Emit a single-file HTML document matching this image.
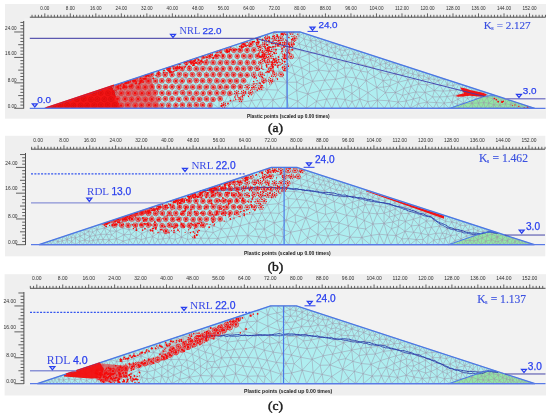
<!DOCTYPE html>
<html><head><meta charset="utf-8"><style>
html,body{margin:0;padding:0;background:#fff;}
svg{display:block;}
</style></head><body>
<svg width="550" height="416" viewBox="0 0 550 416">

<rect width="550" height="416" fill="#ffffff"/>
<rect x="5" y="4" width="541" height="114.7" fill="#efefef"/>
<rect x="24.2" y="18.2" width="521.8" height="92.1" fill="#f2f2f2"/>
<g font-family='"Liberation Sans", "DejaVu Sans", sans-serif' font-size="4.6" fill="#303030"><line x1="29.8" y1="17.2" x2="545.5" y2="17.2" stroke="#505050" stroke-width="1"/><path d="M32.04 17.2v-2.4 M35.23 17.2v-2.4 M38.42 17.2v-2.4 M41.61 17.2v-2.4 M44.8 17.2v-3.8 M47.99 17.2v-2.4 M51.18 17.2v-2.4 M54.37 17.2v-2.4 M57.56 17.2v-2.4 M60.74 17.2v-2.4 M63.93 17.2v-2.4 M67.12 17.2v-2.4 M70.31 17.2v-3.8 M73.5 17.2v-2.4 M76.69 17.2v-2.4 M79.88 17.2v-2.4 M83.07 17.2v-2.4 M86.26 17.2v-2.4 M89.45 17.2v-2.4 M92.63 17.2v-2.4 M95.82 17.2v-3.8 M99.01 17.2v-2.4 M102.2 17.2v-2.4 M105.39 17.2v-2.4 M108.58 17.2v-2.4 M111.77 17.2v-2.4 M114.96 17.2v-2.4 M118.15 17.2v-2.4 M121.34 17.2v-3.8 M124.52 17.2v-2.4 M127.71 17.2v-2.4 M130.9 17.2v-2.4 M134.09 17.2v-2.4 M137.28 17.2v-2.4 M140.47 17.2v-2.4 M143.66 17.2v-2.4 M146.85 17.2v-3.8 M150.04 17.2v-2.4 M153.23 17.2v-2.4 M156.42 17.2v-2.4 M159.6 17.2v-2.4 M162.79 17.2v-2.4 M165.98 17.2v-2.4 M169.17 17.2v-2.4 M172.36 17.2v-3.8 M175.55 17.2v-2.4 M178.74 17.2v-2.4 M181.93 17.2v-2.4 M185.12 17.2v-2.4 M188.31 17.2v-2.4 M191.49 17.2v-2.4 M194.68 17.2v-2.4 M197.87 17.2v-3.8 M201.06 17.2v-2.4 M204.25 17.2v-2.4 M207.44 17.2v-2.4 M210.63 17.2v-2.4 M213.82 17.2v-2.4 M217.01 17.2v-2.4 M220.19 17.2v-2.4 M223.38 17.2v-3.8 M226.57 17.2v-2.4 M229.76 17.2v-2.4 M232.95 17.2v-2.4 M236.14 17.2v-2.4 M239.33 17.2v-2.4 M242.52 17.2v-2.4 M245.71 17.2v-2.4 M248.9 17.2v-3.8 M252.08 17.2v-2.4 M255.27 17.2v-2.4 M258.46 17.2v-2.4 M261.65 17.2v-2.4 M264.84 17.2v-2.4 M268.03 17.2v-2.4 M271.22 17.2v-2.4 M274.41 17.2v-3.8 M277.6 17.2v-2.4 M280.79 17.2v-2.4 M283.98 17.2v-2.4 M287.16 17.2v-2.4 M290.35 17.2v-2.4 M293.54 17.2v-2.4 M296.73 17.2v-2.4 M299.92 17.2v-3.8 M303.11 17.2v-2.4 M306.3 17.2v-2.4 M309.49 17.2v-2.4 M312.68 17.2v-2.4 M315.87 17.2v-2.4 M319.05 17.2v-2.4 M322.24 17.2v-2.4 M325.43 17.2v-3.8 M328.62 17.2v-2.4 M331.81 17.2v-2.4 M335 17.2v-2.4 M338.19 17.2v-2.4 M341.38 17.2v-2.4 M344.57 17.2v-2.4 M347.75 17.2v-2.4 M350.94 17.2v-3.8 M354.13 17.2v-2.4 M357.32 17.2v-2.4 M360.51 17.2v-2.4 M363.7 17.2v-2.4 M366.89 17.2v-2.4 M370.08 17.2v-2.4 M373.27 17.2v-2.4 M376.46 17.2v-3.8 M379.65 17.2v-2.4 M382.83 17.2v-2.4 M386.02 17.2v-2.4 M389.21 17.2v-2.4 M392.4 17.2v-2.4 M395.59 17.2v-2.4 M398.78 17.2v-2.4 M401.97 17.2v-3.8 M405.16 17.2v-2.4 M408.35 17.2v-2.4 M411.54 17.2v-2.4 M414.72 17.2v-2.4 M417.91 17.2v-2.4 M421.1 17.2v-2.4 M424.29 17.2v-2.4 M427.48 17.2v-3.8 M430.67 17.2v-2.4 M433.86 17.2v-2.4 M437.05 17.2v-2.4 M440.24 17.2v-2.4 M443.43 17.2v-2.4 M446.61 17.2v-2.4 M449.8 17.2v-2.4 M452.99 17.2v-3.8 M456.18 17.2v-2.4 M459.37 17.2v-2.4 M462.56 17.2v-2.4 M465.75 17.2v-2.4 M468.94 17.2v-2.4 M472.13 17.2v-2.4 M475.31 17.2v-2.4 M478.5 17.2v-3.8 M481.69 17.2v-2.4 M484.88 17.2v-2.4 M488.07 17.2v-2.4 M491.26 17.2v-2.4 M494.45 17.2v-2.4 M497.64 17.2v-2.4 M500.83 17.2v-2.4 M504.02 17.2v-3.8 M507.21 17.2v-2.4 M510.39 17.2v-2.4 M513.58 17.2v-2.4 M516.77 17.2v-2.4 M519.96 17.2v-2.4 M523.15 17.2v-2.4 M526.34 17.2v-2.4 M529.53 17.2v-3.8 M532.72 17.2v-2.4 M535.91 17.2v-2.4 M539.1 17.2v-2.4 M542.28 17.2v-2.4 M545.47 17.2v-2.4" stroke="#505050" stroke-width="0.9" fill="none"/><text x="44.8" y="10.3" text-anchor="middle">0.00</text><text x="70.31" y="10.3" text-anchor="middle">8.00</text><text x="95.82" y="10.3" text-anchor="middle">16.00</text><text x="121.34" y="10.3" text-anchor="middle">24.00</text><text x="146.85" y="10.3" text-anchor="middle">32.00</text><text x="172.36" y="10.3" text-anchor="middle">40.00</text><text x="197.87" y="10.3" text-anchor="middle">48.00</text><text x="223.38" y="10.3" text-anchor="middle">56.00</text><text x="248.9" y="10.3" text-anchor="middle">64.00</text><text x="274.41" y="10.3" text-anchor="middle">72.00</text><text x="299.92" y="10.3" text-anchor="middle">80.00</text><text x="325.43" y="10.3" text-anchor="middle">88.00</text><text x="350.94" y="10.3" text-anchor="middle">96.00</text><text x="376.46" y="10.3" text-anchor="middle">104.00</text><text x="401.97" y="10.3" text-anchor="middle">112.00</text><text x="427.48" y="10.3" text-anchor="middle">120.00</text><text x="452.99" y="10.3" text-anchor="middle">128.00</text><text x="478.5" y="10.3" text-anchor="middle">136.00</text><text x="504.02" y="10.3" text-anchor="middle">144.00</text><text x="529.53" y="10.3" text-anchor="middle">152.00</text><line x1="23.7" y1="21" x2="23.7" y2="108.6" stroke="#505050" stroke-width="1"/><path d="M23.7 108.3h-9.5 M23.7 105.12h-3.3 M23.7 101.94h-3.3 M23.7 98.76h-3.3 M23.7 95.58h-5.5 M23.7 92.4h-3.3 M23.7 89.22h-3.3 M23.7 86.04h-3.3 M23.7 82.86h-9.5 M23.7 79.68h-3.3 M23.7 76.5h-3.3 M23.7 73.32h-3.3 M23.7 70.14h-5.5 M23.7 66.96h-3.3 M23.7 63.78h-3.3 M23.7 60.6h-3.3 M23.7 57.42h-9.5 M23.7 54.24h-3.3 M23.7 51.06h-3.3 M23.7 47.88h-3.3 M23.7 44.7h-5.5 M23.7 41.52h-3.3 M23.7 38.34h-3.3 M23.7 35.16h-3.3 M23.7 31.98h-9.5 M23.7 28.8h-3.3 M23.7 25.62h-3.3 M23.7 22.44h-3.3" stroke="#505050" stroke-width="0.9" fill="none"/><text x="16.6" y="107.66" text-anchor="end">0.00</text><text x="16.6" y="82.26" text-anchor="end">8.00</text><text x="16.6" y="54.86" text-anchor="end">16.00</text><text x="16.6" y="29.86" text-anchor="end">24.00</text></g>
<text x="288.4" y="117.6" font-family='"Liberation Sans", "DejaVu Sans", sans-serif' font-weight="bold" font-size="4.82" fill="#202020" text-anchor="middle">Plastic points (scaled up 0.00 times)</text>
<text x="275.5" y="132" font-family='"Liberation Serif", "DejaVu Serif", serif' font-size="13.5" fill="#1a1a1a" stroke="#1a1a1a" stroke-width="0.45" text-anchor="middle">(a)</text>
<clipPath id="dama"><polygon points="44.7,108.3 274.38,31.98 299.9,31.98 534.68,108.3"/></clipPath>
<polygon points="44.7,108.3 274.38,31.98 299.9,31.98 534.68,108.3" fill="#aeeef0"/>
<polygon points="449.83,108.3 484.28,96.38 489.7,95.74 495.77,95.83 534.68,108.3" fill="#92e6a6"/>
<path d="M95.1 100.1L98.8 104.5M119.4 101.8L119.7 94.5M68.6 100.4L71.9 99.3M222.2 49.3L229.0 47.1M168.1 108.3L169.9 101.8M198.5 69.3L202.5 62.7M229.0 47.1L236.0 44.7M447.3 84.9L443.1 91.1M372.2 55.5L375.8 56.6M287.3 43.8L292.7 49.4M375.8 56.6L379.4 57.8M491.4 94.2L495.0 95.4M380.2 64.5L380.3 72.2M495.0 95.4L498.7 96.6M241.8 75.7L234.7 79.9M310.7 40.7L316.1 45.4M174.0 108.3L176.6 99.0M186.1 108.3L181.7 103.5M325.2 40.2L320.5 42.4M463.6 108.3L458.9 108.3M236.8 94.1L241.4 102.1M197.2 88.4L193.9 78.9M47.5 107.4L48.7 108.3M273.0 99.9L267.0 89.6M233.5 108.3L226.2 108.3M214.2 76.6L219.1 81.6M282.7 50.0L273.2 48.4M413.3 99.0L406.2 101.0M180.0 108.3L181.7 103.5M332.3 65.2L329.1 71.4M373.1 67.6L367.7 72.2M64.7 108.3L61.3 108.3M299.0 58.1L309.6 63.3M210.3 93.6L210.4 84.1M483.8 102.6L478.6 103.0M402.7 75.0L404.8 70.3M61.3 108.3L58.1 108.3M109.4 86.8L107.4 92.4M215.9 57.2L222.5 60.8M406.2 101.0L398.1 102.0M359.8 99.0L359.2 87.9M337.7 70.6L335.5 79.4M273.0 99.9L277.9 90.1M408.1 72.7L404.8 70.3M106.3 103.4L109.8 98.0M282.7 50.0L287.4 57.6M411.9 68.4L412.9 74.0M303.2 77.2L309.5 71.8M304.1 39.1L306.0 46.1M344.8 50.5L339.8 49.9M375.6 61.4L380.2 64.5M463.6 103.4L463.0 96.4M307.9 94.0L296.6 90.6M274.4 32.0L280.0 40.5M363.0 57.7L358.2 63.4M346.0 61.5L344.1 67.9M131.6 79.4L132.7 84.0M407.9 79.9L403.9 88.4M335.5 47.2L334.8 53.4M515.6 102.1L518.7 103.1M156.8 90.9L158.8 100.1M433.4 108.3L427.9 108.3M192.4 108.3L186.1 108.3M389.3 65.3L385.7 63.4M306.0 46.1L309.0 53.9M186.1 108.3L180.0 108.3M78.7 97.0L78.3 100.8M236.8 94.1L240.1 85.8M210.4 84.1L216.5 89.1M370.5 108.3L367.9 101.6M515.6 102.1L514.1 108.3M151.5 103.4L158.8 100.1M510.8 104.6L505.5 103.8M352.1 101.5L345.1 99.5M209.3 61.9L216.4 64.5M370.4 59.9L373.1 67.6M330.3 58.5L325.4 63.3M246.2 57.7L253.3 53.9M418.5 83.9L411.0 86.5M221.6 71.4L228.6 65.1M458.9 83.7L456.1 89.9M354.0 53.8L348.0 55.0M452.0 102.1L447.1 96.6M312.7 81.3L324.7 80.2M75.3 98.1L78.7 97.0M250.5 39.9L256.2 46.6M243.2 42.4L250.5 39.9M354.0 53.8L352.3 59.9M383.0 59.0L386.6 60.2M439.8 96.9L447.1 96.6M338.2 62.1L344.1 67.9M170.5 80.5L176.2 82.4M334.8 53.4L330.3 58.5M326.7 44.9L320.5 42.4M165.2 87.4L170.5 80.5M298.2 32.0L298.8 36.2M298.8 36.2L299.2 43.9M391.6 69.0L385.6 68.5M325.4 63.3L332.3 65.2M121.0 108.3L119.4 101.8M376.7 87.4L383.5 87.1M236.8 94.1L245.8 93.3M361.3 52.0L358.6 54.6M427.1 102.1L418.3 103.7M136.5 88.2L132.7 84.0M190.2 59.9L189.9 70.5M410.3 108.3L406.2 101.0M461.9 89.6L456.1 89.9M146.1 74.6L146.1 80.9M375.8 56.6L370.4 59.9M100.7 99.2L101.4 94.2M316.6 101.2L326.5 99.1M97.2 90.9L101.2 89.5M380.2 64.5L385.6 68.5M125.5 104.5L125.5 98.0M252.5 75.9L260.9 75.7M325.4 63.3L317.5 59.6M343.3 46.1L339.8 49.9M281.8 32.0L288.1 32.0M342.7 88.7L335.5 79.4M316.1 45.4L311.8 47.7M288.1 32.0L293.5 32.0M117.9 84.0L114.4 90.3M404.7 66.0L408.3 67.2M408.3 67.2L411.9 68.4M170.3 94.2L176.6 99.0M363.0 57.7L358.6 54.6M521.7 104.1L524.6 105.0M169.9 101.8L170.3 94.2M272.0 38.9L264.8 43.9M264.2 108.3L273.0 99.9M524.6 105.0L527.5 106.0M351.7 68.2L345.8 76.8M280.6 108.3L272.3 108.3M318.0 37.9L320.5 42.4M241.8 75.7L240.1 85.8M216.4 64.5L212.4 69.8M416.3 108.3L410.3 108.3M86.6 108.3L82.7 108.3M174.0 108.3L168.1 108.3M184.6 95.5L188.8 87.1M74.7 103.7L69.2 104.3M467.6 92.3L472.7 91.5M266.2 80.4L267.0 89.6M101.2 89.5L107.4 92.4M388.9 100.8L377.5 100.1M318.7 70.0L324.7 80.2M107.4 92.4L101.4 94.2M107.3 108.3L106.3 103.4M299.0 58.1L301.5 67.9M485.2 108.3L483.8 102.6M75.3 108.3L79.2 104.7M461.9 89.6L463.0 96.4M331.1 89.2L324.7 80.2M106.3 103.4L113.1 102.9M132.0 90.8L132.7 84.0M151.5 85.2L156.8 90.9M314.4 36.7L315.7 40.6M173.8 86.9L170.3 94.2M416.3 108.3L418.3 103.7M125.5 98.0L123.8 92.3M107.4 92.4L114.4 90.3M370.4 59.9L375.6 61.4M216.5 89.1L219.0 97.0M385.6 68.5L387.8 74.3M414.1 79.1L411.0 86.5M136.3 77.9L139.9 83.3M216.4 64.5L215.9 57.2M222.2 49.3L215.9 57.2M162.4 108.3L158.8 100.1M192.8 95.8L201.8 98.7M476.6 94.2L472.7 91.5M207.1 75.1L210.4 84.1M232.0 86.8L236.8 94.1M363.2 108.3L359.8 99.0M178.2 77.2L171.6 72.8M201.8 80.9L204.1 89.3M237.5 63.9L238.5 51.6M274.5 81.0L286.5 82.3M130.6 108.3L125.5 104.5M286.5 82.3L296.7 82.2M351.5 84.9L345.8 76.8M263.0 56.4L264.8 43.9M472.1 96.5L472.0 103.2M105.2 88.2L109.4 86.8M293.2 40.6L287.4 37.0M331.3 48.0L335.5 47.2M255.5 91.8L267.0 89.6M355.9 78.0L351.5 84.9M480.6 90.7L484.2 91.9M141.1 99.8L145.8 101.3M415.5 69.6L419.2 70.7M321.8 48.5L323.4 55.5M481.1 108.3L476.9 108.3M530.2 106.9L532.9 107.7M264.2 108.3L256.2 108.3M151.7 79.1L157.7 83.5M515.6 102.1L517.3 108.3M404.1 108.3L397.8 108.3M363.2 108.3L367.9 101.6M201.8 98.7L204.1 89.3M310.7 40.7L311.8 47.7M205.9 68.0L209.3 61.9M79.0 108.3L75.3 108.3M420.0 97.4L413.3 99.0M247.9 67.0L246.2 57.7M518.7 103.1L517.3 108.3M109.8 98.0L111.7 94.5M311.8 47.7L309.0 53.9M398.1 102.0L388.9 100.8M483.8 102.6L487.3 97.1M387.8 74.3L391.1 79.6M198.9 108.3L201.8 98.7M256.2 46.6L264.8 43.9M476.9 108.3L478.6 103.0M367.7 72.2L366.1 80.6M98.8 104.5L92.7 104.4M136.3 77.9L141.2 76.2M258.0 37.4L256.2 46.6M136.4 101.8L137.6 94.3M423.8 76.0L423.0 80.0M509.1 100.0L505.5 103.8M354.1 49.6L354.0 53.8M146.1 80.9L151.7 79.1M491.4 94.2L493.3 98.9M301.5 67.9L309.5 71.8M193.9 78.9L189.9 70.5M337.7 70.6L345.8 76.8M56.1 104.5L54.9 108.3M277.9 90.1L267.0 89.6M173.8 86.9L176.2 82.4M326.7 44.9L327.9 51.4M400.9 69.7L395.7 74.0M280.6 108.3L273.0 99.9M375.8 56.6L375.6 61.4M100.7 99.2L105.2 97.5M418.5 83.9L424.9 92.4M348.0 108.3L345.1 99.5M299.9 32.0L298.8 36.2M212.2 108.3L205.5 108.3M404.7 66.0L400.9 69.7M54.9 108.3L51.7 108.3M210.4 84.1L214.2 76.6M125.7 108.3L121.0 108.3M437.2 76.6L434.1 79.4M210.3 93.6L219.0 97.0M481.2 96.9L476.1 98.9M491.4 94.2L487.3 97.1M89.6 93.4L91.7 96.1M418.5 83.9L423.0 80.0M161.7 69.4L164.1 74.5M496.8 108.3L499.9 105.2M390.2 61.3L389.3 65.3M352.3 59.9L346.0 61.5M363.0 57.7L365.3 65.3M395.4 92.5L385.4 92.7M456.1 89.9L450.0 90.7M255.5 91.8L258.5 83.2M62.2 102.5L65.3 101.4M370.5 108.3L377.5 100.1M82.7 108.3L79.2 104.7M215.5 51.5L222.2 49.3M145.9 108.3L151.5 103.4M368.6 54.3L372.2 55.5M287.3 43.8L282.7 50.0M452.0 102.1L444.2 103.1M398.3 82.2L395.4 92.5M136.4 101.8L141.1 99.8M107.4 92.4L105.2 97.5M178.5 63.9L182.9 71.1M276.5 59.7L283.8 64.6M298.8 36.2L293.2 40.6M280.0 40.5L282.7 50.0M229.7 56.4L237.5 63.9M209.0 53.7L215.9 57.2M395.4 92.5L388.9 100.8M380.3 72.2L383.1 80.7M131.7 97.0L130.9 103.0M228.6 65.1L237.5 63.9M215.5 51.5L215.9 57.2M345.8 76.8L342.7 88.7M268.5 70.4L274.5 81.0M82.2 95.8L85.9 94.6M207.1 75.1L212.4 69.8M481.1 108.3L483.8 102.6M85.9 94.6L89.6 93.4M178.2 77.2L176.2 82.4M258.0 37.4L265.6 34.9M361.3 52.0L363.0 57.7M265.6 34.9L273.4 32.3M286.8 71.2L283.8 64.6M390.2 61.3L393.9 62.5M318.0 37.9L315.7 40.6M393.9 62.5L397.5 63.7M410.3 108.3L418.3 103.7M377.5 100.1L368.0 92.6M101.4 94.2L105.2 97.5M512.4 101.0L515.6 102.1M316.8 51.9L309.0 53.9M101.4 94.2L96.6 95.5M438.8 108.3L433.4 108.3M318.7 70.0L329.1 71.4M484.2 91.9L481.2 96.9M198.9 108.3L192.4 108.3M181.1 84.7L186.3 78.1M389.6 86.0L385.4 92.7M427.1 102.1L420.0 97.4M514.1 108.3L510.8 104.6M165.3 98.5L164.8 103.3M197.2 88.4L201.8 98.7M48.7 108.3L45.7 108.3M330.3 58.5L323.4 55.5M237.5 63.9L247.9 67.0M433.4 108.3L427.1 102.1M214.2 76.6L221.6 71.4M434.1 79.4L428.7 78.7M293.2 40.6L299.2 43.9M216.4 64.5L222.5 60.8M222.2 49.3L222.5 60.8M397.5 63.7L396.8 67.4M303.5 85.3L296.6 90.6M126.4 87.4L132.0 90.8M306.4 108.3L316.6 101.2M287.3 43.8L280.0 40.5M348.0 55.0L346.0 61.5M62.2 102.5L64.7 108.3M472.1 96.5L476.1 98.9M162.4 108.3L156.8 108.3M182.9 71.1L185.4 65.7M438.4 80.7L433.6 83.8M202.6 55.8L209.3 61.9M188.8 87.1L197.2 88.4M463.0 96.4L467.6 98.5M189.9 70.5L198.5 69.3M385.4 92.7L377.5 100.1M247.9 67.0L252.5 75.9M518.7 103.1L520.4 108.3M351.7 68.2L355.9 78.0M241.8 75.7L247.9 67.0M210.3 93.6L211.2 102.4M339.8 49.9L334.8 53.4M198.9 108.3L194.9 102.7M484.2 91.9L487.3 97.1M87.6 105.0L89.4 100.2M156.8 90.9L151.2 96.3M132.0 90.8L131.7 97.0M504.0 108.3L499.9 105.2M400.9 69.7L402.7 75.0M89.6 93.4L93.3 92.1M509.1 100.0L510.8 104.6M304.1 39.1L299.2 43.9M384.5 108.3L377.5 100.1M247.9 67.0L257.8 67.7M257.8 67.7L268.5 70.4M93.3 92.1L97.2 90.9M273.4 32.3L274.4 32.0M505.5 103.8L501.5 100.8M357.7 50.8L354.0 53.8M286.3 97.2L297.7 101.1M274.4 32.0L281.8 32.0M397.5 63.7L401.1 64.9M125.5 98.0L127.7 93.2M401.1 64.9L404.7 66.0M495.0 95.4L493.3 98.9M151.5 103.4L151.2 96.3M366.1 80.6L359.2 87.9M426.9 85.1L434.3 90.5M316.8 51.9L317.5 59.6M518.7 103.1L521.7 104.1M59.1 103.5L58.1 108.3M315.7 40.6L316.1 45.4M71.9 99.3L74.7 103.7M427.9 108.3L422.2 108.3M402.7 75.0L407.9 79.9M408.6 93.6L411.0 86.5M157.4 77.2L164.1 74.5M458.1 99.3L452.0 102.1M95.1 100.1L96.6 95.5M341.8 55.6L338.2 62.1M178.2 77.2L186.3 78.1M408.1 72.7L407.9 79.9M458.9 108.3L457.3 104.2M180.0 108.3L174.0 108.3M468.2 108.3L463.6 103.4M286.5 82.3L286.3 97.2M93.3 92.1L91.7 96.1M247.9 67.0L253.5 60.6M167.2 67.6L164.1 74.5M393.9 62.5L389.3 65.3M260.9 75.7L266.2 80.4M327.9 51.4L330.3 58.5M328.8 41.4L326.7 44.9M117.9 84.0L122.4 82.5M82.7 108.3L83.1 100.8M344.1 67.9L337.7 70.6M303.5 33.2L307.1 34.3M391.1 79.6L383.1 80.7M412.9 74.0L407.9 79.9M303.2 77.2L294.4 74.2M123.8 92.3L127.7 93.2M358.2 63.4L357.1 58.0M422.8 71.9L426.4 73.1M314.4 36.7L310.7 40.7M426.4 73.1L430.0 74.3M439.8 96.9L434.3 90.5M534.7 108.3L532.0 108.3M178.4 91.7L181.1 84.7M165.2 87.4L173.8 86.9M532.0 108.3L529.2 108.3M391.2 108.3L384.5 108.3M334.8 53.4L338.2 62.1M384.5 108.3L377.6 108.3M456.1 89.9L453.7 95.5M145.9 108.3L140.7 108.3M368.0 92.6L359.8 99.0M224.8 101.9L228.2 94.9M231.9 72.5L227.3 79.7M341.8 55.6L346.0 61.5M210.4 84.1L219.1 81.6M256.2 108.3L261.3 99.5M472.0 103.2L467.6 98.5M252.5 75.9L257.8 67.7M338.2 62.1L332.3 65.2M364.9 53.1L363.0 57.7M323.6 108.3L316.6 101.2M472.0 103.2L463.6 103.4M436.4 102.6L439.8 96.9M82.7 108.3L87.6 105.0M281.8 32.0L287.4 37.0M330.3 58.5L338.2 62.1M126.4 87.4L132.7 84.0M391.2 108.3L398.1 102.0M272.0 38.9L273.2 48.4M458.9 83.7L453.2 85.6M168.1 108.3L164.8 103.3M346.0 61.5L351.7 68.2M450.0 90.7L443.1 91.1M190.2 59.9L185.4 65.7M436.4 102.6L427.1 102.1M467.6 92.3L463.0 96.4M510.8 108.3L510.8 104.6M193.9 78.9L198.5 69.3M507.5 108.3L505.5 103.8M228.2 94.9L223.8 88.1M344.8 50.5L341.8 55.6M253.5 60.6L257.8 67.7M422.2 108.3L427.1 102.1M401.1 64.9L396.8 67.4M467.6 92.3L472.1 96.5M301.1 50.4L292.7 49.4M268.5 70.4L276.5 59.7M277.9 90.1L286.5 82.3M412.9 74.0L414.1 79.1M418.7 75.5L423.0 80.0M126.9 81.0L131.6 79.4M488.8 103.1L487.3 97.1M331.1 89.2L326.5 99.1M131.6 79.4L136.3 77.9M310.7 35.5L314.4 36.7M286.8 71.2L294.4 74.2M131.7 97.0L136.4 101.8M314.4 36.7L318.0 37.9M430.0 74.3L433.6 75.4M342.7 88.7L331.1 89.2M158.8 100.1L165.3 98.5M172.8 65.7L176.8 70.3M412.9 74.0L408.1 72.7M433.6 75.4L437.2 76.6M498.7 96.6L501.5 100.8M458.9 108.3L454.1 108.3M188.8 87.1L192.8 95.8M526.4 108.3L523.4 108.3M170.3 94.2L178.4 91.7M169.9 101.8L176.6 99.0M209.0 53.7L209.3 61.9M226.2 108.3L219.1 108.3M243.2 42.4L247.9 48.6M370.5 108.3L363.2 108.3M94.6 108.3L92.7 104.4M380.3 72.2L374.2 76.8M173.8 86.9L181.1 84.7M135.6 108.3L130.6 108.3M487.8 93.1L487.3 97.1M238.5 51.6L247.9 48.6M249.0 84.5L252.5 75.9M402.5 95.4L403.9 88.4M85.9 94.6L91.7 96.1M97.2 90.9L101.4 94.2M156.4 71.2L164.1 74.5M476.6 94.2L472.1 96.5M273.2 48.4L276.5 59.7M263.0 56.4L273.2 48.4M365.3 65.3L360.7 71.1M391.6 69.0L387.8 74.3M95.1 100.1L91.7 96.1M512.4 101.0L510.8 104.6M363.0 57.7L357.1 58.0M377.6 108.3L377.5 100.1M144.7 93.8L145.8 101.3M336.0 43.7L339.7 44.9M157.7 83.5L157.4 77.2M448.1 80.1L447.3 84.9M306.4 108.3L307.9 94.0M413.3 99.0L415.8 91.9M59.1 103.5L61.3 108.3M374.2 76.8L366.1 80.6M151.5 85.2L157.7 83.5M504.0 108.3L500.5 108.3M418.3 103.7L413.3 99.0M50.3 106.5L51.7 108.3M315.0 108.3L306.4 108.3M402.5 95.4L398.1 102.0M209.3 61.9L212.4 69.8M188.8 87.1L193.9 78.9M497.4 101.3L493.3 98.9M103.0 108.3L98.7 108.3M489.2 108.3L488.8 103.1M114.4 90.3L120.7 88.4M463.6 108.3L463.6 103.4M205.5 108.3L201.8 98.7M196.3 57.9L202.5 62.7M241.8 75.7L249.0 84.5M210.3 93.6L216.5 89.1M231.9 72.5L237.5 63.9M325.4 63.3L329.1 71.4M234.7 79.9L240.1 85.8M332.4 42.6L326.7 44.9M335.5 79.4L331.1 89.2M368.6 54.3L370.4 59.9M117.9 84.0L120.7 88.4M266.2 80.4L274.5 81.0M344.8 50.5L348.0 55.0M466.1 86.0L467.6 92.3M287.4 37.0L280.0 40.5M505.5 103.8L499.9 105.2M386.6 60.2L390.2 61.3M109.4 86.8L114.4 90.3M156.8 90.9L157.7 83.5M178.2 77.2L181.1 84.7M157.7 83.5L163.1 81.0M505.7 98.9L509.1 100.0M451.7 81.3L453.2 85.6M433.4 108.3L436.4 102.6M478.6 103.0L472.0 103.2M449.1 108.3L444.0 108.3M165.3 98.5L163.1 94.1M433.6 75.4L434.1 79.4M178.5 63.9L185.4 65.7M444.2 103.1L447.1 96.6M116.3 108.3L119.4 101.8M406.2 101.0L402.5 95.4M232.0 86.8L227.3 79.7M151.7 79.1L157.4 77.2M209.3 61.9L215.9 57.2M158.8 100.1L164.8 103.3M420.0 97.4L415.8 91.9M144.7 93.8L145.7 87.0M345.1 99.5L336.2 98.5M101.2 89.5L105.2 88.2M368.0 92.6L359.2 87.9M393.9 62.5L396.8 67.4M231.9 72.5L241.8 75.7M453.7 95.5L447.1 96.6M493.3 98.9L487.3 97.1M312.7 81.3L309.5 71.8M389.6 86.0L383.5 87.1M273.0 99.9L286.3 97.2M288.1 32.0L287.4 37.0M411.9 68.4L415.5 69.6M258.0 37.4L264.8 43.9M221.6 71.4L212.4 69.8M170.5 80.5L164.1 74.5M527.5 106.0L530.2 106.9M198.5 69.3L201.8 80.9M176.8 70.3L182.9 71.1M236.0 44.7L238.5 51.6M326.7 44.9L331.3 48.0M389.3 65.3L385.6 68.5M453.2 85.6L450.0 90.7M211.2 102.4L219.0 97.0M410.3 108.3L404.1 108.3M165.2 87.4L163.1 94.1M301.5 67.9L294.4 74.2M168.1 108.3L162.4 108.3M507.5 108.3L510.8 104.6M398.3 82.2L391.1 79.6M468.2 108.3L472.0 103.2M297.8 108.3L289.2 108.3M311.8 47.7L316.8 51.9M221.6 71.4L231.9 72.5M185.4 65.7L189.9 70.5M390.2 61.3L385.7 63.4M94.6 108.3L90.5 108.3M454.1 108.3L452.0 102.1M251.5 100.5L241.4 102.1M232.0 101.5L236.8 94.1M198.5 69.3L205.9 68.0M123.8 92.3L120.7 88.4M289.2 108.3L286.3 97.2M184.6 95.5L183.5 89.7M100.7 99.2L106.3 103.4M68.1 108.3L69.2 104.3M279.1 71.4L286.5 82.3M352.3 59.9L358.2 63.4M306.0 46.1L299.2 43.9M352.0 93.4L352.1 101.5M219.1 81.6L227.3 79.7M352.3 59.9L357.1 58.0M453.7 95.5L452.0 102.1M240.9 108.3L241.4 102.1M111.8 108.3L113.1 102.9M329.1 71.4L324.7 80.2M165.2 87.4L163.1 81.0M345.8 76.8L335.5 79.4M301.5 67.9L303.2 77.2M502.2 97.8L501.5 100.8M444.5 79.0L447.3 84.9M391.6 69.0L395.7 74.0M476.6 94.2L476.1 98.9M97.2 90.9L96.6 95.5M418.7 75.5L414.1 79.1M141.2 76.2L139.9 83.3M360.7 71.1L366.1 80.6M90.5 108.3L92.7 104.4M75.3 98.1L78.3 100.8M156.8 108.3L158.8 100.1M74.7 103.7L79.2 104.7M352.0 93.4L359.2 87.9M114.4 90.3L114.7 97.0M95.1 100.1L100.7 99.2M101.2 89.5L101.4 94.2M318.7 70.0L309.5 71.8M89.4 100.2L92.7 104.4M395.4 92.5L389.6 86.0M276.5 59.7L279.1 71.4M109.4 86.8L113.6 85.4M83.1 100.8L89.4 100.2M125.5 98.0L130.9 103.0M287.4 57.6L283.8 64.6M113.6 85.4L117.9 84.0M444.0 108.3L444.2 103.1M298.2 32.0L299.9 32.0M473.4 88.4L472.7 91.5M451.7 81.3L447.3 84.9M299.9 32.0L303.5 33.2M245.8 93.3L251.5 100.5M62.2 102.5L61.3 108.3M419.2 70.7L422.8 71.9M407.9 79.9L398.3 82.2M532.9 107.7L534.7 108.3M355.9 78.0L345.8 76.8M144.7 93.8L150.1 90.4M151.2 72.9L157.4 77.2M397.8 108.3L391.2 108.3M293.5 32.0L298.8 36.2M53.1 105.5L51.7 108.3M229.7 56.4L228.6 65.1M376.7 87.4L366.1 80.6M466.1 86.0L461.9 89.6M395.7 74.0L387.8 74.3M214.2 76.6L212.4 69.8M156.8 108.3L151.3 108.3M318.7 70.0L312.7 81.3M273.4 32.3L272.0 38.9M458.9 108.3L463.6 103.4M440.8 77.8L438.4 80.7M151.3 108.3L145.9 108.3M83.1 100.8L79.2 104.7M181.1 84.7L188.8 87.1M357.7 50.8L358.6 54.6M253.5 60.6L253.3 53.9M238.5 51.6L246.2 57.7M367.9 101.6L359.8 99.0M320.0 90.6L316.6 101.2M291.9 65.1L286.8 71.2M316.8 51.9L323.4 55.5M126.9 81.0L126.4 87.4M336.2 98.5L331.1 89.2M469.8 87.2L467.6 92.3M321.6 39.0L325.2 40.2M107.4 92.4L109.8 98.0M222.2 49.3L229.7 56.4M408.6 93.6L403.9 88.4M396.8 67.4L395.7 74.0M440.8 77.8L444.5 79.0M463.0 96.4L458.1 99.3M157.7 83.5L165.2 87.4M335.5 79.4L324.7 80.2M498.7 96.6L497.4 101.3M113.6 85.4L114.4 90.3M291.9 65.1L283.8 64.6M156.8 108.3L151.5 103.4M520.4 108.3L517.3 108.3M132.0 90.8L137.6 94.3M443.1 91.1L439.8 96.9M455.3 82.5L453.2 85.6M100.7 99.2L96.6 95.5M355.7 108.3L348.0 108.3M150.1 90.4L151.5 85.2M71.9 99.3L69.2 104.3M398.1 102.0L395.4 92.5M186.3 78.1L188.8 87.1M339.8 49.9L335.5 47.2M348.0 108.3L340.1 108.3M530.2 106.9L529.2 108.3M91.7 96.1L96.6 95.5M184.3 61.9L185.4 65.7M447.3 84.9L440.2 85.4M121.0 108.3L116.3 108.3M476.9 108.3L472.0 103.2M119.7 94.5L114.7 97.0M320.5 42.4L321.8 48.5M309.0 53.9L299.0 58.1M478.6 103.0L476.1 98.9M286.5 82.3L286.8 71.2M351.5 84.9L352.0 93.4M489.2 108.3L494.0 104.7M139.9 83.3L145.7 87.0M452.0 102.1L457.3 104.2M303.5 85.3L307.9 94.0M393.9 62.5L391.6 69.0M337.7 70.6L329.1 71.4M310.7 35.5L310.7 40.7M122.4 82.5L126.9 81.0M79.0 108.3L79.2 104.7M109.8 98.0L105.2 97.5M170.5 80.5L173.8 86.9M307.1 34.3L310.7 35.5M265.6 34.9L264.8 43.9M157.4 77.2L163.1 81.0M418.7 75.5L418.5 83.9M422.2 108.3L418.3 103.7M151.7 79.1L151.5 85.2M116.3 108.3L113.1 102.9M178.2 77.2L176.8 70.3M182.9 71.1L186.3 78.1M420.0 97.4L418.3 103.7M443.1 91.1L434.3 90.5M136.4 101.8L130.9 103.0M188.8 102.3L192.8 95.8M493.3 98.9L488.8 103.1M463.6 103.4L467.6 98.5M293.2 40.6L292.7 49.4M201.8 98.7L211.2 102.4M280.6 108.3L286.3 97.2M261.3 99.5L267.0 89.6M274.5 81.0L279.1 71.4M125.5 104.5L130.9 103.0M151.2 72.9L156.4 71.2M325.4 63.3L318.7 70.0M323.4 55.5L317.5 59.6M188.8 102.3L194.9 102.7M216.5 89.1L223.8 88.1M156.4 71.2L161.7 69.4M233.5 108.3L241.4 102.1M427.1 102.1L424.9 92.4M328.8 41.4L332.4 42.6M297.8 108.3L297.7 101.1M253.3 53.9L263.0 56.4M422.8 71.9L418.7 75.5M332.4 42.6L336.0 43.7M448.1 80.1L451.7 81.3M365.3 65.3L358.2 63.4M114.4 90.3L119.7 94.5M111.7 94.5L114.7 97.0M433.6 83.8L426.9 85.1M451.7 81.3L455.3 82.5M514.1 108.3L510.8 108.3M456.1 89.9L458.6 94.2M169.9 101.8L164.8 103.3M510.8 108.3L507.5 108.3M340.1 108.3L331.9 108.3M136.5 88.2L141.0 89.1M78.7 97.0L83.1 100.8M150.1 90.4L145.7 87.0M178.4 91.7L184.6 95.5M358.6 54.6L357.1 58.0M331.9 108.3L323.6 108.3M261.3 99.5L251.5 100.5M280.0 40.5L273.2 48.4M111.8 108.3L107.3 108.3M221.6 71.4L222.5 60.8M427.9 108.3L427.1 102.1M338.2 62.1L337.7 70.6M312.7 81.3L320.0 90.6M277.9 90.1L286.3 97.2M190.2 59.9L198.5 69.3M481.1 108.3L478.6 103.0M145.9 108.3L145.8 101.3M366.1 80.6L368.0 92.6M438.8 108.3L444.2 103.1M261.3 99.5L273.0 99.9M370.4 59.9L365.3 65.3M477.0 89.5L472.7 91.5M252.5 75.9L258.5 83.2M505.7 98.9L505.5 103.8M136.5 88.2L139.9 83.3M287.4 57.6L276.5 59.7M472.0 103.2L476.1 98.9M463.0 96.4L458.6 94.2M489.2 108.3L485.2 108.3M432.6 96.9L427.1 102.1M404.7 66.0L404.8 70.3M53.1 105.5L54.9 108.3M156.4 71.2L157.4 77.2M194.9 102.7L201.8 98.7M348.0 108.3L352.1 101.5M426.9 85.1L424.9 92.4M327.9 51.4L334.8 53.4M186.3 78.1L193.9 78.9M274.4 32.0L272.0 38.9M401.1 64.9L400.9 69.7M82.7 108.3L79.0 108.3M158.8 100.1L163.1 94.1M377.5 100.1L376.7 87.4M119.4 101.8L114.7 97.0M488.8 103.1L494.0 104.7M346.9 47.3L344.8 50.5M258.5 83.2L267.0 89.6M426.9 85.1L423.0 80.0M500.5 108.3L499.9 105.2M161.7 69.4L167.2 67.6M299.0 58.1L291.9 65.1M229.0 47.1L229.7 56.4M167.2 67.6L172.8 65.7M151.3 108.3L151.5 103.4M339.7 44.9L343.3 46.1M307.1 34.3L310.7 40.7M373.1 67.6L374.2 76.8M395.7 74.0L391.1 79.6M530.2 106.9L532.0 108.3M458.9 83.7L462.5 84.8M422.2 108.3L416.3 108.3M75.3 98.1L74.7 103.7M50.3 106.5L48.7 108.3M292.7 49.4L282.7 50.0M472.6 108.3L472.0 103.2M209.3 61.9L202.5 62.7M174.0 108.3L181.7 103.5M282.7 50.0L276.5 59.7M521.7 104.1L523.4 108.3M400.9 69.7L404.8 70.3M388.9 100.8L385.4 92.7M228.2 94.9L232.0 101.5M303.5 85.3L303.2 77.2M188.8 102.3L181.7 103.5M83.1 100.8L87.6 105.0M370.4 59.9L363.0 57.7M207.1 75.1L214.2 76.6M335.5 79.4L329.1 71.4M320.0 90.6L307.9 94.0M56.1 104.5L59.1 103.5M201.8 80.9L210.4 84.1M331.1 89.2L320.0 90.6M281.8 32.0L280.0 40.5M202.6 55.8L209.0 53.7M135.6 108.3L130.9 103.0M383.1 80.7L376.7 87.4M286.5 82.3L296.6 90.6M263.0 56.4L276.5 59.7M136.3 77.9L132.7 84.0M248.5 108.3L241.4 102.1M95.1 100.1L92.7 104.4M119.4 101.8L125.5 104.5M361.3 52.0L364.9 53.1M299.0 58.1L287.4 57.6M176.6 99.0L181.7 103.5M90.5 108.3L87.6 105.0M291.9 65.1L294.4 74.2M306.4 108.3L297.7 101.1M404.1 108.3L398.1 102.0M309.0 53.9L317.5 59.6M443.1 91.1L447.1 96.6M377.6 108.3L370.5 108.3M145.8 101.3L151.2 96.3M274.5 81.0L267.0 89.6M476.9 108.3L472.6 108.3M140.7 108.3L135.6 108.3M440.2 85.4L443.1 91.1M317.5 59.6L318.7 70.0M173.8 86.9L178.4 91.7M310.7 40.7L306.0 46.1M256.2 108.3L248.5 108.3M232.0 86.8L223.8 88.1M480.6 90.7L481.2 96.9M447.3 84.9L450.0 90.7M415.8 91.9L411.0 86.5M137.6 94.3L141.0 89.1M494.0 104.7L499.9 105.2M222.5 60.8L229.7 56.4M75.3 108.3L71.7 108.3M85.9 94.6L89.4 100.2M205.9 68.0L212.4 69.8M274.5 81.0L277.9 90.1M497.4 101.3L494.0 104.7M241.8 75.7L252.5 75.9M297.7 101.1L296.6 90.6M469.8 87.2L472.7 91.5M289.2 108.3L297.7 101.1M438.4 80.7L440.2 85.4M414.1 79.1L407.9 79.9M472.1 96.5L467.6 98.5M368.6 54.3L363.0 57.7M293.5 32.0L298.2 32.0M320.5 42.4L316.1 45.4M380.2 64.5L373.1 67.6M293.5 32.0L293.2 40.6M286.5 82.3L294.4 74.2M439.8 96.9L432.6 96.9M245.8 93.3L241.4 102.1M458.1 99.3L453.7 95.5M163.1 81.0L170.5 80.5M82.2 95.8L83.1 100.8M201.8 98.7L210.3 93.6M408.3 67.2L408.1 72.7M379.4 57.8L380.2 64.5M227.3 79.7L223.8 88.1M395.7 74.0L402.7 75.0M265.6 34.9L272.0 38.9M260.9 75.7L257.8 67.7M231.9 72.5L228.6 65.1M450.0 90.7L447.1 96.6M493.3 98.9L494.0 104.7M463.6 103.4L457.3 104.2M312.7 81.3L303.5 85.3M98.8 104.5L100.7 99.2M256.2 108.3L251.5 100.5M196.3 57.9L198.5 69.3M299.2 43.9L292.7 49.4M330.3 58.5L332.3 65.2M140.7 108.3L145.8 101.3M350.5 48.4L354.0 53.8M219.1 81.6L223.8 88.1M132.0 90.8L127.7 93.2M164.1 74.5L171.6 72.8M260.9 75.7L268.5 70.4M318.0 37.9L321.6 39.0M119.7 94.5L125.5 98.0M131.7 97.0L127.7 93.2M359.8 99.0L352.1 101.5M408.1 72.7L402.7 75.0M437.2 76.6L440.8 77.8M408.3 67.2L404.8 70.3M523.4 108.3L520.4 108.3M321.6 39.0L320.5 42.4M245.8 93.3L240.1 85.8M310.7 40.7L304.1 39.1M363.2 108.3L355.7 108.3M527.5 106.0L529.2 108.3M316.1 45.4L316.8 51.9M468.2 108.3L463.6 108.3M146.1 80.9L151.5 85.2M130.6 108.3L125.7 108.3M240.9 108.3L233.5 108.3M391.2 108.3L388.9 100.8M350.5 48.4L344.8 50.5M221.6 71.4L227.3 79.7M103.0 108.3L106.3 103.4M389.3 65.3L391.6 69.0M325.2 40.2L326.7 44.9M312.7 81.3L303.2 77.2M126.4 87.4L120.7 88.4M380.2 64.5L385.7 63.4M309.6 63.3L318.7 70.0M352.0 93.4L345.1 99.5M383.1 80.7L383.5 87.1M331.9 108.3L326.5 99.1M453.7 95.5L450.0 90.7M532.9 107.7L532.0 108.3M436.4 102.6L432.6 96.9M467.6 92.3L461.9 89.6M184.6 95.5L188.8 102.3M163.1 94.1L170.3 94.2M458.1 99.3L457.3 104.2M299.2 43.9L301.1 50.4M524.6 105.0L523.4 108.3M186.3 78.1L189.9 70.5M434.1 79.4L433.6 83.8M396.8 67.4L391.6 69.0M481.2 96.9L478.6 103.0M485.2 108.3L488.8 103.1M339.8 49.9L341.8 55.6M355.7 108.3L359.8 99.0M232.0 86.8L240.1 85.8M316.6 101.2L307.9 94.0M125.7 108.3L125.5 104.5M264.2 108.3L261.3 99.5M428.7 78.7L426.9 85.1M74.7 103.7L78.3 100.8M411.0 86.5L403.9 88.4M306.0 46.1L311.8 47.7M358.2 63.4L351.7 68.2M192.4 108.3L188.8 102.3M141.2 76.2L146.1 74.6M395.7 74.0L398.3 82.2M130.6 108.3L130.9 103.0M122.4 82.5L120.7 88.4M286.3 97.2L296.6 90.6M146.1 74.6L151.2 72.9M481.2 96.9L476.6 94.2M126.4 87.4L123.8 92.3M325.2 40.2L328.8 41.4M86.6 108.3L87.6 105.0M106.3 103.4L105.2 97.5M132.0 90.8L136.5 88.2M397.8 108.3L398.1 102.0M444.5 79.0L448.1 80.1M418.7 75.5L412.9 74.0M375.6 61.4L373.1 67.6M517.3 108.3L514.1 108.3M440.2 85.4L433.6 83.8M94.6 108.3L98.8 104.5M402.7 75.0L398.3 82.2M336.0 43.7L335.5 47.2M332.4 42.6L331.3 48.0M204.1 89.3L210.4 84.1M146.1 80.9L145.7 87.0M501.5 100.8L499.9 105.2M340.1 108.3L336.2 98.5M348.0 55.0L341.8 55.6M351.5 84.9L359.2 87.9M339.7 44.9L335.5 47.2M116.3 108.3L111.8 108.3M383.0 59.0L385.7 63.4M418.7 75.5L423.8 76.0M228.2 94.9L232.0 86.8M342.7 88.7L345.1 99.5M303.5 85.3L296.7 82.2M44.7 108.3L47.5 107.4M83.1 100.8L78.3 100.8M151.2 72.9L151.7 79.1M320.0 90.6L324.7 80.2M178.5 63.9L184.3 61.9M98.8 104.5L106.3 103.4M184.3 61.9L190.2 59.9M346.9 47.3L350.5 48.4M351.5 84.9L342.7 88.7M350.5 48.4L354.1 49.6M205.5 108.3L211.2 102.4M119.4 101.8L125.5 98.0M293.5 32.0L287.4 37.0M466.1 86.0L469.8 87.2M219.1 108.3L219.0 97.0M327.9 51.4L323.4 55.5M469.8 87.2L473.4 88.4M354.0 53.8L357.1 58.0M415.8 91.9L424.9 92.4M137.6 94.3L144.7 93.8M496.8 108.3L493.0 108.3M355.9 78.0L359.2 87.9M379.4 57.8L375.6 61.4M303.5 33.2L298.8 36.2M119.7 94.5L120.7 88.4M85.9 94.6L83.1 100.8M493.0 108.3L489.2 108.3M385.6 68.5L380.3 72.2M243.2 42.4L238.5 51.6M321.8 48.5L316.1 45.4M411.9 68.4L408.1 72.7M135.6 108.3L136.4 101.8M398.3 82.2L389.6 86.0M365.3 65.3L367.7 72.2M289.2 108.3L280.6 108.3M165.3 98.5L170.3 94.2M170.5 80.5L178.2 77.2M428.7 78.7L423.0 80.0M360.7 71.1L351.7 68.2M176.8 70.3L171.6 72.8M90.5 108.3L86.6 108.3M414.1 79.1L418.5 83.9M197.2 88.4L201.8 80.9M449.1 108.3L452.0 102.1M303.2 77.2L296.7 82.2M402.5 95.4L395.4 92.5M248.5 108.3L251.5 100.5M358.2 63.4L360.7 71.1M233.5 108.3L232.0 101.5M257.8 67.7L263.0 56.4M64.7 108.3L69.2 104.3M317.5 59.6L309.6 63.3M477.0 89.5L476.6 94.2M137.6 94.3L136.5 88.2M178.4 91.7L183.5 89.7M256.2 46.6L247.9 48.6M391.1 79.6L389.6 86.0M287.4 37.0L287.3 43.8M145.8 101.3L151.5 103.4M426.9 85.1L418.5 83.9M398.3 82.2L403.9 88.4M141.1 99.8L144.7 93.8M463.6 103.4L458.1 99.3M505.7 98.9L501.5 100.8M309.6 63.3L309.5 71.8M306.0 46.1L301.1 50.4M444.2 103.1L436.4 102.6M408.6 93.6L406.2 101.0M192.8 95.8L197.2 88.4M163.1 81.0L164.1 74.5M165.2 87.4L170.3 94.2M119.7 94.5L123.8 92.3M193.9 78.9L201.8 80.9M415.8 91.9L408.6 93.6M253.3 53.9L247.9 48.6M156.8 90.9L165.2 87.4M178.2 77.2L182.9 71.1M68.1 108.3L64.7 108.3M140.7 108.3L141.1 99.8M320.5 42.4L315.7 40.6M114.4 90.3L111.7 94.5M458.9 83.7L461.9 89.6M383.1 80.7L389.6 86.0M384.5 108.3L388.9 100.8M255.5 91.8L261.3 99.5M430.0 74.3L428.7 78.7M331.3 48.0L327.9 51.4M483.8 102.6L481.2 96.9M301.5 67.9L291.9 65.1M359.8 99.0L352.0 93.4M50.3 106.5L53.1 105.5M280.0 40.5L272.0 38.9M53.1 105.5L56.1 104.5M190.2 59.9L196.3 57.9M444.5 79.0L440.2 85.4M352.0 93.4L342.7 88.7M434.1 79.4L438.4 80.7M373.1 67.6L380.3 72.2M196.3 57.9L202.6 55.8M354.1 49.6L357.7 50.8M350.5 48.4L348.0 55.0M323.6 108.3L326.5 99.1M151.5 85.2L145.7 87.0M357.7 50.8L361.3 52.0M473.4 88.4L477.0 89.5M355.7 108.3L352.1 101.5M348.0 55.0L352.3 59.9M249.0 84.5L240.1 85.8M477.0 89.5L480.6 90.7M438.8 108.3L436.4 102.6M354.0 53.8L358.6 54.6M219.1 108.3L224.8 101.9M103.0 108.3L98.8 104.5M524.6 105.0L526.4 108.3M485.2 108.3L481.1 108.3M65.3 101.4L69.2 104.3M395.4 92.5L403.9 88.4M407.9 79.9L411.0 86.5M272.3 108.3L264.2 108.3M98.7 108.3L98.8 104.5M184.6 95.5L192.8 95.8M444.5 79.0L438.4 80.7M366.1 80.6L355.9 78.0M332.4 42.6L335.5 47.2M223.8 88.1L219.0 97.0M229.7 56.4L238.5 51.6M496.8 108.3L494.0 104.7M245.8 93.3L255.5 91.8M121.0 108.3L125.5 104.5M321.8 48.5L316.8 51.9M228.2 94.9L236.8 94.1M71.9 99.3L75.3 98.1M342.7 88.7L336.2 98.5M186.1 108.3L188.8 102.3M109.8 98.0L114.7 97.0M255.5 91.8L251.5 100.5M310.7 40.7L315.7 40.6M293.2 40.6L287.3 43.8M334.8 53.4L341.8 55.6M107.4 92.4L111.7 94.5M181.1 84.7L183.5 89.7M236.0 44.7L243.2 42.4M367.7 72.2L374.2 76.8M377.5 100.1L367.9 101.6M268.5 70.4L279.1 71.4M181.1 84.7L176.2 82.4M146.1 74.6L151.7 79.1M379.4 57.8L383.0 59.0M219.1 108.3L211.2 102.4M467.6 92.3L467.6 98.5M498.7 96.6L502.2 97.8M65.3 101.4L64.7 108.3M336.2 98.5L326.5 99.1M131.7 97.0L137.6 94.3M502.2 97.8L505.7 98.9M410.3 108.3L413.3 99.0M229.0 47.1L238.5 51.6M454.1 108.3L449.1 108.3M144.7 93.8L151.2 96.3M139.9 83.3L132.7 84.0M521.7 104.1L520.4 108.3M219.1 108.3L212.2 108.3M331.9 108.3L336.2 98.5M216.4 64.5L221.6 71.4M58.1 108.3L54.9 108.3M192.4 108.3L194.9 102.7M167.2 67.6L171.6 72.8M386.6 60.2L385.7 63.4M481.2 96.9L487.3 97.1M367.7 72.2L360.7 71.1M158.8 100.1L151.2 96.3M360.7 71.1L355.9 78.0M79.2 104.7L78.3 100.8M75.3 108.3L74.7 103.7M488.8 103.1L483.8 102.6M237.5 63.9L246.2 57.7M415.5 69.6L412.9 74.0M71.7 108.3L69.2 104.3M59.1 103.5L62.2 102.5M125.5 98.0L131.7 97.0M224.8 101.9L219.0 97.0M253.5 60.6L263.0 56.4M498.7 96.6L493.3 98.9M415.5 69.6L418.7 75.5M139.9 83.3L146.1 80.9M529.2 108.3L526.4 108.3M150.1 90.4L156.8 90.9M210.3 93.6L204.1 89.3M207.1 75.1L205.9 68.0M231.9 72.5L234.7 79.9M93.3 92.1L96.6 95.5M454.1 108.3L457.3 104.2M222.5 60.8L228.6 65.1M201.8 80.9L207.1 75.1M237.5 63.9L241.8 75.7M205.9 68.0L202.5 62.7M497.4 101.3L501.5 100.8M385.4 92.7L376.7 87.4M263.0 56.4L256.2 46.6M352.3 59.9L351.7 68.2M89.4 100.2L91.7 96.1M226.2 108.3L232.0 101.5M440.2 85.4L434.3 90.5M78.7 97.0L82.2 95.8M480.6 90.7L476.6 94.2M197.2 88.4L204.1 89.3M113.1 102.9L114.7 97.0M250.5 39.9L258.0 37.4M321.8 48.5L327.9 51.4M449.1 108.3L444.2 103.1M422.8 71.9L423.8 76.0M126.4 87.4L127.7 93.2M351.7 68.2L344.1 67.9M374.2 76.8L376.7 87.4M455.3 82.5L458.9 83.7M434.3 90.5L424.9 92.4M298.8 36.2L304.1 39.1M331.3 48.0L334.8 53.4M507.5 108.3L504.0 108.3M423.8 76.0L428.7 78.7M509.1 100.0L512.4 101.0M144.7 93.8L141.0 89.1M323.6 108.3L315.0 108.3M444.0 108.3L438.8 108.3M374.2 76.8L383.1 80.7M107.3 108.3L103.0 108.3M462.5 84.8L461.9 89.6M205.5 108.3L198.9 108.3M224.8 101.9L232.0 101.5M226.2 108.3L224.8 101.9M408.6 93.6L402.5 95.4M192.8 95.8L194.9 102.7M437.2 76.6L438.4 80.7M433.6 75.4L428.7 78.7M51.7 108.3L48.7 108.3M367.9 101.6L368.0 92.6M301.1 50.4L299.0 58.1M404.1 108.3L406.2 101.0M279.1 71.4L286.8 71.2M266.2 80.4L268.5 70.4M184.6 95.5L181.7 103.5M309.0 53.9L309.6 63.3M307.9 94.0L297.7 101.1M122.4 82.5L126.4 87.4M109.8 98.0L113.1 102.9M315.0 108.3L316.6 101.2M458.1 99.3L458.6 94.2M228.2 94.9L219.0 97.0M174.0 108.3L169.9 101.8M137.6 94.3L141.1 99.8M253.3 53.9L256.2 46.6M326.7 44.9L321.8 48.5M432.6 96.9L424.9 92.4M87.6 105.0L92.7 104.4M418.5 83.9L415.8 91.9M162.4 108.3L164.8 103.3M279.1 71.4L283.8 64.6M323.4 55.5L325.4 63.3M165.3 98.5L169.9 101.8M380.3 72.2L387.8 74.3M216.5 89.1L219.1 81.6M527.5 106.0L526.4 108.3M68.6 100.4L69.2 104.3M44.7 108.3L45.7 108.3M472.1 96.5L472.7 91.5M504.0 108.3L505.5 103.8M246.2 57.7L253.5 60.6M47.5 107.4L45.7 108.3M219.1 81.6L221.6 71.4M385.7 63.4L385.6 68.5M309.6 63.3L301.5 67.9M105.2 88.2L107.4 92.4M493.0 108.3L494.0 104.7M260.9 75.7L258.5 83.2M312.7 81.3L307.9 94.0M172.8 65.7L178.5 63.9M346.0 61.5L338.2 62.1M126.9 81.0L132.7 84.0M434.3 90.5L432.6 96.9M343.3 46.1L346.9 47.3M212.2 108.3L211.2 102.4M178.5 63.9L176.8 70.3M453.2 85.6L456.1 89.9M462.5 84.8L466.1 86.0M56.1 104.5L58.1 108.3M500.5 108.3L496.8 108.3M461.9 89.6L458.6 94.2M140.7 108.3L136.4 101.8M250.5 39.9L247.9 48.6M306.4 108.3L297.8 108.3M433.6 83.8L434.3 90.5M141.0 89.1L145.7 87.0M176.6 99.0L184.6 95.5M98.7 108.3L94.6 108.3M444.2 103.1L439.8 96.9M453.2 85.6L447.3 84.9M198.5 69.3L207.1 75.1M172.8 65.7L171.6 72.8M249.0 84.5L255.5 91.8M303.5 33.2L304.1 39.1M296.7 82.2L296.6 90.6M71.7 108.3L74.7 103.7M515.6 102.1L510.8 104.6M376.7 87.4L368.0 92.6M209.0 53.7L215.5 51.5M307.1 34.3L304.1 39.1M385.4 92.7L383.5 87.1M364.9 53.1L368.6 54.3M400.9 69.7L396.8 67.4M484.2 91.9L487.8 93.1M249.0 84.5L258.5 83.2M332.3 65.2L337.7 70.6M419.2 70.7L418.7 75.5M373.1 67.6L365.3 65.3M487.8 93.1L491.4 94.2M176.6 99.0L178.4 91.7M472.6 108.3L468.2 108.3M287.4 57.6L291.9 65.1M301.1 50.4L309.0 53.9M248.5 108.3L240.9 108.3M232.0 86.8L234.7 79.9M188.8 87.1L183.5 89.7M71.7 108.3L68.1 108.3M428.7 78.7L433.6 83.8M202.6 55.8L202.5 62.7M245.8 93.3L249.0 84.5M95.1 100.1L89.4 100.2M426.4 73.1L428.7 78.7M141.2 76.2L146.1 80.9M372.2 55.5L370.4 59.9M320.0 90.6L326.5 99.1M47.5 107.4L50.3 106.5M292.7 49.4L287.4 57.6M296.7 82.2L294.4 74.2M339.7 44.9L339.8 49.9M426.4 73.1L423.8 76.0M458.6 94.2L453.7 95.5M150.1 90.4L151.2 96.3M170.5 80.5L171.6 72.8M292.7 49.4L299.0 58.1M139.9 83.3L141.0 89.1M272.3 108.3L273.0 99.9M340.1 108.3L345.1 99.5M413.3 99.0L408.6 93.6M246.2 57.7L247.9 48.6M227.3 79.7L234.7 79.9M383.0 59.0L380.2 64.5M119.4 101.8L113.1 102.9M387.8 74.3L383.1 80.7M156.8 90.9L163.1 94.1M258.5 83.2L266.2 80.4M182.9 71.1L189.9 70.5M344.1 67.9L345.8 76.8M264.8 43.9L273.2 48.4M232.0 101.5L241.4 102.1M420.0 97.4L424.9 92.4M343.3 46.1L344.8 50.5M497.4 101.3L499.9 105.2M263.0 56.4L268.5 70.4M111.8 108.3L106.3 103.4M65.3 101.4L68.6 100.4" stroke="#9a92a6" stroke-width="0.5" fill="none"/>
<polygon points="44.7,108.3 112,85.94 116,96 121,108.3" fill="#f50a0a" fill-opacity="0.95" clip-path="url(#dama)"/>
<polygon points="112,85.94 150,73.31 160,108.3 121,108.3 116,96" fill="#f50a0a" fill-opacity="0.5" clip-path="url(#dama)"/>
<path clip-path="url(#dama)" d="M51.18 105.46a2.45 2.45 0 1 0 4.9 0a2.45 2.45 0 1 0 -4.9 0M52.73 105.46a0.9 0.9 0 1 0 1.8 0a0.9 0.9 0 1 0 -1.8 0M57.9 105.07a2.45 2.45 0 1 0 4.9 0a2.45 2.45 0 1 0 -4.9 0M59.45 105.07a0.9 0.9 0 1 0 1.8 0a0.9 0.9 0 1 0 -1.8 0M64.62 105.14a2.45 2.45 0 1 0 4.9 0a2.45 2.45 0 1 0 -4.9 0M66.17 105.14a0.9 0.9 0 1 0 1.8 0a0.9 0.9 0 1 0 -1.8 0M70.91 105.47a2.45 2.45 0 1 0 4.9 0a2.45 2.45 0 1 0 -4.9 0M72.46 105.47a0.9 0.9 0 1 0 1.8 0a0.9 0.9 0 1 0 -1.8 0M78.27 105.52a2.45 2.45 0 1 0 4.9 0a2.45 2.45 0 1 0 -4.9 0M79.82 105.52a0.9 0.9 0 1 0 1.8 0a0.9 0.9 0 1 0 -1.8 0M84.62 105.46a2.45 2.45 0 1 0 4.9 0a2.45 2.45 0 1 0 -4.9 0M86.17 105.46a0.9 0.9 0 1 0 1.8 0a0.9 0.9 0 1 0 -1.8 0M91.79 105.21a2.45 2.45 0 1 0 4.9 0a2.45 2.45 0 1 0 -4.9 0M93.34 105.21a0.9 0.9 0 1 0 1.8 0a0.9 0.9 0 1 0 -1.8 0M98.34 104.99a2.45 2.45 0 1 0 4.9 0a2.45 2.45 0 1 0 -4.9 0M99.89 104.99a0.9 0.9 0 1 0 1.8 0a0.9 0.9 0 1 0 -1.8 0M105.2 104.99a2.45 2.45 0 1 0 4.9 0a2.45 2.45 0 1 0 -4.9 0M106.75 104.99a0.9 0.9 0 1 0 1.8 0a0.9 0.9 0 1 0 -1.8 0M112.17 105.06a2.45 2.45 0 1 0 4.9 0a2.45 2.45 0 1 0 -4.9 0M113.72 105.06a0.9 0.9 0 1 0 1.8 0a0.9 0.9 0 1 0 -1.8 0M74.51 99.17a2.45 2.45 0 1 0 4.9 0a2.45 2.45 0 1 0 -4.9 0M76.06 99.17a0.9 0.9 0 1 0 1.8 0a0.9 0.9 0 1 0 -1.8 0M81.32 98.79a2.45 2.45 0 1 0 4.9 0a2.45 2.45 0 1 0 -4.9 0M82.87 98.79a0.9 0.9 0 1 0 1.8 0a0.9 0.9 0 1 0 -1.8 0M88.58 99.43a2.45 2.45 0 1 0 4.9 0a2.45 2.45 0 1 0 -4.9 0M90.13 99.43a0.9 0.9 0 1 0 1.8 0a0.9 0.9 0 1 0 -1.8 0M94.85 99.18a2.45 2.45 0 1 0 4.9 0a2.45 2.45 0 1 0 -4.9 0M96.4 99.18a0.9 0.9 0 1 0 1.8 0a0.9 0.9 0 1 0 -1.8 0M101.88 99.23a2.45 2.45 0 1 0 4.9 0a2.45 2.45 0 1 0 -4.9 0M103.43 99.23a0.9 0.9 0 1 0 1.8 0a0.9 0.9 0 1 0 -1.8 0M108.48 99.13a2.45 2.45 0 1 0 4.9 0a2.45 2.45 0 1 0 -4.9 0M110.03 99.13a0.9 0.9 0 1 0 1.8 0a0.9 0.9 0 1 0 -1.8 0M91.47 93a2.45 2.45 0 1 0 4.9 0a2.45 2.45 0 1 0 -4.9 0M93.02 93a0.9 0.9 0 1 0 1.8 0a0.9 0.9 0 1 0 -1.8 0M98.26 92.94a2.45 2.45 0 1 0 4.9 0a2.45 2.45 0 1 0 -4.9 0M99.81 92.94a0.9 0.9 0 1 0 1.8 0a0.9 0.9 0 1 0 -1.8 0M105.53 93.29a2.45 2.45 0 1 0 4.9 0a2.45 2.45 0 1 0 -4.9 0M107.08 93.29a0.9 0.9 0 1 0 1.8 0a0.9 0.9 0 1 0 -1.8 0M112.15 92.68a2.45 2.45 0 1 0 4.9 0a2.45 2.45 0 1 0 -4.9 0M113.7 92.68a0.9 0.9 0 1 0 1.8 0a0.9 0.9 0 1 0 -1.8 0M108.61 86.86a2.45 2.45 0 1 0 4.9 0a2.45 2.45 0 1 0 -4.9 0M110.16 86.86a0.9 0.9 0 1 0 1.8 0a0.9 0.9 0 1 0 -1.8 0" fill="none" stroke="#c00808" stroke-width="0.8" opacity="0.45"/>
<path clip-path="url(#dama)" d="M61.47 110.95a2.35 2.35 0 1 0 4.7 0a2.35 2.35 0 1 0 -4.7 0M88.3 110.99a2.35 2.35 0 1 0 4.7 0a2.35 2.35 0 1 0 -4.7 0M118.83 105.46a2.35 2.35 0 1 0 4.7 0a2.35 2.35 0 1 0 -4.7 0M125.41 104.99a2.35 2.35 0 1 0 4.7 0a2.35 2.35 0 1 0 -4.7 0M132.89 105.4a2.35 2.35 0 1 0 4.7 0a2.35 2.35 0 1 0 -4.7 0M139.15 105.32a2.35 2.35 0 1 0 4.7 0a2.35 2.35 0 1 0 -4.7 0M146.45 105.09a2.35 2.35 0 1 0 4.7 0a2.35 2.35 0 1 0 -4.7 0M153.08 105.19a2.35 2.35 0 1 0 4.7 0a2.35 2.35 0 1 0 -4.7 0M159.56 105.36a2.35 2.35 0 1 0 4.7 0a2.35 2.35 0 1 0 -4.7 0M166.32 105.49a2.35 2.35 0 1 0 4.7 0a2.35 2.35 0 1 0 -4.7 0M173.53 105.27a2.35 2.35 0 1 0 4.7 0a2.35 2.35 0 1 0 -4.7 0M180.06 105.09a2.35 2.35 0 1 0 4.7 0a2.35 2.35 0 1 0 -4.7 0M187.21 105.27a2.35 2.35 0 1 0 4.7 0a2.35 2.35 0 1 0 -4.7 0M194.02 104.94a2.35 2.35 0 1 0 4.7 0a2.35 2.35 0 1 0 -4.7 0M200.27 104.88a2.35 2.35 0 1 0 4.7 0a2.35 2.35 0 1 0 -4.7 0M207.61 105.4a2.35 2.35 0 1 0 4.7 0a2.35 2.35 0 1 0 -4.7 0M115.37 98.81a2.35 2.35 0 1 0 4.7 0a2.35 2.35 0 1 0 -4.7 0M122.69 99.06a2.35 2.35 0 1 0 4.7 0a2.35 2.35 0 1 0 -4.7 0M129.25 99.41a2.35 2.35 0 1 0 4.7 0a2.35 2.35 0 1 0 -4.7 0M135.81 98.98a2.35 2.35 0 1 0 4.7 0a2.35 2.35 0 1 0 -4.7 0M142.99 99.38a2.35 2.35 0 1 0 4.7 0a2.35 2.35 0 1 0 -4.7 0M149.43 99.13a2.35 2.35 0 1 0 4.7 0a2.35 2.35 0 1 0 -4.7 0M156.42 98.92a2.35 2.35 0 1 0 4.7 0a2.35 2.35 0 1 0 -4.7 0M162.97 98.8a2.35 2.35 0 1 0 4.7 0a2.35 2.35 0 1 0 -4.7 0M169.65 98.8a2.35 2.35 0 1 0 4.7 0a2.35 2.35 0 1 0 -4.7 0M176.6 99.3a2.35 2.35 0 1 0 4.7 0a2.35 2.35 0 1 0 -4.7 0M183.8 98.86a2.35 2.35 0 1 0 4.7 0a2.35 2.35 0 1 0 -4.7 0M190.56 98.8a2.35 2.35 0 1 0 4.7 0a2.35 2.35 0 1 0 -4.7 0M196.92 99.29a2.35 2.35 0 1 0 4.7 0a2.35 2.35 0 1 0 -4.7 0M204.18 98.97a2.35 2.35 0 1 0 4.7 0a2.35 2.35 0 1 0 -4.7 0M210.76 99.39a2.35 2.35 0 1 0 4.7 0a2.35 2.35 0 1 0 -4.7 0M217.83 98.85a2.35 2.35 0 1 0 4.7 0a2.35 2.35 0 1 0 -4.7 0M118.96 93.26a2.35 2.35 0 1 0 4.7 0a2.35 2.35 0 1 0 -4.7 0M125.94 93.27a2.35 2.35 0 1 0 4.7 0a2.35 2.35 0 1 0 -4.7 0M132.68 93.24a2.35 2.35 0 1 0 4.7 0a2.35 2.35 0 1 0 -4.7 0M139.49 93.17a2.35 2.35 0 1 0 4.7 0a2.35 2.35 0 1 0 -4.7 0M146.4 93.28a2.35 2.35 0 1 0 4.7 0a2.35 2.35 0 1 0 -4.7 0M153 92.77a2.35 2.35 0 1 0 4.7 0a2.35 2.35 0 1 0 -4.7 0M159.55 93.05a2.35 2.35 0 1 0 4.7 0a2.35 2.35 0 1 0 -4.7 0M166.24 93.13a2.35 2.35 0 1 0 4.7 0a2.35 2.35 0 1 0 -4.7 0M173.24 93.01a2.35 2.35 0 1 0 4.7 0a2.35 2.35 0 1 0 -4.7 0M180.31 92.68a2.35 2.35 0 1 0 4.7 0a2.35 2.35 0 1 0 -4.7 0M187.17 93.09a2.35 2.35 0 1 0 4.7 0a2.35 2.35 0 1 0 -4.7 0M194.04 93.32a2.35 2.35 0 1 0 4.7 0a2.35 2.35 0 1 0 -4.7 0M200.74 93.24a2.35 2.35 0 1 0 4.7 0a2.35 2.35 0 1 0 -4.7 0M207.49 92.96a2.35 2.35 0 1 0 4.7 0a2.35 2.35 0 1 0 -4.7 0M214.48 92.92a2.35 2.35 0 1 0 4.7 0a2.35 2.35 0 1 0 -4.7 0M220.9 92.77a2.35 2.35 0 1 0 4.7 0a2.35 2.35 0 1 0 -4.7 0M227.49 93.29a2.35 2.35 0 1 0 4.7 0a2.35 2.35 0 1 0 -4.7 0M115.48 87.1a2.35 2.35 0 1 0 4.7 0a2.35 2.35 0 1 0 -4.7 0M122.34 87a2.35 2.35 0 1 0 4.7 0a2.35 2.35 0 1 0 -4.7 0M128.94 86.55a2.35 2.35 0 1 0 4.7 0a2.35 2.35 0 1 0 -4.7 0M136.02 87.17a2.35 2.35 0 1 0 4.7 0a2.35 2.35 0 1 0 -4.7 0M142.76 87.24a2.35 2.35 0 1 0 4.7 0a2.35 2.35 0 1 0 -4.7 0M149.78 86.84a2.35 2.35 0 1 0 4.7 0a2.35 2.35 0 1 0 -4.7 0M156.69 86.76a2.35 2.35 0 1 0 4.7 0a2.35 2.35 0 1 0 -4.7 0M163.23 86.92a2.35 2.35 0 1 0 4.7 0a2.35 2.35 0 1 0 -4.7 0M169.6 86.82a2.35 2.35 0 1 0 4.7 0a2.35 2.35 0 1 0 -4.7 0M176.68 87.15a2.35 2.35 0 1 0 4.7 0a2.35 2.35 0 1 0 -4.7 0M183.71 87.18a2.35 2.35 0 1 0 4.7 0a2.35 2.35 0 1 0 -4.7 0M190.34 87.07a2.35 2.35 0 1 0 4.7 0a2.35 2.35 0 1 0 -4.7 0M197.25 86.99a2.35 2.35 0 1 0 4.7 0a2.35 2.35 0 1 0 -4.7 0M204.04 86.99a2.35 2.35 0 1 0 4.7 0a2.35 2.35 0 1 0 -4.7 0M210.95 87.14a2.35 2.35 0 1 0 4.7 0a2.35 2.35 0 1 0 -4.7 0M217.77 86.97a2.35 2.35 0 1 0 4.7 0a2.35 2.35 0 1 0 -4.7 0M224.19 87.05a2.35 2.35 0 1 0 4.7 0a2.35 2.35 0 1 0 -4.7 0M231.18 86.66a2.35 2.35 0 1 0 4.7 0a2.35 2.35 0 1 0 -4.7 0M237.94 86.88a2.35 2.35 0 1 0 4.7 0a2.35 2.35 0 1 0 -4.7 0M125.71 81.09a2.35 2.35 0 1 0 4.7 0a2.35 2.35 0 1 0 -4.7 0M132.62 80.63a2.35 2.35 0 1 0 4.7 0a2.35 2.35 0 1 0 -4.7 0M139.1 80.55a2.35 2.35 0 1 0 4.7 0a2.35 2.35 0 1 0 -4.7 0M146.05 80.98a2.35 2.35 0 1 0 4.7 0a2.35 2.35 0 1 0 -4.7 0M153.1 80.95a2.35 2.35 0 1 0 4.7 0a2.35 2.35 0 1 0 -4.7 0M159.47 80.73a2.35 2.35 0 1 0 4.7 0a2.35 2.35 0 1 0 -4.7 0M166.27 80.58a2.35 2.35 0 1 0 4.7 0a2.35 2.35 0 1 0 -4.7 0M173.42 81.07a2.35 2.35 0 1 0 4.7 0a2.35 2.35 0 1 0 -4.7 0M179.82 80.94a2.35 2.35 0 1 0 4.7 0a2.35 2.35 0 1 0 -4.7 0M187.27 80.88a2.35 2.35 0 1 0 4.7 0a2.35 2.35 0 1 0 -4.7 0M193.99 80.53a2.35 2.35 0 1 0 4.7 0a2.35 2.35 0 1 0 -4.7 0M200.27 80.73a2.35 2.35 0 1 0 4.7 0a2.35 2.35 0 1 0 -4.7 0M207.26 80.57a2.35 2.35 0 1 0 4.7 0a2.35 2.35 0 1 0 -4.7 0M214.37 80.77a2.35 2.35 0 1 0 4.7 0a2.35 2.35 0 1 0 -4.7 0M220.75 80.95a2.35 2.35 0 1 0 4.7 0a2.35 2.35 0 1 0 -4.7 0M227.82 81.09a2.35 2.35 0 1 0 4.7 0a2.35 2.35 0 1 0 -4.7 0M234.23 81.01a2.35 2.35 0 1 0 4.7 0a2.35 2.35 0 1 0 -4.7 0M241.22 80.72a2.35 2.35 0 1 0 4.7 0a2.35 2.35 0 1 0 -4.7 0M143.04 74.95a2.35 2.35 0 1 0 4.7 0a2.35 2.35 0 1 0 -4.7 0M149.24 74.41a2.35 2.35 0 1 0 4.7 0a2.35 2.35 0 1 0 -4.7 0M156.33 74.61a2.35 2.35 0 1 0 4.7 0a2.35 2.35 0 1 0 -4.7 0M162.83 74.72a2.35 2.35 0 1 0 4.7 0a2.35 2.35 0 1 0 -4.7 0M169.69 74.63a2.35 2.35 0 1 0 4.7 0a2.35 2.35 0 1 0 -4.7 0M177.02 74.37a2.35 2.35 0 1 0 4.7 0a2.35 2.35 0 1 0 -4.7 0M183.26 74.91a2.35 2.35 0 1 0 4.7 0a2.35 2.35 0 1 0 -4.7 0M190.02 74.62a2.35 2.35 0 1 0 4.7 0a2.35 2.35 0 1 0 -4.7 0M197.02 74.44a2.35 2.35 0 1 0 4.7 0a2.35 2.35 0 1 0 -4.7 0M204.16 74.95a2.35 2.35 0 1 0 4.7 0a2.35 2.35 0 1 0 -4.7 0M210.7 74.52a2.35 2.35 0 1 0 4.7 0a2.35 2.35 0 1 0 -4.7 0M217.43 74.59a2.35 2.35 0 1 0 4.7 0a2.35 2.35 0 1 0 -4.7 0M224.67 74.76a2.35 2.35 0 1 0 4.7 0a2.35 2.35 0 1 0 -4.7 0M231.26 74.66a2.35 2.35 0 1 0 4.7 0a2.35 2.35 0 1 0 -4.7 0M238.1 74.93a2.35 2.35 0 1 0 4.7 0a2.35 2.35 0 1 0 -4.7 0M244.77 74.98a2.35 2.35 0 1 0 4.7 0a2.35 2.35 0 1 0 -4.7 0M166.25 68.3a2.35 2.35 0 1 0 4.7 0a2.35 2.35 0 1 0 -4.7 0M173.45 68.37a2.35 2.35 0 1 0 4.7 0a2.35 2.35 0 1 0 -4.7 0M179.82 68.51a2.35 2.35 0 1 0 4.7 0a2.35 2.35 0 1 0 -4.7 0M187.1 68.45a2.35 2.35 0 1 0 4.7 0a2.35 2.35 0 1 0 -4.7 0M193.82 68.86a2.35 2.35 0 1 0 4.7 0a2.35 2.35 0 1 0 -4.7 0M200.5 68.72a2.35 2.35 0 1 0 4.7 0a2.35 2.35 0 1 0 -4.7 0M207.66 68.81a2.35 2.35 0 1 0 4.7 0a2.35 2.35 0 1 0 -4.7 0M214.37 68.95a2.35 2.35 0 1 0 4.7 0a2.35 2.35 0 1 0 -4.7 0M220.74 68.77a2.35 2.35 0 1 0 4.7 0a2.35 2.35 0 1 0 -4.7 0M227.76 68.59a2.35 2.35 0 1 0 4.7 0a2.35 2.35 0 1 0 -4.7 0M234.82 68.81a2.35 2.35 0 1 0 4.7 0a2.35 2.35 0 1 0 -4.7 0M241.03 68.85a2.35 2.35 0 1 0 4.7 0a2.35 2.35 0 1 0 -4.7 0M247.93 68.46a2.35 2.35 0 1 0 4.7 0a2.35 2.35 0 1 0 -4.7 0M183.88 62.31a2.35 2.35 0 1 0 4.7 0a2.35 2.35 0 1 0 -4.7 0M190.18 62.49a2.35 2.35 0 1 0 4.7 0a2.35 2.35 0 1 0 -4.7 0M197.08 62.66a2.35 2.35 0 1 0 4.7 0a2.35 2.35 0 1 0 -4.7 0M203.66 62.58a2.35 2.35 0 1 0 4.7 0a2.35 2.35 0 1 0 -4.7 0M210.78 62.52a2.35 2.35 0 1 0 4.7 0a2.35 2.35 0 1 0 -4.7 0M217.86 62.83a2.35 2.35 0 1 0 4.7 0a2.35 2.35 0 1 0 -4.7 0M224.39 62.44a2.35 2.35 0 1 0 4.7 0a2.35 2.35 0 1 0 -4.7 0M230.88 62.34a2.35 2.35 0 1 0 4.7 0a2.35 2.35 0 1 0 -4.7 0M237.94 62.71a2.35 2.35 0 1 0 4.7 0a2.35 2.35 0 1 0 -4.7 0M244.95 62.62a2.35 2.35 0 1 0 4.7 0a2.35 2.35 0 1 0 -4.7 0M251.47 62.62a2.35 2.35 0 1 0 4.7 0a2.35 2.35 0 1 0 -4.7 0M200.69 56.44a2.35 2.35 0 1 0 4.7 0a2.35 2.35 0 1 0 -4.7 0M207.16 56.19a2.35 2.35 0 1 0 4.7 0a2.35 2.35 0 1 0 -4.7 0M214.42 56.35a2.35 2.35 0 1 0 4.7 0a2.35 2.35 0 1 0 -4.7 0M220.61 56.26a2.35 2.35 0 1 0 4.7 0a2.35 2.35 0 1 0 -4.7 0M227.46 56.21a2.35 2.35 0 1 0 4.7 0a2.35 2.35 0 1 0 -4.7 0M234.89 56.29a2.35 2.35 0 1 0 4.7 0a2.35 2.35 0 1 0 -4.7 0M241.36 56.07a2.35 2.35 0 1 0 4.7 0a2.35 2.35 0 1 0 -4.7 0M247.9 56.23a2.35 2.35 0 1 0 4.7 0a2.35 2.35 0 1 0 -4.7 0M255.08 56.08a2.35 2.35 0 1 0 4.7 0a2.35 2.35 0 1 0 -4.7 0M217.21 50.62a2.35 2.35 0 1 0 4.7 0a2.35 2.35 0 1 0 -4.7 0M224.45 50.22a2.35 2.35 0 1 0 4.7 0a2.35 2.35 0 1 0 -4.7 0M231.42 50.27a2.35 2.35 0 1 0 4.7 0a2.35 2.35 0 1 0 -4.7 0M238.02 50.25a2.35 2.35 0 1 0 4.7 0a2.35 2.35 0 1 0 -4.7 0M244.69 50.37a2.35 2.35 0 1 0 4.7 0a2.35 2.35 0 1 0 -4.7 0M251.53 49.98a2.35 2.35 0 1 0 4.7 0a2.35 2.35 0 1 0 -4.7 0M241.28 44.29a2.35 2.35 0 1 0 4.7 0a2.35 2.35 0 1 0 -4.7 0M248.44 44.23a2.35 2.35 0 1 0 4.7 0a2.35 2.35 0 1 0 -4.7 0" fill="#f03030" fill-opacity="0.33" stroke="none"/>
<path clip-path="url(#dama)" d="M61.47 110.95a2.35 2.35 0 1 0 4.7 0a2.35 2.35 0 1 0 -4.7 0M88.3 110.99a2.35 2.35 0 1 0 4.7 0a2.35 2.35 0 1 0 -4.7 0M118.83 105.46a2.35 2.35 0 1 0 4.7 0a2.35 2.35 0 1 0 -4.7 0M125.41 104.99a2.35 2.35 0 1 0 4.7 0a2.35 2.35 0 1 0 -4.7 0M132.89 105.4a2.35 2.35 0 1 0 4.7 0a2.35 2.35 0 1 0 -4.7 0M139.15 105.32a2.35 2.35 0 1 0 4.7 0a2.35 2.35 0 1 0 -4.7 0M146.45 105.09a2.35 2.35 0 1 0 4.7 0a2.35 2.35 0 1 0 -4.7 0M153.08 105.19a2.35 2.35 0 1 0 4.7 0a2.35 2.35 0 1 0 -4.7 0M159.56 105.36a2.35 2.35 0 1 0 4.7 0a2.35 2.35 0 1 0 -4.7 0M166.32 105.49a2.35 2.35 0 1 0 4.7 0a2.35 2.35 0 1 0 -4.7 0M173.53 105.27a2.35 2.35 0 1 0 4.7 0a2.35 2.35 0 1 0 -4.7 0M180.06 105.09a2.35 2.35 0 1 0 4.7 0a2.35 2.35 0 1 0 -4.7 0M187.21 105.27a2.35 2.35 0 1 0 4.7 0a2.35 2.35 0 1 0 -4.7 0M194.02 104.94a2.35 2.35 0 1 0 4.7 0a2.35 2.35 0 1 0 -4.7 0M200.27 104.88a2.35 2.35 0 1 0 4.7 0a2.35 2.35 0 1 0 -4.7 0M207.61 105.4a2.35 2.35 0 1 0 4.7 0a2.35 2.35 0 1 0 -4.7 0M115.37 98.81a2.35 2.35 0 1 0 4.7 0a2.35 2.35 0 1 0 -4.7 0M122.69 99.06a2.35 2.35 0 1 0 4.7 0a2.35 2.35 0 1 0 -4.7 0M129.25 99.41a2.35 2.35 0 1 0 4.7 0a2.35 2.35 0 1 0 -4.7 0M135.81 98.98a2.35 2.35 0 1 0 4.7 0a2.35 2.35 0 1 0 -4.7 0M142.99 99.38a2.35 2.35 0 1 0 4.7 0a2.35 2.35 0 1 0 -4.7 0M149.43 99.13a2.35 2.35 0 1 0 4.7 0a2.35 2.35 0 1 0 -4.7 0M156.42 98.92a2.35 2.35 0 1 0 4.7 0a2.35 2.35 0 1 0 -4.7 0M162.97 98.8a2.35 2.35 0 1 0 4.7 0a2.35 2.35 0 1 0 -4.7 0M169.65 98.8a2.35 2.35 0 1 0 4.7 0a2.35 2.35 0 1 0 -4.7 0M176.6 99.3a2.35 2.35 0 1 0 4.7 0a2.35 2.35 0 1 0 -4.7 0M183.8 98.86a2.35 2.35 0 1 0 4.7 0a2.35 2.35 0 1 0 -4.7 0M190.56 98.8a2.35 2.35 0 1 0 4.7 0a2.35 2.35 0 1 0 -4.7 0M196.92 99.29a2.35 2.35 0 1 0 4.7 0a2.35 2.35 0 1 0 -4.7 0M204.18 98.97a2.35 2.35 0 1 0 4.7 0a2.35 2.35 0 1 0 -4.7 0M210.76 99.39a2.35 2.35 0 1 0 4.7 0a2.35 2.35 0 1 0 -4.7 0M217.83 98.85a2.35 2.35 0 1 0 4.7 0a2.35 2.35 0 1 0 -4.7 0M118.96 93.26a2.35 2.35 0 1 0 4.7 0a2.35 2.35 0 1 0 -4.7 0M125.94 93.27a2.35 2.35 0 1 0 4.7 0a2.35 2.35 0 1 0 -4.7 0M132.68 93.24a2.35 2.35 0 1 0 4.7 0a2.35 2.35 0 1 0 -4.7 0M139.49 93.17a2.35 2.35 0 1 0 4.7 0a2.35 2.35 0 1 0 -4.7 0M146.4 93.28a2.35 2.35 0 1 0 4.7 0a2.35 2.35 0 1 0 -4.7 0M153 92.77a2.35 2.35 0 1 0 4.7 0a2.35 2.35 0 1 0 -4.7 0M159.55 93.05a2.35 2.35 0 1 0 4.7 0a2.35 2.35 0 1 0 -4.7 0M166.24 93.13a2.35 2.35 0 1 0 4.7 0a2.35 2.35 0 1 0 -4.7 0M173.24 93.01a2.35 2.35 0 1 0 4.7 0a2.35 2.35 0 1 0 -4.7 0M180.31 92.68a2.35 2.35 0 1 0 4.7 0a2.35 2.35 0 1 0 -4.7 0M187.17 93.09a2.35 2.35 0 1 0 4.7 0a2.35 2.35 0 1 0 -4.7 0M194.04 93.32a2.35 2.35 0 1 0 4.7 0a2.35 2.35 0 1 0 -4.7 0M200.74 93.24a2.35 2.35 0 1 0 4.7 0a2.35 2.35 0 1 0 -4.7 0M207.49 92.96a2.35 2.35 0 1 0 4.7 0a2.35 2.35 0 1 0 -4.7 0M214.48 92.92a2.35 2.35 0 1 0 4.7 0a2.35 2.35 0 1 0 -4.7 0M220.9 92.77a2.35 2.35 0 1 0 4.7 0a2.35 2.35 0 1 0 -4.7 0M227.49 93.29a2.35 2.35 0 1 0 4.7 0a2.35 2.35 0 1 0 -4.7 0M115.48 87.1a2.35 2.35 0 1 0 4.7 0a2.35 2.35 0 1 0 -4.7 0M122.34 87a2.35 2.35 0 1 0 4.7 0a2.35 2.35 0 1 0 -4.7 0M128.94 86.55a2.35 2.35 0 1 0 4.7 0a2.35 2.35 0 1 0 -4.7 0M136.02 87.17a2.35 2.35 0 1 0 4.7 0a2.35 2.35 0 1 0 -4.7 0M142.76 87.24a2.35 2.35 0 1 0 4.7 0a2.35 2.35 0 1 0 -4.7 0M149.78 86.84a2.35 2.35 0 1 0 4.7 0a2.35 2.35 0 1 0 -4.7 0M156.69 86.76a2.35 2.35 0 1 0 4.7 0a2.35 2.35 0 1 0 -4.7 0M163.23 86.92a2.35 2.35 0 1 0 4.7 0a2.35 2.35 0 1 0 -4.7 0M169.6 86.82a2.35 2.35 0 1 0 4.7 0a2.35 2.35 0 1 0 -4.7 0M176.68 87.15a2.35 2.35 0 1 0 4.7 0a2.35 2.35 0 1 0 -4.7 0M183.71 87.18a2.35 2.35 0 1 0 4.7 0a2.35 2.35 0 1 0 -4.7 0M190.34 87.07a2.35 2.35 0 1 0 4.7 0a2.35 2.35 0 1 0 -4.7 0M197.25 86.99a2.35 2.35 0 1 0 4.7 0a2.35 2.35 0 1 0 -4.7 0M204.04 86.99a2.35 2.35 0 1 0 4.7 0a2.35 2.35 0 1 0 -4.7 0M210.95 87.14a2.35 2.35 0 1 0 4.7 0a2.35 2.35 0 1 0 -4.7 0M217.77 86.97a2.35 2.35 0 1 0 4.7 0a2.35 2.35 0 1 0 -4.7 0M224.19 87.05a2.35 2.35 0 1 0 4.7 0a2.35 2.35 0 1 0 -4.7 0M231.18 86.66a2.35 2.35 0 1 0 4.7 0a2.35 2.35 0 1 0 -4.7 0M237.94 86.88a2.35 2.35 0 1 0 4.7 0a2.35 2.35 0 1 0 -4.7 0M125.71 81.09a2.35 2.35 0 1 0 4.7 0a2.35 2.35 0 1 0 -4.7 0M132.62 80.63a2.35 2.35 0 1 0 4.7 0a2.35 2.35 0 1 0 -4.7 0M139.1 80.55a2.35 2.35 0 1 0 4.7 0a2.35 2.35 0 1 0 -4.7 0M146.05 80.98a2.35 2.35 0 1 0 4.7 0a2.35 2.35 0 1 0 -4.7 0M153.1 80.95a2.35 2.35 0 1 0 4.7 0a2.35 2.35 0 1 0 -4.7 0M159.47 80.73a2.35 2.35 0 1 0 4.7 0a2.35 2.35 0 1 0 -4.7 0M166.27 80.58a2.35 2.35 0 1 0 4.7 0a2.35 2.35 0 1 0 -4.7 0M173.42 81.07a2.35 2.35 0 1 0 4.7 0a2.35 2.35 0 1 0 -4.7 0M179.82 80.94a2.35 2.35 0 1 0 4.7 0a2.35 2.35 0 1 0 -4.7 0M187.27 80.88a2.35 2.35 0 1 0 4.7 0a2.35 2.35 0 1 0 -4.7 0M193.99 80.53a2.35 2.35 0 1 0 4.7 0a2.35 2.35 0 1 0 -4.7 0M200.27 80.73a2.35 2.35 0 1 0 4.7 0a2.35 2.35 0 1 0 -4.7 0M207.26 80.57a2.35 2.35 0 1 0 4.7 0a2.35 2.35 0 1 0 -4.7 0M214.37 80.77a2.35 2.35 0 1 0 4.7 0a2.35 2.35 0 1 0 -4.7 0M220.75 80.95a2.35 2.35 0 1 0 4.7 0a2.35 2.35 0 1 0 -4.7 0M227.82 81.09a2.35 2.35 0 1 0 4.7 0a2.35 2.35 0 1 0 -4.7 0M234.23 81.01a2.35 2.35 0 1 0 4.7 0a2.35 2.35 0 1 0 -4.7 0M241.22 80.72a2.35 2.35 0 1 0 4.7 0a2.35 2.35 0 1 0 -4.7 0M143.04 74.95a2.35 2.35 0 1 0 4.7 0a2.35 2.35 0 1 0 -4.7 0M149.24 74.41a2.35 2.35 0 1 0 4.7 0a2.35 2.35 0 1 0 -4.7 0M156.33 74.61a2.35 2.35 0 1 0 4.7 0a2.35 2.35 0 1 0 -4.7 0M162.83 74.72a2.35 2.35 0 1 0 4.7 0a2.35 2.35 0 1 0 -4.7 0M169.69 74.63a2.35 2.35 0 1 0 4.7 0a2.35 2.35 0 1 0 -4.7 0M177.02 74.37a2.35 2.35 0 1 0 4.7 0a2.35 2.35 0 1 0 -4.7 0M183.26 74.91a2.35 2.35 0 1 0 4.7 0a2.35 2.35 0 1 0 -4.7 0M190.02 74.62a2.35 2.35 0 1 0 4.7 0a2.35 2.35 0 1 0 -4.7 0M197.02 74.44a2.35 2.35 0 1 0 4.7 0a2.35 2.35 0 1 0 -4.7 0M204.16 74.95a2.35 2.35 0 1 0 4.7 0a2.35 2.35 0 1 0 -4.7 0M210.7 74.52a2.35 2.35 0 1 0 4.7 0a2.35 2.35 0 1 0 -4.7 0M217.43 74.59a2.35 2.35 0 1 0 4.7 0a2.35 2.35 0 1 0 -4.7 0M224.67 74.76a2.35 2.35 0 1 0 4.7 0a2.35 2.35 0 1 0 -4.7 0M231.26 74.66a2.35 2.35 0 1 0 4.7 0a2.35 2.35 0 1 0 -4.7 0M238.1 74.93a2.35 2.35 0 1 0 4.7 0a2.35 2.35 0 1 0 -4.7 0M244.77 74.98a2.35 2.35 0 1 0 4.7 0a2.35 2.35 0 1 0 -4.7 0M166.25 68.3a2.35 2.35 0 1 0 4.7 0a2.35 2.35 0 1 0 -4.7 0M173.45 68.37a2.35 2.35 0 1 0 4.7 0a2.35 2.35 0 1 0 -4.7 0M179.82 68.51a2.35 2.35 0 1 0 4.7 0a2.35 2.35 0 1 0 -4.7 0M187.1 68.45a2.35 2.35 0 1 0 4.7 0a2.35 2.35 0 1 0 -4.7 0M193.82 68.86a2.35 2.35 0 1 0 4.7 0a2.35 2.35 0 1 0 -4.7 0M200.5 68.72a2.35 2.35 0 1 0 4.7 0a2.35 2.35 0 1 0 -4.7 0M207.66 68.81a2.35 2.35 0 1 0 4.7 0a2.35 2.35 0 1 0 -4.7 0M214.37 68.95a2.35 2.35 0 1 0 4.7 0a2.35 2.35 0 1 0 -4.7 0M220.74 68.77a2.35 2.35 0 1 0 4.7 0a2.35 2.35 0 1 0 -4.7 0M227.76 68.59a2.35 2.35 0 1 0 4.7 0a2.35 2.35 0 1 0 -4.7 0M234.82 68.81a2.35 2.35 0 1 0 4.7 0a2.35 2.35 0 1 0 -4.7 0M241.03 68.85a2.35 2.35 0 1 0 4.7 0a2.35 2.35 0 1 0 -4.7 0M247.93 68.46a2.35 2.35 0 1 0 4.7 0a2.35 2.35 0 1 0 -4.7 0M183.88 62.31a2.35 2.35 0 1 0 4.7 0a2.35 2.35 0 1 0 -4.7 0M190.18 62.49a2.35 2.35 0 1 0 4.7 0a2.35 2.35 0 1 0 -4.7 0M197.08 62.66a2.35 2.35 0 1 0 4.7 0a2.35 2.35 0 1 0 -4.7 0M203.66 62.58a2.35 2.35 0 1 0 4.7 0a2.35 2.35 0 1 0 -4.7 0M210.78 62.52a2.35 2.35 0 1 0 4.7 0a2.35 2.35 0 1 0 -4.7 0M217.86 62.83a2.35 2.35 0 1 0 4.7 0a2.35 2.35 0 1 0 -4.7 0M224.39 62.44a2.35 2.35 0 1 0 4.7 0a2.35 2.35 0 1 0 -4.7 0M230.88 62.34a2.35 2.35 0 1 0 4.7 0a2.35 2.35 0 1 0 -4.7 0M237.94 62.71a2.35 2.35 0 1 0 4.7 0a2.35 2.35 0 1 0 -4.7 0M244.95 62.62a2.35 2.35 0 1 0 4.7 0a2.35 2.35 0 1 0 -4.7 0M251.47 62.62a2.35 2.35 0 1 0 4.7 0a2.35 2.35 0 1 0 -4.7 0M200.69 56.44a2.35 2.35 0 1 0 4.7 0a2.35 2.35 0 1 0 -4.7 0M207.16 56.19a2.35 2.35 0 1 0 4.7 0a2.35 2.35 0 1 0 -4.7 0M214.42 56.35a2.35 2.35 0 1 0 4.7 0a2.35 2.35 0 1 0 -4.7 0M220.61 56.26a2.35 2.35 0 1 0 4.7 0a2.35 2.35 0 1 0 -4.7 0M227.46 56.21a2.35 2.35 0 1 0 4.7 0a2.35 2.35 0 1 0 -4.7 0M234.89 56.29a2.35 2.35 0 1 0 4.7 0a2.35 2.35 0 1 0 -4.7 0M241.36 56.07a2.35 2.35 0 1 0 4.7 0a2.35 2.35 0 1 0 -4.7 0M247.9 56.23a2.35 2.35 0 1 0 4.7 0a2.35 2.35 0 1 0 -4.7 0M255.08 56.08a2.35 2.35 0 1 0 4.7 0a2.35 2.35 0 1 0 -4.7 0M217.21 50.62a2.35 2.35 0 1 0 4.7 0a2.35 2.35 0 1 0 -4.7 0M224.45 50.22a2.35 2.35 0 1 0 4.7 0a2.35 2.35 0 1 0 -4.7 0M231.42 50.27a2.35 2.35 0 1 0 4.7 0a2.35 2.35 0 1 0 -4.7 0M238.02 50.25a2.35 2.35 0 1 0 4.7 0a2.35 2.35 0 1 0 -4.7 0M244.69 50.37a2.35 2.35 0 1 0 4.7 0a2.35 2.35 0 1 0 -4.7 0M251.53 49.98a2.35 2.35 0 1 0 4.7 0a2.35 2.35 0 1 0 -4.7 0M241.28 44.29a2.35 2.35 0 1 0 4.7 0a2.35 2.35 0 1 0 -4.7 0M248.44 44.23a2.35 2.35 0 1 0 4.7 0a2.35 2.35 0 1 0 -4.7 0" fill="none" stroke="#f02a2a" stroke-width="1.0" opacity="0.72"/>
<path clip-path="url(#dama)" d="M221.2 105.11a2.3 2.3 0 1 0 4.6 0a2.3 2.3 0 1 0 -4.6 0M238.17 99.23a2.3 2.3 0 1 0 4.6 0a2.3 2.3 0 1 0 -4.6 0M234.33 93.07a2.3 2.3 0 1 0 4.6 0a2.3 2.3 0 1 0 -4.6 0M241.13 92.86a2.3 2.3 0 1 0 4.6 0a2.3 2.3 0 1 0 -4.6 0M248.37 92.65a2.3 2.3 0 1 0 4.6 0a2.3 2.3 0 1 0 -4.6 0M244.81 87.07a2.3 2.3 0 1 0 4.6 0a2.3 2.3 0 1 0 -4.6 0M251.5 87.01a2.3 2.3 0 1 0 4.6 0a2.3 2.3 0 1 0 -4.6 0M258.41 87.21a2.3 2.3 0 1 0 4.6 0a2.3 2.3 0 1 0 -4.6 0M261.46 80.55a2.3 2.3 0 1 0 4.6 0a2.3 2.3 0 1 0 -4.6 0M268.29 80.72a2.3 2.3 0 1 0 4.6 0a2.3 2.3 0 1 0 -4.6 0M251.45 74.46a2.3 2.3 0 1 0 4.6 0a2.3 2.3 0 1 0 -4.6 0M258.41 74.42a2.3 2.3 0 1 0 4.6 0a2.3 2.3 0 1 0 -4.6 0M272.11 74.57a2.3 2.3 0 1 0 4.6 0a2.3 2.3 0 1 0 -4.6 0M278.7 74.58a2.3 2.3 0 1 0 4.6 0a2.3 2.3 0 1 0 -4.6 0M254.65 68.33a2.3 2.3 0 1 0 4.6 0a2.3 2.3 0 1 0 -4.6 0M268.63 68.65a2.3 2.3 0 1 0 4.6 0a2.3 2.3 0 1 0 -4.6 0M282.52 68.54a2.3 2.3 0 1 0 4.6 0a2.3 2.3 0 1 0 -4.6 0M258.41 62.78a2.3 2.3 0 1 0 4.6 0a2.3 2.3 0 1 0 -4.6 0M265.45 62.22a2.3 2.3 0 1 0 4.6 0a2.3 2.3 0 1 0 -4.6 0M272.28 62.29a2.3 2.3 0 1 0 4.6 0a2.3 2.3 0 1 0 -4.6 0M261.96 56.12a2.3 2.3 0 1 0 4.6 0a2.3 2.3 0 1 0 -4.6 0M268.44 56.08a2.3 2.3 0 1 0 4.6 0a2.3 2.3 0 1 0 -4.6 0M282.3 56.22a2.3 2.3 0 1 0 4.6 0a2.3 2.3 0 1 0 -4.6 0M288.84 56.41a2.3 2.3 0 1 0 4.6 0a2.3 2.3 0 1 0 -4.6 0M258.05 49.98a2.3 2.3 0 1 0 4.6 0a2.3 2.3 0 1 0 -4.6 0M264.95 50.31a2.3 2.3 0 1 0 4.6 0a2.3 2.3 0 1 0 -4.6 0M285.42 50.52a2.3 2.3 0 1 0 4.6 0a2.3 2.3 0 1 0 -4.6 0M262.09 44.31a2.3 2.3 0 1 0 4.6 0a2.3 2.3 0 1 0 -4.6 0M275.72 43.97a2.3 2.3 0 1 0 4.6 0a2.3 2.3 0 1 0 -4.6 0M282.21 44.15a2.3 2.3 0 1 0 4.6 0a2.3 2.3 0 1 0 -4.6 0M289.31 44.36a2.3 2.3 0 1 0 4.6 0a2.3 2.3 0 1 0 -4.6 0M265.1 38.34a2.3 2.3 0 1 0 4.6 0a2.3 2.3 0 1 0 -4.6 0M272.15 37.99a2.3 2.3 0 1 0 4.6 0a2.3 2.3 0 1 0 -4.6 0M278.51 38.33a2.3 2.3 0 1 0 4.6 0a2.3 2.3 0 1 0 -4.6 0M292.46 38.18a2.3 2.3 0 1 0 4.6 0a2.3 2.3 0 1 0 -4.6 0M282.13 32.35a2.3 2.3 0 1 0 4.6 0a2.3 2.3 0 1 0 -4.6 0M289.24 32.1a2.3 2.3 0 1 0 4.6 0a2.3 2.3 0 1 0 -4.6 0" fill="#f03030" fill-opacity="0.15" stroke="none"/>
<path clip-path="url(#dama)" d="M221.2 105.11a2.3 2.3 0 1 0 4.6 0a2.3 2.3 0 1 0 -4.6 0M238.17 99.23a2.3 2.3 0 1 0 4.6 0a2.3 2.3 0 1 0 -4.6 0M234.33 93.07a2.3 2.3 0 1 0 4.6 0a2.3 2.3 0 1 0 -4.6 0M241.13 92.86a2.3 2.3 0 1 0 4.6 0a2.3 2.3 0 1 0 -4.6 0M248.37 92.65a2.3 2.3 0 1 0 4.6 0a2.3 2.3 0 1 0 -4.6 0M244.81 87.07a2.3 2.3 0 1 0 4.6 0a2.3 2.3 0 1 0 -4.6 0M251.5 87.01a2.3 2.3 0 1 0 4.6 0a2.3 2.3 0 1 0 -4.6 0M258.41 87.21a2.3 2.3 0 1 0 4.6 0a2.3 2.3 0 1 0 -4.6 0M261.46 80.55a2.3 2.3 0 1 0 4.6 0a2.3 2.3 0 1 0 -4.6 0M268.29 80.72a2.3 2.3 0 1 0 4.6 0a2.3 2.3 0 1 0 -4.6 0M251.45 74.46a2.3 2.3 0 1 0 4.6 0a2.3 2.3 0 1 0 -4.6 0M258.41 74.42a2.3 2.3 0 1 0 4.6 0a2.3 2.3 0 1 0 -4.6 0M272.11 74.57a2.3 2.3 0 1 0 4.6 0a2.3 2.3 0 1 0 -4.6 0M278.7 74.58a2.3 2.3 0 1 0 4.6 0a2.3 2.3 0 1 0 -4.6 0M254.65 68.33a2.3 2.3 0 1 0 4.6 0a2.3 2.3 0 1 0 -4.6 0M268.63 68.65a2.3 2.3 0 1 0 4.6 0a2.3 2.3 0 1 0 -4.6 0M282.52 68.54a2.3 2.3 0 1 0 4.6 0a2.3 2.3 0 1 0 -4.6 0M258.41 62.78a2.3 2.3 0 1 0 4.6 0a2.3 2.3 0 1 0 -4.6 0M265.45 62.22a2.3 2.3 0 1 0 4.6 0a2.3 2.3 0 1 0 -4.6 0M272.28 62.29a2.3 2.3 0 1 0 4.6 0a2.3 2.3 0 1 0 -4.6 0M261.96 56.12a2.3 2.3 0 1 0 4.6 0a2.3 2.3 0 1 0 -4.6 0M268.44 56.08a2.3 2.3 0 1 0 4.6 0a2.3 2.3 0 1 0 -4.6 0M282.3 56.22a2.3 2.3 0 1 0 4.6 0a2.3 2.3 0 1 0 -4.6 0M288.84 56.41a2.3 2.3 0 1 0 4.6 0a2.3 2.3 0 1 0 -4.6 0M258.05 49.98a2.3 2.3 0 1 0 4.6 0a2.3 2.3 0 1 0 -4.6 0M264.95 50.31a2.3 2.3 0 1 0 4.6 0a2.3 2.3 0 1 0 -4.6 0M285.42 50.52a2.3 2.3 0 1 0 4.6 0a2.3 2.3 0 1 0 -4.6 0M262.09 44.31a2.3 2.3 0 1 0 4.6 0a2.3 2.3 0 1 0 -4.6 0M275.72 43.97a2.3 2.3 0 1 0 4.6 0a2.3 2.3 0 1 0 -4.6 0M282.21 44.15a2.3 2.3 0 1 0 4.6 0a2.3 2.3 0 1 0 -4.6 0M289.31 44.36a2.3 2.3 0 1 0 4.6 0a2.3 2.3 0 1 0 -4.6 0M265.1 38.34a2.3 2.3 0 1 0 4.6 0a2.3 2.3 0 1 0 -4.6 0M272.15 37.99a2.3 2.3 0 1 0 4.6 0a2.3 2.3 0 1 0 -4.6 0M278.51 38.33a2.3 2.3 0 1 0 4.6 0a2.3 2.3 0 1 0 -4.6 0M292.46 38.18a2.3 2.3 0 1 0 4.6 0a2.3 2.3 0 1 0 -4.6 0M282.13 32.35a2.3 2.3 0 1 0 4.6 0a2.3 2.3 0 1 0 -4.6 0M289.24 32.1a2.3 2.3 0 1 0 4.6 0a2.3 2.3 0 1 0 -4.6 0" fill="none" stroke="#f50a0a" stroke-width="1.05" stroke-dasharray="1 0.85"/>
<path clip-path="url(#dama)" d="M62.57 110.95a1.25 1.25 0 1 0 2.5 0a1.25 1.25 0 1 0 -2.5 0M89.4 110.99a1.25 1.25 0 1 0 2.5 0a1.25 1.25 0 1 0 -2.5 0M119.93 105.46a1.25 1.25 0 1 0 2.5 0a1.25 1.25 0 1 0 -2.5 0M126.51 104.99a1.25 1.25 0 1 0 2.5 0a1.25 1.25 0 1 0 -2.5 0M133.99 105.4a1.25 1.25 0 1 0 2.5 0a1.25 1.25 0 1 0 -2.5 0M140.25 105.32a1.25 1.25 0 1 0 2.5 0a1.25 1.25 0 1 0 -2.5 0M147.55 105.09a1.25 1.25 0 1 0 2.5 0a1.25 1.25 0 1 0 -2.5 0M154.18 105.19a1.25 1.25 0 1 0 2.5 0a1.25 1.25 0 1 0 -2.5 0M160.66 105.36a1.25 1.25 0 1 0 2.5 0a1.25 1.25 0 1 0 -2.5 0M167.42 105.49a1.25 1.25 0 1 0 2.5 0a1.25 1.25 0 1 0 -2.5 0M174.63 105.27a1.25 1.25 0 1 0 2.5 0a1.25 1.25 0 1 0 -2.5 0M181.16 105.09a1.25 1.25 0 1 0 2.5 0a1.25 1.25 0 1 0 -2.5 0M188.31 105.27a1.25 1.25 0 1 0 2.5 0a1.25 1.25 0 1 0 -2.5 0M195.12 104.94a1.25 1.25 0 1 0 2.5 0a1.25 1.25 0 1 0 -2.5 0M201.37 104.88a1.25 1.25 0 1 0 2.5 0a1.25 1.25 0 1 0 -2.5 0M208.71 105.4a1.25 1.25 0 1 0 2.5 0a1.25 1.25 0 1 0 -2.5 0M222.5 105.11a1 1 0 1 0 2 0a1 1 0 1 0 -2 0M116.47 98.81a1.25 1.25 0 1 0 2.5 0a1.25 1.25 0 1 0 -2.5 0M123.79 99.06a1.25 1.25 0 1 0 2.5 0a1.25 1.25 0 1 0 -2.5 0M130.35 99.41a1.25 1.25 0 1 0 2.5 0a1.25 1.25 0 1 0 -2.5 0M136.91 98.98a1.25 1.25 0 1 0 2.5 0a1.25 1.25 0 1 0 -2.5 0M144.09 99.38a1.25 1.25 0 1 0 2.5 0a1.25 1.25 0 1 0 -2.5 0M150.53 99.13a1.25 1.25 0 1 0 2.5 0a1.25 1.25 0 1 0 -2.5 0M157.52 98.92a1.25 1.25 0 1 0 2.5 0a1.25 1.25 0 1 0 -2.5 0M164.07 98.8a1.25 1.25 0 1 0 2.5 0a1.25 1.25 0 1 0 -2.5 0M170.75 98.8a1.25 1.25 0 1 0 2.5 0a1.25 1.25 0 1 0 -2.5 0M177.7 99.3a1.25 1.25 0 1 0 2.5 0a1.25 1.25 0 1 0 -2.5 0M184.9 98.86a1.25 1.25 0 1 0 2.5 0a1.25 1.25 0 1 0 -2.5 0M191.66 98.8a1.25 1.25 0 1 0 2.5 0a1.25 1.25 0 1 0 -2.5 0M198.02 99.29a1.25 1.25 0 1 0 2.5 0a1.25 1.25 0 1 0 -2.5 0M205.28 98.97a1.25 1.25 0 1 0 2.5 0a1.25 1.25 0 1 0 -2.5 0M211.86 99.39a1.25 1.25 0 1 0 2.5 0a1.25 1.25 0 1 0 -2.5 0M218.93 98.85a1.25 1.25 0 1 0 2.5 0a1.25 1.25 0 1 0 -2.5 0M239.47 99.23a1 1 0 1 0 2 0a1 1 0 1 0 -2 0M120.06 93.26a1.25 1.25 0 1 0 2.5 0a1.25 1.25 0 1 0 -2.5 0M127.04 93.27a1.25 1.25 0 1 0 2.5 0a1.25 1.25 0 1 0 -2.5 0M133.78 93.24a1.25 1.25 0 1 0 2.5 0a1.25 1.25 0 1 0 -2.5 0M140.59 93.17a1.25 1.25 0 1 0 2.5 0a1.25 1.25 0 1 0 -2.5 0M147.5 93.28a1.25 1.25 0 1 0 2.5 0a1.25 1.25 0 1 0 -2.5 0M154.1 92.77a1.25 1.25 0 1 0 2.5 0a1.25 1.25 0 1 0 -2.5 0M160.65 93.05a1.25 1.25 0 1 0 2.5 0a1.25 1.25 0 1 0 -2.5 0M167.34 93.13a1.25 1.25 0 1 0 2.5 0a1.25 1.25 0 1 0 -2.5 0M174.34 93.01a1.25 1.25 0 1 0 2.5 0a1.25 1.25 0 1 0 -2.5 0M181.41 92.68a1.25 1.25 0 1 0 2.5 0a1.25 1.25 0 1 0 -2.5 0M188.27 93.09a1.25 1.25 0 1 0 2.5 0a1.25 1.25 0 1 0 -2.5 0M195.14 93.32a1.25 1.25 0 1 0 2.5 0a1.25 1.25 0 1 0 -2.5 0M201.84 93.24a1.25 1.25 0 1 0 2.5 0a1.25 1.25 0 1 0 -2.5 0M208.59 92.96a1.25 1.25 0 1 0 2.5 0a1.25 1.25 0 1 0 -2.5 0M215.58 92.92a1.25 1.25 0 1 0 2.5 0a1.25 1.25 0 1 0 -2.5 0M222 92.77a1.25 1.25 0 1 0 2.5 0a1.25 1.25 0 1 0 -2.5 0M228.59 93.29a1.25 1.25 0 1 0 2.5 0a1.25 1.25 0 1 0 -2.5 0M235.63 93.07a1 1 0 1 0 2 0a1 1 0 1 0 -2 0M242.43 92.86a1 1 0 1 0 2 0a1 1 0 1 0 -2 0M249.67 92.65a1 1 0 1 0 2 0a1 1 0 1 0 -2 0M116.58 87.1a1.25 1.25 0 1 0 2.5 0a1.25 1.25 0 1 0 -2.5 0M123.44 87a1.25 1.25 0 1 0 2.5 0a1.25 1.25 0 1 0 -2.5 0M130.04 86.55a1.25 1.25 0 1 0 2.5 0a1.25 1.25 0 1 0 -2.5 0M137.12 87.17a1.25 1.25 0 1 0 2.5 0a1.25 1.25 0 1 0 -2.5 0M143.86 87.24a1.25 1.25 0 1 0 2.5 0a1.25 1.25 0 1 0 -2.5 0M150.88 86.84a1.25 1.25 0 1 0 2.5 0a1.25 1.25 0 1 0 -2.5 0M157.79 86.76a1.25 1.25 0 1 0 2.5 0a1.25 1.25 0 1 0 -2.5 0M164.33 86.92a1.25 1.25 0 1 0 2.5 0a1.25 1.25 0 1 0 -2.5 0M170.7 86.82a1.25 1.25 0 1 0 2.5 0a1.25 1.25 0 1 0 -2.5 0M177.78 87.15a1.25 1.25 0 1 0 2.5 0a1.25 1.25 0 1 0 -2.5 0M184.81 87.18a1.25 1.25 0 1 0 2.5 0a1.25 1.25 0 1 0 -2.5 0M191.44 87.07a1.25 1.25 0 1 0 2.5 0a1.25 1.25 0 1 0 -2.5 0M198.35 86.99a1.25 1.25 0 1 0 2.5 0a1.25 1.25 0 1 0 -2.5 0M205.14 86.99a1.25 1.25 0 1 0 2.5 0a1.25 1.25 0 1 0 -2.5 0M212.05 87.14a1.25 1.25 0 1 0 2.5 0a1.25 1.25 0 1 0 -2.5 0M218.87 86.97a1.25 1.25 0 1 0 2.5 0a1.25 1.25 0 1 0 -2.5 0M225.29 87.05a1.25 1.25 0 1 0 2.5 0a1.25 1.25 0 1 0 -2.5 0M232.28 86.66a1.25 1.25 0 1 0 2.5 0a1.25 1.25 0 1 0 -2.5 0M239.04 86.88a1.25 1.25 0 1 0 2.5 0a1.25 1.25 0 1 0 -2.5 0M246.11 87.07a1 1 0 1 0 2 0a1 1 0 1 0 -2 0M252.8 87.01a1 1 0 1 0 2 0a1 1 0 1 0 -2 0M259.71 87.21a1 1 0 1 0 2 0a1 1 0 1 0 -2 0M126.81 81.09a1.25 1.25 0 1 0 2.5 0a1.25 1.25 0 1 0 -2.5 0M133.72 80.63a1.25 1.25 0 1 0 2.5 0a1.25 1.25 0 1 0 -2.5 0M140.2 80.55a1.25 1.25 0 1 0 2.5 0a1.25 1.25 0 1 0 -2.5 0M147.15 80.98a1.25 1.25 0 1 0 2.5 0a1.25 1.25 0 1 0 -2.5 0M154.2 80.95a1.25 1.25 0 1 0 2.5 0a1.25 1.25 0 1 0 -2.5 0M160.57 80.73a1.25 1.25 0 1 0 2.5 0a1.25 1.25 0 1 0 -2.5 0M167.37 80.58a1.25 1.25 0 1 0 2.5 0a1.25 1.25 0 1 0 -2.5 0M174.52 81.07a1.25 1.25 0 1 0 2.5 0a1.25 1.25 0 1 0 -2.5 0M180.92 80.94a1.25 1.25 0 1 0 2.5 0a1.25 1.25 0 1 0 -2.5 0M188.37 80.88a1.25 1.25 0 1 0 2.5 0a1.25 1.25 0 1 0 -2.5 0M195.09 80.53a1.25 1.25 0 1 0 2.5 0a1.25 1.25 0 1 0 -2.5 0M201.37 80.73a1.25 1.25 0 1 0 2.5 0a1.25 1.25 0 1 0 -2.5 0M208.36 80.57a1.25 1.25 0 1 0 2.5 0a1.25 1.25 0 1 0 -2.5 0M215.47 80.77a1.25 1.25 0 1 0 2.5 0a1.25 1.25 0 1 0 -2.5 0M221.85 80.95a1.25 1.25 0 1 0 2.5 0a1.25 1.25 0 1 0 -2.5 0M228.92 81.09a1.25 1.25 0 1 0 2.5 0a1.25 1.25 0 1 0 -2.5 0M235.33 81.01a1.25 1.25 0 1 0 2.5 0a1.25 1.25 0 1 0 -2.5 0M242.32 80.72a1.25 1.25 0 1 0 2.5 0a1.25 1.25 0 1 0 -2.5 0M262.76 80.55a1 1 0 1 0 2 0a1 1 0 1 0 -2 0M269.59 80.72a1 1 0 1 0 2 0a1 1 0 1 0 -2 0M144.14 74.95a1.25 1.25 0 1 0 2.5 0a1.25 1.25 0 1 0 -2.5 0M150.34 74.41a1.25 1.25 0 1 0 2.5 0a1.25 1.25 0 1 0 -2.5 0M157.43 74.61a1.25 1.25 0 1 0 2.5 0a1.25 1.25 0 1 0 -2.5 0M163.93 74.72a1.25 1.25 0 1 0 2.5 0a1.25 1.25 0 1 0 -2.5 0M170.79 74.63a1.25 1.25 0 1 0 2.5 0a1.25 1.25 0 1 0 -2.5 0M178.12 74.37a1.25 1.25 0 1 0 2.5 0a1.25 1.25 0 1 0 -2.5 0M184.36 74.91a1.25 1.25 0 1 0 2.5 0a1.25 1.25 0 1 0 -2.5 0M191.12 74.62a1.25 1.25 0 1 0 2.5 0a1.25 1.25 0 1 0 -2.5 0M198.12 74.44a1.25 1.25 0 1 0 2.5 0a1.25 1.25 0 1 0 -2.5 0M205.26 74.95a1.25 1.25 0 1 0 2.5 0a1.25 1.25 0 1 0 -2.5 0M211.8 74.52a1.25 1.25 0 1 0 2.5 0a1.25 1.25 0 1 0 -2.5 0M218.53 74.59a1.25 1.25 0 1 0 2.5 0a1.25 1.25 0 1 0 -2.5 0M225.77 74.76a1.25 1.25 0 1 0 2.5 0a1.25 1.25 0 1 0 -2.5 0M232.36 74.66a1.25 1.25 0 1 0 2.5 0a1.25 1.25 0 1 0 -2.5 0M239.2 74.93a1.25 1.25 0 1 0 2.5 0a1.25 1.25 0 1 0 -2.5 0M245.87 74.98a1.25 1.25 0 1 0 2.5 0a1.25 1.25 0 1 0 -2.5 0M252.75 74.46a1 1 0 1 0 2 0a1 1 0 1 0 -2 0M259.71 74.42a1 1 0 1 0 2 0a1 1 0 1 0 -2 0M273.41 74.57a1 1 0 1 0 2 0a1 1 0 1 0 -2 0M280 74.58a1 1 0 1 0 2 0a1 1 0 1 0 -2 0M167.35 68.3a1.25 1.25 0 1 0 2.5 0a1.25 1.25 0 1 0 -2.5 0M174.55 68.37a1.25 1.25 0 1 0 2.5 0a1.25 1.25 0 1 0 -2.5 0M180.92 68.51a1.25 1.25 0 1 0 2.5 0a1.25 1.25 0 1 0 -2.5 0M188.2 68.45a1.25 1.25 0 1 0 2.5 0a1.25 1.25 0 1 0 -2.5 0M194.92 68.86a1.25 1.25 0 1 0 2.5 0a1.25 1.25 0 1 0 -2.5 0M201.6 68.72a1.25 1.25 0 1 0 2.5 0a1.25 1.25 0 1 0 -2.5 0M208.76 68.81a1.25 1.25 0 1 0 2.5 0a1.25 1.25 0 1 0 -2.5 0M215.47 68.95a1.25 1.25 0 1 0 2.5 0a1.25 1.25 0 1 0 -2.5 0M221.84 68.77a1.25 1.25 0 1 0 2.5 0a1.25 1.25 0 1 0 -2.5 0M228.86 68.59a1.25 1.25 0 1 0 2.5 0a1.25 1.25 0 1 0 -2.5 0M235.92 68.81a1.25 1.25 0 1 0 2.5 0a1.25 1.25 0 1 0 -2.5 0M242.13 68.85a1.25 1.25 0 1 0 2.5 0a1.25 1.25 0 1 0 -2.5 0M249.03 68.46a1.25 1.25 0 1 0 2.5 0a1.25 1.25 0 1 0 -2.5 0M255.95 68.33a1 1 0 1 0 2 0a1 1 0 1 0 -2 0M269.93 68.65a1 1 0 1 0 2 0a1 1 0 1 0 -2 0M283.82 68.54a1 1 0 1 0 2 0a1 1 0 1 0 -2 0M184.98 62.31a1.25 1.25 0 1 0 2.5 0a1.25 1.25 0 1 0 -2.5 0M191.28 62.49a1.25 1.25 0 1 0 2.5 0a1.25 1.25 0 1 0 -2.5 0M198.18 62.66a1.25 1.25 0 1 0 2.5 0a1.25 1.25 0 1 0 -2.5 0M204.76 62.58a1.25 1.25 0 1 0 2.5 0a1.25 1.25 0 1 0 -2.5 0M211.88 62.52a1.25 1.25 0 1 0 2.5 0a1.25 1.25 0 1 0 -2.5 0M218.96 62.83a1.25 1.25 0 1 0 2.5 0a1.25 1.25 0 1 0 -2.5 0M225.49 62.44a1.25 1.25 0 1 0 2.5 0a1.25 1.25 0 1 0 -2.5 0M231.98 62.34a1.25 1.25 0 1 0 2.5 0a1.25 1.25 0 1 0 -2.5 0M239.04 62.71a1.25 1.25 0 1 0 2.5 0a1.25 1.25 0 1 0 -2.5 0M246.05 62.62a1.25 1.25 0 1 0 2.5 0a1.25 1.25 0 1 0 -2.5 0M252.57 62.62a1.25 1.25 0 1 0 2.5 0a1.25 1.25 0 1 0 -2.5 0M259.71 62.78a1 1 0 1 0 2 0a1 1 0 1 0 -2 0M266.75 62.22a1 1 0 1 0 2 0a1 1 0 1 0 -2 0M273.58 62.29a1 1 0 1 0 2 0a1 1 0 1 0 -2 0M201.79 56.44a1.25 1.25 0 1 0 2.5 0a1.25 1.25 0 1 0 -2.5 0M208.26 56.19a1.25 1.25 0 1 0 2.5 0a1.25 1.25 0 1 0 -2.5 0M215.52 56.35a1.25 1.25 0 1 0 2.5 0a1.25 1.25 0 1 0 -2.5 0M221.71 56.26a1.25 1.25 0 1 0 2.5 0a1.25 1.25 0 1 0 -2.5 0M228.56 56.21a1.25 1.25 0 1 0 2.5 0a1.25 1.25 0 1 0 -2.5 0M235.99 56.29a1.25 1.25 0 1 0 2.5 0a1.25 1.25 0 1 0 -2.5 0M242.46 56.07a1.25 1.25 0 1 0 2.5 0a1.25 1.25 0 1 0 -2.5 0M249 56.23a1.25 1.25 0 1 0 2.5 0a1.25 1.25 0 1 0 -2.5 0M256.18 56.08a1.25 1.25 0 1 0 2.5 0a1.25 1.25 0 1 0 -2.5 0M263.26 56.12a1 1 0 1 0 2 0a1 1 0 1 0 -2 0M269.74 56.08a1 1 0 1 0 2 0a1 1 0 1 0 -2 0M283.6 56.22a1 1 0 1 0 2 0a1 1 0 1 0 -2 0M290.14 56.41a1 1 0 1 0 2 0a1 1 0 1 0 -2 0M218.31 50.62a1.25 1.25 0 1 0 2.5 0a1.25 1.25 0 1 0 -2.5 0M225.55 50.22a1.25 1.25 0 1 0 2.5 0a1.25 1.25 0 1 0 -2.5 0M232.52 50.27a1.25 1.25 0 1 0 2.5 0a1.25 1.25 0 1 0 -2.5 0M239.12 50.25a1.25 1.25 0 1 0 2.5 0a1.25 1.25 0 1 0 -2.5 0M245.79 50.37a1.25 1.25 0 1 0 2.5 0a1.25 1.25 0 1 0 -2.5 0M252.63 49.98a1.25 1.25 0 1 0 2.5 0a1.25 1.25 0 1 0 -2.5 0M259.35 49.98a1 1 0 1 0 2 0a1 1 0 1 0 -2 0M266.25 50.31a1 1 0 1 0 2 0a1 1 0 1 0 -2 0M286.72 50.52a1 1 0 1 0 2 0a1 1 0 1 0 -2 0M242.38 44.29a1.25 1.25 0 1 0 2.5 0a1.25 1.25 0 1 0 -2.5 0M249.54 44.23a1.25 1.25 0 1 0 2.5 0a1.25 1.25 0 1 0 -2.5 0M263.39 44.31a1 1 0 1 0 2 0a1 1 0 1 0 -2 0M277.02 43.97a1 1 0 1 0 2 0a1 1 0 1 0 -2 0M283.51 44.15a1 1 0 1 0 2 0a1 1 0 1 0 -2 0M290.61 44.36a1 1 0 1 0 2 0a1 1 0 1 0 -2 0M266.4 38.34a1 1 0 1 0 2 0a1 1 0 1 0 -2 0M273.45 37.99a1 1 0 1 0 2 0a1 1 0 1 0 -2 0M279.81 38.33a1 1 0 1 0 2 0a1 1 0 1 0 -2 0M293.76 38.18a1 1 0 1 0 2 0a1 1 0 1 0 -2 0M283.43 32.35a1 1 0 1 0 2 0a1 1 0 1 0 -2 0M290.54 32.1a1 1 0 1 0 2 0a1 1 0 1 0 -2 0" fill="#f50a0a"/>
<path d="M155.26 75.44a0.8 0.8 0 1 0 1.6 0a0.8 0.8 0 1 0 -1.6 0M123.53 86.4a0.86 0.86 0 1 0 1.71 0a0.86 0.86 0 1 0 -1.71 0M142.31 82a0.85 0.85 0 1 0 1.7 0a0.85 0.85 0 1 0 -1.7 0M124.92 83.14a0.64 0.64 0 1 0 1.29 0a0.64 0.64 0 1 0 -1.29 0M190.45 62.27a0.84 0.84 0 1 0 1.68 0a0.84 0.84 0 1 0 -1.68 0M175.78 70.34a0.65 0.65 0 1 0 1.29 0a0.65 0.65 0 1 0 -1.29 0M177.21 67.42a0.79 0.79 0 1 0 1.58 0a0.79 0.79 0 1 0 -1.58 0M228.55 50.86a0.78 0.78 0 1 0 1.57 0a0.78 0.78 0 1 0 -1.57 0M123.89 85.94a0.81 0.81 0 1 0 1.63 0a0.81 0.81 0 1 0 -1.63 0M167.03 69.96a0.6 0.6 0 1 0 1.2 0a0.6 0.6 0 1 0 -1.2 0M184.54 66.47a0.75 0.75 0 1 0 1.5 0a0.75 0.75 0 1 0 -1.5 0M109.37 93.4a0.72 0.72 0 1 0 1.44 0a0.72 0.72 0 1 0 -1.44 0M122.87 85.94a0.88 0.88 0 1 0 1.76 0a0.88 0.88 0 1 0 -1.76 0M143.27 78.89a0.91 0.91 0 1 0 1.83 0a0.91 0.91 0 1 0 -1.83 0M167.62 70.74a0.84 0.84 0 1 0 1.67 0a0.84 0.84 0 1 0 -1.67 0M205.46 57.31a1.08 1.08 0 1 0 2.16 0a1.08 1.08 0 1 0 -2.16 0M135.9 81.97a0.61 0.61 0 1 0 1.22 0a0.61 0.61 0 1 0 -1.22 0M201.19 56.24a0.78 0.78 0 1 0 1.55 0a0.78 0.78 0 1 0 -1.55 0M245.81 45.98a0.7 0.7 0 1 0 1.4 0a0.7 0.7 0 1 0 -1.4 0M238.32 49.11a0.79 0.79 0 1 0 1.59 0a0.79 0.79 0 1 0 -1.59 0M120.66 83.4a1.01 1.01 0 1 0 2.02 0a1.01 1.01 0 1 0 -2.02 0M246.2 42.2a0.84 0.84 0 1 0 1.67 0a0.84 0.84 0 1 0 -1.67 0M255.3 42.96a0.72 0.72 0 1 0 1.44 0a0.72 0.72 0 1 0 -1.44 0M113.57 92.01a0.76 0.76 0 1 0 1.52 0a0.76 0.76 0 1 0 -1.52 0M216.14 52.59a0.85 0.85 0 1 0 1.71 0a0.85 0.85 0 1 0 -1.71 0M220.14 52.76a0.85 0.85 0 1 0 1.69 0a0.85 0.85 0 1 0 -1.69 0M211.7 55.35a0.69 0.69 0 1 0 1.38 0a0.69 0.69 0 1 0 -1.38 0M127.62 82.66a0.87 0.87 0 1 0 1.74 0a0.87 0.87 0 1 0 -1.74 0M125.94 87.15a0.79 0.79 0 1 0 1.58 0a0.79 0.79 0 1 0 -1.58 0M183.03 62.39a0.98 0.98 0 1 0 1.95 0a0.98 0.98 0 1 0 -1.95 0M240.9 47.63a0.94 0.94 0 1 0 1.88 0a0.94 0.94 0 1 0 -1.88 0M136.66 77.95a0.71 0.71 0 1 0 1.41 0a0.71 0.71 0 1 0 -1.41 0M249.78 44.25a0.66 0.66 0 1 0 1.32 0a0.66 0.66 0 1 0 -1.32 0M145.22 76.27a0.89 0.89 0 1 0 1.78 0a0.89 0.89 0 1 0 -1.78 0M143.56 78.45a0.7 0.7 0 1 0 1.4 0a0.7 0.7 0 1 0 -1.4 0M256.82 40.38a0.7 0.7 0 1 0 1.39 0a0.7 0.7 0 1 0 -1.39 0M169.65 68.6a0.63 0.63 0 1 0 1.27 0a0.63 0.63 0 1 0 -1.27 0M125.25 81.92a1.06 1.06 0 1 0 2.12 0a1.06 1.06 0 1 0 -2.12 0M200.06 61.31a1.01 1.01 0 1 0 2.03 0a1.01 1.01 0 1 0 -2.03 0M124.8 83.22a1.07 1.07 0 1 0 2.14 0a1.07 1.07 0 1 0 -2.14 0M259.34 37.58a0.7 0.7 0 1 0 1.41 0a0.7 0.7 0 1 0 -1.41 0M124.08 83.23a0.76 0.76 0 1 0 1.52 0a0.76 0.76 0 1 0 -1.52 0M192.04 65.43a0.79 0.79 0 1 0 1.59 0a0.79 0.79 0 1 0 -1.59 0M195.85 58.4a0.88 0.88 0 1 0 1.75 0a0.88 0.88 0 1 0 -1.75 0M185.48 64.52a1.09 1.09 0 1 0 2.18 0a1.09 1.09 0 1 0 -2.18 0M210.08 54.41a0.69 0.69 0 1 0 1.38 0a0.69 0.69 0 1 0 -1.38 0M184.1 67.15a0.79 0.79 0 1 0 1.58 0a0.79 0.79 0 1 0 -1.58 0M168.31 69.5a0.83 0.83 0 1 0 1.66 0a0.83 0.83 0 1 0 -1.66 0M257.4 42.48a1.1 1.1 0 1 0 2.19 0a1.1 1.1 0 1 0 -2.19 0M212.18 57.97a1.05 1.05 0 1 0 2.09 0a1.05 1.05 0 1 0 -2.09 0M134.83 83.48a1.09 1.09 0 1 0 2.19 0a1.09 1.09 0 1 0 -2.19 0M126.42 82.9a0.73 0.73 0 1 0 1.46 0a0.73 0.73 0 1 0 -1.46 0M132.2 80.81a0.98 0.98 0 1 0 1.95 0a0.98 0.98 0 1 0 -1.95 0M192.93 65.17a0.95 0.95 0 1 0 1.9 0a0.95 0.95 0 1 0 -1.9 0M194.97 62.6a1.03 1.03 0 1 0 2.05 0a1.03 1.03 0 1 0 -2.05 0M211.73 53.93a0.72 0.72 0 1 0 1.43 0a0.72 0.72 0 1 0 -1.43 0M176.25 67.78a0.98 0.98 0 1 0 1.96 0a0.98 0.98 0 1 0 -1.96 0M110.74 89.37a0.85 0.85 0 1 0 1.7 0a0.85 0.85 0 1 0 -1.7 0M145.99 74.94a0.97 0.97 0 1 0 1.94 0a0.97 0.97 0 1 0 -1.94 0M189.55 60.57a1.07 1.07 0 1 0 2.15 0a1.07 1.07 0 1 0 -2.15 0M148.08 76.11a0.78 0.78 0 1 0 1.55 0a0.78 0.78 0 1 0 -1.55 0M112.51 91.31a0.92 0.92 0 1 0 1.84 0a0.92 0.92 0 1 0 -1.84 0M206.66 57.51a0.67 0.67 0 1 0 1.35 0a0.67 0.67 0 1 0 -1.35 0M256.14 42.48a1.02 1.02 0 1 0 2.04 0a1.02 1.02 0 1 0 -2.04 0M219.97 50.32a0.68 0.68 0 1 0 1.36 0a0.68 0.68 0 1 0 -1.36 0M178.42 66.8a0.98 0.98 0 1 0 1.97 0a0.98 0.98 0 1 0 -1.97 0M193.55 61.26a0.92 0.92 0 1 0 1.83 0a0.92 0.92 0 1 0 -1.83 0M184.29 61.94a0.83 0.83 0 1 0 1.67 0a0.83 0.83 0 1 0 -1.67 0M238.77 46.47a0.74 0.74 0 1 0 1.48 0a0.74 0.74 0 1 0 -1.48 0M119.85 88.81a0.81 0.81 0 1 0 1.61 0a0.81 0.81 0 1 0 -1.61 0M186.87 61.19a0.87 0.87 0 1 0 1.74 0a0.87 0.87 0 1 0 -1.74 0M243.78 44.35a0.84 0.84 0 1 0 1.68 0a0.84 0.84 0 1 0 -1.68 0M202.02 62.01a0.85 0.85 0 1 0 1.69 0a0.85 0.85 0 1 0 -1.69 0M178.87 68.47a0.66 0.66 0 1 0 1.32 0a0.66 0.66 0 1 0 -1.32 0M248.5 46.16a0.97 0.97 0 1 0 1.95 0a0.97 0.97 0 1 0 -1.95 0M142.67 78.6a0.62 0.62 0 1 0 1.23 0a0.62 0.62 0 1 0 -1.23 0M151.35 72.86a0.9 0.9 0 1 0 1.79 0a0.9 0.9 0 1 0 -1.79 0M180.97 68.07a0.92 0.92 0 1 0 1.85 0a0.92 0.92 0 1 0 -1.85 0M195.95 63.25a0.82 0.82 0 1 0 1.65 0a0.82 0.82 0 1 0 -1.65 0M157.17 73.54a1.02 1.02 0 1 0 2.05 0a1.02 1.02 0 1 0 -2.05 0M168.57 68.1a0.8 0.8 0 1 0 1.61 0a0.8 0.8 0 1 0 -1.61 0M240.24 46.15a1.03 1.03 0 1 0 2.06 0a1.03 1.03 0 1 0 -2.06 0M228.38 51.54a0.86 0.86 0 1 0 1.71 0a0.86 0.86 0 1 0 -1.71 0M177.49 68.93a0.67 0.67 0 1 0 1.35 0a0.67 0.67 0 1 0 -1.35 0M256.37 38.45a1.09 1.09 0 1 0 2.17 0a1.09 1.09 0 1 0 -2.17 0M179.24 64.45a0.78 0.78 0 1 0 1.56 0a0.78 0.78 0 1 0 -1.56 0M226.53 52.29a0.97 0.97 0 1 0 1.94 0a0.97 0.97 0 1 0 -1.94 0M117.92 84.92a0.72 0.72 0 1 0 1.45 0a0.72 0.72 0 1 0 -1.45 0M157.56 70.95a1 1 0 1 0 2.01 0a1 1 0 1 0 -2.01 0M227.09 51.32a0.74 0.74 0 1 0 1.48 0a0.74 0.74 0 1 0 -1.48 0M236.34 49.52a0.63 0.63 0 1 0 1.27 0a0.63 0.63 0 1 0 -1.27 0M139.58 82.14a0.99 0.99 0 1 0 1.99 0a0.99 0.99 0 1 0 -1.99 0M221.95 55.31a1.01 1.01 0 1 0 2.02 0a1.01 1.01 0 1 0 -2.02 0M235.35 49.41a0.81 0.81 0 1 0 1.62 0a0.81 0.81 0 1 0 -1.62 0M146.78 75.33a0.6 0.6 0 1 0 1.2 0a0.6 0.6 0 1 0 -1.2 0M192.29 61.06a0.61 0.61 0 1 0 1.22 0a0.61 0.61 0 1 0 -1.22 0M139.21 81.09a0.69 0.69 0 1 0 1.38 0a0.69 0.69 0 1 0 -1.38 0M162.67 72.42a0.79 0.79 0 1 0 1.58 0a0.79 0.79 0 1 0 -1.58 0M241.7 43.95a0.82 0.82 0 1 0 1.64 0a0.82 0.82 0 1 0 -1.64 0M253.51 41.56a0.82 0.82 0 1 0 1.63 0a0.82 0.82 0 1 0 -1.63 0M152.17 78.34a1 1 0 1 0 2.01 0a1 1 0 1 0 -2.01 0M192.86 63.51a0.96 0.96 0 1 0 1.92 0a0.96 0.96 0 1 0 -1.92 0M242.42 46.91a0.91 0.91 0 1 0 1.83 0a0.91 0.91 0 1 0 -1.83 0M139.52 81.2a1.07 1.07 0 1 0 2.13 0a1.07 1.07 0 1 0 -2.13 0M123.35 86.98a0.92 0.92 0 1 0 1.84 0a0.92 0.92 0 1 0 -1.84 0M246.84 45.37a0.71 0.71 0 1 0 1.42 0a0.71 0.71 0 1 0 -1.42 0M170.45 66.44a0.76 0.76 0 1 0 1.52 0a0.76 0.76 0 1 0 -1.52 0M144.58 78.76a1.07 1.07 0 1 0 2.15 0a1.07 1.07 0 1 0 -2.15 0M187.94 66.49a0.98 0.98 0 1 0 1.96 0a0.98 0.98 0 1 0 -1.96 0M166.28 68.62a0.85 0.85 0 1 0 1.7 0a0.85 0.85 0 1 0 -1.7 0M202.94 56.08a0.62 0.62 0 1 0 1.25 0a0.62 0.62 0 1 0 -1.25 0M163 70.5a1.01 1.01 0 1 0 2.02 0a1.01 1.01 0 1 0 -2.02 0M168.6 70.85a1.05 1.05 0 1 0 2.09 0a1.05 1.05 0 1 0 -2.09 0M169.85 71.87a1.06 1.06 0 1 0 2.12 0a1.06 1.06 0 1 0 -2.12 0M229.15 49.53a0.87 0.87 0 1 0 1.74 0a0.87 0.87 0 1 0 -1.74 0M203.13 57.85a0.74 0.74 0 1 0 1.48 0a0.74 0.74 0 1 0 -1.48 0M117.6 88.45a0.71 0.71 0 1 0 1.42 0a0.71 0.71 0 1 0 -1.42 0M124.72 83.24a0.91 0.91 0 1 0 1.81 0a0.91 0.91 0 1 0 -1.81 0M166.25 72.74a0.79 0.79 0 1 0 1.59 0a0.79 0.79 0 1 0 -1.59 0M116.42 87.5a0.74 0.74 0 1 0 1.48 0a0.74 0.74 0 1 0 -1.48 0M129.53 81.8a0.69 0.69 0 1 0 1.38 0a0.69 0.69 0 1 0 -1.38 0M138.44 83.63a0.97 0.97 0 1 0 1.94 0a0.97 0.97 0 1 0 -1.94 0M190.53 63.46a0.71 0.71 0 1 0 1.41 0a0.71 0.71 0 1 0 -1.41 0M256.63 40.11a0.77 0.77 0 1 0 1.55 0a0.77 0.77 0 1 0 -1.55 0M209.06 56.33a0.95 0.95 0 1 0 1.89 0a0.95 0.95 0 1 0 -1.89 0M206.3 59.76a0.7 0.7 0 1 0 1.39 0a0.7 0.7 0 1 0 -1.39 0M214.43 51.83a0.75 0.75 0 1 0 1.51 0a0.75 0.75 0 1 0 -1.51 0M120.83 83.53a0.88 0.88 0 1 0 1.76 0a0.88 0.88 0 1 0 -1.76 0M214.34 55.83a0.91 0.91 0 1 0 1.81 0a0.91 0.91 0 1 0 -1.81 0M124.33 82.35a0.8 0.8 0 1 0 1.61 0a0.8 0.8 0 1 0 -1.61 0M122.35 87.67a0.85 0.85 0 1 0 1.7 0a0.85 0.85 0 1 0 -1.7 0M218.23 55.45a0.83 0.83 0 1 0 1.66 0a0.83 0.83 0 1 0 -1.66 0M189.05 61.87a1.09 1.09 0 1 0 2.18 0a1.09 1.09 0 1 0 -2.18 0M172.34 71.8a0.71 0.71 0 1 0 1.42 0a0.71 0.71 0 1 0 -1.42 0M194.18 63.62a0.61 0.61 0 1 0 1.22 0a0.61 0.61 0 1 0 -1.22 0M119.69 85a0.69 0.69 0 1 0 1.37 0a0.69 0.69 0 1 0 -1.37 0M139.54 78.07a0.9 0.9 0 1 0 1.81 0a0.9 0.9 0 1 0 -1.81 0M251.84 41.75a0.95 0.95 0 1 0 1.89 0a0.95 0.95 0 1 0 -1.89 0M197.34 59.65a1.08 1.08 0 1 0 2.16 0a1.08 1.08 0 1 0 -2.16 0M179.72 67.46a0.63 0.63 0 1 0 1.26 0a0.63 0.63 0 1 0 -1.26 0M230 47.15a0.79 0.79 0 1 0 1.59 0a0.79 0.79 0 1 0 -1.59 0M146.85 75.2a0.93 0.93 0 1 0 1.86 0a0.93 0.93 0 1 0 -1.86 0M233.77 50.44a0.84 0.84 0 1 0 1.67 0a0.84 0.84 0 1 0 -1.67 0M172.74 68.57a0.86 0.86 0 1 0 1.72 0a0.86 0.86 0 1 0 -1.72 0M120.29 86.07a0.69 0.69 0 1 0 1.38 0a0.69 0.69 0 1 0 -1.38 0M214.97 54.96a0.89 0.89 0 1 0 1.78 0a0.89 0.89 0 1 0 -1.78 0M171.98 66.6a0.95 0.95 0 1 0 1.9 0a0.95 0.95 0 1 0 -1.9 0M178.14 64.21a0.77 0.77 0 1 0 1.54 0a0.77 0.77 0 1 0 -1.54 0M194.06 60.08a1.08 1.08 0 1 0 2.16 0a1.08 1.08 0 1 0 -2.16 0M228.96 49.15a0.99 0.99 0 1 0 1.98 0a0.99 0.99 0 1 0 -1.98 0M230.08 49.63a0.88 0.88 0 1 0 1.76 0a0.88 0.88 0 1 0 -1.76 0M130.05 80.54a0.61 0.61 0 1 0 1.22 0a0.61 0.61 0 1 0 -1.22 0M177.26 68.35a0.78 0.78 0 1 0 1.56 0a0.78 0.78 0 1 0 -1.56 0M173.37 71.17a0.7 0.7 0 1 0 1.4 0a0.7 0.7 0 1 0 -1.4 0M131.1 85.17a0.85 0.85 0 1 0 1.71 0a0.85 0.85 0 1 0 -1.71 0M128.64 86.56a1.06 1.06 0 1 0 2.13 0a1.06 1.06 0 1 0 -2.13 0M192.6 60.93a0.71 0.71 0 1 0 1.42 0a0.71 0.71 0 1 0 -1.42 0M225.49 51.42a0.85 0.85 0 1 0 1.69 0a0.85 0.85 0 1 0 -1.69 0M200.71 60.13a0.9 0.9 0 1 0 1.79 0a0.9 0.9 0 1 0 -1.79 0M251.69 42.87a0.63 0.63 0 1 0 1.26 0a0.63 0.63 0 1 0 -1.26 0M170.05 66.82a0.76 0.76 0 1 0 1.52 0a0.76 0.76 0 1 0 -1.52 0M115.38 90.18a0.61 0.61 0 1 0 1.22 0a0.61 0.61 0 1 0 -1.22 0M226.6 51.42a0.91 0.91 0 1 0 1.83 0a0.91 0.91 0 1 0 -1.83 0M168.64 72.2a1.08 1.08 0 1 0 2.16 0a1.08 1.08 0 1 0 -2.16 0M176.68 66.03a0.62 0.62 0 1 0 1.23 0a0.62 0.62 0 1 0 -1.23 0M241.17 46.45a0.67 0.67 0 1 0 1.35 0a0.67 0.67 0 1 0 -1.35 0M122.75 84.56a0.82 0.82 0 1 0 1.63 0a0.82 0.82 0 1 0 -1.63 0M141.36 80.75a0.69 0.69 0 1 0 1.38 0a0.69 0.69 0 1 0 -1.38 0M244.33 45.69a1 1 0 1 0 2 0a1 1 0 1 0 -2 0M158.33 72.75a0.78 0.78 0 1 0 1.56 0a0.78 0.78 0 1 0 -1.56 0" fill="#f50a0a" clip-path="url(#dama)"/>
<path d="M267.98 50.95a0.89 0.89 0 1 0 1.79 0a0.89 0.89 0 1 0 -1.79 0M227.17 104.09a0.7 0.7 0 1 0 1.41 0a0.7 0.7 0 1 0 -1.41 0M260.8 68.07a0.85 0.85 0 1 0 1.69 0a0.85 0.85 0 1 0 -1.69 0M266.83 59.86a0.7 0.7 0 1 0 1.4 0a0.7 0.7 0 1 0 -1.4 0M280.42 46.92a0.55 0.55 0 1 0 1.09 0a0.55 0.55 0 1 0 -1.09 0M276.58 78.46a0.66 0.66 0 1 0 1.32 0a0.66 0.66 0 1 0 -1.32 0M285.26 64.52a0.59 0.59 0 1 0 1.19 0a0.59 0.59 0 1 0 -1.19 0M234.27 97.17a0.63 0.63 0 1 0 1.25 0a0.63 0.63 0 1 0 -1.25 0M281.71 63.3a0.68 0.68 0 1 0 1.35 0a0.68 0.68 0 1 0 -1.35 0M273.15 72.88a0.55 0.55 0 1 0 1.09 0a0.55 0.55 0 1 0 -1.09 0M268.77 59.9a0.52 0.52 0 1 0 1.03 0a0.52 0.52 0 1 0 -1.03 0M276.81 79.47a0.68 0.68 0 1 0 1.37 0a0.68 0.68 0 1 0 -1.37 0M271.44 81.12a0.78 0.78 0 1 0 1.55 0a0.78 0.78 0 1 0 -1.55 0M261.24 66.32a0.64 0.64 0 1 0 1.28 0a0.64 0.64 0 1 0 -1.28 0M258.75 88.87a0.74 0.74 0 1 0 1.48 0a0.74 0.74 0 1 0 -1.48 0M234.12 96.95a0.82 0.82 0 1 0 1.64 0a0.82 0.82 0 1 0 -1.64 0M264.13 61.82a0.63 0.63 0 1 0 1.25 0a0.63 0.63 0 1 0 -1.25 0M257.75 88.65a0.64 0.64 0 1 0 1.27 0a0.64 0.64 0 1 0 -1.27 0M280.98 48.92a0.54 0.54 0 1 0 1.08 0a0.54 0.54 0 1 0 -1.08 0M281.72 67.3a0.82 0.82 0 1 0 1.63 0a0.82 0.82 0 1 0 -1.63 0M255.51 78.12a0.8 0.8 0 1 0 1.6 0a0.8 0.8 0 1 0 -1.6 0M254.02 76.06a0.55 0.55 0 1 0 1.09 0a0.55 0.55 0 1 0 -1.09 0M271.43 63.48a0.85 0.85 0 1 0 1.69 0a0.85 0.85 0 1 0 -1.69 0M271.95 46.88a0.76 0.76 0 1 0 1.52 0a0.76 0.76 0 1 0 -1.52 0M278.57 43.86a0.67 0.67 0 1 0 1.33 0a0.67 0.67 0 1 0 -1.33 0M257.04 69.97a0.67 0.67 0 1 0 1.34 0a0.67 0.67 0 1 0 -1.34 0M281.16 51.72a0.77 0.77 0 1 0 1.54 0a0.77 0.77 0 1 0 -1.54 0M272.28 67.05a0.82 0.82 0 1 0 1.64 0a0.82 0.82 0 1 0 -1.64 0M269.82 51.51a0.88 0.88 0 1 0 1.76 0a0.88 0.88 0 1 0 -1.76 0M235.19 99.8a0.68 0.68 0 1 0 1.36 0a0.68 0.68 0 1 0 -1.36 0M281.26 48.35a0.85 0.85 0 1 0 1.71 0a0.85 0.85 0 1 0 -1.71 0M264.34 58.71a0.73 0.73 0 1 0 1.46 0a0.73 0.73 0 1 0 -1.46 0M262.24 56.66a0.56 0.56 0 1 0 1.12 0a0.56 0.56 0 1 0 -1.12 0M265.32 72.55a0.75 0.75 0 1 0 1.5 0a0.75 0.75 0 1 0 -1.5 0M241.37 96.14a0.85 0.85 0 1 0 1.7 0a0.85 0.85 0 1 0 -1.7 0M271.24 62.29a0.65 0.65 0 1 0 1.3 0a0.65 0.65 0 1 0 -1.3 0M287.63 66.21a0.77 0.77 0 1 0 1.53 0a0.77 0.77 0 1 0 -1.53 0M265.57 57.78a0.6 0.6 0 1 0 1.19 0a0.6 0.6 0 1 0 -1.19 0M253.96 76.82a0.81 0.81 0 1 0 1.62 0a0.81 0.81 0 1 0 -1.62 0M256.58 80.66a0.63 0.63 0 1 0 1.25 0a0.63 0.63 0 1 0 -1.25 0M284 66.42a0.5 0.5 0 1 0 1.01 0a0.5 0.5 0 1 0 -1.01 0M283.11 70.24a0.55 0.55 0 1 0 1.1 0a0.55 0.55 0 1 0 -1.1 0M273.64 64.89a0.58 0.58 0 1 0 1.16 0a0.58 0.58 0 1 0 -1.16 0M236.97 96.85a0.54 0.54 0 1 0 1.07 0a0.54 0.54 0 1 0 -1.07 0M263.84 75.12a0.66 0.66 0 1 0 1.31 0a0.66 0.66 0 1 0 -1.31 0M261.93 74.34a0.55 0.55 0 1 0 1.1 0a0.55 0.55 0 1 0 -1.1 0M273.02 52.71a0.87 0.87 0 1 0 1.74 0a0.87 0.87 0 1 0 -1.74 0M277.74 59.63a0.86 0.86 0 1 0 1.73 0a0.86 0.86 0 1 0 -1.73 0M221.81 105.24a0.6 0.6 0 1 0 1.2 0a0.6 0.6 0 1 0 -1.2 0M244.86 92.13a0.66 0.66 0 1 0 1.32 0a0.66 0.66 0 1 0 -1.32 0M259.9 83.29a0.65 0.65 0 1 0 1.3 0a0.65 0.65 0 1 0 -1.3 0M255.78 70.03a0.55 0.55 0 1 0 1.11 0a0.55 0.55 0 1 0 -1.11 0M248 88.21a0.55 0.55 0 1 0 1.11 0a0.55 0.55 0 1 0 -1.11 0M260.85 85.68a0.83 0.83 0 1 0 1.67 0a0.83 0.83 0 1 0 -1.67 0M277.51 65.37a0.72 0.72 0 1 0 1.45 0a0.72 0.72 0 1 0 -1.45 0M267.21 71.92a0.9 0.9 0 1 0 1.8 0a0.9 0.9 0 1 0 -1.8 0M262.15 81.34a0.57 0.57 0 1 0 1.13 0a0.57 0.57 0 1 0 -1.13 0M276.49 65.42a0.53 0.53 0 1 0 1.05 0a0.53 0.53 0 1 0 -1.05 0M220.5 105.99a0.89 0.89 0 1 0 1.79 0a0.89 0.89 0 1 0 -1.79 0M250.66 89.11a0.68 0.68 0 1 0 1.37 0a0.68 0.68 0 1 0 -1.37 0M265.83 66.87a0.86 0.86 0 1 0 1.73 0a0.86 0.86 0 1 0 -1.73 0M272.32 41.46a0.7 0.7 0 1 0 1.39 0a0.7 0.7 0 1 0 -1.39 0M238.84 97.94a0.74 0.74 0 1 0 1.49 0a0.74 0.74 0 1 0 -1.49 0M270.35 42.19a0.62 0.62 0 1 0 1.24 0a0.62 0.62 0 1 0 -1.24 0M273.8 60.74a0.5 0.5 0 1 0 1.01 0a0.5 0.5 0 1 0 -1.01 0M262.67 82.79a0.85 0.85 0 1 0 1.7 0a0.85 0.85 0 1 0 -1.7 0M277.1 45.66a0.89 0.89 0 1 0 1.79 0a0.89 0.89 0 1 0 -1.79 0M229.65 100.59a0.79 0.79 0 1 0 1.57 0a0.79 0.79 0 1 0 -1.57 0M277.51 56.52a0.61 0.61 0 1 0 1.22 0a0.61 0.61 0 1 0 -1.22 0M279.49 43.72a0.84 0.84 0 1 0 1.68 0a0.84 0.84 0 1 0 -1.68 0M243 95.37a0.65 0.65 0 1 0 1.3 0a0.65 0.65 0 1 0 -1.3 0M266.25 62.06a0.59 0.59 0 1 0 1.18 0a0.59 0.59 0 1 0 -1.18 0M271.25 65.09a0.87 0.87 0 1 0 1.74 0a0.87 0.87 0 1 0 -1.74 0M252.94 81.5a0.7 0.7 0 1 0 1.39 0a0.7 0.7 0 1 0 -1.39 0M262.46 53.67a0.58 0.58 0 1 0 1.17 0a0.58 0.58 0 1 0 -1.17 0M262.44 69.42a0.58 0.58 0 1 0 1.15 0a0.58 0.58 0 1 0 -1.15 0M279.4 62.54a0.6 0.6 0 1 0 1.19 0a0.6 0.6 0 1 0 -1.19 0M258.96 83.07a0.66 0.66 0 1 0 1.31 0a0.66 0.66 0 1 0 -1.31 0M223.4 104.48a0.54 0.54 0 1 0 1.09 0a0.54 0.54 0 1 0 -1.09 0M271.01 62.01a0.8 0.8 0 1 0 1.6 0a0.8 0.8 0 1 0 -1.6 0M274.67 44.91a0.57 0.57 0 1 0 1.15 0a0.57 0.57 0 1 0 -1.15 0M234.86 98.81a0.51 0.51 0 1 0 1.02 0a0.51 0.51 0 1 0 -1.02 0M268.6 71.87a0.7 0.7 0 1 0 1.39 0a0.7 0.7 0 1 0 -1.39 0M233.36 100.39a0.53 0.53 0 1 0 1.06 0a0.53 0.53 0 1 0 -1.06 0M269.36 84.08a0.53 0.53 0 1 0 1.05 0a0.53 0.53 0 1 0 -1.05 0M260.52 57.64a0.66 0.66 0 1 0 1.32 0a0.66 0.66 0 1 0 -1.32 0M256.43 90.15a0.8 0.8 0 1 0 1.59 0a0.8 0.8 0 1 0 -1.59 0M271.7 67.76a0.85 0.85 0 1 0 1.7 0a0.85 0.85 0 1 0 -1.7 0M264.42 41.07a0.51 0.51 0 1 0 1.01 0a0.51 0.51 0 1 0 -1.01 0M248.7 93.16a0.57 0.57 0 1 0 1.14 0a0.57 0.57 0 1 0 -1.14 0M252.08 87.62a0.51 0.51 0 1 0 1.02 0a0.51 0.51 0 1 0 -1.02 0M273.77 53.44a0.83 0.83 0 1 0 1.66 0a0.83 0.83 0 1 0 -1.66 0M253.28 77.67a0.65 0.65 0 1 0 1.29 0a0.65 0.65 0 1 0 -1.29 0M265.57 80.87a0.57 0.57 0 1 0 1.15 0a0.57 0.57 0 1 0 -1.15 0M270.54 64.76a0.71 0.71 0 1 0 1.42 0a0.71 0.71 0 1 0 -1.42 0M272.02 71.9a0.59 0.59 0 1 0 1.18 0a0.59 0.59 0 1 0 -1.18 0M276.89 67.09a0.81 0.81 0 1 0 1.62 0a0.81 0.81 0 1 0 -1.62 0M272.74 58.5a0.76 0.76 0 1 0 1.52 0a0.76 0.76 0 1 0 -1.52 0M268.45 68.36a0.57 0.57 0 1 0 1.14 0a0.57 0.57 0 1 0 -1.14 0M279.22 64.95a0.8 0.8 0 1 0 1.6 0a0.8 0.8 0 1 0 -1.6 0M272.52 71.07a0.86 0.86 0 1 0 1.72 0a0.86 0.86 0 1 0 -1.72 0M265.61 55.93a0.55 0.55 0 1 0 1.1 0a0.55 0.55 0 1 0 -1.1 0M263.77 46.03a0.62 0.62 0 1 0 1.25 0a0.62 0.62 0 1 0 -1.25 0M254.22 83.22a0.59 0.59 0 1 0 1.19 0a0.59 0.59 0 1 0 -1.19 0M283.45 58.03a0.78 0.78 0 1 0 1.56 0a0.78 0.78 0 1 0 -1.56 0M266.69 71.26a0.61 0.61 0 1 0 1.21 0a0.61 0.61 0 1 0 -1.21 0M261.49 77.43a0.84 0.84 0 1 0 1.68 0a0.84 0.84 0 1 0 -1.68 0M287.1 63.75a0.65 0.65 0 1 0 1.31 0a0.65 0.65 0 1 0 -1.31 0M275.78 40.29a0.63 0.63 0 1 0 1.26 0a0.63 0.63 0 1 0 -1.26 0M252.55 83.83a0.67 0.67 0 1 0 1.34 0a0.67 0.67 0 1 0 -1.34 0M268.75 77.25a0.52 0.52 0 1 0 1.03 0a0.52 0.52 0 1 0 -1.03 0M256.09 83.91a0.68 0.68 0 1 0 1.36 0a0.68 0.68 0 1 0 -1.36 0M283.44 70.21a0.9 0.9 0 1 0 1.8 0a0.9 0.9 0 1 0 -1.8 0M283.7 54.44a0.7 0.7 0 1 0 1.4 0a0.7 0.7 0 1 0 -1.4 0M276.28 62.63a0.89 0.89 0 1 0 1.79 0a0.89 0.89 0 1 0 -1.79 0M227.15 103.42a0.87 0.87 0 1 0 1.74 0a0.87 0.87 0 1 0 -1.74 0M269.73 70.41a0.52 0.52 0 1 0 1.03 0a0.52 0.52 0 1 0 -1.03 0M261.55 59.3a0.87 0.87 0 1 0 1.74 0a0.87 0.87 0 1 0 -1.74 0M283.47 58.5a0.86 0.86 0 1 0 1.71 0a0.86 0.86 0 1 0 -1.71 0M276.72 66.84a0.53 0.53 0 1 0 1.06 0a0.53 0.53 0 1 0 -1.06 0M282.42 75a0.8 0.8 0 1 0 1.6 0a0.8 0.8 0 1 0 -1.6 0M258.56 69.21a0.8 0.8 0 1 0 1.6 0a0.8 0.8 0 1 0 -1.6 0M267.91 46.89a0.76 0.76 0 1 0 1.52 0a0.76 0.76 0 1 0 -1.52 0M263.39 60.39a0.78 0.78 0 1 0 1.56 0a0.78 0.78 0 1 0 -1.56 0M270.73 76.35a0.75 0.75 0 1 0 1.5 0a0.75 0.75 0 1 0 -1.5 0M260.78 87.78a0.58 0.58 0 1 0 1.16 0a0.58 0.58 0 1 0 -1.16 0M258.54 62.29a0.66 0.66 0 1 0 1.33 0a0.66 0.66 0 1 0 -1.33 0M283.07 58.22a0.77 0.77 0 1 0 1.55 0a0.77 0.77 0 1 0 -1.55 0M247.95 96.29a0.59 0.59 0 1 0 1.17 0a0.59 0.59 0 1 0 -1.17 0M266.96 57.82a0.79 0.79 0 1 0 1.58 0a0.79 0.79 0 1 0 -1.58 0" fill="#f50a0a" clip-path="url(#dama)"/>
<path d="M270.84 49.29a0.71 0.71 0 1 0 1.42 0a0.71 0.71 0 1 0 -1.42 0M274.38 46.73a0.83 0.83 0 1 0 1.66 0a0.83 0.83 0 1 0 -1.66 0M266.63 54.85a0.51 0.51 0 1 0 1.01 0a0.51 0.51 0 1 0 -1.01 0M268.42 44.05a0.57 0.57 0 1 0 1.14 0a0.57 0.57 0 1 0 -1.14 0M287.07 43.15a0.89 0.89 0 1 0 1.79 0a0.89 0.89 0 1 0 -1.79 0M283.97 32.97a0.73 0.73 0 1 0 1.46 0a0.73 0.73 0 1 0 -1.46 0M282.34 42.65a0.61 0.61 0 1 0 1.22 0a0.61 0.61 0 1 0 -1.22 0M268.43 41.28a0.89 0.89 0 1 0 1.79 0a0.89 0.89 0 1 0 -1.79 0M270.13 47.22a0.82 0.82 0 1 0 1.64 0a0.82 0.82 0 1 0 -1.64 0M277.93 40.44a0.58 0.58 0 1 0 1.15 0a0.58 0.58 0 1 0 -1.15 0M268.55 48.58a0.53 0.53 0 1 0 1.07 0a0.53 0.53 0 1 0 -1.07 0M285.56 58.2a0.51 0.51 0 1 0 1.01 0a0.51 0.51 0 1 0 -1.01 0M291.27 49.68a0.96 0.96 0 1 0 1.92 0a0.96 0.96 0 1 0 -1.92 0M275.7 60.64a0.73 0.73 0 1 0 1.45 0a0.73 0.73 0 1 0 -1.45 0M281.85 49.96a0.51 0.51 0 1 0 1.02 0a0.51 0.51 0 1 0 -1.02 0M261.49 40.35a0.7 0.7 0 1 0 1.41 0a0.7 0.7 0 1 0 -1.41 0M271.05 51.4a0.83 0.83 0 1 0 1.66 0a0.83 0.83 0 1 0 -1.66 0M272.44 43.48a0.76 0.76 0 1 0 1.51 0a0.76 0.76 0 1 0 -1.51 0M283.57 61.41a0.61 0.61 0 1 0 1.23 0a0.61 0.61 0 1 0 -1.23 0M259.91 56.72a0.97 0.97 0 1 0 1.94 0a0.97 0.97 0 1 0 -1.94 0M288.09 37.5a0.82 0.82 0 1 0 1.64 0a0.82 0.82 0 1 0 -1.64 0M266.48 38.4a0.51 0.51 0 1 0 1.01 0a0.51 0.51 0 1 0 -1.01 0M278.04 65.08a0.55 0.55 0 1 0 1.1 0a0.55 0.55 0 1 0 -1.1 0M261.81 45.97a0.52 0.52 0 1 0 1.04 0a0.52 0.52 0 1 0 -1.04 0M275.24 58.28a0.73 0.73 0 1 0 1.46 0a0.73 0.73 0 1 0 -1.46 0M263.56 56.01a0.96 0.96 0 1 0 1.92 0a0.96 0.96 0 1 0 -1.92 0M277.01 35.7a0.61 0.61 0 1 0 1.22 0a0.61 0.61 0 1 0 -1.22 0M273.33 35.88a0.56 0.56 0 1 0 1.12 0a0.56 0.56 0 1 0 -1.12 0M274.04 62.26a0.62 0.62 0 1 0 1.24 0a0.62 0.62 0 1 0 -1.24 0M274.02 40.08a0.59 0.59 0 1 0 1.18 0a0.59 0.59 0 1 0 -1.18 0M283.77 61.72a0.93 0.93 0 1 0 1.86 0a0.93 0.93 0 1 0 -1.86 0M264.46 47.35a0.51 0.51 0 1 0 1.02 0a0.51 0.51 0 1 0 -1.02 0M268.54 42.6a0.56 0.56 0 1 0 1.12 0a0.56 0.56 0 1 0 -1.12 0M268.35 49.95a0.77 0.77 0 1 0 1.53 0a0.77 0.77 0 1 0 -1.53 0M275.55 53.21a0.75 0.75 0 1 0 1.5 0a0.75 0.75 0 1 0 -1.5 0M276.27 34.84a0.82 0.82 0 1 0 1.63 0a0.82 0.82 0 1 0 -1.63 0M284.1 58.06a0.66 0.66 0 1 0 1.31 0a0.66 0.66 0 1 0 -1.31 0M275.02 61.02a0.86 0.86 0 1 0 1.73 0a0.86 0.86 0 1 0 -1.73 0M257.67 44.04a0.59 0.59 0 1 0 1.17 0a0.59 0.59 0 1 0 -1.17 0M285.88 46.47a0.7 0.7 0 1 0 1.39 0a0.7 0.7 0 1 0 -1.39 0M264.73 48.34a0.86 0.86 0 1 0 1.72 0a0.86 0.86 0 1 0 -1.72 0M282.44 39.96a0.7 0.7 0 1 0 1.4 0a0.7 0.7 0 1 0 -1.4 0M281.84 33.98a0.95 0.95 0 1 0 1.9 0a0.95 0.95 0 1 0 -1.9 0M285 40a0.75 0.75 0 1 0 1.5 0a0.75 0.75 0 1 0 -1.5 0M283.63 54.98a0.87 0.87 0 1 0 1.74 0a0.87 0.87 0 1 0 -1.74 0M281.7 60.73a0.76 0.76 0 1 0 1.51 0a0.76 0.76 0 1 0 -1.51 0M264.73 52.89a0.67 0.67 0 1 0 1.35 0a0.67 0.67 0 1 0 -1.35 0M285.76 58.93a0.95 0.95 0 1 0 1.91 0a0.95 0.95 0 1 0 -1.91 0M263.11 54.06a0.88 0.88 0 1 0 1.76 0a0.88 0.88 0 1 0 -1.76 0M265.17 39.31a0.72 0.72 0 1 0 1.44 0a0.72 0.72 0 1 0 -1.44 0M261.59 56.45a0.89 0.89 0 1 0 1.78 0a0.89 0.89 0 1 0 -1.78 0M288.35 47.02a0.88 0.88 0 1 0 1.75 0a0.88 0.88 0 1 0 -1.75 0M272.94 36.4a0.69 0.69 0 1 0 1.38 0a0.69 0.69 0 1 0 -1.38 0M263.63 58.74a0.69 0.69 0 1 0 1.37 0a0.69 0.69 0 1 0 -1.37 0M256.19 38.92a0.54 0.54 0 1 0 1.08 0a0.54 0.54 0 1 0 -1.08 0M288.98 53.36a0.71 0.71 0 1 0 1.41 0a0.71 0.71 0 1 0 -1.41 0M286.96 51.9a0.52 0.52 0 1 0 1.04 0a0.52 0.52 0 1 0 -1.04 0M283.04 47a0.98 0.98 0 1 0 1.96 0a0.98 0.98 0 1 0 -1.96 0M256.91 46.39a0.92 0.92 0 1 0 1.85 0a0.92 0.92 0 1 0 -1.85 0M274.67 65.53a0.57 0.57 0 1 0 1.14 0a0.57 0.57 0 1 0 -1.14 0M293.23 39a0.79 0.79 0 1 0 1.58 0a0.79 0.79 0 1 0 -1.58 0M273.19 62.32a0.53 0.53 0 1 0 1.05 0a0.53 0.53 0 1 0 -1.05 0M268.7 54.11a0.79 0.79 0 1 0 1.59 0a0.79 0.79 0 1 0 -1.59 0M268.3 37.26a0.71 0.71 0 1 0 1.43 0a0.71 0.71 0 1 0 -1.43 0M267.46 53.95a0.7 0.7 0 1 0 1.41 0a0.7 0.7 0 1 0 -1.41 0M258.58 56.82a0.96 0.96 0 1 0 1.92 0a0.96 0.96 0 1 0 -1.92 0M281.87 42.7a0.65 0.65 0 1 0 1.3 0a0.65 0.65 0 1 0 -1.3 0M286.26 34.67a0.91 0.91 0 1 0 1.81 0a0.91 0.91 0 1 0 -1.81 0M293.77 41.37a0.65 0.65 0 1 0 1.31 0a0.65 0.65 0 1 0 -1.31 0M289.25 32.77a0.56 0.56 0 1 0 1.11 0a0.56 0.56 0 1 0 -1.11 0M290.93 39.84a0.98 0.98 0 1 0 1.96 0a0.98 0.98 0 1 0 -1.96 0M275.8 32.13a0.6 0.6 0 1 0 1.2 0a0.6 0.6 0 1 0 -1.2 0M258.57 47.06a0.98 0.98 0 1 0 1.96 0a0.98 0.98 0 1 0 -1.96 0M272.71 59.69a0.87 0.87 0 1 0 1.74 0a0.87 0.87 0 1 0 -1.74 0M268.94 38.1a0.71 0.71 0 1 0 1.42 0a0.71 0.71 0 1 0 -1.42 0M267.92 59.09a0.58 0.58 0 1 0 1.16 0a0.58 0.58 0 1 0 -1.16 0M264.19 58.31a0.52 0.52 0 1 0 1.04 0a0.52 0.52 0 1 0 -1.04 0M287.26 41.67a0.55 0.55 0 1 0 1.11 0a0.55 0.55 0 1 0 -1.11 0M276.9 44.86a0.5 0.5 0 1 0 1 0a0.5 0.5 0 1 0 -1 0M258.12 41.13a0.71 0.71 0 1 0 1.42 0a0.71 0.71 0 1 0 -1.42 0M260.33 47.09a0.74 0.74 0 1 0 1.48 0a0.74 0.74 0 1 0 -1.48 0M268.51 40a0.59 0.59 0 1 0 1.18 0a0.59 0.59 0 1 0 -1.18 0M271.66 66.35a0.98 0.98 0 1 0 1.97 0a0.98 0.98 0 1 0 -1.97 0M261.49 55.21a0.88 0.88 0 1 0 1.76 0a0.88 0.88 0 1 0 -1.76 0M282.6 35.25a0.63 0.63 0 1 0 1.26 0a0.63 0.63 0 1 0 -1.26 0M293.17 44.11a0.89 0.89 0 1 0 1.78 0a0.89 0.89 0 1 0 -1.78 0M289.22 46.24a0.67 0.67 0 1 0 1.34 0a0.67 0.67 0 1 0 -1.34 0M275.26 51.36a0.51 0.51 0 1 0 1.02 0a0.51 0.51 0 1 0 -1.02 0M272.7 46.75a0.79 0.79 0 1 0 1.59 0a0.79 0.79 0 1 0 -1.59 0M277.97 57.11a0.77 0.77 0 1 0 1.53 0a0.77 0.77 0 1 0 -1.53 0M266.32 44.99a0.99 0.99 0 1 0 1.99 0a0.99 0.99 0 1 0 -1.99 0M276.46 36.69a0.92 0.92 0 1 0 1.84 0a0.92 0.92 0 1 0 -1.84 0M268.72 47.14a0.82 0.82 0 1 0 1.63 0a0.82 0.82 0 1 0 -1.63 0M286.23 40.76a0.71 0.71 0 1 0 1.41 0a0.71 0.71 0 1 0 -1.41 0M264.09 54.57a0.72 0.72 0 1 0 1.43 0a0.72 0.72 0 1 0 -1.43 0M261.58 39.65a0.94 0.94 0 1 0 1.87 0a0.94 0.94 0 1 0 -1.87 0M281.57 53.48a0.57 0.57 0 1 0 1.14 0a0.57 0.57 0 1 0 -1.14 0M280.65 64.17a0.6 0.6 0 1 0 1.2 0a0.6 0.6 0 1 0 -1.2 0M266.81 48.56a0.96 0.96 0 1 0 1.92 0a0.96 0.96 0 1 0 -1.92 0M286.95 43.24a0.67 0.67 0 1 0 1.33 0a0.67 0.67 0 1 0 -1.33 0M277.9 37.26a0.63 0.63 0 1 0 1.26 0a0.63 0.63 0 1 0 -1.26 0M291.06 36.32a0.54 0.54 0 1 0 1.08 0a0.54 0.54 0 1 0 -1.08 0M257.6 54.74a0.62 0.62 0 1 0 1.25 0a0.62 0.62 0 1 0 -1.25 0M266.69 50.74a0.87 0.87 0 1 0 1.73 0a0.87 0.87 0 1 0 -1.73 0M297.04 34.13a0.67 0.67 0 1 0 1.35 0a0.67 0.67 0 1 0 -1.35 0M255.83 44.69a0.83 0.83 0 1 0 1.67 0a0.83 0.83 0 1 0 -1.67 0M269.87 47.43a0.65 0.65 0 1 0 1.31 0a0.65 0.65 0 1 0 -1.31 0M286.77 52.13a0.95 0.95 0 1 0 1.89 0a0.95 0.95 0 1 0 -1.89 0M263.98 37.73a0.61 0.61 0 1 0 1.22 0a0.61 0.61 0 1 0 -1.22 0M286.75 53.49a0.77 0.77 0 1 0 1.53 0a0.77 0.77 0 1 0 -1.53 0M264.13 47.26a0.64 0.64 0 1 0 1.29 0a0.64 0.64 0 1 0 -1.29 0M271.19 62.16a0.91 0.91 0 1 0 1.81 0a0.91 0.91 0 1 0 -1.81 0M290.17 33.99a0.55 0.55 0 1 0 1.1 0a0.55 0.55 0 1 0 -1.1 0M259.15 56.14a0.58 0.58 0 1 0 1.16 0a0.58 0.58 0 1 0 -1.16 0M274.02 43a0.78 0.78 0 1 0 1.56 0a0.78 0.78 0 1 0 -1.56 0M262.91 57.17a0.81 0.81 0 1 0 1.63 0a0.81 0.81 0 1 0 -1.63 0M272.21 66.76a0.8 0.8 0 1 0 1.59 0a0.8 0.8 0 1 0 -1.59 0M278.69 40.53a0.65 0.65 0 1 0 1.3 0a0.65 0.65 0 1 0 -1.3 0M286.27 44.48a0.55 0.55 0 1 0 1.11 0a0.55 0.55 0 1 0 -1.11 0M273.45 49.65a0.57 0.57 0 1 0 1.14 0a0.57 0.57 0 1 0 -1.14 0M265.58 65.32a0.91 0.91 0 1 0 1.81 0a0.91 0.91 0 1 0 -1.81 0M273.97 59.3a0.82 0.82 0 1 0 1.64 0a0.82 0.82 0 1 0 -1.64 0M263.89 51.76a0.53 0.53 0 1 0 1.07 0a0.53 0.53 0 1 0 -1.07 0M281.43 51.3a0.55 0.55 0 1 0 1.1 0a0.55 0.55 0 1 0 -1.1 0M277.37 40.76a0.83 0.83 0 1 0 1.66 0a0.83 0.83 0 1 0 -1.66 0M258.09 53.43a0.78 0.78 0 1 0 1.55 0a0.78 0.78 0 1 0 -1.55 0M259.44 45.29a0.67 0.67 0 1 0 1.34 0a0.67 0.67 0 1 0 -1.34 0M280.99 59.38a0.72 0.72 0 1 0 1.44 0a0.72 0.72 0 1 0 -1.44 0M266.9 47.64a0.84 0.84 0 1 0 1.68 0a0.84 0.84 0 1 0 -1.68 0M269.17 61.82a0.73 0.73 0 1 0 1.46 0a0.73 0.73 0 1 0 -1.46 0M265.49 50.34a0.93 0.93 0 1 0 1.87 0a0.93 0.93 0 1 0 -1.87 0M270.78 43.36a0.76 0.76 0 1 0 1.51 0a0.76 0.76 0 1 0 -1.51 0M286.15 40.98a0.81 0.81 0 1 0 1.61 0a0.81 0.81 0 1 0 -1.61 0M284.2 42.76a0.76 0.76 0 1 0 1.53 0a0.76 0.76 0 1 0 -1.53 0M283.86 55.35a0.91 0.91 0 1 0 1.82 0a0.91 0.91 0 1 0 -1.82 0M287.98 44.35a0.81 0.81 0 1 0 1.61 0a0.81 0.81 0 1 0 -1.61 0M260.72 56.62a0.69 0.69 0 1 0 1.37 0a0.69 0.69 0 1 0 -1.37 0M278.03 61.88a0.65 0.65 0 1 0 1.3 0a0.65 0.65 0 1 0 -1.3 0M263.46 60.76a0.65 0.65 0 1 0 1.29 0a0.65 0.65 0 1 0 -1.29 0M261.85 52.19a0.97 0.97 0 1 0 1.94 0a0.97 0.97 0 1 0 -1.94 0M283.42 55.04a0.57 0.57 0 1 0 1.14 0a0.57 0.57 0 1 0 -1.14 0M274.22 61.07a0.5 0.5 0 1 0 1 0a0.5 0.5 0 1 0 -1 0M285.94 43.09a0.64 0.64 0 1 0 1.28 0a0.64 0.64 0 1 0 -1.28 0M291.12 45.27a0.75 0.75 0 1 0 1.5 0a0.75 0.75 0 1 0 -1.5 0M280.35 33.92a0.99 0.99 0 1 0 1.98 0a0.99 0.99 0 1 0 -1.98 0M275.03 49.83a0.98 0.98 0 1 0 1.96 0a0.98 0.98 0 1 0 -1.96 0M273.29 32.82a0.67 0.67 0 1 0 1.34 0a0.67 0.67 0 1 0 -1.34 0M286.28 55.07a0.69 0.69 0 1 0 1.38 0a0.69 0.69 0 1 0 -1.38 0M279.7 42.8a0.81 0.81 0 1 0 1.63 0a0.81 0.81 0 1 0 -1.63 0M288.92 45.69a0.63 0.63 0 1 0 1.27 0a0.63 0.63 0 1 0 -1.27 0" fill="#f50a0a" clip-path="url(#dama)"/>
<polygon points="455,96 459,94.6 464,93.2 462,90.5 460,87.5 465,88.2 470,90 477,91.5 483,92.8 487,94.4 485,96.4 478,96.6 470,95.8 463,96.6 458,96.8" fill="#f50a0a" fill-opacity="0.95" clip-path="url(#dama)"/>
<path d="M518.22 106.45a0.61 0.61 0 1 0 1.22 0a0.61 0.61 0 1 0 -1.22 0M495.51 99.62a0.76 0.76 0 1 0 1.52 0a0.76 0.76 0 1 0 -1.52 0M502.79 101.29a0.69 0.69 0 1 0 1.38 0a0.69 0.69 0 1 0 -1.38 0M523.4 108.12a0.91 0.91 0 1 0 1.83 0a0.91 0.91 0 1 0 -1.83 0M512.02 105.21a0.58 0.58 0 1 0 1.16 0a0.58 0.58 0 1 0 -1.16 0M493.66 98.49a0.81 0.81 0 1 0 1.63 0a0.81 0.81 0 1 0 -1.63 0M497.3 101.65a0.86 0.86 0 1 0 1.73 0a0.86 0.86 0 1 0 -1.73 0M526.69 106.9a0.98 0.98 0 1 0 1.96 0a0.98 0.98 0 1 0 -1.96 0M514.34 104.89a0.63 0.63 0 1 0 1.25 0a0.63 0.63 0 1 0 -1.25 0M500.99 102.11a1.08 1.08 0 1 0 2.16 0a1.08 1.08 0 1 0 -2.16 0" fill="#f50a0a" clip-path="url(#dama)"/>
<line x1="287.14" y1="31.98" x2="287.14" y2="108.3" stroke="#4a78e6" stroke-width="1.2"/>
<polyline points="449.83,108.3 484.28,96.38 489.7,95.74 495.77,95.83" fill="none" stroke="#4a78e6" stroke-width="1"/>
<polygon points="44.7,108.3 274.38,31.98 299.9,31.98 534.68,108.3" fill="none" stroke="#4a78e6" stroke-width="1.3"/>
<line x1="45.7" y1="108" x2="114" y2="85.27" stroke="#f50a0a" stroke-width="1.4" opacity="0.9"/>
<line x1="29.8" y1="108.3" x2="545.5" y2="108.3" stroke="#5a7ae6" stroke-width="1.3"/>
<line x1="29.8" y1="38.34" x2="255.24" y2="38.34" stroke="#5c58b0" stroke-width="1.1"/>
<polyline points="255.24,38.34 484.28,96.38" fill="none" stroke="#3c3cb0" stroke-width="0.9"/>
<line x1="505.34" y1="98.76" x2="545.5" y2="98.76" stroke="#8484cc" stroke-width="1.3"/>
<path d="M170.5 34.3H175.5L173 37.5Z" fill="none" stroke="#2a40ee" stroke-width="1.25" stroke-linejoin="miter"/>
<text x="179.6" y="34.4" fill="#2a40ee"><tspan font-family='"Liberation Serif", "DejaVu Serif", serif' font-size="10.3" fill="#3a4ae6">NRL </tspan><tspan font-family='"Liberation Sans", "DejaVu Sans", sans-serif' font-size="9.9" stroke="#2a40ee" stroke-width="0.25">22.0</tspan></text>
<path d="M32.3 103.8H37.3L34.8 107Z" fill="none" stroke="#2a40ee" stroke-width="1.25" stroke-linejoin="miter"/>
<text x="37.2" y="102.7" fill="#2a40ee"><tspan font-family='"Liberation Sans", "DejaVu Sans", sans-serif' font-size="9.9" stroke="#2a40ee" stroke-width="0.25">0.0</tspan></text>
<path d="M310 27H315L312.5 30.2Z" fill="none" stroke="#2a40ee" stroke-width="1.25" stroke-linejoin="miter"/><line x1="307.5" y1="31.4" x2="318" y2="31.4" stroke="#2a40ee" stroke-width="1"/>
<text x="318.4" y="27.9" fill="#2a40ee"><tspan font-family='"Liberation Sans", "DejaVu Sans", sans-serif' font-size="9.9" stroke="#2a40ee" stroke-width="0.25">24.0</tspan></text>
<path d="M516.5 94.3H521.5L519 97.5Z" fill="none" stroke="#2a40ee" stroke-width="1.25" stroke-linejoin="miter"/>
<text x="522.8" y="94.1" fill="#2a40ee"><tspan font-family='"Liberation Sans", "DejaVu Sans", sans-serif' font-size="9.9" stroke="#2a40ee" stroke-width="0.25">3.0</tspan></text>
<text x="483.8" y="29" font-family='"Liberation Serif", "DejaVu Serif", serif' font-size="11.1" fill="#3a50e0" stroke="#3a50e0" stroke-width="0.15">K<tspan font-size="6.11" dx="-0.6" dy="1.0">s</tspan><tspan dy="-1.0" dx="0.3"> = 2.127</tspan></text>
<rect x="5" y="135.8" width="540.3" height="120.5" fill="#efefef"/>
<rect x="26" y="150.2" width="519.5" height="96.5" fill="#f2f2f2"/>
<g font-family='"Liberation Sans", "DejaVu Sans", sans-serif' font-size="4.9" fill="#303030"><line x1="31" y1="149.2" x2="545" y2="149.2" stroke="#505050" stroke-width="1"/><path d="M31.64 149.2v-2.4 M34.87 149.2v-2.4 M38.1 149.2v-3.8 M41.33 149.2v-2.4 M44.56 149.2v-2.4 M47.79 149.2v-2.4 M51.02 149.2v-2.4 M54.25 149.2v-2.4 M57.47 149.2v-2.4 M60.7 149.2v-2.4 M63.93 149.2v-3.8 M67.16 149.2v-2.4 M70.39 149.2v-2.4 M73.62 149.2v-2.4 M76.85 149.2v-2.4 M80.08 149.2v-2.4 M83.31 149.2v-2.4 M86.53 149.2v-2.4 M89.76 149.2v-3.8 M92.99 149.2v-2.4 M96.22 149.2v-2.4 M99.45 149.2v-2.4 M102.68 149.2v-2.4 M105.91 149.2v-2.4 M109.14 149.2v-2.4 M112.37 149.2v-2.4 M115.6 149.2v-3.8 M118.83 149.2v-2.4 M122.05 149.2v-2.4 M125.28 149.2v-2.4 M128.51 149.2v-2.4 M131.74 149.2v-2.4 M134.97 149.2v-2.4 M138.2 149.2v-2.4 M141.43 149.2v-3.8 M144.66 149.2v-2.4 M147.89 149.2v-2.4 M151.12 149.2v-2.4 M154.34 149.2v-2.4 M157.57 149.2v-2.4 M160.8 149.2v-2.4 M164.03 149.2v-2.4 M167.26 149.2v-3.8 M170.49 149.2v-2.4 M173.72 149.2v-2.4 M176.95 149.2v-2.4 M180.18 149.2v-2.4 M183.41 149.2v-2.4 M186.63 149.2v-2.4 M189.86 149.2v-2.4 M193.09 149.2v-3.8 M196.32 149.2v-2.4 M199.55 149.2v-2.4 M202.78 149.2v-2.4 M206.01 149.2v-2.4 M209.24 149.2v-2.4 M212.47 149.2v-2.4 M215.69 149.2v-2.4 M218.92 149.2v-3.8 M222.15 149.2v-2.4 M225.38 149.2v-2.4 M228.61 149.2v-2.4 M231.84 149.2v-2.4 M235.07 149.2v-2.4 M238.3 149.2v-2.4 M241.53 149.2v-2.4 M244.76 149.2v-3.8 M247.99 149.2v-2.4 M251.21 149.2v-2.4 M254.44 149.2v-2.4 M257.67 149.2v-2.4 M260.9 149.2v-2.4 M264.13 149.2v-2.4 M267.36 149.2v-2.4 M270.59 149.2v-3.8 M273.82 149.2v-2.4 M277.05 149.2v-2.4 M280.28 149.2v-2.4 M283.5 149.2v-2.4 M286.73 149.2v-2.4 M289.96 149.2v-2.4 M293.19 149.2v-2.4 M296.42 149.2v-3.8 M299.65 149.2v-2.4 M302.88 149.2v-2.4 M306.11 149.2v-2.4 M309.34 149.2v-2.4 M312.57 149.2v-2.4 M315.79 149.2v-2.4 M319.02 149.2v-2.4 M322.25 149.2v-3.8 M325.48 149.2v-2.4 M328.71 149.2v-2.4 M331.94 149.2v-2.4 M335.17 149.2v-2.4 M338.4 149.2v-2.4 M341.63 149.2v-2.4 M344.86 149.2v-2.4 M348.08 149.2v-3.8 M351.31 149.2v-2.4 M354.54 149.2v-2.4 M357.77 149.2v-2.4 M361 149.2v-2.4 M364.23 149.2v-2.4 M367.46 149.2v-2.4 M370.69 149.2v-2.4 M373.92 149.2v-3.8 M377.15 149.2v-2.4 M380.37 149.2v-2.4 M383.6 149.2v-2.4 M386.83 149.2v-2.4 M390.06 149.2v-2.4 M393.29 149.2v-2.4 M396.52 149.2v-2.4 M399.75 149.2v-3.8 M402.98 149.2v-2.4 M406.21 149.2v-2.4 M409.44 149.2v-2.4 M412.66 149.2v-2.4 M415.89 149.2v-2.4 M419.12 149.2v-2.4 M422.35 149.2v-2.4 M425.58 149.2v-3.8 M428.81 149.2v-2.4 M432.04 149.2v-2.4 M435.27 149.2v-2.4 M438.5 149.2v-2.4 M441.73 149.2v-2.4 M444.95 149.2v-2.4 M448.18 149.2v-2.4 M451.41 149.2v-3.8 M454.64 149.2v-2.4 M457.87 149.2v-2.4 M461.1 149.2v-2.4 M464.33 149.2v-2.4 M467.56 149.2v-2.4 M470.79 149.2v-2.4 M474.02 149.2v-2.4 M477.24 149.2v-3.8 M480.47 149.2v-2.4 M483.7 149.2v-2.4 M486.93 149.2v-2.4 M490.16 149.2v-2.4 M493.39 149.2v-2.4 M496.62 149.2v-2.4 M499.85 149.2v-2.4 M503.08 149.2v-3.8 M506.31 149.2v-2.4 M509.53 149.2v-2.4 M512.76 149.2v-2.4 M515.99 149.2v-2.4 M519.22 149.2v-2.4 M522.45 149.2v-2.4 M525.68 149.2v-2.4 M528.91 149.2v-3.8 M532.14 149.2v-2.4 M535.37 149.2v-2.4 M538.6 149.2v-2.4 M541.82 149.2v-2.4 M545.05 149.2v-2.4" stroke="#505050" stroke-width="0.9" fill="none"/><text x="38.1" y="141.5" text-anchor="middle">0.00</text><text x="63.93" y="141.5" text-anchor="middle">8.00</text><text x="89.76" y="141.5" text-anchor="middle">16.00</text><text x="115.6" y="141.5" text-anchor="middle">24.00</text><text x="141.43" y="141.5" text-anchor="middle">32.00</text><text x="167.26" y="141.5" text-anchor="middle">40.00</text><text x="193.09" y="141.5" text-anchor="middle">48.00</text><text x="218.92" y="141.5" text-anchor="middle">56.00</text><text x="244.76" y="141.5" text-anchor="middle">64.00</text><text x="270.59" y="141.5" text-anchor="middle">72.00</text><text x="296.42" y="141.5" text-anchor="middle">80.00</text><text x="322.25" y="141.5" text-anchor="middle">88.00</text><text x="348.08" y="141.5" text-anchor="middle">96.00</text><text x="373.92" y="141.5" text-anchor="middle">104.00</text><text x="399.75" y="141.5" text-anchor="middle">112.00</text><text x="425.58" y="141.5" text-anchor="middle">120.00</text><text x="451.41" y="141.5" text-anchor="middle">128.00</text><text x="477.24" y="141.5" text-anchor="middle">136.00</text><text x="503.08" y="141.5" text-anchor="middle">144.00</text><text x="528.91" y="141.5" text-anchor="middle">152.00</text><line x1="25.5" y1="153" x2="25.5" y2="245" stroke="#505050" stroke-width="1"/><path d="M25.5 244.7h-9.5 M25.5 241.48h-3.3 M25.5 238.26h-3.3 M25.5 235.04h-3.3 M25.5 231.82h-5.5 M25.5 228.6h-3.3 M25.5 225.38h-3.3 M25.5 222.16h-3.3 M25.5 218.94h-9.5 M25.5 215.72h-3.3 M25.5 212.5h-3.3 M25.5 209.28h-3.3 M25.5 206.06h-5.5 M25.5 202.84h-3.3 M25.5 199.62h-3.3 M25.5 196.4h-3.3 M25.5 193.18h-9.5 M25.5 189.96h-3.3 M25.5 186.74h-3.3 M25.5 183.52h-3.3 M25.5 180.3h-5.5 M25.5 177.08h-3.3 M25.5 173.86h-3.3 M25.5 170.64h-3.3 M25.5 167.42h-9.5 M25.5 164.2h-3.3 M25.5 160.98h-3.3 M25.5 157.76h-3.3 M25.5 154.54h-5.5" stroke="#505050" stroke-width="0.9" fill="none"/><text x="17.6" y="243.96" text-anchor="end">0.00</text><text x="17.6" y="217.96" text-anchor="end">8.00</text><text x="17.6" y="190.46" text-anchor="end">16.00</text><text x="17.6" y="164.56" text-anchor="end">24.00</text></g>
<text x="287.3" y="254.5" font-family='"Liberation Sans", "DejaVu Sans", sans-serif' font-weight="bold" font-size="5.06" fill="#202020" text-anchor="middle">Plastic points (scaled up 0.00 times)</text>
<text x="275.5" y="270.5" font-family='"Liberation Serif", "DejaVu Serif", serif' font-size="13.5" fill="#1a1a1a" stroke="#1a1a1a" stroke-width="0.45" text-anchor="middle">(b)</text>
<clipPath id="damb"><polygon points="39,244.7 271.2,167.42 297,167.42 534.36,244.7"/></clipPath>
<polygon points="39,244.7 271.2,167.42 297,167.42 534.36,244.7" fill="#aeeef0"/>
<polygon points="448.57,244.7 483.41,232.62 488.89,231.98 495.02,232.08 534.36,244.7" fill="#92e6a6"/>
<path d="M339.1 222.9L329.7 221.4M62.9 236.8L66.2 235.7M216.5 185.6L223.3 183.4M339.9 185.3L334.1 184.1M223.3 183.4L230.3 181.0M369.3 190.9L372.9 192.1M132.7 224.8L134.8 219.1M136.2 230.0L132.7 224.8M448.8 216.8L445.5 221.3M397.5 244.7L402.0 238.9M314.1 183.0L316.6 189.5M372.9 192.1L376.5 193.3M136.2 230.0L137.9 223.8M488.5 229.8L492.1 230.9M421.0 211.7L415.8 211.9M259.9 171.2L255.9 180.2M492.1 230.9L495.7 232.1M437.9 213.3L439.8 218.3M165.4 227.3L165.2 233.5M467.8 244.7L463.3 244.7M118.2 244.7L116.4 238.7M405.4 202.7L405.2 207.1M239.9 244.7L232.4 244.7M347.7 244.7L350.0 237.1M136.1 237.9L141.8 233.6M110.0 230.9L106.4 234.3M64.6 244.7L61.1 244.7M61.1 244.7L57.7 244.7M75.4 238.1L80.1 236.1M125.8 215.8L123.1 221.7M480.8 244.7L485.9 241.1M390.0 211.2L394.8 215.5M210.8 196.9L219.8 194.3M95.4 235.4L89.9 236.5M399.4 205.8L395.3 209.0M93.2 240.3L98.0 239.7M497.2 237.0L491.4 239.7M249.1 223.4L255.2 229.2M227.7 236.7L236.7 235.9M272.0 191.0L272.8 197.4M413.5 219.2L405.4 221.4M305.8 217.9L318.7 222.3M306.1 174.3L313.0 176.7M189.0 201.5L193.7 206.1M351.2 185.1L354.8 189.7M372.8 197.4L373.0 204.8M286.1 220.2L281.7 229.1M456.7 234.8L450.7 235.6M320.3 184.7L324.5 190.9M513.0 237.7L516.1 238.8M88.5 231.6L89.9 236.5M438.5 244.7L433.1 244.7M413.6 232.3L405.0 231.3M390.9 244.7L396.0 235.5M154.0 227.5L154.7 220.3M197.3 244.7L190.7 244.7M458.6 244.7L461.0 238.9M525.1 241.7L523.1 244.7M62.9 236.8L67.1 239.6M170.4 214.4L166.5 220.5M203.4 213.2L199.8 206.4M190.7 244.7L184.4 244.7M333.1 179.2L334.1 184.1M202.7 222.1L203.4 213.2M309.0 187.4L303.2 192.6M217.3 206.6L219.8 194.3M500.1 244.7L498.3 241.5M254.4 190.5L255.9 180.2M255.2 229.2L258.7 236.8M502.3 239.8L497.2 237.0M264.3 229.0L274.5 234.8M242.9 214.5L249.3 207.5M286.1 220.2L295.6 222.7M427.5 244.7L428.3 235.1M275.3 183.6L267.8 176.3M348.4 225.9L339.1 222.9M466.5 236.0L468.4 230.2M338.7 234.3L332.3 228.8M148.7 222.1L154.7 220.3M69.5 234.5L73.0 233.4M244.7 176.2L245.6 184.8M320.1 196.8L327.2 197.8M249.3 207.5L257.5 205.8M448.8 244.7L455.0 240.5M263.1 196.5L272.0 191.0M68.2 244.7L71.6 241.5M267.8 176.3L265.1 186.5M456.0 219.2L451.7 222.2M237.4 178.7L244.7 176.2M380.1 194.5L383.7 195.7M465.2 225.9L461.8 231.3M323.5 180.6L320.3 184.7M294.1 191.4L288.1 198.4M435.8 233.3L431.4 227.3M159.6 232.2L165.4 227.3M519.2 239.8L520.1 244.7M278.6 167.4L277.3 175.0M415.8 211.9L413.5 219.2M197.3 244.7L193.4 238.5M360.8 193.0L354.1 195.5M219.8 194.3L226.8 202.1M411.4 225.9L405.4 221.4M212.3 225.4L219.5 220.2M316.6 189.5L311.8 194.7M91.5 227.2L95.5 225.9M311.8 194.7L315.0 202.8M473.6 228.7L468.4 230.2M100.8 234.3L106.4 234.3M513.0 237.7L507.5 240.6M203.2 190.0L210.8 196.9M261.6 213.1L257.7 221.4M278.6 167.4L285.0 167.4M252.7 214.2L257.5 205.8M255.9 180.2L265.1 186.5M301.2 185.3L303.2 192.6M390.2 204.9L385.6 207.3M285.0 167.4L290.5 167.4M223.3 183.4L219.8 194.3M401.8 201.5L405.4 202.7M124.0 234.8L116.4 238.7M296.8 199.3L300.3 207.6M405.4 202.7L409.0 203.9M311.8 194.7L306.2 200.4M289.8 177.5L285.4 172.8M519.2 239.8L522.2 240.7M344.0 182.7L344.7 186.8M163.0 238.8L169.4 237.9M522.2 240.7L525.1 241.7M403.8 244.7L402.0 238.9M288.8 244.7L280.2 244.7M390.2 204.9L395.3 209.0M342.8 191.2L347.2 197.0M421.9 244.7L416.0 244.7M87.4 244.7L83.4 244.7M284.0 180.9L282.4 191.2M178.1 244.7L172.0 244.7M219.5 220.2L225.4 213.3M426.4 221.1L418.8 225.2M316.6 189.5L320.1 196.8M405.0 231.3L396.0 235.5M507.5 240.6L502.3 239.8M225.4 213.3L234.4 208.3M84.6 234.2L84.8 239.9M207.5 206.5L217.3 206.6M387.3 235.0L384.0 223.4M97.2 229.7L95.4 235.4M111.6 234.9L106.4 234.3M164.1 215.6L165.3 209.1M398.4 226.5L391.5 228.6M324.5 190.9L332.0 194.1M419.9 207.4L421.0 211.7M267.2 204.7L278.4 203.6M421.0 211.7L425.6 213.6M127.5 225.1L123.1 221.7M396.0 235.5L402.0 238.9M258.7 236.8L266.5 237.9M306.2 200.4L315.0 202.8M325.1 205.3L325.6 214.3M405.4 221.4L398.8 219.9M148.7 222.1L146.7 214.1M495.7 232.1L497.2 237.0M296.8 199.3L288.9 207.9M409.0 203.9L405.2 207.1M169.4 237.9L175.0 232.5M226.5 221.8L225.4 213.3M339.8 244.7L350.0 237.1M277.3 175.0L275.3 183.6M195.8 213.9L203.4 213.2M373.0 224.0L371.2 235.4M333.1 179.2L328.7 181.7M249.1 223.4L252.7 214.2M91.5 227.2L92.7 232.2M116.7 218.9L117.3 224.7M317.8 234.6L307.6 237.6M99.5 224.6L103.7 223.2M354.8 186.2L354.8 189.7M307.3 180.7L301.2 185.3M290.7 232.3L281.7 229.1M458.6 244.7L455.0 240.5M448.8 216.8L451.7 222.2M93.2 240.3L95.4 235.4M122.9 228.2L129.1 229.7M477.7 226.2L481.3 227.4M412.6 205.1L416.2 206.2M484.9 244.7L480.8 244.7M360.8 193.0L364.3 198.2M527.9 242.6L530.7 243.5M160.3 222.3L165.4 227.3M181.4 237.0L188.1 232.9M271.8 244.7L263.5 244.7M344.7 186.8L349.0 190.2M410.0 244.7L403.8 244.7M193.4 238.5L187.5 239.4M507.2 244.7L507.5 240.6M227.7 236.7L231.3 227.9M188.1 232.9L181.7 226.6M41.8 243.8L41.8 244.7M79.4 244.7L75.6 244.7M384.9 201.1L390.2 204.9M263.5 244.7L266.5 237.9M391.5 228.6L387.3 235.0M339.9 185.3L336.4 189.9M298.8 171.9L292.3 172.4M292.3 172.4L294.7 176.8M496.5 244.7L498.3 241.5M373.0 204.8L365.1 204.7M226.5 221.8L231.3 227.9M384.0 223.4L373.0 224.0M274.5 234.8L274.2 222.8M492.1 234.2L491.4 239.7M203.4 213.2L211.5 215.8M290.7 232.3L295.6 222.7M178.6 198.3L181.5 203.8M130.6 214.2L135.5 212.6M234.4 208.3L242.9 214.5M184.4 244.7L187.5 239.4M320.1 196.8L325.1 205.3M254.4 190.5L265.1 186.5M255.2 229.2L264.3 229.0M225.0 244.7L227.7 236.7M146.0 238.2L141.2 239.6M408.4 238.6L405.0 231.3M439.5 226.1L442.3 233.1M318.6 179.2L320.3 184.7M300.2 178.5L292.5 183.1M187.2 218.0L194.3 222.2M522.2 240.7L520.1 244.7M217.8 244.7L210.8 244.7M439.8 218.3L435.2 216.2M104.4 244.7L109.0 240.0M54.4 244.7L51.1 244.7M190.7 244.7L193.4 238.5M170.4 214.4L178.4 217.2M301.2 185.3L294.1 191.4M128.0 244.7L123.1 244.7M228.7 191.2L235.5 197.9M213.2 232.5L212.3 225.4M513.0 237.7L510.5 244.7M497.2 237.0L498.3 241.5M110.0 230.9L111.4 226.3M455.0 228.6L456.5 223.1M389.2 217.1L384.0 223.4M305.8 217.9L295.6 222.7M172.4 224.0L181.7 226.6M56.5 238.9L59.6 237.8M451.7 222.2L456.5 223.1M288.9 207.9L295.1 214.9M286.1 220.2L288.9 207.9M334.2 201.7L327.2 197.8M161.5 203.9L165.3 209.1M330.1 187.7L328.7 181.7M209.8 187.9L216.5 185.6M117.3 224.7L122.9 228.2M372.9 192.1L372.8 197.4M455.0 228.6L456.7 234.8M365.7 189.8L369.3 190.9M347.6 183.9L344.7 186.8M442.3 233.1L439.7 239.0M129.3 220.3L123.1 221.7M533.3 244.4L531.7 244.7M189.4 226.0L187.2 218.0M275.3 183.6L265.1 186.5M394.8 203.0L399.4 205.8M159.6 232.2L165.2 233.5M181.5 203.8L189.0 201.5M109.0 240.0L116.4 238.7M218.5 214.4L225.4 213.3M369.4 213.1L373.0 224.0M455.0 228.6L450.7 235.6M451.7 222.2L445.5 221.3M226.8 202.1L234.4 208.3M76.5 232.2L80.1 231.0M240.2 225.8L249.1 223.4M80.1 231.0L83.8 229.8M318.7 222.3L325.6 214.3M252.2 173.7L259.9 171.2M258.7 236.8L264.3 229.0M423.5 208.6L421.0 211.7M364.3 220.5L357.8 227.9M477.9 230.8L473.6 228.7M259.9 171.2L267.7 168.6M387.3 196.8L390.9 198.0M169.4 237.9L169.4 231.0M97.2 229.7L100.8 234.3M325.3 185.1L330.1 187.7M357.8 227.9L348.4 225.9M477.7 239.8L474.0 240.9M390.9 198.0L394.6 199.2M473.3 235.3L466.5 236.0M195.5 199.9L202.4 198.8M435.8 233.3L439.7 239.0M509.7 236.7L513.0 237.7M249.1 223.4L257.7 221.4M339.9 185.3L342.8 191.2M499.3 233.3L497.2 237.0M478.8 235.2L477.9 230.8M344.0 182.7L339.9 185.3M443.7 244.7L438.5 244.7M152.6 236.6L154.0 227.5M298.8 171.9L294.7 176.8M236.7 235.9L240.2 225.8M290.5 167.4L285.4 172.8M204.0 244.7L197.3 244.7M98.0 239.7L103.0 239.4M142.6 226.4L147.7 230.7M48.0 244.7L44.9 244.7M233.5 218.5L234.4 208.3M188.1 232.9L196.3 230.5M314.6 244.7L307.6 237.6M347.2 197.0L344.3 204.9M44.9 244.7L41.8 244.7M244.5 194.0L251.9 199.6M261.6 213.1L257.5 205.8M317.8 234.6L318.7 222.3M301.2 185.3L292.5 183.1M383.7 195.7L384.9 201.1M485.9 241.1L487.2 235.7M292.3 172.4L289.8 177.5M306.1 174.3L307.3 180.7M373.0 204.8L369.4 213.1M88.5 231.6L92.7 232.2M369.3 190.9L367.8 194.5M75.6 244.7L79.7 241.3M415.8 211.9L420.3 217.0M346.5 215.4L339.1 222.9M452.4 218.0L451.7 222.2M196.9 192.2L202.4 198.8M134.8 219.1L141.3 218.6M138.3 244.7L136.1 237.9M329.7 221.4L325.1 228.8M456.0 219.2L456.5 223.1M425.1 228.2L421.0 233.3M325.9 176.8L323.5 180.6M232.4 244.7L227.7 236.7M118.2 244.7L123.0 241.1M466.5 236.0L461.0 238.9M473.3 235.3L473.6 228.7M166.1 244.7L160.2 244.7M336.4 189.9L339.6 196.6M408.4 238.6L402.0 238.9M330.1 187.7L336.4 189.9M170.3 206.9L175.9 209.0M175.9 209.0L181.5 203.8M301.2 185.3L309.0 187.4M392.9 222.0L391.5 228.6M401.2 213.3L398.8 219.9M196.3 230.5L205.6 231.4M339.6 196.6L344.3 204.9M323.2 244.7L328.0 236.2M354.8 189.7L360.8 193.0M221.4 229.0L226.5 221.8M247.8 235.6L255.2 229.2M257.5 205.8L263.1 196.5M182.3 211.5L188.3 209.1M478.8 235.2L477.7 239.8M376.5 193.3L378.5 199.2M83.8 229.8L87.6 228.5M103.0 239.4L109.0 240.0M492.7 244.7L491.4 239.7M87.6 228.5L91.5 227.2M267.7 168.6L271.2 167.4M519.2 239.8L514.9 241.7M271.2 167.4L278.6 167.4M394.6 199.2L398.2 200.4M116.3 231.3L122.9 228.2M434.3 212.1L435.2 216.2M347.2 197.0L339.6 196.6M384.1 213.2L377.1 213.9M446.5 233.8L450.7 235.6M398.2 200.4L401.8 201.5M196.9 192.2L195.5 199.9M127.5 225.1L132.7 224.8M187.2 218.0L181.7 226.6M516.1 238.8L519.2 239.8M459.6 220.4L460.3 225.2M329.7 221.4L318.7 222.3M146.0 238.2L147.7 230.7M433.1 244.7L427.5 244.7M170.4 214.4L175.9 209.0M199.8 206.4L193.7 206.1M202.7 222.1L205.6 231.4M234.4 208.3L235.5 197.9M344.3 204.9L334.2 201.7M184.4 244.7L178.1 244.7M455.0 228.6L461.8 231.3M443.7 244.7L439.7 239.0M395.3 209.0L394.8 215.5M324.5 190.9L327.2 197.8M482.9 232.1L487.2 235.7M358.4 187.4L360.8 193.0M112.2 220.3L116.7 218.9M203.4 213.2L207.5 206.5M116.3 231.3L117.3 224.7M283.4 236.8L290.7 232.3M334.2 201.7L325.1 205.3M300.6 168.6L304.2 169.8M167.0 202.1L165.3 209.1M419.9 207.4L423.5 208.6M420.3 217.0L418.8 225.2M423.5 208.6L427.1 209.8M307.3 180.7L314.1 183.0M533.3 244.4L534.4 244.7M141.2 239.6L141.8 233.6M129.3 239.5L136.1 237.9M83.4 244.7L84.8 239.9M534.4 244.7L531.7 244.7M397.5 244.7L390.9 244.7M50.4 240.9L48.0 244.7M165.4 227.3L169.4 231.0M394.8 203.0L395.3 209.0M390.9 244.7L384.2 244.7M160.2 244.7L157.9 239.4M500.1 244.7L502.3 239.8M149.0 244.7L143.6 244.7M226.8 202.1L228.7 191.2M439.8 218.3L445.5 221.3M172.7 200.2L175.9 209.0M379.3 234.2L373.0 224.0M175.0 232.5L181.7 226.6M75.4 238.1L79.7 241.3M189.4 226.0L196.3 230.5M164.1 215.6L166.5 220.5M390.2 204.9L390.0 211.2M100.0 244.7L98.0 239.7M251.9 199.6L254.4 190.5M249.3 207.5L251.9 199.6M318.6 179.2L314.1 183.0M263.1 196.5L267.2 204.7M401.2 213.3L405.4 221.4M289.8 177.5L292.5 183.1M435.2 216.2L430.9 215.9M468.4 230.2L461.8 231.3M95.4 235.4L100.8 234.3M124.0 234.8L123.0 241.1M398.2 200.4L399.4 205.8M135.5 212.6L141.3 218.6M83.4 244.7L79.7 241.3M332.3 228.8L325.1 228.8M267.2 204.7L270.7 212.9M431.4 227.3L428.3 235.1M344.3 204.9L346.5 215.4M398.4 226.5L398.8 219.9M420.3 217.0L413.5 219.2M425.6 213.6L420.3 217.0M172.4 224.0L170.4 214.4M148.7 222.1L152.0 215.5M175.0 232.5L181.4 237.0M428.3 235.1L433.8 240.1M166.1 244.7L163.0 238.8M189.0 201.5L195.5 199.9M450.7 235.6L445.2 238.4M385.6 207.3L390.0 211.2M160.2 244.7L163.0 238.8M133.1 244.7L129.3 239.5M339.8 244.7L338.7 234.3M207.5 206.5L202.4 198.8M354.1 195.5L352.7 202.2M116.7 218.9L123.1 221.7M488.8 244.7L485.9 241.1M348.4 225.9L338.7 234.3M274.2 222.8L286.1 220.2M362.9 244.7L361.8 237.5M448.8 244.7L450.7 235.6M121.2 217.3L125.8 215.8M75.6 244.7L75.4 238.1M495.3 241.4L491.4 239.7M372.9 192.1L367.8 194.5M110.0 230.9L116.3 231.3M325.1 228.8L318.7 222.3M310.0 228.1L301.2 230.1M330.1 187.7L332.0 194.1M104.6 228.0L100.8 234.3M415.8 211.9L408.6 213.6M280.2 244.7L283.4 236.8M395.3 209.0L401.2 213.3M307.8 170.9L311.5 172.1M125.8 215.8L130.6 214.2M513.0 237.7L514.9 241.7M203.2 190.0L202.4 198.8M451.7 222.2L455.0 228.6M133.1 244.7L136.1 237.9M311.5 172.1L315.1 173.3M427.1 209.8L430.7 210.9M142.6 226.4L148.7 222.1M459.6 220.4L456.5 223.1M430.7 210.9L434.3 212.1M152.0 215.5L158.1 212.6M124.0 234.8L129.1 229.7M300.6 168.6L298.8 171.9M441.5 214.5L439.8 218.3M463.3 244.7L458.6 244.7M378.5 199.2L373.0 204.8M528.9 244.7L526.0 244.7M232.4 244.7L225.0 244.7M104.6 228.0L110.0 230.9M129.3 220.3L132.7 224.8M377.3 244.7L370.2 244.7M306.2 200.4L296.8 199.3M428.3 235.1L423.1 239.4M221.4 229.0L227.7 236.7M138.3 244.7L133.1 244.7M91.5 244.7L89.2 241.2M300.2 178.5L307.3 180.7M279.2 213.4L278.4 203.6M136.2 230.0L131.1 234.3M491.4 239.7L487.2 235.7M282.4 191.2L272.8 197.4M130.6 214.2L134.8 219.1M134.8 219.1L137.9 223.8M295.6 222.7L301.2 230.1M357.8 227.9L350.0 237.1M285.4 172.8L284.0 180.9M165.4 227.3L166.5 220.5M333.1 179.2L336.7 180.4M373.0 224.0L365.6 229.0M466.5 236.0L461.8 231.3M141.3 218.6L148.7 222.1M75.6 244.7L71.6 241.5M408.6 213.6L405.4 221.4M84.8 239.9L89.9 236.5M507.2 244.7L503.7 244.7M182.3 211.5L181.5 203.8M473.3 235.3L468.4 230.2M323.2 244.7L314.6 244.7M398.4 226.5L405.4 221.4M336.7 180.4L334.1 184.1M91.5 227.2L88.5 231.6M71.4 237.4L75.4 238.1M104.4 244.7L100.0 244.7M492.7 244.7L495.3 241.4M503.7 244.7L502.3 239.8M226.5 221.8L233.5 218.5M392.9 222.0L389.2 217.1M172.7 200.2L181.5 203.8M364.3 198.2L359.2 199.9M430.9 215.9L433.8 220.9M362.0 188.6L360.8 193.0M257.5 205.8L267.2 204.7M79.7 241.3L84.8 239.9M426.4 221.1L431.4 227.3M93.2 240.3L89.2 241.2M234.4 208.3L242.8 203.6M235.5 197.9L236.9 187.9M300.3 207.6L309.1 207.9M365.7 189.8L360.8 193.0M506.3 235.6L507.5 240.6M99.5 224.6L104.6 228.0M383.7 195.7L387.3 196.8M360.8 193.0L359.2 199.9M316.6 189.5L309.0 187.4M50.4 240.9L51.1 244.7M502.9 234.5L506.3 235.6M413.5 219.2L411.4 225.9M295.2 167.4L292.3 172.4M330.1 187.7L324.5 190.9M141.3 218.6L146.7 214.1M170.3 206.9L170.4 214.4M453.8 244.7L448.8 244.7M53.4 239.9L51.1 244.7M416.2 206.2L415.8 211.9M154.5 244.7L157.9 239.4M172.4 224.0L178.4 217.2M311.5 172.1L313.0 176.7M196.3 230.5L202.7 222.1M210.8 196.9L217.3 206.6M76.5 232.2L80.1 236.1M338.7 234.3L328.0 236.2M149.0 244.7L152.6 236.6M217.3 206.6L218.5 214.4M71.4 237.4L71.6 241.5M396.0 235.5L391.5 228.6M117.3 224.7L123.1 221.7M95.5 225.9L99.5 224.6M477.7 239.8L473.3 235.3M242.9 214.5L252.7 214.2M430.9 215.9L425.6 213.6M209.8 187.9L210.8 196.9M230.3 181.0L236.9 187.9M290.7 232.3L301.2 230.1M129.3 239.5L131.1 234.3M140.4 210.9L141.3 218.6M307.8 170.9L306.1 174.3M409.0 203.9L412.6 205.1M318.7 174.5L313.0 176.7M421.0 233.3L418.8 225.2M289.8 177.5L284.0 180.9M111.6 234.9L116.3 231.3M525.1 241.7L527.9 242.6M172.7 200.2L170.3 206.9M57.7 244.7L57.9 241.7M165.2 233.5L163.0 238.8M84.6 234.2L89.9 236.5M416.0 244.7L410.0 244.7M124.0 234.8L129.3 239.5M411.4 225.9L405.0 231.3M152.0 215.5L154.7 220.3M172.0 244.7L166.1 244.7M83.8 229.8L84.6 234.2M418.8 225.2L411.4 225.9M306.0 244.7L297.4 244.7M175.3 239.3L181.4 237.0M384.9 201.1L380.2 206.5M95.7 244.7L91.5 244.7M361.8 237.5L365.6 229.0M331.6 244.7L338.7 234.3M470.4 223.9L465.2 225.9M75.4 238.1L71.6 241.5M195.8 213.9L193.7 206.1M325.9 176.8L328.7 181.7M484.9 244.7L485.9 241.1M482.2 238.0L478.8 235.2M355.4 244.7L361.8 237.5M310.0 228.1L317.8 234.6M305.8 217.9L301.2 230.1M460.3 225.2L465.2 225.9M59.6 237.8L57.9 241.7M306.2 200.4L300.3 207.6M294.7 176.8L289.8 177.5M158.1 212.6L165.3 209.1M172.4 224.0L175.0 232.5M354.1 195.5L347.2 197.0M342.8 191.2L339.6 196.6M463.3 244.7L461.0 238.9M189.4 226.0L194.3 222.2M166.1 244.7L169.4 237.9M481.3 227.4L477.9 230.8M448.8 244.7L445.2 238.4M87.4 244.7L89.2 241.2M282.4 191.2L288.1 198.4M352.7 202.2L352.0 209.3M97.2 229.7L104.6 228.0M447.4 228.6L442.3 233.1M264.3 229.0L266.5 237.9M103.7 223.2L107.9 221.8M392.9 222.0L398.8 219.9M301.2 230.1L307.6 237.6M296.8 199.3L288.1 198.4M107.9 221.8L112.2 220.3M295.2 167.4L297.0 167.4M334.1 184.1L330.1 187.7M233.5 218.5L242.9 214.5M267.2 204.7L272.8 197.4M279.2 213.4L288.9 207.9M237.4 178.7L245.6 184.8M297.0 167.4L300.6 168.6M453.8 244.7L455.0 240.5M71.9 244.7L71.6 241.5M62.2 240.9L57.9 241.7M416.2 206.2L419.9 207.4M267.7 168.6L267.8 176.3M323.5 180.6L328.7 181.7M530.7 243.5L533.3 244.4M384.1 213.2L389.2 217.1M352.0 209.3L346.5 215.4M136.1 237.9L141.2 239.6M403.8 244.7L397.5 244.7M352.7 202.2L344.3 204.9M160.2 244.7L154.5 244.7M503.7 244.7L507.5 240.6M271.2 167.4L277.3 175.0M196.3 230.5L200.9 238.2M205.6 231.4L208.7 238.3M113.5 244.7L109.0 240.0M439.7 239.0L433.8 240.1M154.5 244.7L149.0 244.7M160.3 222.3L164.1 215.6M354.8 189.7L349.0 190.2M195.8 213.9L199.8 206.4M284.0 180.9L275.3 183.6M446.5 233.8L442.3 233.1M398.4 226.5L392.9 222.0M495.3 241.4L498.3 241.5M346.5 215.4L348.4 225.9M300.3 207.6L295.1 214.9M391.5 228.6L384.0 223.4M244.5 194.0L254.4 190.5M242.8 203.6L251.9 199.6M261.6 213.1L267.2 204.7M298.8 171.9L300.2 178.5M317.8 234.6L328.0 236.2M509.7 236.7L507.5 240.6M318.7 174.5L322.3 175.7M351.2 185.1L349.0 190.2M216.5 185.6L214.3 191.5M295.6 222.7L295.1 214.9M288.1 198.4L288.9 207.9M292.3 172.4L285.4 172.8M103.7 223.2L104.6 228.0M437.9 213.3L441.5 214.5M368.6 199.8L365.1 204.7M202.7 222.1L212.3 225.4M523.1 244.7L520.1 244.7M130.6 214.2L129.3 220.3M53.4 239.9L54.4 244.7M362.9 244.7L355.4 244.7M323.2 244.7L317.8 234.6M355.4 244.7L347.7 244.7M315.1 173.3L313.0 176.7M195.8 213.9L202.7 222.1M425.1 228.2L418.8 225.2M307.3 180.7L309.0 187.4M368.6 199.8L373.0 204.8M91.5 244.7L93.2 240.3M123.1 244.7L118.2 244.7M112.2 220.3L111.4 226.3M158.1 212.6L164.1 215.6M80.1 231.0L80.1 236.1M109.0 240.0L106.4 234.3M371.2 235.4L361.8 237.5M472.3 244.7L474.0 240.9M84.6 234.2L80.1 236.1M323.5 180.6L318.6 179.2M470.4 223.9L473.6 228.7M265.4 219.9L264.3 229.0M205.6 231.4L213.2 232.5M221.4 229.0L231.3 227.9M245.6 184.8L254.4 190.5M480.8 244.7L482.2 238.0M178.1 244.7L175.3 239.3M373.0 224.0L364.3 220.5M413.5 219.2L418.8 225.2M202.7 222.1L211.5 215.8M478.8 235.2L473.3 235.3M116.7 218.9L121.2 217.3M288.8 244.7L283.4 236.8M311.5 172.1L306.1 174.3M255.2 229.2L257.7 221.4M438.5 244.7L433.8 240.1M304.2 169.8L307.8 170.9M430.7 210.9L430.9 215.9M54.4 244.7L57.9 241.7M116.3 231.3L116.4 238.7M445.2 238.4L439.7 239.0M480.8 244.7L477.7 239.8M439.5 226.1L435.8 233.3M178.1 244.7L181.4 237.0M344.7 186.8L342.8 191.2M355.4 244.7L350.0 237.1M136.2 230.0L142.6 226.4M336.7 180.4L339.9 185.3M169.4 237.9L175.3 239.3M372.8 197.4L368.6 199.8M194.3 222.2L195.8 213.9M284.0 180.9L277.3 175.0M181.4 237.0L181.7 226.6M247.8 235.6L249.1 223.4M210.8 196.9L214.3 191.5M460.3 225.2L456.5 223.1M334.2 201.7L335.5 212.0M497.2 237.0L492.1 234.2M329.5 178.0L328.7 181.7M369.4 213.1L364.3 220.5M384.9 201.1L378.5 199.2M472.3 244.7L469.9 240.3M254.4 190.5L263.1 196.5M145.5 209.3L150.7 207.5M358.2 207.3L356.1 217.0M421.0 233.3L423.1 239.4M199.8 206.4L202.4 198.8M150.7 207.5L156.0 205.8M325.9 176.8L329.5 178.0M92.7 232.2L97.2 229.7M405.2 207.1L408.6 213.6M329.5 178.0L333.1 179.2M445.1 215.7L448.8 216.8M448.8 216.8L452.4 218.0M517.0 244.7L513.8 244.7M318.7 174.5L318.6 179.2M502.9 234.5L497.2 237.0M513.8 244.7L510.5 244.7M347.7 244.7L339.8 244.7M129.1 229.7L132.7 224.8M165.2 233.5L169.4 237.9M320.3 184.7L314.1 183.0M327.2 197.8L325.1 205.3M189.4 226.0L181.7 226.6M230.3 181.0L228.7 191.2M377.3 244.7L379.3 234.2M408.6 213.6L413.5 219.2M339.8 244.7L331.6 244.7M322.3 175.7L318.6 179.2M159.6 232.2L157.9 239.4M124.0 234.8L131.1 234.3M405.2 207.1L401.2 213.3M510.5 244.7L507.5 240.6M113.5 244.7L108.9 244.7M443.7 244.7L445.2 238.4M335.5 212.0L329.7 221.4M271.8 244.7L266.5 237.9M339.6 196.6L332.0 194.1M226.8 202.1L235.5 197.9M421.0 233.3L413.6 232.3M199.8 206.4L207.5 206.5M286.1 220.2L290.7 232.3M315.0 202.8L309.1 207.9M350.0 237.1L348.4 225.9M338.7 234.3L339.1 222.9M213.2 232.5L221.4 229.0M279.2 213.4L270.7 212.9M292.5 183.1L294.1 191.4M447.4 228.6L450.7 235.6M385.6 207.3L380.2 206.5M305.8 217.9L295.1 214.9M278.4 203.6L288.9 207.9M325.3 185.1L328.7 181.7M271.2 167.4L267.8 176.3M421.9 244.7L423.1 239.4M492.7 244.7L488.8 244.7M412.6 205.1L411.2 208.1M455.0 228.6L447.4 228.6M303.2 192.6L306.2 200.4M178.4 217.2L187.2 218.0M188.3 209.1L195.8 213.9M416.3 239.6L408.4 238.6M148.7 222.1L154.0 227.5M200.9 238.2L208.7 238.3M108.9 244.7L109.0 240.0M83.4 244.7L79.4 244.7M495.3 241.4L497.2 237.0M482.2 238.0L482.9 232.1M278.4 203.6L288.1 198.4M152.6 236.6L157.9 239.4M380.1 194.5L378.5 199.2M264.3 229.0L257.7 221.4M394.8 215.5L389.2 217.1M277.3 175.0L267.8 176.3M156.0 205.8L161.5 203.9M294.1 191.4L296.8 199.3M488.8 244.7L491.4 239.7M107.9 221.8L104.6 228.0M316.8 211.8L309.1 207.9M92.7 232.2L89.9 236.5M184.5 196.3L189.0 201.5M161.5 203.9L167.0 202.1M154.0 227.5L160.3 222.3M336.7 180.4L340.4 181.5M152.6 236.6L147.7 230.7M356.1 217.0L348.4 225.9M456.0 219.2L459.6 220.4M265.4 219.9L270.7 212.9M113.5 244.7L116.4 238.7M274.5 234.8L281.7 229.1M427.5 244.7L421.9 244.7M530.7 243.5L531.7 244.7M300.2 178.5L294.7 176.8M182.3 211.5L187.2 218.0M426.4 221.1L425.1 228.2M80.1 231.0L84.6 234.2M189.0 201.5L188.3 209.1M420.3 217.0L426.4 221.1M303.2 192.6L311.8 194.7M225.4 213.3L226.8 202.1M178.4 217.2L181.7 226.6M349.0 190.2L342.8 191.2M466.8 222.7L465.2 225.9M474.1 225.1L473.6 228.7M517.0 244.7L514.9 241.7M50.4 240.9L53.4 239.9M384.1 213.2L384.0 223.4M172.0 244.7L175.3 239.3M313.0 176.7L314.1 183.0M399.4 205.8L401.2 213.3M506.3 235.6L502.3 239.8M196.9 192.2L203.2 190.0M358.4 187.4L362.0 188.6M160.3 222.3L166.5 220.5M434.3 212.1L430.9 215.9M390.0 211.2L384.1 213.2M122.9 228.2L127.5 225.1M476.6 244.7L477.7 239.8M150.7 207.5L146.7 214.1M384.2 244.7L377.3 244.7M340.4 181.5L339.9 185.3M480.8 244.7L476.6 244.7M66.2 235.7L67.1 239.6M329.7 221.4L325.6 214.3M194.3 222.2L196.3 230.5M394.6 199.2L394.8 203.0M143.6 244.7L138.3 244.7M527.9 242.6L526.0 244.7M263.5 244.7L255.5 244.7M210.8 196.9L202.4 198.8M460.3 225.2L461.8 231.3M488.5 229.8L482.9 232.1M439.5 226.1L431.4 227.3M75.6 244.7L71.9 244.7M411.2 208.1L405.2 207.1M431.4 227.3L425.1 228.2M156.0 205.8L158.1 212.6M356.1 217.0L357.8 227.9M266.5 237.9L274.5 234.8M242.8 203.6L249.3 207.5M467.8 244.7L469.9 240.3M62.2 240.9L67.1 239.6M428.3 235.1L421.0 233.3M64.6 244.7L62.2 240.9M470.4 223.9L468.4 230.2M188.3 209.1L193.7 206.1M339.6 196.6L334.2 201.7M492.1 234.2L487.2 235.7M430.9 215.9L426.4 221.1M245.6 184.8L255.9 180.2M247.8 235.6L258.7 236.8M211.5 215.8L218.5 214.4M147.7 230.7L141.8 233.6M365.7 189.8L367.8 194.5M377.1 213.9L384.0 223.4M290.5 167.4L295.2 167.4M79.4 244.7L79.7 241.3M320.1 196.8L315.0 202.8M259.9 171.2L267.8 176.3M73.0 233.4L71.4 237.4M160.3 222.3L158.1 212.6M322.3 175.7L323.5 180.6M295.2 167.4L298.8 171.9M466.5 236.0L465.6 240.7M193.4 238.5L196.3 230.5M142.6 226.4L141.8 233.6M149.0 244.7L146.0 238.2M373.0 204.8L380.2 206.5M242.9 214.5L242.8 203.6M384.0 223.4L379.3 234.2M349.0 190.2L354.1 195.5M482.9 232.1L477.9 230.8M390.9 198.0L390.2 204.9M219.8 194.3L228.7 191.2M377.3 244.7L371.2 235.4M331.6 244.7L328.0 236.2M211.5 215.8L217.3 206.6M175.0 232.5L169.4 231.0M488.5 229.8L487.2 235.7M411.2 208.1L415.8 211.9M217.3 206.6L226.8 202.1M306.1 174.3L298.8 171.9M278.4 203.6L270.7 212.9M111.6 234.9L109.0 240.0M347.6 183.9L349.0 190.2M197.3 244.7L200.9 238.2M315.1 173.3L318.7 174.5M349.0 190.2L347.2 197.0M516.1 238.8L514.9 241.7M394.8 215.5L398.8 219.9M434.3 212.1L437.9 213.3M297.4 244.7L290.7 232.3M416.2 206.2L411.2 208.1M175.3 239.3L175.0 232.5M190.6 194.2L195.5 199.9M526.0 244.7L523.1 244.7M304.2 169.8L298.8 171.9M59.6 237.8L62.2 240.9M427.1 209.8L425.6 213.6M370.2 244.7L362.9 244.7M433.8 220.9L439.5 226.1M146.0 238.2L152.6 236.6M472.3 244.7L467.8 244.7M73.0 233.4L75.4 238.1M315.0 202.8L316.8 211.8M164.1 215.6L170.4 214.4M133.1 244.7L128.0 244.7M136.1 237.9L131.1 234.3M488.5 229.8L492.1 234.2M247.6 244.7L239.9 244.7M320.1 196.8L311.8 194.7M83.8 229.8L88.5 231.6M418.8 225.2L413.6 232.3M476.6 244.7L474.0 240.9M136.2 230.0L141.8 233.6M103.0 239.4L106.4 234.3M383.7 195.7L378.5 199.2M460.3 225.2L455.0 228.6M135.5 212.6L134.8 219.1M265.1 186.5L272.0 191.0M482.2 238.0L477.7 239.8M359.2 199.9L365.1 204.7M89.2 241.2L89.9 236.5M190.6 194.2L189.0 201.5M367.8 194.5L364.3 198.2M502.9 234.5L502.3 239.8M111.6 234.9L110.0 230.9M129.1 229.7L136.2 230.0M495.7 232.1L492.1 234.2M146.0 238.2L141.8 233.6M274.2 222.8L281.7 229.1M411.4 225.9L413.6 232.3M87.4 244.7L84.8 239.9M47.4 241.9L48.0 244.7M405.0 231.3L398.4 226.5M332.0 194.1L334.2 201.7M152.6 236.6L159.6 232.2M481.3 227.4L482.9 232.1M469.9 240.3L474.0 240.9M364.3 198.2L365.1 204.7M445.5 221.3L447.4 228.6M446.5 233.8L445.2 238.4M217.9 238.4L227.7 236.7M477.7 226.2L473.6 228.7M401.2 213.3L394.8 215.5M188.1 232.9L187.5 239.4M513.8 244.7L514.9 241.7M332.3 228.8L329.7 221.4M240.2 225.8L242.9 214.5M359.2 199.9L354.1 195.5M344.3 204.9L335.5 212.0M280.2 244.7L274.5 234.8M116.4 238.7L123.0 241.1M247.6 244.7L247.8 235.6M135.5 212.6L140.4 210.9M358.4 187.4L354.8 189.7M387.3 235.0L379.3 234.2M205.6 231.4L212.3 225.4M140.4 210.9L145.5 209.3M473.3 235.3L477.9 230.8M322.3 175.7L325.9 176.8M154.0 227.5L159.6 232.2M175.9 209.0L178.4 217.2M441.5 214.5L445.1 215.7M205.6 231.4L200.9 238.2M520.1 244.7L517.0 244.7M210.8 244.7L208.7 238.3M95.7 244.7L93.2 240.3M527.9 242.6L528.9 244.7M384.2 244.7L379.3 234.2M398.2 200.4L394.8 203.0M160.3 222.3L154.7 220.3M69.5 234.5L71.4 237.4M398.4 226.5L396.0 235.5M188.1 232.9L193.4 238.5M219.5 220.2L218.5 214.4M369.4 213.1L377.1 213.9M292.5 183.1L284.0 180.9M405.0 231.3L405.4 221.4M214.3 191.5L219.8 194.3M428.3 235.1L425.1 228.2M161.5 203.9L158.1 212.6M118.2 244.7L113.5 244.7M207.5 206.5L210.8 196.9M485.9 241.1L491.4 239.7M61.1 244.7L62.2 240.9M210.8 244.7L217.9 238.4M39.0 244.7L41.8 243.8M67.1 239.6L71.6 241.5M211.5 215.8L219.5 220.2M172.7 200.2L178.6 198.3M370.2 244.7L361.8 237.5M367.8 194.5L372.8 197.4M235.5 197.9L244.5 194.0M132.7 224.8L137.9 223.8M178.6 198.3L184.5 196.3M237.4 178.7L236.9 187.9M344.0 182.7L347.6 183.9M53.4 239.9L57.9 241.7M347.6 183.9L351.2 185.1M306.1 174.3L300.2 178.5M465.2 225.9L468.4 230.2M463.2 221.5L466.8 222.7M104.6 228.0L106.4 234.3M160.3 222.3L159.6 232.2M204.0 244.7L200.9 238.2M283.4 236.8L281.7 229.1M466.8 222.7L470.4 223.9M500.1 244.7L496.5 244.7M409.0 203.9L411.2 208.1M297.4 244.7L301.2 230.1M456.7 234.8L455.0 240.5M297.0 167.4L298.8 171.9M496.5 244.7L492.7 244.7M377.1 213.9L373.0 224.0M362.8 212.2L358.2 207.3M175.9 209.0L182.3 211.5M143.6 244.7L146.0 238.2M158.1 212.6L154.7 220.3M297.4 244.7L288.8 244.7M467.8 244.7L465.6 240.7M91.5 244.7L87.4 244.7M439.8 218.3L433.8 220.9M211.5 215.8L212.3 225.4M410.0 244.7L416.3 239.6M370.2 244.7L371.2 235.4M193.4 238.5L200.9 238.2M282.4 191.2L275.3 183.6M217.3 206.6L225.4 213.3M425.6 213.6L426.4 221.1M371.2 235.4L365.6 229.0M242.8 203.6L244.5 194.0M482.9 232.1L478.8 235.2M469.9 240.3L466.5 236.0M286.1 220.2L295.1 214.9M384.2 244.7L387.3 235.0M433.8 220.9L431.4 227.3M92.7 232.2L95.4 235.4M181.4 237.0L187.5 239.4M228.7 191.2L236.9 187.9M376.5 193.3L372.8 197.4M410.0 244.7L408.4 238.6M263.1 196.5L272.8 197.4M288.8 244.7L290.7 232.3M104.4 244.7L103.0 239.4M62.9 236.8L62.2 240.9M430.7 210.9L425.6 213.6M325.3 185.1L324.5 190.9M275.3 183.6L272.0 191.0M456.7 234.8L461.8 231.3M76.5 232.2L75.4 238.1M68.2 244.7L64.6 244.7M278.6 167.4L285.4 172.8M347.2 197.0L352.7 202.2M100.0 244.7L103.0 239.4M181.5 203.8L188.3 209.1M492.1 230.9L492.1 234.2M87.6 228.5L88.5 231.6M367.8 194.5L368.6 199.8M496.5 244.7L495.3 241.4M111.6 234.9L116.4 238.7M344.7 186.8L339.9 185.3M112.2 220.3L117.3 224.7M44.6 242.8L47.4 241.9M394.8 203.0L390.2 204.9M79.7 241.3L80.1 236.1M251.9 199.6L257.5 205.8M263.1 196.5L265.1 186.5M335.5 212.0L346.5 215.4M84.8 239.9L89.2 241.2M47.4 241.9L50.4 240.9M184.5 196.3L190.6 194.2M305.8 217.9L309.1 207.9M442.3 233.1L445.2 238.4M332.0 194.1L327.2 197.8M190.6 194.2L196.9 192.2M351.2 185.1L354.8 186.2M433.8 220.9L426.4 221.1M99.5 224.6L97.2 229.7M354.8 186.2L358.4 187.4M470.4 223.9L474.1 225.1M390.0 211.2L389.2 217.1M474.1 225.1L477.7 226.2M244.7 176.2L255.9 180.2M263.5 244.7L258.7 236.8M128.0 244.7L123.0 241.1M290.5 167.4L292.3 172.4M138.3 244.7L141.2 239.6M488.8 244.7L484.9 244.7M261.6 213.1L270.7 212.9M390.9 198.0L394.8 203.0M421.0 233.3L416.3 239.6M525.1 241.7L526.0 244.7M303.2 192.6L296.8 199.3M280.2 244.7L271.8 244.7M39.0 244.7L41.8 244.7M236.9 187.9L244.5 194.0M484.9 228.6L482.9 232.1M365.1 204.7L362.8 212.2M306.0 244.7L307.6 237.6M249.3 207.5L252.7 214.2M212.3 225.4L221.4 229.0M300.2 178.5L301.2 185.3M150.7 207.5L158.1 212.6M510.5 244.7L514.9 241.7M364.3 220.5L365.6 229.0M154.5 244.7L152.6 236.6M387.3 196.8L384.9 201.1M278.4 203.6L272.8 197.4M271.8 244.7L274.5 234.8M170.3 206.9L165.3 209.1M225.0 244.7L217.9 238.4M66.2 235.7L69.5 234.5M252.7 214.2L261.6 213.1M239.9 244.7L247.8 235.6M361.8 237.5L357.8 227.9M230.3 181.0L237.4 178.7M124.0 234.8L122.9 228.2M190.7 244.7L187.5 239.4M316.8 211.8L318.7 222.3M473.3 235.3L474.0 240.9M334.1 184.1L328.7 181.7M376.5 193.3L380.1 194.5M310.0 228.1L307.6 237.6M304.2 169.8L306.1 174.3M495.7 232.1L499.3 233.3M499.3 233.3L502.9 234.5M147.7 230.7L154.0 227.5M325.3 185.1L320.3 184.7M146.7 214.1L152.0 215.5M189.4 226.0L188.1 232.9M167.0 202.1L170.3 206.9M61.1 244.7L57.9 241.7M204.0 244.7L208.7 238.3M530.7 243.5L528.9 244.7M44.6 242.8L44.9 244.7M365.1 204.7L369.4 213.1M408.6 213.6L401.2 213.3M458.6 244.7L453.8 244.7M314.6 244.7L317.8 234.6M150.7 207.5L152.0 215.5M225.0 244.7L217.8 244.7M463.2 221.5L465.2 225.9M122.9 228.2L123.1 221.7M405.0 231.3L402.0 238.9M57.7 244.7L54.4 244.7M239.9 244.7L236.7 235.9M447.4 228.6L439.5 226.1M394.8 215.5L392.9 222.0M165.4 227.3L172.4 224.0M421.9 244.7L416.3 239.6M274.2 222.8L279.2 213.4M170.4 214.4L165.3 209.1M236.9 187.9L245.6 184.8M316.8 211.8L305.8 217.9M336.4 189.9L332.0 194.1M378.5 199.2L380.2 206.5M303.2 192.6L294.1 191.4M53.4 239.9L56.5 238.9M362.8 212.2L356.1 217.0M392.9 222.0L384.0 223.4M98.0 239.7L95.4 235.4M142.6 226.4L141.3 218.6M129.1 229.7L127.5 225.1M437.9 213.3L435.2 216.2M56.5 238.9L57.9 241.7M323.5 180.6L325.3 185.1M473.3 235.3L469.9 240.3M145.5 209.3L146.7 214.1M433.1 244.7L433.8 240.1M316.8 211.8L325.6 214.3M531.7 244.7L528.9 244.7M463.2 221.5L460.3 225.2M178.4 217.2L182.3 211.5M423.5 208.6L425.6 213.6M469.9 240.3L465.6 240.7M463.3 244.7L465.6 240.7M320.3 184.7L316.6 189.5M172.0 244.7L169.4 237.9M477.7 226.2L477.9 230.8M219.5 220.2L226.5 221.8M438.5 244.7L439.7 239.0M344.3 204.9L352.0 209.3M244.5 194.0L245.6 184.8M435.8 233.3L433.8 240.1M317.8 234.6L325.1 228.8M84.6 234.2L88.5 231.6M380.2 206.5L377.1 213.9M362.8 212.2L364.3 220.5M339.1 222.9L332.3 228.8M265.4 219.9L257.7 221.4M435.2 216.2L433.8 220.9M274.5 234.8L283.4 236.8M172.4 224.0L169.4 231.0M73.0 233.4L76.5 232.2M231.3 227.9L240.2 225.8M244.7 176.2L252.2 173.7M403.8 244.7L408.4 238.6M335.5 212.0L325.6 214.3M91.5 227.2L97.2 229.7M356.1 217.0L346.5 215.4M452.4 218.0L456.0 219.2M510.5 244.7L507.2 244.7M506.3 235.6L509.7 236.7M331.6 244.7L323.2 244.7M285.0 167.4L285.4 172.8M448.8 244.7L443.7 244.7M187.2 218.0L188.3 209.1M334.1 184.1L336.4 189.9M359.2 199.9L358.2 207.3M108.9 244.7L104.4 244.7M421.0 211.7L420.3 217.0M210.8 244.7L204.0 244.7M364.3 198.2L368.6 199.8M95.7 244.7L98.0 239.7M221.4 229.0L219.5 220.2M51.1 244.7L48.0 244.7M68.2 244.7L67.1 239.6M235.5 197.9L242.8 203.6M300.3 207.6L288.9 207.9M309.0 187.4L311.8 194.7M255.5 244.7L247.8 235.6M380.2 206.5L384.1 213.2M64.6 244.7L67.1 239.6M461.0 238.9L456.7 234.8M401.8 201.5L399.4 205.8M265.4 219.9L274.2 222.8M209.8 187.9L214.3 191.5M129.1 229.7L131.1 234.3M116.3 231.3L124.0 234.8M439.8 218.3L439.5 226.1M445.1 215.7L445.5 221.3M136.2 230.0L136.1 237.9M413.6 232.3L408.4 238.6M252.2 173.7L255.9 180.2M314.1 183.0L309.0 187.4M255.5 244.7L258.7 236.8M123.1 244.7L123.0 241.1M125.8 215.8L129.3 220.3M104.6 228.0L111.4 226.3M451.7 222.2L447.4 228.6M401.8 201.5L405.2 207.1M211.5 215.8L207.5 206.5M159.6 232.2L163.0 238.8M354.8 189.7L354.1 195.5M41.8 243.8L44.9 244.7M297.4 244.7L307.6 237.6M117.3 224.7L111.4 226.3M107.9 221.8L111.4 226.3M128.0 244.7L129.3 239.5M187.2 218.0L195.8 213.9M71.4 237.4L67.1 239.6M292.5 183.1L282.4 191.2M385.6 207.3L384.1 213.2M80.1 236.1L84.8 239.9M358.2 207.3L352.0 209.3M121.2 217.3L123.1 221.7M242.9 214.5L249.1 223.4M390.9 198.0L384.9 201.1M208.7 238.3L217.9 238.4M217.8 244.7L217.9 238.4M313.0 176.7L318.6 179.2M379.3 234.2L371.2 235.4M350.0 237.1L338.7 234.3M294.7 176.8L292.5 183.1M100.8 234.3L103.0 239.4M325.1 228.8L328.0 236.2M251.9 199.6L263.1 196.5M310.0 228.1L318.7 222.3M167.0 202.1L172.7 200.2M324.5 190.9L320.1 196.8M450.7 235.6L455.0 240.5M465.6 240.7L461.0 238.9M442.3 233.1L435.8 233.3M340.4 181.5L344.0 182.7M123.0 241.1L129.3 239.5M252.7 214.2L257.7 221.4M361.8 237.5L350.0 237.1M157.9 239.4L163.0 238.8M459.6 220.4L463.2 221.5M445.1 215.7L439.8 218.3M399.4 205.8L405.2 207.1M445.5 221.3L439.5 226.1M503.7 244.7L500.1 244.7M47.4 241.9L44.9 244.7M140.4 210.9L146.7 214.1M397.5 244.7L396.0 235.5M184.4 244.7L181.4 237.0M332.3 228.8L328.0 236.2M359.2 199.9L352.7 202.2M335.5 212.0L339.1 222.9M314.6 244.7L306.0 244.7M129.3 220.3L134.8 219.1M522.2 240.7L523.1 244.7M172.4 224.0L166.5 220.5M208.7 238.3L213.2 232.5M100.0 244.7L95.7 244.7M232.4 244.7L236.7 235.9M416.0 244.7L416.3 239.6M365.1 204.7L358.2 207.3M195.5 199.9L193.7 206.1M482.2 238.0L487.2 235.7M213.2 232.5L217.9 238.4M310.0 228.1L305.8 217.9M279.2 213.4L286.1 220.2M335.5 212.0L325.1 205.3M267.8 176.3L255.9 180.2M365.6 229.0L357.8 227.9M364.3 220.5L356.1 217.0M305.8 217.9L300.3 207.6M203.2 190.0L209.8 187.9M502.3 239.8L498.3 241.5M264.3 229.0L274.2 222.8M362.0 188.6L365.7 189.8M274.2 222.8L270.7 212.9M481.3 227.4L484.9 228.6M427.5 244.7L433.8 240.1M93.2 240.3L89.9 236.5M484.9 228.6L488.5 229.8M395.3 209.0L390.0 211.2M342.8 191.2L336.4 189.9M98.0 239.7L100.8 234.3M476.6 244.7L472.3 244.7M148.7 222.1L147.7 230.7M306.2 200.4L309.1 207.9M461.0 238.9L455.0 240.5M69.5 234.5L67.1 239.6M255.5 244.7L247.6 244.7M223.3 183.4L228.7 191.2M435.8 233.3L428.3 235.1M369.4 213.1L362.8 212.2M71.9 244.7L68.2 244.7M372.8 197.4L378.5 199.2M282.4 191.2L272.0 191.0M519.2 239.8L517.0 244.7M367.8 194.5L360.8 193.0M325.1 205.3L316.8 211.8M384.9 201.1L385.6 207.3M225.4 213.3L233.5 218.5M485.9 241.1L482.2 238.0M416.3 239.6L423.1 239.4M236.7 235.9L247.8 235.6M352.0 209.3L356.1 217.0M142.6 226.4L137.9 223.8M231.3 227.9L236.7 235.9M184.5 196.3L181.5 203.8M233.5 218.5L240.2 225.8M240.2 225.8L247.8 235.6M41.8 243.8L44.6 242.8M129.3 220.3L127.5 225.1M411.2 208.1L408.6 213.6M447.4 228.6L446.5 233.8M95.5 225.9L97.2 229.7M294.1 191.4L282.4 191.2M216.5 185.6L219.8 194.3M285.4 172.8L277.3 175.0M373.0 204.8L377.1 213.9M427.5 244.7L423.1 239.4M165.2 233.5L169.4 231.0M352.7 202.2L358.2 207.3M419.9 207.4L415.8 211.9M143.6 244.7L141.2 239.6M194.3 222.2L202.7 222.1M416.3 239.6L413.6 232.3M461.0 238.9L461.8 231.3M231.3 227.9L233.5 218.5M195.5 199.9L199.8 206.4M116.3 231.3L111.4 226.3M217.9 238.4L221.4 229.0M313.0 176.7L307.3 180.7M324.5 190.9L316.6 189.5M325.1 205.3L315.0 202.8M141.3 218.6L137.9 223.8M282.4 191.2L278.4 203.6M396.0 235.5L387.3 235.0M390.9 244.7L387.3 235.0M261.6 213.1L265.4 219.9M59.6 237.8L62.9 236.8" stroke="#9a92a6" stroke-width="0.5" fill="none"/>
<polyline points="200.3,190.71 201.86,190.5 203.43,190.52 204.99,190.79 206.55,190.72 208.12,190.39 209.68,190.19 211.24,190.48 212.81,190.61 214.37,190.3 215.93,189.62 217.49,189.63 219.06,189.26 220.62,188.96 222.18,188.61 223.75,188.88 225.31,189.06 226.87,188.9 228.44,188.75 230,189.03 231.5,188.9 233,188.79 234.5,188.34 236,187.98 237.5,188.13 239,187.87 240.5,187.96 242,188 243.5,188.04 245,188.29 246.5,188.19 248,187.63 249.5,187.89 251,187.33 252.5,187.66 254,187.42 255.5,187.39 257,187.26 258.5,187.07 260,187.51 261.5,187.16 263,187.08 264.5,187.17 266,187.76 267.5,187.56 269,187.33 270.5,187.66 272,187.4 273.5,187.94 275,187.94 276.5,187.87 278,187.88 279.5,187.33 281,187.19 282.5,187.54 284,187.2 285.53,187.28 287.06,188.09 288.59,188.02 290.12,188.39 291.65,188.55 293.18,188.89 294.71,188.73 296.24,188.52 297.76,188.83 299.29,189.48 300.82,189.58 302.35,189.96 303.88,190.29 305.41,190.56 306.94,190.56 308.47,190.79 310,191.04 311.54,191.24 313.08,191.29 314.62,191.37 316.15,191.25 317.69,191.35 319.23,192 320.77,192.19 322.31,192.29 323.85,192.65 325.38,192.38 326.92,192.35 328.46,192.55 330,192.61 331.54,192.88 333.08,192.96 334.62,193.31 336.15,193.72 337.69,194.37 339.23,194.28 340.77,194.83 342.31,195.27 343.85,195.05 345.38,195.09 346.92,195.66 348.46,196.05 350,196.55 351.54,197.11 353.08,197.63 354.62,197.81 356.15,197.65 357.69,197.6 359.23,197.64 360.77,197.66 362.31,198.26 363.85,198.16 365.38,198.74 366.92,199.32 368.46,199.43 370,199.57 371.54,199.92 373.08,200.42 374.62,200.98 376.15,201.14 377.69,201.78 379.23,202.33 380.77,202.59 382.31,202.64 383.85,202.67 385.38,203.1 386.92,203.63 388.46,203.59 390,203.92 391.54,204.76 393.08,205.25 394.62,205.82 396.15,206.41 397.69,206.7 399.23,206.82 400.77,207.02 402.31,207.46 403.85,207.86 405.38,208.6 406.92,208.87 408.46,209.1 410,209.58 411.54,210.34 413.08,210.54 414.62,211.15 416.15,211.83 417.69,212.56 419.23,213.16 420.77,213.63 422.31,213.63 423.85,213.95 425.38,215.07 426.92,215.73 428.46,216.1 430,216.44 431.43,217.17 432.86,217.99 434.29,219.01 435.71,220.28 437.14,221.38 438.57,222.03 440,222.94 441.43,223.19 442.86,223.89 444.29,224.38 445.71,225.03 447.14,226.02 448.57,227 450,227.58 451.5,227.87 453,228.36 454.5,229.28 456,229.36 457.5,229.39 459,229.76 460.5,230.28 462,230.71 463.5,231.04 465,231.74 466.67,232.21 468.33,232.45 470,232.78 471.67,233.14 473.33,232.94 475,233.11 476.75,233.19 478.5,233.46 480.25,233.67 482,233.59 483.75,232.91 485.5,232.69 487.25,232.31 489,232.09 490.67,232.2 492.33,232.22 494,232.79 496,232.67 498,232.89" fill="none" stroke="#2a3aa8" stroke-width="0.9" stroke-linejoin="round"/>
<polyline points="200.3,190.93 201.86,190.56 203.43,190.93 204.99,191.01 206.55,190.67 208.12,190.31 209.68,190.66 211.24,190.75 212.81,190.33 214.37,190.36 215.93,190.63 217.49,190.66 219.06,190.6 220.62,190.86 222.18,190.6 223.75,190.41 225.31,190.18 226.87,190.07 228.44,189.83 230,189.54 231.5,189.98 233,190.12 234.5,190.14 236,190.28 237.5,189.98 239,189.76 240.5,189.73 242,188.89 243.5,188.89 245,188.49 246.5,188.18 248,188.58 249.5,188.95 251,188.69 252.5,188.83 254,189 255.5,188.97 257,188.42 258.5,188.02 260,187.72 261.5,187.43 263,187.79 264.5,187.67 266,187.63 267.5,187.36 269,187.29 270.5,187.24 272,187.47 273.5,187.36 275,187.77 276.5,188.18 278,187.89 279.5,188.11 281,188.57 282.5,188.56 284,188.38 285.53,188.37 287.06,188.12 288.59,188.62 290.12,189.04 291.65,189.29 293.18,189.42 294.71,189.36 296.24,189.91 297.76,189.7 299.29,189.54 300.82,189.44 302.35,189.87 303.88,189.74 305.41,190.36 306.94,190.12 308.47,190.09 310,190.53 311.54,190.74 313.08,190.93 314.62,191.44 316.15,191.91 317.69,192.25 319.23,192.6 320.77,192.81 322.31,193.1 323.85,193.43 325.38,193.91 326.92,194.2 328.46,194.63 330,194.5 331.54,194.65 333.08,195.26 334.62,195.59 336.15,195.73 337.69,195.64 339.23,196.04 340.77,195.97 342.31,196.3 343.85,196.65 345.38,196.53 346.92,196.62 348.46,196.57 350,196.49 351.54,196.59 353.08,196.59 354.62,196.8 356.15,197.53 357.69,198.26 359.23,198.62 360.77,198.86 362.31,198.98 363.85,199.81 365.38,200.18 366.92,200.48 368.46,200.85 370,200.93 371.54,201.61 373.08,201.56 374.62,201.69 376.15,202.12 377.69,202.24 379.23,202 380.77,202.57 382.31,202.65 383.85,203.18 385.38,203.35 386.92,203.88 388.46,204.05 390,204.25 391.54,204.83 393.08,205.31 394.62,205.76 396.15,206 397.69,206.59 399.23,207.1 400.77,207.97 402.31,208.52 403.85,209.24 405.38,209.59 406.92,210.19 408.46,210.96 410,211.38 411.54,211.71 413.08,212.06 414.62,212.8 416.15,213.01 417.69,213.74 419.23,214.07 420.77,214.46 422.31,214.84 423.85,215.77 425.38,215.95 426.92,216.49 428.46,216.71 430,216.74 431.43,217.54 432.86,218.88 434.29,219.97 435.71,220.88 437.14,221.95 438.57,223.07 440,223.98 441.43,224.97 442.86,225.29 444.29,226.34 445.71,226.91 447.14,227.88 448.57,228.14 450,228.94 451.5,229.45 453,229.77 454.5,229.68 456,230.51 457.5,231.21 459,231.22 460.5,231.4 462,232.17 463.5,232.81 465,232.98 466.67,233 468.33,233.56 470,233.85 471.67,234.38 473.33,234.4 475,234.44 476.75,234.38 478.5,234.18 480.25,233.82 482,233.66 483.75,232.89 485.5,232.75 487.25,231.92 489,231.74 490.67,231.62 492.33,232.36 494,232.94 496,233.25 498,233.26" fill="none" stroke="#2a3aa8" stroke-width="0.8" stroke-linejoin="round"/>
<path clip-path="url(#damb)" d="M163.54 231.28a2.35 2.35 0 1 0 4.7 0a2.35 2.35 0 1 0 -4.7 0M112.12 225.12a2.35 2.35 0 1 0 4.7 0a2.35 2.35 0 1 0 -4.7 0M119.31 225.14a2.35 2.35 0 1 0 4.7 0a2.35 2.35 0 1 0 -4.7 0M125.78 225.41a2.35 2.35 0 1 0 4.7 0a2.35 2.35 0 1 0 -4.7 0M132.97 225.23a2.35 2.35 0 1 0 4.7 0a2.35 2.35 0 1 0 -4.7 0M139.39 225.06a2.35 2.35 0 1 0 4.7 0a2.35 2.35 0 1 0 -4.7 0M146 225.09a2.35 2.35 0 1 0 4.7 0a2.35 2.35 0 1 0 -4.7 0M152.81 225.12a2.35 2.35 0 1 0 4.7 0a2.35 2.35 0 1 0 -4.7 0M159.86 225.74a2.35 2.35 0 1 0 4.7 0a2.35 2.35 0 1 0 -4.7 0M167 225.21a2.35 2.35 0 1 0 4.7 0a2.35 2.35 0 1 0 -4.7 0M173.28 225.46a2.35 2.35 0 1 0 4.7 0a2.35 2.35 0 1 0 -4.7 0M180.46 225.55a2.35 2.35 0 1 0 4.7 0a2.35 2.35 0 1 0 -4.7 0M187 225.42a2.35 2.35 0 1 0 4.7 0a2.35 2.35 0 1 0 -4.7 0M193.52 225.34a2.35 2.35 0 1 0 4.7 0a2.35 2.35 0 1 0 -4.7 0M200.81 225.22a2.35 2.35 0 1 0 4.7 0a2.35 2.35 0 1 0 -4.7 0M115.64 219.1a2.35 2.35 0 1 0 4.7 0a2.35 2.35 0 1 0 -4.7 0M122.15 219.15a2.35 2.35 0 1 0 4.7 0a2.35 2.35 0 1 0 -4.7 0M129.55 219a2.35 2.35 0 1 0 4.7 0a2.35 2.35 0 1 0 -4.7 0M135.83 219.35a2.35 2.35 0 1 0 4.7 0a2.35 2.35 0 1 0 -4.7 0M142.82 219.48a2.35 2.35 0 1 0 4.7 0a2.35 2.35 0 1 0 -4.7 0M149.39 219.04a2.35 2.35 0 1 0 4.7 0a2.35 2.35 0 1 0 -4.7 0M156.7 219.4a2.35 2.35 0 1 0 4.7 0a2.35 2.35 0 1 0 -4.7 0M163.38 218.97a2.35 2.35 0 1 0 4.7 0a2.35 2.35 0 1 0 -4.7 0M170.24 219.46a2.35 2.35 0 1 0 4.7 0a2.35 2.35 0 1 0 -4.7 0M176.75 219.27a2.35 2.35 0 1 0 4.7 0a2.35 2.35 0 1 0 -4.7 0M183.49 219.32a2.35 2.35 0 1 0 4.7 0a2.35 2.35 0 1 0 -4.7 0M190.77 219.51a2.35 2.35 0 1 0 4.7 0a2.35 2.35 0 1 0 -4.7 0M197.49 219.16a2.35 2.35 0 1 0 4.7 0a2.35 2.35 0 1 0 -4.7 0M204.04 219.13a2.35 2.35 0 1 0 4.7 0a2.35 2.35 0 1 0 -4.7 0M210.98 219.59a2.35 2.35 0 1 0 4.7 0a2.35 2.35 0 1 0 -4.7 0M217.87 219.02a2.35 2.35 0 1 0 4.7 0a2.35 2.35 0 1 0 -4.7 0M132.58 213.35a2.35 2.35 0 1 0 4.7 0a2.35 2.35 0 1 0 -4.7 0M139.59 213.18a2.35 2.35 0 1 0 4.7 0a2.35 2.35 0 1 0 -4.7 0M146.13 213.37a2.35 2.35 0 1 0 4.7 0a2.35 2.35 0 1 0 -4.7 0M153.23 213.45a2.35 2.35 0 1 0 4.7 0a2.35 2.35 0 1 0 -4.7 0M159.93 213.13a2.35 2.35 0 1 0 4.7 0a2.35 2.35 0 1 0 -4.7 0M166.98 213.29a2.35 2.35 0 1 0 4.7 0a2.35 2.35 0 1 0 -4.7 0M173.43 213.35a2.35 2.35 0 1 0 4.7 0a2.35 2.35 0 1 0 -4.7 0M180.36 213.42a2.35 2.35 0 1 0 4.7 0a2.35 2.35 0 1 0 -4.7 0M187.36 213.36a2.35 2.35 0 1 0 4.7 0a2.35 2.35 0 1 0 -4.7 0M194.13 213.47a2.35 2.35 0 1 0 4.7 0a2.35 2.35 0 1 0 -4.7 0M200.87 213.39a2.35 2.35 0 1 0 4.7 0a2.35 2.35 0 1 0 -4.7 0M207.62 213.26a2.35 2.35 0 1 0 4.7 0a2.35 2.35 0 1 0 -4.7 0M214.46 212.95a2.35 2.35 0 1 0 4.7 0a2.35 2.35 0 1 0 -4.7 0M221 213.03a2.35 2.35 0 1 0 4.7 0a2.35 2.35 0 1 0 -4.7 0M227.83 212.99a2.35 2.35 0 1 0 4.7 0a2.35 2.35 0 1 0 -4.7 0M234.35 212.85a2.35 2.35 0 1 0 4.7 0a2.35 2.35 0 1 0 -4.7 0M149.35 207.33a2.35 2.35 0 1 0 4.7 0a2.35 2.35 0 1 0 -4.7 0M156.55 207.31a2.35 2.35 0 1 0 4.7 0a2.35 2.35 0 1 0 -4.7 0M163.18 207.34a2.35 2.35 0 1 0 4.7 0a2.35 2.35 0 1 0 -4.7 0M170.14 207.02a2.35 2.35 0 1 0 4.7 0a2.35 2.35 0 1 0 -4.7 0M177.1 207.31a2.35 2.35 0 1 0 4.7 0a2.35 2.35 0 1 0 -4.7 0M183.52 206.91a2.35 2.35 0 1 0 4.7 0a2.35 2.35 0 1 0 -4.7 0M190.26 206.94a2.35 2.35 0 1 0 4.7 0a2.35 2.35 0 1 0 -4.7 0M196.98 207.32a2.35 2.35 0 1 0 4.7 0a2.35 2.35 0 1 0 -4.7 0M203.96 206.97a2.35 2.35 0 1 0 4.7 0a2.35 2.35 0 1 0 -4.7 0M210.82 206.87a2.35 2.35 0 1 0 4.7 0a2.35 2.35 0 1 0 -4.7 0M217.5 207.38a2.35 2.35 0 1 0 4.7 0a2.35 2.35 0 1 0 -4.7 0M224.41 207.2a2.35 2.35 0 1 0 4.7 0a2.35 2.35 0 1 0 -4.7 0M231.13 206.82a2.35 2.35 0 1 0 4.7 0a2.35 2.35 0 1 0 -4.7 0M237.83 207.22a2.35 2.35 0 1 0 4.7 0a2.35 2.35 0 1 0 -4.7 0M173.75 200.72a2.35 2.35 0 1 0 4.7 0a2.35 2.35 0 1 0 -4.7 0M180.04 200.83a2.35 2.35 0 1 0 4.7 0a2.35 2.35 0 1 0 -4.7 0M186.88 200.89a2.35 2.35 0 1 0 4.7 0a2.35 2.35 0 1 0 -4.7 0M193.67 201.08a2.35 2.35 0 1 0 4.7 0a2.35 2.35 0 1 0 -4.7 0M200.56 201.19a2.35 2.35 0 1 0 4.7 0a2.35 2.35 0 1 0 -4.7 0M207.2 201.25a2.35 2.35 0 1 0 4.7 0a2.35 2.35 0 1 0 -4.7 0M214.45 200.74a2.35 2.35 0 1 0 4.7 0a2.35 2.35 0 1 0 -4.7 0M221.29 200.89a2.35 2.35 0 1 0 4.7 0a2.35 2.35 0 1 0 -4.7 0M227.93 200.93a2.35 2.35 0 1 0 4.7 0a2.35 2.35 0 1 0 -4.7 0M234.57 200.98a2.35 2.35 0 1 0 4.7 0a2.35 2.35 0 1 0 -4.7 0M241.32 201.24a2.35 2.35 0 1 0 4.7 0a2.35 2.35 0 1 0 -4.7 0M190.37 194.99a2.35 2.35 0 1 0 4.7 0a2.35 2.35 0 1 0 -4.7 0M197.53 195.05a2.35 2.35 0 1 0 4.7 0a2.35 2.35 0 1 0 -4.7 0M204.34 194.66a2.35 2.35 0 1 0 4.7 0a2.35 2.35 0 1 0 -4.7 0M211.07 194.99a2.35 2.35 0 1 0 4.7 0a2.35 2.35 0 1 0 -4.7 0M217.56 194.76a2.35 2.35 0 1 0 4.7 0a2.35 2.35 0 1 0 -4.7 0M224.4 194.83a2.35 2.35 0 1 0 4.7 0a2.35 2.35 0 1 0 -4.7 0M231.47 194.94a2.35 2.35 0 1 0 4.7 0a2.35 2.35 0 1 0 -4.7 0M237.9 195.09a2.35 2.35 0 1 0 4.7 0a2.35 2.35 0 1 0 -4.7 0M207.28 188.58a2.35 2.35 0 1 0 4.7 0a2.35 2.35 0 1 0 -4.7 0M214.03 188.78a2.35 2.35 0 1 0 4.7 0a2.35 2.35 0 1 0 -4.7 0M220.92 188.57a2.35 2.35 0 1 0 4.7 0a2.35 2.35 0 1 0 -4.7 0M228.1 188.61a2.35 2.35 0 1 0 4.7 0a2.35 2.35 0 1 0 -4.7 0M234.76 189.07a2.35 2.35 0 1 0 4.7 0a2.35 2.35 0 1 0 -4.7 0M224.51 182.84a2.35 2.35 0 1 0 4.7 0a2.35 2.35 0 1 0 -4.7 0M231.05 182.37a2.35 2.35 0 1 0 4.7 0a2.35 2.35 0 1 0 -4.7 0" fill="#f03030" fill-opacity="0.33" stroke="none"/>
<path clip-path="url(#damb)" d="M163.54 231.28a2.35 2.35 0 1 0 4.7 0a2.35 2.35 0 1 0 -4.7 0M112.12 225.12a2.35 2.35 0 1 0 4.7 0a2.35 2.35 0 1 0 -4.7 0M119.31 225.14a2.35 2.35 0 1 0 4.7 0a2.35 2.35 0 1 0 -4.7 0M125.78 225.41a2.35 2.35 0 1 0 4.7 0a2.35 2.35 0 1 0 -4.7 0M132.97 225.23a2.35 2.35 0 1 0 4.7 0a2.35 2.35 0 1 0 -4.7 0M139.39 225.06a2.35 2.35 0 1 0 4.7 0a2.35 2.35 0 1 0 -4.7 0M146 225.09a2.35 2.35 0 1 0 4.7 0a2.35 2.35 0 1 0 -4.7 0M152.81 225.12a2.35 2.35 0 1 0 4.7 0a2.35 2.35 0 1 0 -4.7 0M159.86 225.74a2.35 2.35 0 1 0 4.7 0a2.35 2.35 0 1 0 -4.7 0M167 225.21a2.35 2.35 0 1 0 4.7 0a2.35 2.35 0 1 0 -4.7 0M173.28 225.46a2.35 2.35 0 1 0 4.7 0a2.35 2.35 0 1 0 -4.7 0M180.46 225.55a2.35 2.35 0 1 0 4.7 0a2.35 2.35 0 1 0 -4.7 0M187 225.42a2.35 2.35 0 1 0 4.7 0a2.35 2.35 0 1 0 -4.7 0M193.52 225.34a2.35 2.35 0 1 0 4.7 0a2.35 2.35 0 1 0 -4.7 0M200.81 225.22a2.35 2.35 0 1 0 4.7 0a2.35 2.35 0 1 0 -4.7 0M115.64 219.1a2.35 2.35 0 1 0 4.7 0a2.35 2.35 0 1 0 -4.7 0M122.15 219.15a2.35 2.35 0 1 0 4.7 0a2.35 2.35 0 1 0 -4.7 0M129.55 219a2.35 2.35 0 1 0 4.7 0a2.35 2.35 0 1 0 -4.7 0M135.83 219.35a2.35 2.35 0 1 0 4.7 0a2.35 2.35 0 1 0 -4.7 0M142.82 219.48a2.35 2.35 0 1 0 4.7 0a2.35 2.35 0 1 0 -4.7 0M149.39 219.04a2.35 2.35 0 1 0 4.7 0a2.35 2.35 0 1 0 -4.7 0M156.7 219.4a2.35 2.35 0 1 0 4.7 0a2.35 2.35 0 1 0 -4.7 0M163.38 218.97a2.35 2.35 0 1 0 4.7 0a2.35 2.35 0 1 0 -4.7 0M170.24 219.46a2.35 2.35 0 1 0 4.7 0a2.35 2.35 0 1 0 -4.7 0M176.75 219.27a2.35 2.35 0 1 0 4.7 0a2.35 2.35 0 1 0 -4.7 0M183.49 219.32a2.35 2.35 0 1 0 4.7 0a2.35 2.35 0 1 0 -4.7 0M190.77 219.51a2.35 2.35 0 1 0 4.7 0a2.35 2.35 0 1 0 -4.7 0M197.49 219.16a2.35 2.35 0 1 0 4.7 0a2.35 2.35 0 1 0 -4.7 0M204.04 219.13a2.35 2.35 0 1 0 4.7 0a2.35 2.35 0 1 0 -4.7 0M210.98 219.59a2.35 2.35 0 1 0 4.7 0a2.35 2.35 0 1 0 -4.7 0M217.87 219.02a2.35 2.35 0 1 0 4.7 0a2.35 2.35 0 1 0 -4.7 0M132.58 213.35a2.35 2.35 0 1 0 4.7 0a2.35 2.35 0 1 0 -4.7 0M139.59 213.18a2.35 2.35 0 1 0 4.7 0a2.35 2.35 0 1 0 -4.7 0M146.13 213.37a2.35 2.35 0 1 0 4.7 0a2.35 2.35 0 1 0 -4.7 0M153.23 213.45a2.35 2.35 0 1 0 4.7 0a2.35 2.35 0 1 0 -4.7 0M159.93 213.13a2.35 2.35 0 1 0 4.7 0a2.35 2.35 0 1 0 -4.7 0M166.98 213.29a2.35 2.35 0 1 0 4.7 0a2.35 2.35 0 1 0 -4.7 0M173.43 213.35a2.35 2.35 0 1 0 4.7 0a2.35 2.35 0 1 0 -4.7 0M180.36 213.42a2.35 2.35 0 1 0 4.7 0a2.35 2.35 0 1 0 -4.7 0M187.36 213.36a2.35 2.35 0 1 0 4.7 0a2.35 2.35 0 1 0 -4.7 0M194.13 213.47a2.35 2.35 0 1 0 4.7 0a2.35 2.35 0 1 0 -4.7 0M200.87 213.39a2.35 2.35 0 1 0 4.7 0a2.35 2.35 0 1 0 -4.7 0M207.62 213.26a2.35 2.35 0 1 0 4.7 0a2.35 2.35 0 1 0 -4.7 0M214.46 212.95a2.35 2.35 0 1 0 4.7 0a2.35 2.35 0 1 0 -4.7 0M221 213.03a2.35 2.35 0 1 0 4.7 0a2.35 2.35 0 1 0 -4.7 0M227.83 212.99a2.35 2.35 0 1 0 4.7 0a2.35 2.35 0 1 0 -4.7 0M234.35 212.85a2.35 2.35 0 1 0 4.7 0a2.35 2.35 0 1 0 -4.7 0M149.35 207.33a2.35 2.35 0 1 0 4.7 0a2.35 2.35 0 1 0 -4.7 0M156.55 207.31a2.35 2.35 0 1 0 4.7 0a2.35 2.35 0 1 0 -4.7 0M163.18 207.34a2.35 2.35 0 1 0 4.7 0a2.35 2.35 0 1 0 -4.7 0M170.14 207.02a2.35 2.35 0 1 0 4.7 0a2.35 2.35 0 1 0 -4.7 0M177.1 207.31a2.35 2.35 0 1 0 4.7 0a2.35 2.35 0 1 0 -4.7 0M183.52 206.91a2.35 2.35 0 1 0 4.7 0a2.35 2.35 0 1 0 -4.7 0M190.26 206.94a2.35 2.35 0 1 0 4.7 0a2.35 2.35 0 1 0 -4.7 0M196.98 207.32a2.35 2.35 0 1 0 4.7 0a2.35 2.35 0 1 0 -4.7 0M203.96 206.97a2.35 2.35 0 1 0 4.7 0a2.35 2.35 0 1 0 -4.7 0M210.82 206.87a2.35 2.35 0 1 0 4.7 0a2.35 2.35 0 1 0 -4.7 0M217.5 207.38a2.35 2.35 0 1 0 4.7 0a2.35 2.35 0 1 0 -4.7 0M224.41 207.2a2.35 2.35 0 1 0 4.7 0a2.35 2.35 0 1 0 -4.7 0M231.13 206.82a2.35 2.35 0 1 0 4.7 0a2.35 2.35 0 1 0 -4.7 0M237.83 207.22a2.35 2.35 0 1 0 4.7 0a2.35 2.35 0 1 0 -4.7 0M173.75 200.72a2.35 2.35 0 1 0 4.7 0a2.35 2.35 0 1 0 -4.7 0M180.04 200.83a2.35 2.35 0 1 0 4.7 0a2.35 2.35 0 1 0 -4.7 0M186.88 200.89a2.35 2.35 0 1 0 4.7 0a2.35 2.35 0 1 0 -4.7 0M193.67 201.08a2.35 2.35 0 1 0 4.7 0a2.35 2.35 0 1 0 -4.7 0M200.56 201.19a2.35 2.35 0 1 0 4.7 0a2.35 2.35 0 1 0 -4.7 0M207.2 201.25a2.35 2.35 0 1 0 4.7 0a2.35 2.35 0 1 0 -4.7 0M214.45 200.74a2.35 2.35 0 1 0 4.7 0a2.35 2.35 0 1 0 -4.7 0M221.29 200.89a2.35 2.35 0 1 0 4.7 0a2.35 2.35 0 1 0 -4.7 0M227.93 200.93a2.35 2.35 0 1 0 4.7 0a2.35 2.35 0 1 0 -4.7 0M234.57 200.98a2.35 2.35 0 1 0 4.7 0a2.35 2.35 0 1 0 -4.7 0M241.32 201.24a2.35 2.35 0 1 0 4.7 0a2.35 2.35 0 1 0 -4.7 0M190.37 194.99a2.35 2.35 0 1 0 4.7 0a2.35 2.35 0 1 0 -4.7 0M197.53 195.05a2.35 2.35 0 1 0 4.7 0a2.35 2.35 0 1 0 -4.7 0M204.34 194.66a2.35 2.35 0 1 0 4.7 0a2.35 2.35 0 1 0 -4.7 0M211.07 194.99a2.35 2.35 0 1 0 4.7 0a2.35 2.35 0 1 0 -4.7 0M217.56 194.76a2.35 2.35 0 1 0 4.7 0a2.35 2.35 0 1 0 -4.7 0M224.4 194.83a2.35 2.35 0 1 0 4.7 0a2.35 2.35 0 1 0 -4.7 0M231.47 194.94a2.35 2.35 0 1 0 4.7 0a2.35 2.35 0 1 0 -4.7 0M237.9 195.09a2.35 2.35 0 1 0 4.7 0a2.35 2.35 0 1 0 -4.7 0M207.28 188.58a2.35 2.35 0 1 0 4.7 0a2.35 2.35 0 1 0 -4.7 0M214.03 188.78a2.35 2.35 0 1 0 4.7 0a2.35 2.35 0 1 0 -4.7 0M220.92 188.57a2.35 2.35 0 1 0 4.7 0a2.35 2.35 0 1 0 -4.7 0M228.1 188.61a2.35 2.35 0 1 0 4.7 0a2.35 2.35 0 1 0 -4.7 0M234.76 189.07a2.35 2.35 0 1 0 4.7 0a2.35 2.35 0 1 0 -4.7 0M224.51 182.84a2.35 2.35 0 1 0 4.7 0a2.35 2.35 0 1 0 -4.7 0M231.05 182.37a2.35 2.35 0 1 0 4.7 0a2.35 2.35 0 1 0 -4.7 0" fill="none" stroke="#f02a2a" stroke-width="1.0" opacity="0.72"/>
<path clip-path="url(#damb)" d="M244.8 207.31a2.3 2.3 0 1 0 4.6 0a2.3 2.3 0 1 0 -4.6 0M251.92 207.19a2.3 2.3 0 1 0 4.6 0a2.3 2.3 0 1 0 -4.6 0M258.73 206.99a2.3 2.3 0 1 0 4.6 0a2.3 2.3 0 1 0 -4.6 0M255.44 201.24a2.3 2.3 0 1 0 4.6 0a2.3 2.3 0 1 0 -4.6 0M261.84 201.02a2.3 2.3 0 1 0 4.6 0a2.3 2.3 0 1 0 -4.6 0M244.71 195.04a2.3 2.3 0 1 0 4.6 0a2.3 2.3 0 1 0 -4.6 0M251.81 194.57a2.3 2.3 0 1 0 4.6 0a2.3 2.3 0 1 0 -4.6 0M258.29 194.69a2.3 2.3 0 1 0 4.6 0a2.3 2.3 0 1 0 -4.6 0M265.4 194.99a2.3 2.3 0 1 0 4.6 0a2.3 2.3 0 1 0 -4.6 0M272.24 194.88a2.3 2.3 0 1 0 4.6 0a2.3 2.3 0 1 0 -4.6 0M241.37 188.6a2.3 2.3 0 1 0 4.6 0a2.3 2.3 0 1 0 -4.6 0M248.16 188.46a2.3 2.3 0 1 0 4.6 0a2.3 2.3 0 1 0 -4.6 0M254.89 188.67a2.3 2.3 0 1 0 4.6 0a2.3 2.3 0 1 0 -4.6 0M261.73 188.96a2.3 2.3 0 1 0 4.6 0a2.3 2.3 0 1 0 -4.6 0M268.66 188.74a2.3 2.3 0 1 0 4.6 0a2.3 2.3 0 1 0 -4.6 0M275.16 188.86a2.3 2.3 0 1 0 4.6 0a2.3 2.3 0 1 0 -4.6 0M282.06 188.87a2.3 2.3 0 1 0 4.6 0a2.3 2.3 0 1 0 -4.6 0M237.84 182.45a2.3 2.3 0 1 0 4.6 0a2.3 2.3 0 1 0 -4.6 0M244.93 182.78a2.3 2.3 0 1 0 4.6 0a2.3 2.3 0 1 0 -4.6 0M252.01 182.42a2.3 2.3 0 1 0 4.6 0a2.3 2.3 0 1 0 -4.6 0M258.21 182.82a2.3 2.3 0 1 0 4.6 0a2.3 2.3 0 1 0 -4.6 0M265.05 182.57a2.3 2.3 0 1 0 4.6 0a2.3 2.3 0 1 0 -4.6 0M272.08 183.01a2.3 2.3 0 1 0 4.6 0a2.3 2.3 0 1 0 -4.6 0M278.79 183a2.3 2.3 0 1 0 4.6 0a2.3 2.3 0 1 0 -4.6 0M285.42 182.9a2.3 2.3 0 1 0 4.6 0a2.3 2.3 0 1 0 -4.6 0M241.45 176.57a2.3 2.3 0 1 0 4.6 0a2.3 2.3 0 1 0 -4.6 0M248.63 176.65a2.3 2.3 0 1 0 4.6 0a2.3 2.3 0 1 0 -4.6 0M262.11 176.7a2.3 2.3 0 1 0 4.6 0a2.3 2.3 0 1 0 -4.6 0M268.77 176.34a2.3 2.3 0 1 0 4.6 0a2.3 2.3 0 1 0 -4.6 0M282.4 176.65a2.3 2.3 0 1 0 4.6 0a2.3 2.3 0 1 0 -4.6 0M289.06 176.58a2.3 2.3 0 1 0 4.6 0a2.3 2.3 0 1 0 -4.6 0M295.74 176.4a2.3 2.3 0 1 0 4.6 0a2.3 2.3 0 1 0 -4.6 0M258.43 170.6a2.3 2.3 0 1 0 4.6 0a2.3 2.3 0 1 0 -4.6 0M265.58 170.62a2.3 2.3 0 1 0 4.6 0a2.3 2.3 0 1 0 -4.6 0M272.03 170.18a2.3 2.3 0 1 0 4.6 0a2.3 2.3 0 1 0 -4.6 0M278.63 170.81a2.3 2.3 0 1 0 4.6 0a2.3 2.3 0 1 0 -4.6 0M285.77 170.66a2.3 2.3 0 1 0 4.6 0a2.3 2.3 0 1 0 -4.6 0M292.73 170.38a2.3 2.3 0 1 0 4.6 0a2.3 2.3 0 1 0 -4.6 0M299.37 170.43a2.3 2.3 0 1 0 4.6 0a2.3 2.3 0 1 0 -4.6 0" fill="#f03030" fill-opacity="0.15" stroke="none"/>
<path clip-path="url(#damb)" d="M244.8 207.31a2.3 2.3 0 1 0 4.6 0a2.3 2.3 0 1 0 -4.6 0M251.92 207.19a2.3 2.3 0 1 0 4.6 0a2.3 2.3 0 1 0 -4.6 0M258.73 206.99a2.3 2.3 0 1 0 4.6 0a2.3 2.3 0 1 0 -4.6 0M255.44 201.24a2.3 2.3 0 1 0 4.6 0a2.3 2.3 0 1 0 -4.6 0M261.84 201.02a2.3 2.3 0 1 0 4.6 0a2.3 2.3 0 1 0 -4.6 0M244.71 195.04a2.3 2.3 0 1 0 4.6 0a2.3 2.3 0 1 0 -4.6 0M251.81 194.57a2.3 2.3 0 1 0 4.6 0a2.3 2.3 0 1 0 -4.6 0M258.29 194.69a2.3 2.3 0 1 0 4.6 0a2.3 2.3 0 1 0 -4.6 0M265.4 194.99a2.3 2.3 0 1 0 4.6 0a2.3 2.3 0 1 0 -4.6 0M272.24 194.88a2.3 2.3 0 1 0 4.6 0a2.3 2.3 0 1 0 -4.6 0M241.37 188.6a2.3 2.3 0 1 0 4.6 0a2.3 2.3 0 1 0 -4.6 0M248.16 188.46a2.3 2.3 0 1 0 4.6 0a2.3 2.3 0 1 0 -4.6 0M254.89 188.67a2.3 2.3 0 1 0 4.6 0a2.3 2.3 0 1 0 -4.6 0M261.73 188.96a2.3 2.3 0 1 0 4.6 0a2.3 2.3 0 1 0 -4.6 0M268.66 188.74a2.3 2.3 0 1 0 4.6 0a2.3 2.3 0 1 0 -4.6 0M275.16 188.86a2.3 2.3 0 1 0 4.6 0a2.3 2.3 0 1 0 -4.6 0M282.06 188.87a2.3 2.3 0 1 0 4.6 0a2.3 2.3 0 1 0 -4.6 0M237.84 182.45a2.3 2.3 0 1 0 4.6 0a2.3 2.3 0 1 0 -4.6 0M244.93 182.78a2.3 2.3 0 1 0 4.6 0a2.3 2.3 0 1 0 -4.6 0M252.01 182.42a2.3 2.3 0 1 0 4.6 0a2.3 2.3 0 1 0 -4.6 0M258.21 182.82a2.3 2.3 0 1 0 4.6 0a2.3 2.3 0 1 0 -4.6 0M265.05 182.57a2.3 2.3 0 1 0 4.6 0a2.3 2.3 0 1 0 -4.6 0M272.08 183.01a2.3 2.3 0 1 0 4.6 0a2.3 2.3 0 1 0 -4.6 0M278.79 183a2.3 2.3 0 1 0 4.6 0a2.3 2.3 0 1 0 -4.6 0M285.42 182.9a2.3 2.3 0 1 0 4.6 0a2.3 2.3 0 1 0 -4.6 0M241.45 176.57a2.3 2.3 0 1 0 4.6 0a2.3 2.3 0 1 0 -4.6 0M248.63 176.65a2.3 2.3 0 1 0 4.6 0a2.3 2.3 0 1 0 -4.6 0M262.11 176.7a2.3 2.3 0 1 0 4.6 0a2.3 2.3 0 1 0 -4.6 0M268.77 176.34a2.3 2.3 0 1 0 4.6 0a2.3 2.3 0 1 0 -4.6 0M282.4 176.65a2.3 2.3 0 1 0 4.6 0a2.3 2.3 0 1 0 -4.6 0M289.06 176.58a2.3 2.3 0 1 0 4.6 0a2.3 2.3 0 1 0 -4.6 0M295.74 176.4a2.3 2.3 0 1 0 4.6 0a2.3 2.3 0 1 0 -4.6 0M258.43 170.6a2.3 2.3 0 1 0 4.6 0a2.3 2.3 0 1 0 -4.6 0M265.58 170.62a2.3 2.3 0 1 0 4.6 0a2.3 2.3 0 1 0 -4.6 0M272.03 170.18a2.3 2.3 0 1 0 4.6 0a2.3 2.3 0 1 0 -4.6 0M278.63 170.81a2.3 2.3 0 1 0 4.6 0a2.3 2.3 0 1 0 -4.6 0M285.77 170.66a2.3 2.3 0 1 0 4.6 0a2.3 2.3 0 1 0 -4.6 0M292.73 170.38a2.3 2.3 0 1 0 4.6 0a2.3 2.3 0 1 0 -4.6 0M299.37 170.43a2.3 2.3 0 1 0 4.6 0a2.3 2.3 0 1 0 -4.6 0" fill="none" stroke="#f50a0a" stroke-width="1.05" stroke-dasharray="1 0.85"/>
<path clip-path="url(#damb)" d="M164.64 231.28a1.25 1.25 0 1 0 2.5 0a1.25 1.25 0 1 0 -2.5 0M113.22 225.12a1.25 1.25 0 1 0 2.5 0a1.25 1.25 0 1 0 -2.5 0M120.41 225.14a1.25 1.25 0 1 0 2.5 0a1.25 1.25 0 1 0 -2.5 0M126.88 225.41a1.25 1.25 0 1 0 2.5 0a1.25 1.25 0 1 0 -2.5 0M134.07 225.23a1.25 1.25 0 1 0 2.5 0a1.25 1.25 0 1 0 -2.5 0M140.49 225.06a1.25 1.25 0 1 0 2.5 0a1.25 1.25 0 1 0 -2.5 0M147.1 225.09a1.25 1.25 0 1 0 2.5 0a1.25 1.25 0 1 0 -2.5 0M153.91 225.12a1.25 1.25 0 1 0 2.5 0a1.25 1.25 0 1 0 -2.5 0M160.96 225.74a1.25 1.25 0 1 0 2.5 0a1.25 1.25 0 1 0 -2.5 0M168.1 225.21a1.25 1.25 0 1 0 2.5 0a1.25 1.25 0 1 0 -2.5 0M174.38 225.46a1.25 1.25 0 1 0 2.5 0a1.25 1.25 0 1 0 -2.5 0M181.56 225.55a1.25 1.25 0 1 0 2.5 0a1.25 1.25 0 1 0 -2.5 0M188.1 225.42a1.25 1.25 0 1 0 2.5 0a1.25 1.25 0 1 0 -2.5 0M194.62 225.34a1.25 1.25 0 1 0 2.5 0a1.25 1.25 0 1 0 -2.5 0M201.91 225.22a1.25 1.25 0 1 0 2.5 0a1.25 1.25 0 1 0 -2.5 0M116.74 219.1a1.25 1.25 0 1 0 2.5 0a1.25 1.25 0 1 0 -2.5 0M123.25 219.15a1.25 1.25 0 1 0 2.5 0a1.25 1.25 0 1 0 -2.5 0M130.65 219a1.25 1.25 0 1 0 2.5 0a1.25 1.25 0 1 0 -2.5 0M136.93 219.35a1.25 1.25 0 1 0 2.5 0a1.25 1.25 0 1 0 -2.5 0M143.92 219.48a1.25 1.25 0 1 0 2.5 0a1.25 1.25 0 1 0 -2.5 0M150.49 219.04a1.25 1.25 0 1 0 2.5 0a1.25 1.25 0 1 0 -2.5 0M157.8 219.4a1.25 1.25 0 1 0 2.5 0a1.25 1.25 0 1 0 -2.5 0M164.48 218.97a1.25 1.25 0 1 0 2.5 0a1.25 1.25 0 1 0 -2.5 0M171.34 219.46a1.25 1.25 0 1 0 2.5 0a1.25 1.25 0 1 0 -2.5 0M177.85 219.27a1.25 1.25 0 1 0 2.5 0a1.25 1.25 0 1 0 -2.5 0M184.59 219.32a1.25 1.25 0 1 0 2.5 0a1.25 1.25 0 1 0 -2.5 0M191.87 219.51a1.25 1.25 0 1 0 2.5 0a1.25 1.25 0 1 0 -2.5 0M198.59 219.16a1.25 1.25 0 1 0 2.5 0a1.25 1.25 0 1 0 -2.5 0M205.14 219.13a1.25 1.25 0 1 0 2.5 0a1.25 1.25 0 1 0 -2.5 0M212.08 219.59a1.25 1.25 0 1 0 2.5 0a1.25 1.25 0 1 0 -2.5 0M218.97 219.02a1.25 1.25 0 1 0 2.5 0a1.25 1.25 0 1 0 -2.5 0M133.68 213.35a1.25 1.25 0 1 0 2.5 0a1.25 1.25 0 1 0 -2.5 0M140.69 213.18a1.25 1.25 0 1 0 2.5 0a1.25 1.25 0 1 0 -2.5 0M147.23 213.37a1.25 1.25 0 1 0 2.5 0a1.25 1.25 0 1 0 -2.5 0M154.33 213.45a1.25 1.25 0 1 0 2.5 0a1.25 1.25 0 1 0 -2.5 0M161.03 213.13a1.25 1.25 0 1 0 2.5 0a1.25 1.25 0 1 0 -2.5 0M168.08 213.29a1.25 1.25 0 1 0 2.5 0a1.25 1.25 0 1 0 -2.5 0M174.53 213.35a1.25 1.25 0 1 0 2.5 0a1.25 1.25 0 1 0 -2.5 0M181.46 213.42a1.25 1.25 0 1 0 2.5 0a1.25 1.25 0 1 0 -2.5 0M188.46 213.36a1.25 1.25 0 1 0 2.5 0a1.25 1.25 0 1 0 -2.5 0M195.23 213.47a1.25 1.25 0 1 0 2.5 0a1.25 1.25 0 1 0 -2.5 0M201.97 213.39a1.25 1.25 0 1 0 2.5 0a1.25 1.25 0 1 0 -2.5 0M208.72 213.26a1.25 1.25 0 1 0 2.5 0a1.25 1.25 0 1 0 -2.5 0M215.56 212.95a1.25 1.25 0 1 0 2.5 0a1.25 1.25 0 1 0 -2.5 0M222.1 213.03a1.25 1.25 0 1 0 2.5 0a1.25 1.25 0 1 0 -2.5 0M228.93 212.99a1.25 1.25 0 1 0 2.5 0a1.25 1.25 0 1 0 -2.5 0M235.45 212.85a1.25 1.25 0 1 0 2.5 0a1.25 1.25 0 1 0 -2.5 0M150.45 207.33a1.25 1.25 0 1 0 2.5 0a1.25 1.25 0 1 0 -2.5 0M157.65 207.31a1.25 1.25 0 1 0 2.5 0a1.25 1.25 0 1 0 -2.5 0M164.28 207.34a1.25 1.25 0 1 0 2.5 0a1.25 1.25 0 1 0 -2.5 0M171.24 207.02a1.25 1.25 0 1 0 2.5 0a1.25 1.25 0 1 0 -2.5 0M178.2 207.31a1.25 1.25 0 1 0 2.5 0a1.25 1.25 0 1 0 -2.5 0M184.62 206.91a1.25 1.25 0 1 0 2.5 0a1.25 1.25 0 1 0 -2.5 0M191.36 206.94a1.25 1.25 0 1 0 2.5 0a1.25 1.25 0 1 0 -2.5 0M198.08 207.32a1.25 1.25 0 1 0 2.5 0a1.25 1.25 0 1 0 -2.5 0M205.06 206.97a1.25 1.25 0 1 0 2.5 0a1.25 1.25 0 1 0 -2.5 0M211.92 206.87a1.25 1.25 0 1 0 2.5 0a1.25 1.25 0 1 0 -2.5 0M218.6 207.38a1.25 1.25 0 1 0 2.5 0a1.25 1.25 0 1 0 -2.5 0M225.51 207.2a1.25 1.25 0 1 0 2.5 0a1.25 1.25 0 1 0 -2.5 0M232.23 206.82a1.25 1.25 0 1 0 2.5 0a1.25 1.25 0 1 0 -2.5 0M238.93 207.22a1.25 1.25 0 1 0 2.5 0a1.25 1.25 0 1 0 -2.5 0M246.1 207.31a1 1 0 1 0 2 0a1 1 0 1 0 -2 0M253.22 207.19a1 1 0 1 0 2 0a1 1 0 1 0 -2 0M260.03 206.99a1 1 0 1 0 2 0a1 1 0 1 0 -2 0M174.85 200.72a1.25 1.25 0 1 0 2.5 0a1.25 1.25 0 1 0 -2.5 0M181.14 200.83a1.25 1.25 0 1 0 2.5 0a1.25 1.25 0 1 0 -2.5 0M187.98 200.89a1.25 1.25 0 1 0 2.5 0a1.25 1.25 0 1 0 -2.5 0M194.77 201.08a1.25 1.25 0 1 0 2.5 0a1.25 1.25 0 1 0 -2.5 0M201.66 201.19a1.25 1.25 0 1 0 2.5 0a1.25 1.25 0 1 0 -2.5 0M208.3 201.25a1.25 1.25 0 1 0 2.5 0a1.25 1.25 0 1 0 -2.5 0M215.55 200.74a1.25 1.25 0 1 0 2.5 0a1.25 1.25 0 1 0 -2.5 0M222.39 200.89a1.25 1.25 0 1 0 2.5 0a1.25 1.25 0 1 0 -2.5 0M229.03 200.93a1.25 1.25 0 1 0 2.5 0a1.25 1.25 0 1 0 -2.5 0M235.67 200.98a1.25 1.25 0 1 0 2.5 0a1.25 1.25 0 1 0 -2.5 0M242.42 201.24a1.25 1.25 0 1 0 2.5 0a1.25 1.25 0 1 0 -2.5 0M256.74 201.24a1 1 0 1 0 2 0a1 1 0 1 0 -2 0M263.14 201.02a1 1 0 1 0 2 0a1 1 0 1 0 -2 0M191.47 194.99a1.25 1.25 0 1 0 2.5 0a1.25 1.25 0 1 0 -2.5 0M198.63 195.05a1.25 1.25 0 1 0 2.5 0a1.25 1.25 0 1 0 -2.5 0M205.44 194.66a1.25 1.25 0 1 0 2.5 0a1.25 1.25 0 1 0 -2.5 0M212.17 194.99a1.25 1.25 0 1 0 2.5 0a1.25 1.25 0 1 0 -2.5 0M218.66 194.76a1.25 1.25 0 1 0 2.5 0a1.25 1.25 0 1 0 -2.5 0M225.5 194.83a1.25 1.25 0 1 0 2.5 0a1.25 1.25 0 1 0 -2.5 0M232.57 194.94a1.25 1.25 0 1 0 2.5 0a1.25 1.25 0 1 0 -2.5 0M239 195.09a1.25 1.25 0 1 0 2.5 0a1.25 1.25 0 1 0 -2.5 0M246.01 195.04a1 1 0 1 0 2 0a1 1 0 1 0 -2 0M253.11 194.57a1 1 0 1 0 2 0a1 1 0 1 0 -2 0M259.59 194.69a1 1 0 1 0 2 0a1 1 0 1 0 -2 0M266.7 194.99a1 1 0 1 0 2 0a1 1 0 1 0 -2 0M273.54 194.88a1 1 0 1 0 2 0a1 1 0 1 0 -2 0M208.38 188.58a1.25 1.25 0 1 0 2.5 0a1.25 1.25 0 1 0 -2.5 0M215.13 188.78a1.25 1.25 0 1 0 2.5 0a1.25 1.25 0 1 0 -2.5 0M222.02 188.57a1.25 1.25 0 1 0 2.5 0a1.25 1.25 0 1 0 -2.5 0M229.2 188.61a1.25 1.25 0 1 0 2.5 0a1.25 1.25 0 1 0 -2.5 0M235.86 189.07a1.25 1.25 0 1 0 2.5 0a1.25 1.25 0 1 0 -2.5 0M242.67 188.6a1 1 0 1 0 2 0a1 1 0 1 0 -2 0M249.46 188.46a1 1 0 1 0 2 0a1 1 0 1 0 -2 0M256.19 188.67a1 1 0 1 0 2 0a1 1 0 1 0 -2 0M263.03 188.96a1 1 0 1 0 2 0a1 1 0 1 0 -2 0M269.96 188.74a1 1 0 1 0 2 0a1 1 0 1 0 -2 0M276.46 188.86a1 1 0 1 0 2 0a1 1 0 1 0 -2 0M283.36 188.87a1 1 0 1 0 2 0a1 1 0 1 0 -2 0M225.61 182.84a1.25 1.25 0 1 0 2.5 0a1.25 1.25 0 1 0 -2.5 0M232.15 182.37a1.25 1.25 0 1 0 2.5 0a1.25 1.25 0 1 0 -2.5 0M239.14 182.45a1 1 0 1 0 2 0a1 1 0 1 0 -2 0M246.23 182.78a1 1 0 1 0 2 0a1 1 0 1 0 -2 0M253.31 182.42a1 1 0 1 0 2 0a1 1 0 1 0 -2 0M259.51 182.82a1 1 0 1 0 2 0a1 1 0 1 0 -2 0M266.35 182.57a1 1 0 1 0 2 0a1 1 0 1 0 -2 0M273.38 183.01a1 1 0 1 0 2 0a1 1 0 1 0 -2 0M280.09 183a1 1 0 1 0 2 0a1 1 0 1 0 -2 0M286.72 182.9a1 1 0 1 0 2 0a1 1 0 1 0 -2 0M242.75 176.57a1 1 0 1 0 2 0a1 1 0 1 0 -2 0M249.93 176.65a1 1 0 1 0 2 0a1 1 0 1 0 -2 0M263.41 176.7a1 1 0 1 0 2 0a1 1 0 1 0 -2 0M270.07 176.34a1 1 0 1 0 2 0a1 1 0 1 0 -2 0M283.7 176.65a1 1 0 1 0 2 0a1 1 0 1 0 -2 0M290.36 176.58a1 1 0 1 0 2 0a1 1 0 1 0 -2 0M297.04 176.4a1 1 0 1 0 2 0a1 1 0 1 0 -2 0M259.73 170.6a1 1 0 1 0 2 0a1 1 0 1 0 -2 0M266.88 170.62a1 1 0 1 0 2 0a1 1 0 1 0 -2 0M273.33 170.18a1 1 0 1 0 2 0a1 1 0 1 0 -2 0M279.93 170.81a1 1 0 1 0 2 0a1 1 0 1 0 -2 0M287.07 170.66a1 1 0 1 0 2 0a1 1 0 1 0 -2 0M294.03 170.38a1 1 0 1 0 2 0a1 1 0 1 0 -2 0M300.67 170.43a1 1 0 1 0 2 0a1 1 0 1 0 -2 0" fill="#f50a0a"/>
<path d="M155.11 227.62a0.92 0.92 0 1 0 1.84 0a0.92 0.92 0 1 0 -1.84 0M131.43 224.7a0.82 0.82 0 1 0 1.64 0a0.82 0.82 0 1 0 -1.64 0M162.35 209.68a0.56 0.56 0 1 0 1.12 0a0.56 0.56 0 1 0 -1.12 0M200.5 222.6a0.76 0.76 0 1 0 1.51 0a0.76 0.76 0 1 0 -1.51 0M216.08 211.61a0.91 0.91 0 1 0 1.82 0a0.91 0.91 0 1 0 -1.82 0M125.51 221.8a0.61 0.61 0 1 0 1.22 0a0.61 0.61 0 1 0 -1.22 0M162.22 208.14a0.72 0.72 0 1 0 1.44 0a0.72 0.72 0 1 0 -1.44 0M172.4 205.24a0.74 0.74 0 1 0 1.48 0a0.74 0.74 0 1 0 -1.48 0M108.77 221.76a0.64 0.64 0 1 0 1.28 0a0.64 0.64 0 1 0 -1.28 0M219.18 211.82a0.73 0.73 0 1 0 1.46 0a0.73 0.73 0 1 0 -1.46 0M190.7 197.05a0.53 0.53 0 1 0 1.06 0a0.53 0.53 0 1 0 -1.06 0M200.06 225.25a0.88 0.88 0 1 0 1.76 0a0.88 0.88 0 1 0 -1.76 0M239.2 198.3a0.58 0.58 0 1 0 1.17 0a0.58 0.58 0 1 0 -1.17 0M183.66 211.28a0.77 0.77 0 1 0 1.54 0a0.77 0.77 0 1 0 -1.54 0M172.38 202.73a0.84 0.84 0 1 0 1.68 0a0.84 0.84 0 1 0 -1.68 0M210.42 200.6a0.9 0.9 0 1 0 1.81 0a0.9 0.9 0 1 0 -1.81 0M203.59 208.49a0.81 0.81 0 1 0 1.61 0a0.81 0.81 0 1 0 -1.61 0M209.44 192.2a0.56 0.56 0 1 0 1.11 0a0.56 0.56 0 1 0 -1.11 0M218.95 209.81a0.52 0.52 0 1 0 1.03 0a0.52 0.52 0 1 0 -1.03 0M226.36 192.84a0.97 0.97 0 1 0 1.94 0a0.97 0.97 0 1 0 -1.94 0M159.84 229.72a0.85 0.85 0 1 0 1.7 0a0.85 0.85 0 1 0 -1.7 0M187.07 215.32a0.61 0.61 0 1 0 1.22 0a0.61 0.61 0 1 0 -1.22 0M180.63 224.14a0.95 0.95 0 1 0 1.89 0a0.95 0.95 0 1 0 -1.89 0M233.62 195.78a0.58 0.58 0 1 0 1.17 0a0.58 0.58 0 1 0 -1.17 0M216.77 192.48a0.86 0.86 0 1 0 1.72 0a0.86 0.86 0 1 0 -1.72 0M201.14 193.99a0.73 0.73 0 1 0 1.46 0a0.73 0.73 0 1 0 -1.46 0M142.61 221.23a0.64 0.64 0 1 0 1.28 0a0.64 0.64 0 1 0 -1.28 0M140.34 223.94a0.64 0.64 0 1 0 1.28 0a0.64 0.64 0 1 0 -1.28 0M164.24 205.83a0.5 0.5 0 1 0 1 0a0.5 0.5 0 1 0 -1 0M141.88 217.9a0.99 0.99 0 1 0 1.98 0a0.99 0.99 0 1 0 -1.98 0M228.36 214.02a0.85 0.85 0 1 0 1.71 0a0.85 0.85 0 1 0 -1.71 0M230.8 195.11a0.95 0.95 0 1 0 1.9 0a0.95 0.95 0 1 0 -1.9 0M106.7 223.59a0.99 0.99 0 1 0 1.98 0a0.99 0.99 0 1 0 -1.98 0M115.68 224.36a0.91 0.91 0 1 0 1.82 0a0.91 0.91 0 1 0 -1.82 0M211.34 218.21a0.53 0.53 0 1 0 1.06 0a0.53 0.53 0 1 0 -1.06 0M158 211.54a0.63 0.63 0 1 0 1.27 0a0.63 0.63 0 1 0 -1.27 0M233.82 214.31a0.69 0.69 0 1 0 1.39 0a0.69 0.69 0 1 0 -1.39 0M236.89 207.11a0.77 0.77 0 1 0 1.54 0a0.77 0.77 0 1 0 -1.54 0M189.95 227.56a0.61 0.61 0 1 0 1.22 0a0.61 0.61 0 1 0 -1.22 0M126.94 220.24a0.57 0.57 0 1 0 1.13 0a0.57 0.57 0 1 0 -1.13 0M162.88 231.12a0.53 0.53 0 1 0 1.07 0a0.53 0.53 0 1 0 -1.07 0M227.6 203a0.57 0.57 0 1 0 1.14 0a0.57 0.57 0 1 0 -1.14 0M135.19 226.67a0.59 0.59 0 1 0 1.18 0a0.59 0.59 0 1 0 -1.18 0M171.19 215.6a0.87 0.87 0 1 0 1.74 0a0.87 0.87 0 1 0 -1.74 0M237.34 196.75a0.74 0.74 0 1 0 1.48 0a0.74 0.74 0 1 0 -1.48 0M138.56 220.55a0.57 0.57 0 1 0 1.15 0a0.57 0.57 0 1 0 -1.15 0M152.8 228.41a0.63 0.63 0 1 0 1.26 0a0.63 0.63 0 1 0 -1.26 0M227.74 204.62a0.62 0.62 0 1 0 1.25 0a0.62 0.62 0 1 0 -1.25 0M230.09 201.02a0.53 0.53 0 1 0 1.07 0a0.53 0.53 0 1 0 -1.07 0M171.22 209.93a0.55 0.55 0 1 0 1.09 0a0.55 0.55 0 1 0 -1.09 0M193.67 211.76a0.97 0.97 0 1 0 1.93 0a0.97 0.97 0 1 0 -1.93 0M177.11 204.25a0.72 0.72 0 1 0 1.43 0a0.72 0.72 0 1 0 -1.43 0M224.92 192.5a0.69 0.69 0 1 0 1.38 0a0.69 0.69 0 1 0 -1.38 0M162.12 229.92a0.68 0.68 0 1 0 1.37 0a0.68 0.68 0 1 0 -1.37 0M210.71 203.56a1 1 0 1 0 1.99 0a1 1 0 1 0 -1.99 0M229.86 201.82a0.64 0.64 0 1 0 1.28 0a0.64 0.64 0 1 0 -1.28 0M227.06 201.12a0.94 0.94 0 1 0 1.88 0a0.94 0.94 0 1 0 -1.88 0M114.61 224.47a0.96 0.96 0 1 0 1.91 0a0.96 0.96 0 1 0 -1.91 0M222.53 206.81a0.89 0.89 0 1 0 1.77 0a0.89 0.89 0 1 0 -1.77 0M230.77 193a0.85 0.85 0 1 0 1.7 0a0.85 0.85 0 1 0 -1.7 0M167.11 207.62a0.86 0.86 0 1 0 1.73 0a0.86 0.86 0 1 0 -1.73 0M151.69 230.83a0.9 0.9 0 1 0 1.81 0a0.9 0.9 0 1 0 -1.81 0M189.52 228.3a0.61 0.61 0 1 0 1.23 0a0.61 0.61 0 1 0 -1.23 0M213.14 216.42a0.7 0.7 0 1 0 1.4 0a0.7 0.7 0 1 0 -1.4 0M151.81 210.36a0.99 0.99 0 1 0 1.98 0a0.99 0.99 0 1 0 -1.98 0M200.32 212.56a0.84 0.84 0 1 0 1.69 0a0.84 0.84 0 1 0 -1.69 0M223.11 209.71a0.86 0.86 0 1 0 1.71 0a0.86 0.86 0 1 0 -1.71 0M105.5 224.37a0.98 0.98 0 1 0 1.96 0a0.98 0.98 0 1 0 -1.96 0M184.35 208.86a0.97 0.97 0 1 0 1.93 0a0.97 0.97 0 1 0 -1.93 0M182.77 225.8a0.77 0.77 0 1 0 1.55 0a0.77 0.77 0 1 0 -1.55 0M183.24 227.1a0.96 0.96 0 1 0 1.92 0a0.96 0.96 0 1 0 -1.92 0M187.25 207.23a0.78 0.78 0 1 0 1.55 0a0.78 0.78 0 1 0 -1.55 0M132.67 228.44a0.7 0.7 0 1 0 1.41 0a0.7 0.7 0 1 0 -1.41 0M227.88 203.46a1 1 0 1 0 2 0a1 1 0 1 0 -2 0M186.89 196.63a0.71 0.71 0 1 0 1.42 0a0.71 0.71 0 1 0 -1.42 0M150.3 222.94a0.52 0.52 0 1 0 1.05 0a0.52 0.52 0 1 0 -1.05 0M190.07 209.8a0.94 0.94 0 1 0 1.88 0a0.94 0.94 0 1 0 -1.88 0M243.12 210.74a0.92 0.92 0 1 0 1.83 0a0.92 0.92 0 1 0 -1.83 0M210.49 203.48a0.68 0.68 0 1 0 1.35 0a0.68 0.68 0 1 0 -1.35 0M173.01 228.26a0.74 0.74 0 1 0 1.48 0a0.74 0.74 0 1 0 -1.48 0M222.06 197.91a0.83 0.83 0 1 0 1.65 0a0.83 0.83 0 1 0 -1.65 0M213.73 188.19a0.96 0.96 0 1 0 1.91 0a0.96 0.96 0 1 0 -1.91 0M241.76 190.89a0.71 0.71 0 1 0 1.43 0a0.71 0.71 0 1 0 -1.43 0M237.43 189.54a0.83 0.83 0 1 0 1.66 0a0.83 0.83 0 1 0 -1.66 0M220.88 213.86a0.82 0.82 0 1 0 1.63 0a0.82 0.82 0 1 0 -1.63 0M172.19 226.7a0.51 0.51 0 1 0 1.02 0a0.51 0.51 0 1 0 -1.02 0M193.99 228.28a0.62 0.62 0 1 0 1.25 0a0.62 0.62 0 1 0 -1.25 0M225.24 211.32a0.57 0.57 0 1 0 1.15 0a0.57 0.57 0 1 0 -1.15 0M203.95 200.12a0.53 0.53 0 1 0 1.06 0a0.53 0.53 0 1 0 -1.06 0M146.47 223.75a0.98 0.98 0 1 0 1.95 0a0.98 0.98 0 1 0 -1.95 0M156.71 219.83a0.97 0.97 0 1 0 1.93 0a0.97 0.97 0 1 0 -1.93 0M175.45 217.21a0.57 0.57 0 1 0 1.15 0a0.57 0.57 0 1 0 -1.15 0M182.42 211.4a0.89 0.89 0 1 0 1.77 0a0.89 0.89 0 1 0 -1.77 0M184.47 198.4a0.72 0.72 0 1 0 1.45 0a0.72 0.72 0 1 0 -1.45 0M179.23 207.25a0.78 0.78 0 1 0 1.55 0a0.78 0.78 0 1 0 -1.55 0M171.18 226.63a0.83 0.83 0 1 0 1.66 0a0.83 0.83 0 1 0 -1.66 0M153.94 222.28a0.52 0.52 0 1 0 1.03 0a0.52 0.52 0 1 0 -1.03 0M112.95 223.08a0.68 0.68 0 1 0 1.37 0a0.68 0.68 0 1 0 -1.37 0M230.07 181.6a0.76 0.76 0 1 0 1.52 0a0.76 0.76 0 1 0 -1.52 0M236.14 195.04a0.65 0.65 0 1 0 1.3 0a0.65 0.65 0 1 0 -1.3 0M220.79 208.78a0.84 0.84 0 1 0 1.69 0a0.84 0.84 0 1 0 -1.69 0M160.75 229.42a0.66 0.66 0 1 0 1.32 0a0.66 0.66 0 1 0 -1.32 0M144.76 211.19a0.54 0.54 0 1 0 1.07 0a0.54 0.54 0 1 0 -1.07 0M210.43 191.24a0.89 0.89 0 1 0 1.79 0a0.89 0.89 0 1 0 -1.79 0M215.14 215.05a0.7 0.7 0 1 0 1.41 0a0.7 0.7 0 1 0 -1.41 0M180.45 201.01a0.88 0.88 0 1 0 1.77 0a0.88 0.88 0 1 0 -1.77 0M227.49 182.05a0.75 0.75 0 1 0 1.51 0a0.75 0.75 0 1 0 -1.51 0M161.72 214.21a0.64 0.64 0 1 0 1.29 0a0.64 0.64 0 1 0 -1.29 0M228.13 217.07a0.5 0.5 0 1 0 1.01 0a0.5 0.5 0 1 0 -1.01 0M179.14 218.31a0.64 0.64 0 1 0 1.28 0a0.64 0.64 0 1 0 -1.28 0M144.25 223.94a0.89 0.89 0 1 0 1.77 0a0.89 0.89 0 1 0 -1.77 0M171.8 218.64a0.95 0.95 0 1 0 1.9 0a0.95 0.95 0 1 0 -1.9 0M237.81 182.47a0.99 0.99 0 1 0 1.98 0a0.99 0.99 0 1 0 -1.98 0M149.58 230.45a0.99 0.99 0 1 0 1.97 0a0.99 0.99 0 1 0 -1.97 0M215.82 214.55a0.68 0.68 0 1 0 1.36 0a0.68 0.68 0 1 0 -1.36 0M159.12 206.39a0.67 0.67 0 1 0 1.34 0a0.67 0.67 0 1 0 -1.34 0M176.13 199.9a0.57 0.57 0 1 0 1.13 0a0.57 0.57 0 1 0 -1.13 0M235.42 193.56a0.69 0.69 0 1 0 1.38 0a0.69 0.69 0 1 0 -1.38 0M154.74 228.75a0.99 0.99 0 1 0 1.99 0a0.99 0.99 0 1 0 -1.99 0M177.04 229.05a0.62 0.62 0 1 0 1.25 0a0.62 0.62 0 1 0 -1.25 0M211.64 214.48a0.77 0.77 0 1 0 1.54 0a0.77 0.77 0 1 0 -1.54 0M237.76 192.88a0.98 0.98 0 1 0 1.96 0a0.98 0.98 0 1 0 -1.96 0M143.63 223.66a0.85 0.85 0 1 0 1.69 0a0.85 0.85 0 1 0 -1.69 0M183.52 201.92a0.58 0.58 0 1 0 1.16 0a0.58 0.58 0 1 0 -1.16 0M150.61 224.97a0.77 0.77 0 1 0 1.54 0a0.77 0.77 0 1 0 -1.54 0M176.12 225.41a0.95 0.95 0 1 0 1.89 0a0.95 0.95 0 1 0 -1.89 0M228.51 186.51a0.76 0.76 0 1 0 1.51 0a0.76 0.76 0 1 0 -1.51 0M172.77 201.34a0.93 0.93 0 1 0 1.87 0a0.93 0.93 0 1 0 -1.87 0M238.6 185.24a0.9 0.9 0 1 0 1.8 0a0.9 0.9 0 1 0 -1.8 0M189.96 216.02a0.57 0.57 0 1 0 1.14 0a0.57 0.57 0 1 0 -1.14 0M139.53 224.93a0.72 0.72 0 1 0 1.45 0a0.72 0.72 0 1 0 -1.45 0M124.86 217.33a0.7 0.7 0 1 0 1.41 0a0.7 0.7 0 1 0 -1.41 0M233.74 187.01a0.85 0.85 0 1 0 1.7 0a0.85 0.85 0 1 0 -1.7 0M200.23 197.84a0.92 0.92 0 1 0 1.84 0a0.92 0.92 0 1 0 -1.84 0M221.52 188.11a0.86 0.86 0 1 0 1.72 0a0.86 0.86 0 1 0 -1.72 0M147.2 211.24a0.93 0.93 0 1 0 1.87 0a0.93 0.93 0 1 0 -1.87 0M224.74 215.39a0.69 0.69 0 1 0 1.38 0a0.69 0.69 0 1 0 -1.38 0M228.23 193.04a0.92 0.92 0 1 0 1.85 0a0.92 0.92 0 1 0 -1.85 0M122.79 224.4a0.67 0.67 0 1 0 1.35 0a0.67 0.67 0 1 0 -1.35 0M241.25 200.35a0.99 0.99 0 1 0 1.98 0a0.99 0.99 0 1 0 -1.98 0M200.14 213.14a0.78 0.78 0 1 0 1.57 0a0.78 0.78 0 1 0 -1.57 0M209.03 197.28a0.65 0.65 0 1 0 1.31 0a0.65 0.65 0 1 0 -1.31 0M237.17 191.71a0.75 0.75 0 1 0 1.51 0a0.75 0.75 0 1 0 -1.51 0M167.61 223.35a0.6 0.6 0 1 0 1.19 0a0.6 0.6 0 1 0 -1.19 0M210.65 218.15a0.66 0.66 0 1 0 1.32 0a0.66 0.66 0 1 0 -1.32 0M197.05 203.95a0.69 0.69 0 1 0 1.37 0a0.69 0.69 0 1 0 -1.37 0M209.37 210.59a0.56 0.56 0 1 0 1.12 0a0.56 0.56 0 1 0 -1.12 0M153.42 213.04a0.64 0.64 0 1 0 1.29 0a0.64 0.64 0 1 0 -1.29 0M219.81 203.21a0.56 0.56 0 1 0 1.12 0a0.56 0.56 0 1 0 -1.12 0M225.38 213.08a0.81 0.81 0 1 0 1.62 0a0.81 0.81 0 1 0 -1.62 0M222.7 206.94a0.71 0.71 0 1 0 1.41 0a0.71 0.71 0 1 0 -1.41 0M180.19 214.08a1 1 0 1 0 2 0a1 1 0 1 0 -2 0M213.66 190.11a0.55 0.55 0 1 0 1.11 0a0.55 0.55 0 1 0 -1.11 0M178.87 205.86a0.79 0.79 0 1 0 1.58 0a0.79 0.79 0 1 0 -1.58 0M209.64 224.29a0.55 0.55 0 1 0 1.1 0a0.55 0.55 0 1 0 -1.1 0M205.25 197.21a0.98 0.98 0 1 0 1.96 0a0.98 0.98 0 1 0 -1.96 0M180.39 222.84a0.65 0.65 0 1 0 1.3 0a0.65 0.65 0 1 0 -1.3 0M224.02 183.99a0.88 0.88 0 1 0 1.76 0a0.88 0.88 0 1 0 -1.76 0M225.17 182.62a0.77 0.77 0 1 0 1.54 0a0.77 0.77 0 1 0 -1.54 0M223.57 184.6a0.9 0.9 0 1 0 1.79 0a0.9 0.9 0 1 0 -1.79 0M153.94 221.94a0.96 0.96 0 1 0 1.92 0a0.96 0.96 0 1 0 -1.92 0M142.92 220.48a0.83 0.83 0 1 0 1.65 0a0.83 0.83 0 1 0 -1.65 0M155.69 208.84a0.74 0.74 0 1 0 1.49 0a0.74 0.74 0 1 0 -1.49 0M185.11 221.05a0.61 0.61 0 1 0 1.22 0a0.61 0.61 0 1 0 -1.22 0M218.89 186.17a0.93 0.93 0 1 0 1.86 0a0.93 0.93 0 1 0 -1.86 0M218.83 199.71a0.76 0.76 0 1 0 1.53 0a0.76 0.76 0 1 0 -1.53 0M169.38 205.23a0.71 0.71 0 1 0 1.43 0a0.71 0.71 0 1 0 -1.43 0M235.67 199.47a0.84 0.84 0 1 0 1.67 0a0.84 0.84 0 1 0 -1.67 0M211.01 188.28a0.8 0.8 0 1 0 1.6 0a0.8 0.8 0 1 0 -1.6 0M190.3 223.44a0.86 0.86 0 1 0 1.72 0a0.86 0.86 0 1 0 -1.72 0M135.11 217.81a0.61 0.61 0 1 0 1.21 0a0.61 0.61 0 1 0 -1.21 0M215.44 204.57a0.62 0.62 0 1 0 1.24 0a0.62 0.62 0 1 0 -1.24 0M230.64 190.47a0.64 0.64 0 1 0 1.29 0a0.64 0.64 0 1 0 -1.29 0M240.28 198.34a0.56 0.56 0 1 0 1.13 0a0.56 0.56 0 1 0 -1.13 0M213.12 215.04a0.81 0.81 0 1 0 1.63 0a0.81 0.81 0 1 0 -1.63 0M196.41 215.12a0.58 0.58 0 1 0 1.15 0a0.58 0.58 0 1 0 -1.15 0M168.02 204.03a0.7 0.7 0 1 0 1.41 0a0.7 0.7 0 1 0 -1.41 0M211.36 195.62a0.81 0.81 0 1 0 1.62 0a0.81 0.81 0 1 0 -1.62 0M176.42 219.63a0.92 0.92 0 1 0 1.85 0a0.92 0.92 0 1 0 -1.85 0M241.94 198.22a0.91 0.91 0 1 0 1.81 0a0.91 0.91 0 1 0 -1.81 0M156.68 205.97a0.84 0.84 0 1 0 1.68 0a0.84 0.84 0 1 0 -1.68 0M184.34 210.66a0.97 0.97 0 1 0 1.95 0a0.97 0.97 0 1 0 -1.95 0M203.03 191.6a0.89 0.89 0 1 0 1.78 0a0.89 0.89 0 1 0 -1.78 0M112.58 220.06a0.86 0.86 0 1 0 1.73 0a0.86 0.86 0 1 0 -1.73 0M162.31 218.51a0.6 0.6 0 1 0 1.21 0a0.6 0.6 0 1 0 -1.21 0M210.79 196.23a0.94 0.94 0 1 0 1.88 0a0.94 0.94 0 1 0 -1.88 0M149.86 220.1a0.52 0.52 0 1 0 1.04 0a0.52 0.52 0 1 0 -1.04 0M173.88 227.28a0.9 0.9 0 1 0 1.8 0a0.9 0.9 0 1 0 -1.8 0M219.11 201.05a0.95 0.95 0 1 0 1.91 0a0.95 0.95 0 1 0 -1.91 0M214.9 193.49a0.97 0.97 0 1 0 1.94 0a0.97 0.97 0 1 0 -1.94 0M180.31 203.39a0.67 0.67 0 1 0 1.35 0a0.67 0.67 0 1 0 -1.35 0M229.65 181.06a0.88 0.88 0 1 0 1.75 0a0.88 0.88 0 1 0 -1.75 0M173.88 208.56a0.56 0.56 0 1 0 1.11 0a0.56 0.56 0 1 0 -1.11 0M208.48 201.49a0.6 0.6 0 1 0 1.21 0a0.6 0.6 0 1 0 -1.21 0M166.36 215.86a0.82 0.82 0 1 0 1.64 0a0.82 0.82 0 1 0 -1.64 0M194.58 224.83a0.68 0.68 0 1 0 1.36 0a0.68 0.68 0 1 0 -1.36 0M147.19 218.39a0.58 0.58 0 1 0 1.17 0a0.58 0.58 0 1 0 -1.17 0M145.39 219.67a0.89 0.89 0 1 0 1.78 0a0.89 0.89 0 1 0 -1.78 0M198.02 223.39a0.98 0.98 0 1 0 1.96 0a0.98 0.98 0 1 0 -1.96 0M224.73 199.83a1 1 0 1 0 2 0a1 1 0 1 0 -2 0" fill="#f50a0a" clip-path="url(#damb)"/>
<polygon points="101,224.07 150,207.76 150,212.76 103,225.4" fill="#f50a0a" fill-opacity="0.6" clip-path="url(#damb)"/>
<path d="M188.35 197.61a0.87 0.87 0 1 0 1.73 0a0.87 0.87 0 1 0 -1.73 0M198.78 191.64a0.64 0.64 0 1 0 1.29 0a0.64 0.64 0 1 0 -1.29 0M188.08 198.9a0.92 0.92 0 1 0 1.84 0a0.92 0.92 0 1 0 -1.84 0M245.47 177.53a0.81 0.81 0 1 0 1.62 0a0.81 0.81 0 1 0 -1.62 0M224.39 188.03a1.08 1.08 0 1 0 2.15 0a1.08 1.08 0 1 0 -2.15 0M183.74 200.17a0.82 0.82 0 1 0 1.65 0a0.82 0.82 0 1 0 -1.65 0M121.44 221.83a0.7 0.7 0 1 0 1.4 0a0.7 0.7 0 1 0 -1.4 0M220.49 189.52a0.78 0.78 0 1 0 1.56 0a0.78 0.78 0 1 0 -1.56 0M122.2 220.19a0.65 0.65 0 1 0 1.29 0a0.65 0.65 0 1 0 -1.29 0M201.6 190.47a0.64 0.64 0 1 0 1.28 0a0.64 0.64 0 1 0 -1.28 0M236.25 184.44a0.61 0.61 0 1 0 1.22 0a0.61 0.61 0 1 0 -1.22 0M114.08 221.26a0.7 0.7 0 1 0 1.41 0a0.7 0.7 0 1 0 -1.41 0M153.95 210.03a0.97 0.97 0 1 0 1.94 0a0.97 0.97 0 1 0 -1.94 0M188.09 197.1a0.72 0.72 0 1 0 1.45 0a0.72 0.72 0 1 0 -1.45 0M147.15 211.09a0.82 0.82 0 1 0 1.65 0a0.82 0.82 0 1 0 -1.65 0M125.91 219.33a0.89 0.89 0 1 0 1.78 0a0.89 0.89 0 1 0 -1.78 0M192.93 197.82a0.9 0.9 0 1 0 1.81 0a0.9 0.9 0 1 0 -1.81 0M244.46 180.52a1.01 1.01 0 1 0 2.03 0a1.01 1.01 0 1 0 -2.03 0M129.45 214.6a0.97 0.97 0 1 0 1.93 0a0.97 0.97 0 1 0 -1.93 0M148.69 211.08a0.91 0.91 0 1 0 1.81 0a0.91 0.91 0 1 0 -1.81 0M224.01 185.83a1 1 0 1 0 2 0a1 1 0 1 0 -2 0M236.51 181.44a0.85 0.85 0 1 0 1.71 0a0.85 0.85 0 1 0 -1.71 0M238.08 182.33a0.75 0.75 0 1 0 1.5 0a0.75 0.75 0 1 0 -1.5 0M178.87 203.01a1.08 1.08 0 1 0 2.15 0a1.08 1.08 0 1 0 -2.15 0M189.65 196.44a0.77 0.77 0 1 0 1.54 0a0.77 0.77 0 1 0 -1.54 0M199.94 192.64a0.89 0.89 0 1 0 1.77 0a0.89 0.89 0 1 0 -1.77 0M220.29 188.45a0.86 0.86 0 1 0 1.72 0a0.86 0.86 0 1 0 -1.72 0M228.98 184.3a1.02 1.02 0 1 0 2.03 0a1.02 1.02 0 1 0 -2.03 0M173.98 202.22a1.01 1.01 0 1 0 2.01 0a1.01 1.01 0 1 0 -2.01 0M217.41 186.71a0.72 0.72 0 1 0 1.44 0a0.72 0.72 0 1 0 -1.44 0M220.25 184.08a0.96 0.96 0 1 0 1.93 0a0.96 0.96 0 1 0 -1.93 0M128.09 218.33a0.98 0.98 0 1 0 1.96 0a0.98 0.98 0 1 0 -1.96 0M201.36 192.47a1.04 1.04 0 1 0 2.07 0a1.04 1.04 0 1 0 -2.07 0M147.82 212.2a0.72 0.72 0 1 0 1.45 0a0.72 0.72 0 1 0 -1.45 0M240.58 182.67a0.75 0.75 0 1 0 1.51 0a0.75 0.75 0 1 0 -1.51 0M164.52 205.7a0.85 0.85 0 1 0 1.7 0a0.85 0.85 0 1 0 -1.7 0M191.8 196.43a0.99 0.99 0 1 0 1.98 0a0.99 0.99 0 1 0 -1.98 0M188.67 196.74a1.09 1.09 0 1 0 2.19 0a1.09 1.09 0 1 0 -2.19 0M211.75 187.26a0.74 0.74 0 1 0 1.48 0a0.74 0.74 0 1 0 -1.48 0M199.21 194.19a1.08 1.08 0 1 0 2.17 0a1.08 1.08 0 1 0 -2.17 0M139.78 211.6a0.93 0.93 0 1 0 1.86 0a0.93 0.93 0 1 0 -1.86 0M177.07 203.14a0.82 0.82 0 1 0 1.65 0a0.82 0.82 0 1 0 -1.65 0M194.07 194.4a1.09 1.09 0 1 0 2.17 0a1.09 1.09 0 1 0 -2.17 0M129.24 217.65a0.8 0.8 0 1 0 1.59 0a0.8 0.8 0 1 0 -1.59 0M180.1 199.56a0.69 0.69 0 1 0 1.38 0a0.69 0.69 0 1 0 -1.38 0M229.15 181.88a0.81 0.81 0 1 0 1.61 0a0.81 0.81 0 1 0 -1.61 0M134.94 216.11a0.62 0.62 0 1 0 1.24 0a0.62 0.62 0 1 0 -1.24 0M155.25 208.66a0.84 0.84 0 1 0 1.67 0a0.84 0.84 0 1 0 -1.67 0M187.13 195.21a1.03 1.03 0 1 0 2.05 0a1.03 1.03 0 1 0 -2.05 0M181 200.85a0.9 0.9 0 1 0 1.8 0a0.9 0.9 0 1 0 -1.8 0M194.84 196.11a0.97 0.97 0 1 0 1.93 0a0.97 0.97 0 1 0 -1.93 0M212.55 191.92a0.77 0.77 0 1 0 1.53 0a0.77 0.77 0 1 0 -1.53 0M176.79 203.92a0.7 0.7 0 1 0 1.39 0a0.7 0.7 0 1 0 -1.39 0M150.57 210.46a0.72 0.72 0 1 0 1.44 0a0.72 0.72 0 1 0 -1.44 0M136.16 213.3a0.86 0.86 0 1 0 1.73 0a0.86 0.86 0 1 0 -1.73 0M110.98 220.68a0.66 0.66 0 1 0 1.33 0a0.66 0.66 0 1 0 -1.33 0M105.11 226.36a0.61 0.61 0 1 0 1.22 0a0.61 0.61 0 1 0 -1.22 0M126.25 216.78a0.89 0.89 0 1 0 1.77 0a0.89 0.89 0 1 0 -1.77 0M177.32 201.42a0.84 0.84 0 1 0 1.67 0a0.84 0.84 0 1 0 -1.67 0M103.86 225.03a0.88 0.88 0 1 0 1.77 0a0.88 0.88 0 1 0 -1.77 0M122.18 219.55a0.91 0.91 0 1 0 1.82 0a0.91 0.91 0 1 0 -1.82 0M108.98 225.33a0.61 0.61 0 1 0 1.21 0a0.61 0.61 0 1 0 -1.21 0M169.21 204.33a0.95 0.95 0 1 0 1.9 0a0.95 0.95 0 1 0 -1.9 0M193.46 193.73a1.07 1.07 0 1 0 2.13 0a1.07 1.07 0 1 0 -2.13 0M236.15 181.34a0.7 0.7 0 1 0 1.4 0a0.7 0.7 0 1 0 -1.4 0M149.8 212.62a0.81 0.81 0 1 0 1.61 0a0.81 0.81 0 1 0 -1.61 0M173.04 202.3a0.79 0.79 0 1 0 1.58 0a0.79 0.79 0 1 0 -1.58 0M206.66 192.96a0.95 0.95 0 1 0 1.89 0a0.95 0.95 0 1 0 -1.89 0M239.56 181.48a0.81 0.81 0 1 0 1.62 0a0.81 0.81 0 1 0 -1.62 0M178.53 200.18a0.83 0.83 0 1 0 1.65 0a0.83 0.83 0 1 0 -1.65 0M177.23 198.69a0.92 0.92 0 1 0 1.84 0a0.92 0.92 0 1 0 -1.84 0M125.27 218.89a0.61 0.61 0 1 0 1.21 0a0.61 0.61 0 1 0 -1.21 0M175.4 199.09a0.69 0.69 0 1 0 1.38 0a0.69 0.69 0 1 0 -1.38 0M176.86 200.62a0.61 0.61 0 1 0 1.22 0a0.61 0.61 0 1 0 -1.22 0M141.55 210.52a0.86 0.86 0 1 0 1.73 0a0.86 0.86 0 1 0 -1.73 0M227.85 185.58a0.84 0.84 0 1 0 1.67 0a0.84 0.84 0 1 0 -1.67 0M225.1 187.68a0.75 0.75 0 1 0 1.5 0a0.75 0.75 0 1 0 -1.5 0M158.09 208.11a0.62 0.62 0 1 0 1.23 0a0.62 0.62 0 1 0 -1.23 0M128 218.64a0.69 0.69 0 1 0 1.38 0a0.69 0.69 0 1 0 -1.38 0M196.63 197.12a1.03 1.03 0 1 0 2.06 0a1.03 1.03 0 1 0 -2.06 0M208.74 189.37a1.01 1.01 0 1 0 2.01 0a1.01 1.01 0 1 0 -2.01 0M118.57 222.36a1.01 1.01 0 1 0 2.01 0a1.01 1.01 0 1 0 -2.01 0M187.6 196.81a0.9 0.9 0 1 0 1.79 0a0.9 0.9 0 1 0 -1.79 0M105.78 222.71a0.95 0.95 0 1 0 1.89 0a0.95 0.95 0 1 0 -1.89 0M152.51 210.19a1.03 1.03 0 1 0 2.07 0a1.03 1.03 0 1 0 -2.07 0M135.04 213.09a0.71 0.71 0 1 0 1.42 0a0.71 0.71 0 1 0 -1.42 0M214.21 188.65a1.03 1.03 0 1 0 2.07 0a1.03 1.03 0 1 0 -2.07 0M124.2 219.68a1.05 1.05 0 1 0 2.1 0a1.05 1.05 0 1 0 -2.1 0M150.02 208.24a1.08 1.08 0 1 0 2.16 0a1.08 1.08 0 1 0 -2.16 0M190.47 198.05a0.86 0.86 0 1 0 1.72 0a0.86 0.86 0 1 0 -1.72 0M195.4 196.44a0.85 0.85 0 1 0 1.7 0a0.85 0.85 0 1 0 -1.7 0M224.62 183.72a0.71 0.71 0 1 0 1.42 0a0.71 0.71 0 1 0 -1.42 0M149.14 212.36a0.8 0.8 0 1 0 1.61 0a0.8 0.8 0 1 0 -1.61 0M116.95 222.23a1.05 1.05 0 1 0 2.11 0a1.05 1.05 0 1 0 -2.11 0M141.26 213.04a0.77 0.77 0 1 0 1.53 0a0.77 0.77 0 1 0 -1.53 0M210.56 193a0.83 0.83 0 1 0 1.66 0a0.83 0.83 0 1 0 -1.66 0M197.4 196.75a1.04 1.04 0 1 0 2.08 0a1.04 1.04 0 1 0 -2.08 0M114.34 221.51a1 1 0 1 0 2 0a1 1 0 1 0 -2 0M154.47 209.89a0.65 0.65 0 1 0 1.29 0a0.65 0.65 0 1 0 -1.29 0M243.6 180.99a0.61 0.61 0 1 0 1.23 0a0.61 0.61 0 1 0 -1.23 0M128.3 216.22a0.81 0.81 0 1 0 1.62 0a0.81 0.81 0 1 0 -1.62 0M180.49 200.99a0.97 0.97 0 1 0 1.95 0a0.97 0.97 0 1 0 -1.95 0M228.9 184.58a1.03 1.03 0 1 0 2.07 0a1.03 1.03 0 1 0 -2.07 0M209.74 189.21a0.96 0.96 0 1 0 1.92 0a0.96 0.96 0 1 0 -1.92 0M244.92 177.34a0.84 0.84 0 1 0 1.68 0a0.84 0.84 0 1 0 -1.68 0M247.26 178.02a0.63 0.63 0 1 0 1.26 0a0.63 0.63 0 1 0 -1.26 0M185.66 200.06a1.09 1.09 0 1 0 2.18 0a1.09 1.09 0 1 0 -2.18 0M173.67 201.76a0.99 0.99 0 1 0 1.99 0a0.99 0.99 0 1 0 -1.99 0M105.49 226.45a0.8 0.8 0 1 0 1.61 0a0.8 0.8 0 1 0 -1.61 0M211.65 188.74a0.71 0.71 0 1 0 1.41 0a0.71 0.71 0 1 0 -1.41 0M246.61 179.18a1.03 1.03 0 1 0 2.07 0a1.03 1.03 0 1 0 -2.07 0M166.07 205.35a0.9 0.9 0 1 0 1.81 0a0.9 0.9 0 1 0 -1.81 0M119.14 221.86a0.7 0.7 0 1 0 1.4 0a0.7 0.7 0 1 0 -1.4 0M194.7 197.3a0.79 0.79 0 1 0 1.58 0a0.79 0.79 0 1 0 -1.58 0M220.9 188.25a0.97 0.97 0 1 0 1.93 0a0.97 0.97 0 1 0 -1.93 0M169.82 205.32a0.68 0.68 0 1 0 1.35 0a0.68 0.68 0 1 0 -1.35 0M212.37 191.74a1.07 1.07 0 1 0 2.14 0a1.07 1.07 0 1 0 -2.14 0M183.41 201.69a0.78 0.78 0 1 0 1.56 0a0.78 0.78 0 1 0 -1.56 0M234.04 181.97a0.65 0.65 0 1 0 1.31 0a0.65 0.65 0 1 0 -1.31 0M211.74 190.79a0.68 0.68 0 1 0 1.37 0a0.68 0.68 0 1 0 -1.37 0M131.07 215.09a0.82 0.82 0 1 0 1.64 0a0.82 0.82 0 1 0 -1.64 0M228.86 182.02a1.04 1.04 0 1 0 2.07 0a1.04 1.04 0 1 0 -2.07 0M124 219.53a0.73 0.73 0 1 0 1.47 0a0.73 0.73 0 1 0 -1.47 0M156.71 210a0.92 0.92 0 1 0 1.84 0a0.92 0.92 0 1 0 -1.84 0M234.04 185.14a0.78 0.78 0 1 0 1.56 0a0.78 0.78 0 1 0 -1.56 0M204.6 191.88a0.67 0.67 0 1 0 1.34 0a0.67 0.67 0 1 0 -1.34 0M245.08 179.15a1.09 1.09 0 1 0 2.17 0a1.09 1.09 0 1 0 -2.17 0M129.92 215.37a0.7 0.7 0 1 0 1.41 0a0.7 0.7 0 1 0 -1.41 0M161.85 206.9a0.65 0.65 0 1 0 1.3 0a0.65 0.65 0 1 0 -1.3 0M246.07 177.1a0.92 0.92 0 1 0 1.84 0a0.92 0.92 0 1 0 -1.84 0M212.42 192.09a0.64 0.64 0 1 0 1.27 0a0.64 0.64 0 1 0 -1.27 0M210.55 189.1a0.94 0.94 0 1 0 1.88 0a0.94 0.94 0 1 0 -1.88 0M144.76 211.84a0.88 0.88 0 1 0 1.75 0a0.88 0.88 0 1 0 -1.75 0M186.67 195.95a0.6 0.6 0 1 0 1.2 0a0.6 0.6 0 1 0 -1.2 0M161.77 204.81a0.82 0.82 0 1 0 1.64 0a0.82 0.82 0 1 0 -1.64 0M190.62 194.76a0.7 0.7 0 1 0 1.4 0a0.7 0.7 0 1 0 -1.4 0M212.36 188.67a0.96 0.96 0 1 0 1.93 0a0.96 0.96 0 1 0 -1.93 0M207.51 192.38a0.62 0.62 0 1 0 1.24 0a0.62 0.62 0 1 0 -1.24 0M153.16 209.07a0.87 0.87 0 1 0 1.73 0a0.87 0.87 0 1 0 -1.73 0M108.7 222.15a0.76 0.76 0 1 0 1.52 0a0.76 0.76 0 1 0 -1.52 0M199.33 192.39a0.72 0.72 0 1 0 1.45 0a0.72 0.72 0 1 0 -1.45 0M104.39 223.32a1.05 1.05 0 1 0 2.1 0a1.05 1.05 0 1 0 -2.1 0M213.45 187.52a0.66 0.66 0 1 0 1.32 0a0.66 0.66 0 1 0 -1.32 0M169.66 201a1.07 1.07 0 1 0 2.15 0a1.07 1.07 0 1 0 -2.15 0M218.77 184.69a1.04 1.04 0 1 0 2.08 0a1.04 1.04 0 1 0 -2.08 0M111.28 225.07a1.03 1.03 0 1 0 2.07 0a1.03 1.03 0 1 0 -2.07 0M107.81 221.86a0.93 0.93 0 1 0 1.86 0a0.93 0.93 0 1 0 -1.86 0M193.7 197.35a0.66 0.66 0 1 0 1.32 0a0.66 0.66 0 1 0 -1.32 0M219.79 188.02a0.74 0.74 0 1 0 1.49 0a0.74 0.74 0 1 0 -1.49 0M156.77 208.82a0.82 0.82 0 1 0 1.65 0a0.82 0.82 0 1 0 -1.65 0M128.74 219.69a0.66 0.66 0 1 0 1.31 0a0.66 0.66 0 1 0 -1.31 0M149.04 208.1a0.75 0.75 0 1 0 1.5 0a0.75 0.75 0 1 0 -1.5 0M244.33 178.22a1.05 1.05 0 1 0 2.1 0a1.05 1.05 0 1 0 -2.1 0M211.6 192.37a1 1 0 1 0 1.99 0a1 1 0 1 0 -1.99 0M181.33 199.22a1.02 1.02 0 1 0 2.04 0a1.02 1.02 0 1 0 -2.04 0M159.51 207.16a1.09 1.09 0 1 0 2.19 0a1.09 1.09 0 1 0 -2.19 0M104.35 224.77a0.63 0.63 0 1 0 1.26 0a0.63 0.63 0 1 0 -1.26 0M201.91 195.86a0.78 0.78 0 1 0 1.57 0a0.78 0.78 0 1 0 -1.57 0M238.4 182.55a0.86 0.86 0 1 0 1.72 0a0.86 0.86 0 1 0 -1.72 0M117.11 222.8a0.73 0.73 0 1 0 1.46 0a0.73 0.73 0 1 0 -1.46 0" fill="#f50a0a" clip-path="url(#damb)"/>
<path d="M248.13 195.41a0.75 0.75 0 1 0 1.51 0a0.75 0.75 0 1 0 -1.51 0M268.8 176.19a0.82 0.82 0 1 0 1.63 0a0.82 0.82 0 1 0 -1.63 0M270.83 177a0.5 0.5 0 1 0 1 0a0.5 0.5 0 1 0 -1 0M261.96 191.17a0.53 0.53 0 1 0 1.06 0a0.53 0.53 0 1 0 -1.06 0M289.79 176.84a0.59 0.59 0 1 0 1.19 0a0.59 0.59 0 1 0 -1.19 0M278.02 168.8a0.63 0.63 0 1 0 1.26 0a0.63 0.63 0 1 0 -1.26 0M269.96 172.12a0.88 0.88 0 1 0 1.76 0a0.88 0.88 0 1 0 -1.76 0M261.49 173.7a0.83 0.83 0 1 0 1.65 0a0.83 0.83 0 1 0 -1.65 0M267.27 189.82a0.64 0.64 0 1 0 1.27 0a0.64 0.64 0 1 0 -1.27 0M269.48 175a0.51 0.51 0 1 0 1.03 0a0.51 0.51 0 1 0 -1.03 0M294.34 176.95a0.81 0.81 0 1 0 1.62 0a0.81 0.81 0 1 0 -1.62 0M250.91 206.73a0.86 0.86 0 1 0 1.72 0a0.86 0.86 0 1 0 -1.72 0M245.25 186.75a0.83 0.83 0 1 0 1.66 0a0.83 0.83 0 1 0 -1.66 0M250.42 204.88a0.86 0.86 0 1 0 1.71 0a0.86 0.86 0 1 0 -1.71 0M264.35 182.24a0.68 0.68 0 1 0 1.36 0a0.68 0.68 0 1 0 -1.36 0M269.64 189.76a0.8 0.8 0 1 0 1.6 0a0.8 0.8 0 1 0 -1.6 0M251.93 192.13a0.72 0.72 0 1 0 1.45 0a0.72 0.72 0 1 0 -1.45 0M278.53 174.75a0.57 0.57 0 1 0 1.14 0a0.57 0.57 0 1 0 -1.14 0M260.25 191.66a0.62 0.62 0 1 0 1.25 0a0.62 0.62 0 1 0 -1.25 0M261.97 195.15a0.77 0.77 0 1 0 1.54 0a0.77 0.77 0 1 0 -1.54 0M261.94 177.45a0.85 0.85 0 1 0 1.7 0a0.85 0.85 0 1 0 -1.7 0M240.83 177.89a0.62 0.62 0 1 0 1.23 0a0.62 0.62 0 1 0 -1.23 0M265.16 174.34a0.53 0.53 0 1 0 1.06 0a0.53 0.53 0 1 0 -1.06 0M259.42 203.91a0.89 0.89 0 1 0 1.79 0a0.89 0.89 0 1 0 -1.79 0M286.63 186.86a0.6 0.6 0 1 0 1.2 0a0.6 0.6 0 1 0 -1.2 0M285.5 168.57a0.58 0.58 0 1 0 1.17 0a0.58 0.58 0 1 0 -1.17 0M265.28 191a0.84 0.84 0 1 0 1.68 0a0.84 0.84 0 1 0 -1.68 0M257.72 189.1a0.61 0.61 0 1 0 1.22 0a0.61 0.61 0 1 0 -1.22 0M287.93 167.84a0.77 0.77 0 1 0 1.55 0a0.77 0.77 0 1 0 -1.55 0M300.22 168.37a0.74 0.74 0 1 0 1.47 0a0.74 0.74 0 1 0 -1.47 0M275.9 177.86a0.66 0.66 0 1 0 1.32 0a0.66 0.66 0 1 0 -1.32 0M266.65 173.13a0.85 0.85 0 1 0 1.69 0a0.85 0.85 0 1 0 -1.69 0M280.54 172.55a0.72 0.72 0 1 0 1.43 0a0.72 0.72 0 1 0 -1.43 0M258.81 187.46a0.59 0.59 0 1 0 1.18 0a0.59 0.59 0 1 0 -1.18 0M248.31 174.88a0.65 0.65 0 1 0 1.3 0a0.65 0.65 0 1 0 -1.3 0M284.34 189.74a0.52 0.52 0 1 0 1.04 0a0.52 0.52 0 1 0 -1.04 0M248.97 196.29a0.6 0.6 0 1 0 1.2 0a0.6 0.6 0 1 0 -1.2 0M283.47 180.15a0.52 0.52 0 1 0 1.03 0a0.52 0.52 0 1 0 -1.03 0M262.81 179.98a0.86 0.86 0 1 0 1.72 0a0.86 0.86 0 1 0 -1.72 0M256.75 187.84a0.72 0.72 0 1 0 1.44 0a0.72 0.72 0 1 0 -1.44 0M299.84 171.42a0.74 0.74 0 1 0 1.48 0a0.74 0.74 0 1 0 -1.48 0M270.66 197.23a0.89 0.89 0 1 0 1.77 0a0.89 0.89 0 1 0 -1.77 0M257.76 195.8a0.71 0.71 0 1 0 1.42 0a0.71 0.71 0 1 0 -1.42 0M274.18 170.01a0.83 0.83 0 1 0 1.65 0a0.83 0.83 0 1 0 -1.65 0M287.41 185.6a0.75 0.75 0 1 0 1.5 0a0.75 0.75 0 1 0 -1.5 0M266.56 188.42a0.66 0.66 0 1 0 1.31 0a0.66 0.66 0 1 0 -1.31 0M263.98 176.57a0.52 0.52 0 1 0 1.04 0a0.52 0.52 0 1 0 -1.04 0M265.86 177.45a0.78 0.78 0 1 0 1.56 0a0.78 0.78 0 1 0 -1.56 0M267.44 177.01a0.65 0.65 0 1 0 1.31 0a0.65 0.65 0 1 0 -1.31 0M269.24 193.06a0.89 0.89 0 1 0 1.77 0a0.89 0.89 0 1 0 -1.77 0M242.94 186.89a0.7 0.7 0 1 0 1.39 0a0.7 0.7 0 1 0 -1.39 0M282.21 177.37a0.87 0.87 0 1 0 1.73 0a0.87 0.87 0 1 0 -1.73 0M262.64 192.36a0.83 0.83 0 1 0 1.66 0a0.83 0.83 0 1 0 -1.66 0M258.02 183.3a0.56 0.56 0 1 0 1.12 0a0.56 0.56 0 1 0 -1.12 0M273.89 170.65a0.62 0.62 0 1 0 1.24 0a0.62 0.62 0 1 0 -1.24 0M267.63 171.81a0.88 0.88 0 1 0 1.76 0a0.88 0.88 0 1 0 -1.76 0M283.83 175.77a0.63 0.63 0 1 0 1.27 0a0.63 0.63 0 1 0 -1.27 0M254.59 206.02a0.63 0.63 0 1 0 1.26 0a0.63 0.63 0 1 0 -1.26 0M254.22 201.73a0.56 0.56 0 1 0 1.12 0a0.56 0.56 0 1 0 -1.12 0M282.22 175.53a0.74 0.74 0 1 0 1.48 0a0.74 0.74 0 1 0 -1.48 0M255.43 182.8a0.88 0.88 0 1 0 1.75 0a0.88 0.88 0 1 0 -1.75 0M268.07 185.15a0.75 0.75 0 1 0 1.49 0a0.75 0.75 0 1 0 -1.49 0M255.87 174.49a0.65 0.65 0 1 0 1.31 0a0.65 0.65 0 1 0 -1.31 0M255.09 175.07a0.88 0.88 0 1 0 1.77 0a0.88 0.88 0 1 0 -1.77 0M283.72 177.17a0.5 0.5 0 1 0 1.01 0a0.5 0.5 0 1 0 -1.01 0M273.31 171.26a0.62 0.62 0 1 0 1.25 0a0.62 0.62 0 1 0 -1.25 0M261.61 172.9a0.82 0.82 0 1 0 1.63 0a0.82 0.82 0 1 0 -1.63 0M264.01 189.82a0.59 0.59 0 1 0 1.18 0a0.59 0.59 0 1 0 -1.18 0M278.12 186.54a0.82 0.82 0 1 0 1.64 0a0.82 0.82 0 1 0 -1.64 0M259.67 178.37a0.64 0.64 0 1 0 1.28 0a0.64 0.64 0 1 0 -1.28 0M256.81 192.87a0.86 0.86 0 1 0 1.71 0a0.86 0.86 0 1 0 -1.71 0M271.2 194.93a0.58 0.58 0 1 0 1.15 0a0.58 0.58 0 1 0 -1.15 0M264.16 195.46a0.79 0.79 0 1 0 1.58 0a0.79 0.79 0 1 0 -1.58 0M271.79 170.6a0.83 0.83 0 1 0 1.66 0a0.83 0.83 0 1 0 -1.66 0M260.5 189.03a0.75 0.75 0 1 0 1.5 0a0.75 0.75 0 1 0 -1.5 0M248.79 196.22a0.7 0.7 0 1 0 1.4 0a0.7 0.7 0 1 0 -1.4 0M247.87 201.95a0.82 0.82 0 1 0 1.65 0a0.82 0.82 0 1 0 -1.65 0M251.48 198.98a0.86 0.86 0 1 0 1.72 0a0.86 0.86 0 1 0 -1.72 0M289.75 167.88a0.64 0.64 0 1 0 1.28 0a0.64 0.64 0 1 0 -1.28 0M277.69 192.06a0.8 0.8 0 1 0 1.6 0a0.8 0.8 0 1 0 -1.6 0M279.82 173.97a0.87 0.87 0 1 0 1.74 0a0.87 0.87 0 1 0 -1.74 0M261.25 170.78a0.66 0.66 0 1 0 1.32 0a0.66 0.66 0 1 0 -1.32 0M248.94 189.33a0.83 0.83 0 1 0 1.65 0a0.83 0.83 0 1 0 -1.65 0M261.4 172.74a0.51 0.51 0 1 0 1.02 0a0.51 0.51 0 1 0 -1.02 0M265.4 190.97a0.51 0.51 0 1 0 1.02 0a0.51 0.51 0 1 0 -1.02 0M281.38 175.98a0.54 0.54 0 1 0 1.09 0a0.54 0.54 0 1 0 -1.09 0M245.44 177.16a0.67 0.67 0 1 0 1.34 0a0.67 0.67 0 1 0 -1.34 0M254.04 184.87a0.65 0.65 0 1 0 1.3 0a0.65 0.65 0 1 0 -1.3 0M269.6 178.19a0.72 0.72 0 1 0 1.43 0a0.72 0.72 0 1 0 -1.43 0M267.45 168.86a0.83 0.83 0 1 0 1.66 0a0.83 0.83 0 1 0 -1.66 0M281.12 191.02a0.73 0.73 0 1 0 1.46 0a0.73 0.73 0 1 0 -1.46 0M252.17 197.21a0.82 0.82 0 1 0 1.65 0a0.82 0.82 0 1 0 -1.65 0M269.22 169.65a0.65 0.65 0 1 0 1.3 0a0.65 0.65 0 1 0 -1.3 0M267.71 183.22a0.75 0.75 0 1 0 1.5 0a0.75 0.75 0 1 0 -1.5 0M261.93 177.58a0.81 0.81 0 1 0 1.63 0a0.81 0.81 0 1 0 -1.63 0M250.26 201.82a0.86 0.86 0 1 0 1.71 0a0.86 0.86 0 1 0 -1.71 0M242.34 179.92a0.75 0.75 0 1 0 1.51 0a0.75 0.75 0 1 0 -1.51 0M247.04 201.15a0.61 0.61 0 1 0 1.21 0a0.61 0.61 0 1 0 -1.21 0M282.45 179.42a0.59 0.59 0 1 0 1.17 0a0.59 0.59 0 1 0 -1.17 0M250.87 187.61a0.79 0.79 0 1 0 1.57 0a0.79 0.79 0 1 0 -1.57 0M251.74 195.27a0.63 0.63 0 1 0 1.27 0a0.63 0.63 0 1 0 -1.27 0M280.27 182.36a0.58 0.58 0 1 0 1.15 0a0.58 0.58 0 1 0 -1.15 0M283.41 184.21a0.55 0.55 0 1 0 1.1 0a0.55 0.55 0 1 0 -1.1 0M276.55 185.43a0.7 0.7 0 1 0 1.4 0a0.7 0.7 0 1 0 -1.4 0M279.34 193.22a0.65 0.65 0 1 0 1.29 0a0.65 0.65 0 1 0 -1.29 0M260.11 198.06a0.75 0.75 0 1 0 1.51 0a0.75 0.75 0 1 0 -1.51 0M267.57 188.27a0.59 0.59 0 1 0 1.18 0a0.59 0.59 0 1 0 -1.18 0M289.34 168.23a0.76 0.76 0 1 0 1.51 0a0.76 0.76 0 1 0 -1.51 0M267.29 176.4a0.73 0.73 0 1 0 1.47 0a0.73 0.73 0 1 0 -1.47 0M275.78 170.94a0.7 0.7 0 1 0 1.39 0a0.7 0.7 0 1 0 -1.39 0M248.26 199.85a0.63 0.63 0 1 0 1.26 0a0.63 0.63 0 1 0 -1.26 0M259.15 176.16a0.52 0.52 0 1 0 1.04 0a0.52 0.52 0 1 0 -1.04 0M272.61 172.11a0.66 0.66 0 1 0 1.32 0a0.66 0.66 0 1 0 -1.32 0M287.44 175.66a0.78 0.78 0 1 0 1.56 0a0.78 0.78 0 1 0 -1.56 0M272.96 170.87a0.6 0.6 0 1 0 1.19 0a0.6 0.6 0 1 0 -1.19 0M276.98 171.33a0.58 0.58 0 1 0 1.16 0a0.58 0.58 0 1 0 -1.16 0M271.84 194.35a0.5 0.5 0 1 0 1.01 0a0.5 0.5 0 1 0 -1.01 0M257.11 180.33a0.87 0.87 0 1 0 1.73 0a0.87 0.87 0 1 0 -1.73 0M261.08 199.27a0.51 0.51 0 1 0 1.03 0a0.51 0.51 0 1 0 -1.03 0M249.49 205.01a0.53 0.53 0 1 0 1.06 0a0.53 0.53 0 1 0 -1.06 0" fill="#f50a0a" clip-path="url(#damb)"/>
<path d="M153.34 232.96a0.58 0.58 0 1 0 1.16 0a0.58 0.58 0 1 0 -1.16 0M229.49 219.03a0.85 0.85 0 1 0 1.69 0a0.85 0.85 0 1 0 -1.69 0M196.92 231.95a0.8 0.8 0 1 0 1.59 0a0.8 0.8 0 1 0 -1.59 0M254.04 210.13a0.8 0.8 0 1 0 1.61 0a0.8 0.8 0 1 0 -1.61 0M239.84 211.94a0.63 0.63 0 1 0 1.26 0a0.63 0.63 0 1 0 -1.26 0M177.21 230.34a0.87 0.87 0 1 0 1.74 0a0.87 0.87 0 1 0 -1.74 0M170.89 230.37a0.53 0.53 0 1 0 1.06 0a0.53 0.53 0 1 0 -1.06 0M164.03 226.57a0.87 0.87 0 1 0 1.74 0a0.87 0.87 0 1 0 -1.74 0M191.93 224.76a0.89 0.89 0 1 0 1.78 0a0.89 0.89 0 1 0 -1.78 0M213.7 224.22a0.66 0.66 0 1 0 1.31 0a0.66 0.66 0 1 0 -1.31 0M233.43 218.09a0.69 0.69 0 1 0 1.38 0a0.69 0.69 0 1 0 -1.38 0M238.37 214.26a0.57 0.57 0 1 0 1.15 0a0.57 0.57 0 1 0 -1.15 0M243.87 214.22a0.65 0.65 0 1 0 1.3 0a0.65 0.65 0 1 0 -1.3 0M173.21 230.68a0.82 0.82 0 1 0 1.64 0a0.82 0.82 0 1 0 -1.64 0M228.8 215.96a0.79 0.79 0 1 0 1.58 0a0.79 0.79 0 1 0 -1.58 0M198.79 230.48a0.59 0.59 0 1 0 1.17 0a0.59 0.59 0 1 0 -1.17 0M135.85 228.61a0.52 0.52 0 1 0 1.04 0a0.52 0.52 0 1 0 -1.04 0M194.43 225.6a0.6 0.6 0 1 0 1.2 0a0.6 0.6 0 1 0 -1.2 0M238.51 216.53a0.58 0.58 0 1 0 1.15 0a0.58 0.58 0 1 0 -1.15 0M243.3 213.8a0.75 0.75 0 1 0 1.5 0a0.75 0.75 0 1 0 -1.5 0M157.31 232.52a0.73 0.73 0 1 0 1.45 0a0.73 0.73 0 1 0 -1.45 0M151.93 228.43a0.79 0.79 0 1 0 1.59 0a0.79 0.79 0 1 0 -1.59 0M212 222.22a0.87 0.87 0 1 0 1.75 0a0.87 0.87 0 1 0 -1.75 0M243.41 215.55a0.81 0.81 0 1 0 1.63 0a0.81 0.81 0 1 0 -1.63 0M144.08 228.71a0.85 0.85 0 1 0 1.71 0a0.85 0.85 0 1 0 -1.71 0M196.92 223.27a0.78 0.78 0 1 0 1.57 0a0.78 0.78 0 1 0 -1.57 0M188.14 229.74a0.57 0.57 0 1 0 1.13 0a0.57 0.57 0 1 0 -1.13 0M240.2 211.56a0.74 0.74 0 1 0 1.49 0a0.74 0.74 0 1 0 -1.49 0M246.1 209.9a0.69 0.69 0 1 0 1.39 0a0.69 0.69 0 1 0 -1.39 0M192.93 231.99a0.69 0.69 0 1 0 1.39 0a0.69 0.69 0 1 0 -1.39 0M239.74 216.75a0.54 0.54 0 1 0 1.08 0a0.54 0.54 0 1 0 -1.08 0M208.28 227.16a0.88 0.88 0 1 0 1.77 0a0.88 0.88 0 1 0 -1.77 0M184.54 232.35a0.6 0.6 0 1 0 1.2 0a0.6 0.6 0 1 0 -1.2 0M199.79 227.12a0.5 0.5 0 1 0 1 0a0.5 0.5 0 1 0 -1 0M198.53 223.44a0.79 0.79 0 1 0 1.59 0a0.79 0.79 0 1 0 -1.59 0M195.23 226.68a0.74 0.74 0 1 0 1.48 0a0.74 0.74 0 1 0 -1.48 0M223.63 221.04a0.61 0.61 0 1 0 1.22 0a0.61 0.61 0 1 0 -1.22 0M249.04 212.66a0.71 0.71 0 1 0 1.43 0a0.71 0.71 0 1 0 -1.43 0M197.73 230.03a0.61 0.61 0 1 0 1.23 0a0.61 0.61 0 1 0 -1.23 0M168.13 232.71a0.83 0.83 0 1 0 1.66 0a0.83 0.83 0 1 0 -1.66 0M151.6 230.16a0.73 0.73 0 1 0 1.46 0a0.73 0.73 0 1 0 -1.46 0M213.35 225.76a0.64 0.64 0 1 0 1.28 0a0.64 0.64 0 1 0 -1.28 0M173.17 232.45a0.77 0.77 0 1 0 1.54 0a0.77 0.77 0 1 0 -1.54 0M135.54 230.17a0.89 0.89 0 1 0 1.78 0a0.89 0.89 0 1 0 -1.78 0M178.95 231.68a0.55 0.55 0 1 0 1.1 0a0.55 0.55 0 1 0 -1.1 0M189.72 232.82a0.75 0.75 0 1 0 1.51 0a0.75 0.75 0 1 0 -1.51 0M206.19 224.11a0.77 0.77 0 1 0 1.54 0a0.77 0.77 0 1 0 -1.54 0M141.88 230.06a0.81 0.81 0 1 0 1.61 0a0.81 0.81 0 1 0 -1.61 0M246.41 213.77a0.59 0.59 0 1 0 1.18 0a0.59 0.59 0 1 0 -1.18 0M192.51 231.97a0.77 0.77 0 1 0 1.54 0a0.77 0.77 0 1 0 -1.54 0" fill="#f50a0a" clip-path="url(#damb)"/>
<path d="M197.15 231.98a0.51 0.51 0 1 0 1.03 0a0.51 0.51 0 1 0 -1.03 0M192.13 237.23a0.64 0.64 0 1 0 1.28 0a0.64 0.64 0 1 0 -1.28 0M193.9 237.52a0.91 0.91 0 1 0 1.82 0a0.91 0.91 0 1 0 -1.82 0M194.1 233.17a0.61 0.61 0 1 0 1.23 0a0.61 0.61 0 1 0 -1.23 0M195.74 235.08a1.06 1.06 0 1 0 2.13 0a1.06 1.06 0 1 0 -2.13 0M193.66 235.89a0.87 0.87 0 1 0 1.73 0a0.87 0.87 0 1 0 -1.73 0" fill="#f50a0a" clip-path="url(#damb)"/>
<polygon points="366,190.39 444,215.78 444,218.68 366,191.19" fill="#f50a0a" fill-opacity="0.95" clip-path="url(#damb)"/>
<line x1="284.1" y1="167.42" x2="284.1" y2="244.7" stroke="#4a78e6" stroke-width="1.2"/>
<polyline points="448.57,244.7 483.41,232.62 488.89,231.98 495.02,232.08" fill="none" stroke="#4a78e6" stroke-width="1"/>
<polygon points="39,244.7 271.2,167.42 297,167.42 534.36,244.7" fill="none" stroke="#4a78e6" stroke-width="1.3"/>
<line x1="31" y1="244.7" x2="545" y2="244.7" stroke="#5a7ae6" stroke-width="1.3"/>
<line x1="31" y1="173.86" x2="245" y2="173.86" stroke="#3355ee" stroke-width="1.3" stroke-dasharray="2 1.36"/>
<line x1="31" y1="202.84" x2="164.78" y2="202.84" stroke="#8a92d6" stroke-width="1.3"/>
<line x1="504.69" y1="235.04" x2="545" y2="235.04" stroke="#4646a8" stroke-width="1.0"/>
<path d="M182.5 168.3H187.5L185 171.5Z" fill="none" stroke="#2a40ee" stroke-width="1.25" stroke-linejoin="miter"/>
<text x="191.4" y="169" fill="#2a40ee"><tspan font-family='"Liberation Serif", "DejaVu Serif", serif' font-size="11" fill="#3a4ae6">NRL </tspan><tspan font-family='"Liberation Sans", "DejaVu Sans", sans-serif' font-size="10.2" stroke="#2a40ee" stroke-width="0.25">22.0</tspan></text>
<path d="M86.8 198.2H91.8L89.3 201.4Z" fill="none" stroke="#2a40ee" stroke-width="1.25" stroke-linejoin="miter"/>
<text x="87.1" y="194.6" fill="#2a40ee"><tspan font-family='"Liberation Serif", "DejaVu Serif", serif' font-size="11" fill="#3a4ae6">RDL </tspan><tspan font-family='"Liberation Sans", "DejaVu Sans", sans-serif' font-size="10.2" stroke="#2a40ee" stroke-width="0.25">13.0</tspan></text>
<path d="M306.5 162.8H311.5L309 166Z" fill="none" stroke="#2a40ee" stroke-width="1.25" stroke-linejoin="miter"/><line x1="303.6" y1="167.3" x2="314.5" y2="167.3" stroke="#2a40ee" stroke-width="1"/>
<text x="315" y="163.1" fill="#2a40ee"><tspan font-family='"Liberation Sans", "DejaVu Sans", sans-serif' font-size="10.1" stroke="#2a40ee" stroke-width="0.25">24.0</tspan></text>
<path d="M519.2 230H524.2L521.7 233.2Z" fill="none" stroke="#2a40ee" stroke-width="1.25" stroke-linejoin="miter"/>
<text x="526" y="230.4" fill="#2a40ee"><tspan font-family='"Liberation Sans", "DejaVu Sans", sans-serif' font-size="10.1" stroke="#2a40ee" stroke-width="0.25">3.0</tspan></text>
<text x="479" y="162.3" font-family='"Liberation Serif", "DejaVu Serif", serif' font-size="11.6" fill="#3a50e0" stroke="#3a50e0" stroke-width="0.15">K<tspan font-size="6.38" dx="-0.6" dy="1.0">s</tspan><tspan dy="-1.0" dx="0.3"> = 1.462</tspan></text>
<rect x="4.6" y="274.2" width="541.4" height="121.3" fill="#efefef"/>
<rect x="24.4" y="289.3" width="521.6" height="96.4" fill="#f2f2f2"/>
<g font-family='"Liberation Sans", "DejaVu Sans", sans-serif' font-size="5.0" fill="#303030"><line x1="30" y1="288.3" x2="545.5" y2="288.3" stroke="#505050" stroke-width="1"/><path d="M30.31 288.3v-2.4 M33.56 288.3v-2.4 M36.8 288.3v-3.8 M40.04 288.3v-2.4 M43.29 288.3v-2.4 M46.53 288.3v-2.4 M49.77 288.3v-2.4 M53.02 288.3v-2.4 M56.26 288.3v-2.4 M59.5 288.3v-2.4 M62.74 288.3v-3.8 M65.99 288.3v-2.4 M69.23 288.3v-2.4 M72.47 288.3v-2.4 M75.72 288.3v-2.4 M78.96 288.3v-2.4 M82.2 288.3v-2.4 M85.44 288.3v-2.4 M88.69 288.3v-3.8 M91.93 288.3v-2.4 M95.17 288.3v-2.4 M98.42 288.3v-2.4 M101.66 288.3v-2.4 M104.9 288.3v-2.4 M108.15 288.3v-2.4 M111.39 288.3v-2.4 M114.63 288.3v-3.8 M117.88 288.3v-2.4 M121.12 288.3v-2.4 M124.36 288.3v-2.4 M127.6 288.3v-2.4 M130.85 288.3v-2.4 M134.09 288.3v-2.4 M137.33 288.3v-2.4 M140.58 288.3v-3.8 M143.82 288.3v-2.4 M147.06 288.3v-2.4 M150.31 288.3v-2.4 M153.55 288.3v-2.4 M156.79 288.3v-2.4 M160.03 288.3v-2.4 M163.28 288.3v-2.4 M166.52 288.3v-3.8 M169.76 288.3v-2.4 M173.01 288.3v-2.4 M176.25 288.3v-2.4 M179.49 288.3v-2.4 M182.74 288.3v-2.4 M185.98 288.3v-2.4 M189.22 288.3v-2.4 M192.46 288.3v-3.8 M195.71 288.3v-2.4 M198.95 288.3v-2.4 M202.19 288.3v-2.4 M205.44 288.3v-2.4 M208.68 288.3v-2.4 M211.92 288.3v-2.4 M215.16 288.3v-2.4 M218.41 288.3v-3.8 M221.65 288.3v-2.4 M224.89 288.3v-2.4 M228.14 288.3v-2.4 M231.38 288.3v-2.4 M234.62 288.3v-2.4 M237.87 288.3v-2.4 M241.11 288.3v-2.4 M244.35 288.3v-3.8 M247.59 288.3v-2.4 M250.84 288.3v-2.4 M254.08 288.3v-2.4 M257.32 288.3v-2.4 M260.57 288.3v-2.4 M263.81 288.3v-2.4 M267.05 288.3v-2.4 M270.3 288.3v-3.8 M273.54 288.3v-2.4 M276.78 288.3v-2.4 M280.02 288.3v-2.4 M283.27 288.3v-2.4 M286.51 288.3v-2.4 M289.75 288.3v-2.4 M293 288.3v-2.4 M296.24 288.3v-3.8 M299.48 288.3v-2.4 M302.73 288.3v-2.4 M305.97 288.3v-2.4 M309.21 288.3v-2.4 M312.45 288.3v-2.4 M315.7 288.3v-2.4 M318.94 288.3v-2.4 M322.18 288.3v-3.8 M325.43 288.3v-2.4 M328.67 288.3v-2.4 M331.91 288.3v-2.4 M335.16 288.3v-2.4 M338.4 288.3v-2.4 M341.64 288.3v-2.4 M344.88 288.3v-2.4 M348.13 288.3v-3.8 M351.37 288.3v-2.4 M354.61 288.3v-2.4 M357.86 288.3v-2.4 M361.1 288.3v-2.4 M364.34 288.3v-2.4 M367.59 288.3v-2.4 M370.83 288.3v-2.4 M374.07 288.3v-3.8 M377.31 288.3v-2.4 M380.56 288.3v-2.4 M383.8 288.3v-2.4 M387.04 288.3v-2.4 M390.29 288.3v-2.4 M393.53 288.3v-2.4 M396.77 288.3v-2.4 M400.02 288.3v-3.8 M403.26 288.3v-2.4 M406.5 288.3v-2.4 M409.75 288.3v-2.4 M412.99 288.3v-2.4 M416.23 288.3v-2.4 M419.47 288.3v-2.4 M422.72 288.3v-2.4 M425.96 288.3v-3.8 M429.2 288.3v-2.4 M432.45 288.3v-2.4 M435.69 288.3v-2.4 M438.93 288.3v-2.4 M442.18 288.3v-2.4 M445.42 288.3v-2.4 M448.66 288.3v-2.4 M451.9 288.3v-3.8 M455.15 288.3v-2.4 M458.39 288.3v-2.4 M461.63 288.3v-2.4 M464.88 288.3v-2.4 M468.12 288.3v-2.4 M471.36 288.3v-2.4 M474.61 288.3v-2.4 M477.85 288.3v-3.8 M481.09 288.3v-2.4 M484.33 288.3v-2.4 M487.58 288.3v-2.4 M490.82 288.3v-2.4 M494.06 288.3v-2.4 M497.31 288.3v-2.4 M500.55 288.3v-2.4 M503.79 288.3v-3.8 M507.03 288.3v-2.4 M510.28 288.3v-2.4 M513.52 288.3v-2.4 M516.76 288.3v-2.4 M520.01 288.3v-2.4 M523.25 288.3v-2.4 M526.49 288.3v-2.4 M529.74 288.3v-3.8 M532.98 288.3v-2.4 M536.22 288.3v-2.4 M539.46 288.3v-2.4 M542.71 288.3v-2.4" stroke="#505050" stroke-width="0.9" fill="none"/><text x="36.8" y="280.2" text-anchor="middle">0.00</text><text x="62.74" y="280.2" text-anchor="middle">8.00</text><text x="88.69" y="280.2" text-anchor="middle">16.00</text><text x="114.63" y="280.2" text-anchor="middle">24.00</text><text x="140.58" y="280.2" text-anchor="middle">32.00</text><text x="166.52" y="280.2" text-anchor="middle">40.00</text><text x="192.46" y="280.2" text-anchor="middle">48.00</text><text x="218.41" y="280.2" text-anchor="middle">56.00</text><text x="244.35" y="280.2" text-anchor="middle">64.00</text><text x="270.3" y="280.2" text-anchor="middle">72.00</text><text x="296.24" y="280.2" text-anchor="middle">80.00</text><text x="322.18" y="280.2" text-anchor="middle">88.00</text><text x="348.13" y="280.2" text-anchor="middle">96.00</text><text x="374.07" y="280.2" text-anchor="middle">104.00</text><text x="400.02" y="280.2" text-anchor="middle">112.00</text><text x="425.96" y="280.2" text-anchor="middle">120.00</text><text x="451.9" y="280.2" text-anchor="middle">128.00</text><text x="477.85" y="280.2" text-anchor="middle">136.00</text><text x="503.79" y="280.2" text-anchor="middle">144.00</text><text x="529.74" y="280.2" text-anchor="middle">152.00</text><line x1="23.9" y1="292" x2="23.9" y2="384" stroke="#505050" stroke-width="1"/><path d="M23.9 383.7h-9.5 M23.9 380.46h-3.3 M23.9 377.22h-3.3 M23.9 373.98h-3.3 M23.9 370.74h-5.5 M23.9 367.5h-3.3 M23.9 364.26h-3.3 M23.9 361.02h-3.3 M23.9 357.78h-9.5 M23.9 354.54h-3.3 M23.9 351.3h-3.3 M23.9 348.06h-3.3 M23.9 344.82h-5.5 M23.9 341.58h-3.3 M23.9 338.34h-3.3 M23.9 335.1h-3.3 M23.9 331.86h-9.5 M23.9 328.62h-3.3 M23.9 325.38h-3.3 M23.9 322.14h-3.3 M23.9 318.9h-5.5 M23.9 315.66h-3.3 M23.9 312.42h-3.3 M23.9 309.18h-3.3 M23.9 305.94h-9.5 M23.9 302.7h-3.3 M23.9 299.46h-3.3 M23.9 296.22h-3.3 M23.9 292.98h-5.5" stroke="#505050" stroke-width="0.9" fill="none"/><text x="16" y="382.8" text-anchor="end">0.00</text><text x="16" y="357.4" text-anchor="end">8.00</text><text x="16" y="329.4" text-anchor="end">16.00</text><text x="16" y="303.4" text-anchor="end">24.00</text></g>
<text x="288.2" y="392.7" font-family='"Liberation Sans", "DejaVu Sans", sans-serif' font-weight="bold" font-size="5.15" fill="#202020" text-anchor="middle">Plastic points (scaled up 0.00 times)</text>
<text x="275.5" y="410.2" font-family='"Liberation Serif", "DejaVu Serif", serif' font-size="13.5" fill="#1a1a1a" stroke="#1a1a1a" stroke-width="0.45" text-anchor="middle">(c)</text>
<clipPath id="damc"><polygon points="37.3,383.7 270.58,305.94 296.5,305.94 534.96,383.7"/></clipPath>
<polygon points="37.3,383.7 270.58,305.94 296.5,305.94 534.96,383.7" fill="#aeeef0"/>
<polygon points="448.78,383.7 483.77,371.55 489.28,370.9 495.44,371 534.96,383.7" fill="#92e6a6"/>
<path d="M312.1 359.4L313.1 372.6M61.2 375.7L64.5 374.6M60.4 383.7L63.6 380.0M214.7 324.6L221.6 322.3M221.7 357.9L227.7 366.1M302.3 370.2L291.6 373.0M318.0 324.9L310.4 326.6M213.2 354.4L219.7 348.2M409.7 353.1L406.2 358.8M372.9 340.8L364.9 341.2M297.4 316.2L295.1 321.7M221.6 322.3L228.5 320.0M369.5 335.1L372.9 340.8M368.8 329.5L372.4 330.7M171.9 383.7L168.2 377.7M454.4 383.7L451.4 378.0M381.3 375.8L372.1 376.1M167.7 364.7L164.2 359.9M372.4 330.7L376.0 331.9M425.5 360.3L431.4 364.8M488.0 368.4L491.6 369.6M505.9 374.2L502.8 377.7M133.8 358.5L141.0 356.0M287.2 336.4L278.9 342.4M188.1 368.1L186.7 360.1M491.6 369.6L495.2 370.7M464.5 365.8L457.0 367.6M125.7 369.2L127.9 360.7M468.4 383.7L463.9 383.7M141.0 356.0L148.6 358.8M298.0 383.7L291.6 373.0M418.2 355.6L412.3 360.3M360.9 348.4L366.6 354.4M240.2 383.7L232.7 383.7M284.4 305.9L284.0 311.5M389.2 376.4L386.5 367.4M160.8 353.9L163.9 347.8M192.4 354.3L199.7 357.6M176.8 345.0L183.6 342.4M63.9 383.7L60.4 383.7M497.1 383.7L494.2 378.8M279.9 330.4L278.9 342.4M430.2 349.5L425.9 352.9M85.7 374.1L92.0 378.3M60.4 383.7L56.9 383.7M189.6 377.2L179.7 379.2M283.2 317.0L286.4 322.7M336.2 318.9L339.5 323.9M248.3 357.5L257.8 358.2M320.1 365.3L322.1 374.4M483.2 379.9L488.6 380.1M336.0 346.7L332.7 354.1M399.7 368.8L407.0 365.8M414.9 348.7L409.8 347.0M210.4 344.9L219.7 348.2M126.6 377.5L132.0 379.5M409.7 353.1L402.4 354.1M335.1 332.6L327.5 334.3M512.5 376.4L515.7 377.4M419.1 363.2L425.4 367.2M235.6 373.8L235.2 364.2M291.2 328.9L287.2 336.4M444.6 378.8L442.7 371.9M431.2 371.4L425.6 373.0M439.1 383.7L433.7 383.7M296.5 336.6L287.2 336.4M302.1 312.3L297.4 316.2M394.2 343.7L398.0 349.1M468.4 383.7L471.9 377.1M197.4 383.7L190.8 383.7M524.8 380.4L523.7 383.7M61.2 375.7L63.6 380.0M37.3 383.7L38.0 383.7M170.1 346.6L176.8 345.0M190.8 383.7L184.4 383.7M509.3 375.3L509.9 379.8M211.9 367.3L218.7 367.6M40.9 383.7L38.0 383.7M398.1 383.7L397.5 377.4M386.5 367.4L380.6 360.6M300.8 357.3L312.1 359.4M307.4 314.8L308.2 320.8M264.3 350.2L273.1 352.1M372.1 376.1L363.2 373.7M202.9 337.9L209.9 335.0M282.3 353.5L278.9 342.4M469.9 362.5L469.8 366.8M455.4 361.3L450.1 364.0M456.3 379.8L460.6 378.8M345.7 358.6L338.5 360.0M276.3 362.4L282.3 353.5M263.0 341.8L270.0 344.1M67.8 373.5L71.3 372.4M352.9 361.4L342.7 369.2M444.3 383.7L444.6 378.8M235.7 317.6L243.0 315.1M132.7 365.9L138.8 370.2M227.7 366.1L235.2 364.2M291.4 355.0L285.8 363.5M379.6 333.0L383.2 334.2M489.3 374.2L488.6 380.1M270.6 305.9L267.7 315.0M414.0 377.0L411.6 370.9M518.8 378.4L520.7 383.7M161.9 366.9L164.2 359.9M218.2 339.5L217.5 330.4M388.0 345.1L383.8 351.3M236.6 323.9L226.6 327.6M190.8 346.3L196.7 341.4M372.1 376.1L371.0 364.4M243.4 348.7L246.9 340.3M451.4 378.0L447.4 373.8M371.0 364.4L363.2 373.7M147.2 372.0L153.6 378.1M98.1 369.5L104.2 371.0M295.1 321.7L291.2 328.9M131.8 373.0L132.0 379.5M71.2 383.7L68.9 378.7M89.8 366.2L93.8 364.9M277.2 320.8L267.9 326.2M291.4 355.0L300.8 357.3M358.0 331.0L359.3 336.3M300.8 357.3L294.1 363.7M278.0 305.9L284.4 305.9M197.4 383.7L200.7 375.5M243.9 331.5L256.6 333.8M374.9 335.2L372.9 340.8M295.9 310.7L290.0 309.6M388.9 358.0L380.6 360.6M284.4 305.9L289.9 305.9M108.9 366.5L113.5 369.6M401.3 340.1L404.9 341.3M394.0 337.7L394.2 343.7M133.7 351.6L141.0 356.0M143.9 364.4L138.1 363.1M170.1 346.6L163.9 347.8M404.9 341.3L408.5 342.5M518.8 378.4L521.9 379.4M446.3 358.7L450.1 364.0M95.9 374.8L97.5 379.3M278.0 305.9L276.9 312.9M521.9 379.4L524.8 380.4M240.2 383.7L235.6 373.8M350.8 341.0L356.8 341.9M289.4 383.7L280.8 383.7M156.1 361.1L161.9 366.9M422.5 383.7L416.6 383.7M175.0 352.6L171.3 359.5M86.8 383.7L82.7 383.7M495.2 370.7L498.1 375.2M178.1 383.7L171.9 383.7M200.6 366.4L207.4 361.4M106.2 360.7L108.9 366.5M315.2 383.7L313.1 372.6M422.9 347.2L425.9 352.9M444.6 378.8L447.4 373.8M219.7 348.2L227.5 342.2M357.9 326.0L358.0 331.0M504.3 383.7L502.8 377.7M340.4 383.7L342.7 369.2M113.1 383.7L114.2 378.5M257.8 358.2L264.3 350.2M399.7 368.8L400.6 361.0M511.1 383.7L509.9 379.8M382.9 344.3L388.0 345.1M256.6 333.8L267.9 326.2M442.8 364.6L446.9 369.0M104.2 371.0L103.0 365.6M409.8 347.0L409.7 353.1M418.2 355.6L419.1 363.2M178.9 359.3L171.3 359.5M202.8 345.3L202.9 337.9M289.4 383.7L291.6 373.0M370.8 347.4L375.3 354.1M388.9 358.0L394.1 363.4M418.7 370.7L411.6 370.9M379.5 339.1L372.9 340.8M227.5 342.2L237.8 340.7M237.8 340.7L243.4 348.7M320.1 365.3L312.1 359.4M483.9 371.6L477.9 372.1M310.4 326.6L314.4 332.2M339.9 320.1L339.5 323.9M361.5 363.5L354.4 371.4M312.1 359.4L323.1 355.8M97.8 363.5L101.9 362.2M252.5 367.1L257.8 375.9M341.7 352.1L345.7 358.6M283.2 317.0L276.9 312.9M360.9 348.4L351.7 350.1M196.7 341.4L189.8 338.4M234.3 349.4L226.9 350.7M477.1 364.8L480.8 366.0M412.1 343.6L415.7 344.8M148.6 358.8L156.1 361.1M289.9 305.9L290.0 309.6M287.2 336.4L288.9 345.0M485.5 383.7L481.4 383.7M258.1 310.1L267.7 315.0M527.6 381.3L530.4 382.2M125.7 369.2L132.7 365.9M167.8 353.4L175.0 352.6M213.2 354.4L210.4 344.9M272.3 383.7L264.0 383.7M341.3 335.2L334.8 339.4M295.1 321.7L301.4 326.7M410.6 383.7L404.4 383.7M454.4 383.7L456.3 379.8M234.3 349.4L239.2 357.4M40.1 382.8L40.9 383.7M78.8 383.7L74.9 383.7M78.4 370.0L79.8 373.1M68.9 378.7L72.4 375.3M251.1 327.1L256.6 333.8M391.5 383.7L397.5 377.4M207.4 361.4L214.7 361.7M97.8 363.5L98.1 369.5M366.6 354.4L361.5 363.5M252.5 367.1L257.8 358.2M473.5 363.7L469.8 366.8M213.2 354.4L221.7 357.9M444.6 354.2L440.2 357.6M74.8 371.2L76.6 375.7M128.9 353.2L133.7 351.6M390.4 340.6L388.0 345.1M296.5 336.6L297.8 347.1M351.8 329.1L354.0 335.6M437.1 376.6L431.2 371.4M161.7 375.7L153.6 378.1M307.3 309.5L307.4 314.8M455.5 357.8L455.4 361.3M138.8 370.2L138.1 363.1M521.9 379.4L520.7 383.7M218.1 383.7L211.0 383.7M148.6 358.8L153.6 352.4M174.4 366.7L181.0 372.0M339.5 323.9L336.0 327.8M272.3 383.7L265.3 376.4M100.5 375.1L104.2 371.0M432.7 357.7L425.5 360.3M53.6 383.7L50.3 383.7M183.6 342.4L189.8 338.4M393.4 370.5L397.5 377.4M127.7 383.7L122.7 383.7M488.0 368.4L483.9 371.6M79.8 373.1L80.8 378.7M391.5 350.5L383.8 351.3M390.4 340.6L394.2 343.7M154.3 344.7L153.6 352.4M436.8 362.7L431.4 364.8M270.4 370.7L280.8 374.2M300.8 357.3L297.8 347.1M433.7 383.7L429.9 377.8M264.3 350.2L270.0 344.1M261.6 368.1L270.4 370.7M54.8 377.9L57.9 376.8M400.0 343.4L394.2 343.7M282.3 353.5L288.9 345.0M328.0 319.8L322.8 319.7M254.3 347.0L264.3 350.2M263.0 341.8L269.5 336.2M72.4 375.3L76.6 375.7M208.0 326.8L214.7 324.6M325.7 325.9L327.5 334.3M397.7 338.9L394.2 343.7M138.7 349.9L141.0 356.0M314.4 332.2L319.5 338.2M277.2 320.8L279.9 330.4M365.1 328.3L368.8 329.5M132.7 365.9L133.8 358.5M425.9 352.9L425.5 360.3M320.9 330.9L319.5 338.2M286.4 322.7L279.9 330.4M232.7 383.7L235.6 373.8M297.4 316.2L302.1 318.9M533.1 383.1L532.3 383.7M385.7 339.4L379.5 339.1M147.3 352.5L153.6 352.4M498.8 371.9L498.1 375.2M218.2 339.5L219.7 348.2M361.5 327.1L358.0 331.0M158.6 348.4L163.9 347.8M102.4 379.5L100.5 375.1M330.0 365.0L332.7 354.1M214.7 361.7L221.7 357.9M74.8 371.2L78.4 370.0M307.4 314.8L313.1 315.8M211.9 367.3L206.5 369.5M78.4 370.0L82.1 368.8M291.6 373.0L285.8 363.5M250.5 312.6L258.1 310.1M358.0 331.0L351.8 329.1M138.0 383.7L136.3 376.5M258.1 310.1L266.0 307.5M386.8 335.4L390.4 336.6M477.9 372.1L471.9 377.1M350.8 341.0L343.6 342.8M280.8 374.2L291.6 373.0M457.0 367.6L451.5 371.1M377.9 383.7L381.3 375.8M390.4 336.6L394.0 337.7M109.9 373.5L104.2 371.0M118.4 368.3L125.7 369.2M330.0 365.0L323.1 355.8M147.2 372.0L147.0 378.8M143.9 364.4L147.2 372.0M509.3 375.3L512.5 376.4M186.7 360.1L194.1 362.7M419.3 346.0L420.1 350.2M327.5 334.3L327.1 345.0M444.3 383.7L439.1 383.7M339.5 323.9L332.7 323.3M127.7 383.7L132.0 379.5M504.3 383.7L499.5 380.5M204.1 383.7L197.4 383.7M47.1 383.7L44.0 383.7M372.9 340.8L370.8 347.4M399.7 368.8L397.5 377.4M267.0 360.3L264.3 350.2M44.0 383.7L40.9 383.7M59.1 379.7L63.6 380.0M489.3 374.2L483.9 371.6M331.2 328.8L335.1 332.6M485.2 376.5L481.5 375.9M278.9 342.4L288.9 345.0M311.2 340.0L307.1 348.6M273.1 352.1L282.3 353.5M437.4 351.9L440.2 357.6M232.5 333.3L243.9 331.5M330.0 365.0L320.1 365.3M90.9 383.7L86.6 380.4M502.8 377.7L498.1 375.2M512.7 380.2L509.9 379.8M195.1 331.1L189.8 338.4M442.8 364.6L442.7 371.9M141.8 377.3L147.2 372.0M200.7 375.5L206.5 369.5M422.5 383.7L422.2 378.4M155.0 369.9L161.7 375.7M214.7 324.6L217.5 330.4M280.8 374.2L285.8 363.5M404.9 341.3L404.6 347.2M165.9 383.7L160.1 383.7M183.7 351.4L183.6 342.4M335.1 332.6L334.8 339.4M425.9 352.9L432.7 357.7M336.2 318.9L332.7 323.3M128.9 353.2L127.9 360.7M425.5 360.3L419.1 363.2M345.7 331.0L341.3 335.2M311.0 310.7L313.1 315.8M211.0 383.7L211.8 376.0M480.8 366.0L483.9 371.6M230.8 357.5L227.7 366.1M477.1 364.8L477.9 372.1M294.1 363.7L291.6 373.0M82.7 383.7L86.6 380.4M410.6 383.7L414.0 377.0M228.5 320.0L226.6 327.6M178.1 383.7L179.7 379.2M247.5 376.3L252.5 367.1M171.9 383.7L173.7 375.0M257.8 358.2L261.6 368.1M82.1 368.8L85.9 367.5M462.7 360.1L459.7 362.8M108.1 379.7L104.9 375.7M115.0 357.8L116.7 361.6M85.9 367.5L89.8 366.2M266.0 307.5L270.6 305.9M402.4 354.1L406.2 358.8M325.4 315.4L328.0 319.8M270.6 305.9L278.0 305.9M394.0 337.7L397.7 338.9M218.7 367.6L227.7 366.1M397.7 338.9L401.3 340.1M127.9 360.7L133.8 358.5M158.6 348.4L160.8 353.9M515.7 377.4L518.8 378.4M311.0 310.7L307.4 314.8M459.1 359.0L455.4 361.3M494.2 378.8L488.6 380.1M113.5 369.6L115.4 373.5M398.0 349.1L395.9 355.8M431.9 352.7L425.9 352.9M433.7 383.7L428.1 383.7M227.5 342.2L234.3 349.4M404.6 347.2L398.0 349.1M184.4 383.7L178.1 383.7M431.2 371.4L425.4 367.2M365.9 347.7L366.6 354.4M224.2 334.7L232.5 333.3M288.9 345.0L297.8 347.1M428.1 383.7L429.9 377.8M110.5 359.3L115.0 357.8M376.0 331.9L374.9 335.2M328.0 319.8L325.7 325.9M294.1 363.7L285.8 363.5M300.1 307.1L303.7 308.3M418.2 355.6L425.5 360.3M127.9 360.7L132.7 365.9M483.2 379.9L477.8 379.4M419.3 346.0L422.9 347.2M422.9 347.2L426.6 348.4M533.1 383.1L535.0 383.7M400.0 343.4L398.0 349.1M318.0 324.9L320.9 330.9M535.0 383.7L532.3 383.7M411.6 370.9L413.7 366.0M398.1 383.7L391.5 383.7M354.0 335.6L356.8 341.9M48.7 379.9L47.1 383.7M108.9 366.5L103.0 365.6M437.1 376.6L429.9 377.8M173.7 375.0L168.2 377.7M391.5 383.7L384.8 383.7M290.5 316.0L295.1 321.7M277.2 320.8L267.7 315.0M436.8 362.7L437.0 368.7M138.8 370.2L147.2 372.0M250.5 312.6L257.0 321.1M148.8 383.7L143.3 383.7M174.4 366.7L171.3 359.5M394.1 363.4L386.5 367.4M291.2 328.9L279.9 330.4M425.6 373.0L418.7 370.7M307.1 348.6L300.8 357.3M318.0 318.1L313.7 321.2M336.0 327.8L331.2 328.8M243.0 366.2L247.5 376.3M291.4 355.0L288.9 345.0M308.2 320.8L301.4 326.7M190.8 346.3L198.1 349.4M412.3 360.3L413.7 366.0M401.3 340.1L400.0 343.4M455.4 361.3L457.0 367.6M143.9 364.4L150.0 365.4M356.0 383.7L354.4 371.4M160.1 383.7L161.7 375.7M167.8 370.9L174.4 366.7M456.4 374.7L451.4 378.0M422.9 347.2L420.1 350.2M462.0 372.9L457.0 367.6M153.6 352.4L160.8 353.9M339.5 323.9L340.8 329.5M276.9 312.9L277.2 320.8M150.0 365.4L156.1 361.1M375.3 354.1L371.0 364.4M200.6 366.4L194.9 370.3M413.7 366.0L407.0 365.8M399.7 368.8L394.1 363.4M218.2 339.5L224.2 334.7M199.7 357.6L198.1 349.4M246.9 340.3L256.6 333.8M93.8 364.9L98.1 369.5M481.5 375.9L483.2 379.9M375.3 354.1L380.6 360.6M302.1 318.9L301.4 326.7M322.1 374.4L313.1 372.6M182.8 335.2L183.6 342.4M295.1 321.7L286.4 322.7M232.5 333.3L226.6 327.6M119.5 356.3L124.1 354.8M74.9 383.7L74.8 380.0M300.1 307.1L295.9 310.7M200.6 366.4L194.1 362.7M267.0 360.3L276.3 362.4M86.8 383.7L86.6 380.4M124.1 354.8L128.9 353.2M307.3 309.5L311.0 310.7M236.6 323.9L247.1 321.9M494.2 378.8L498.1 375.2M456.4 374.7L451.5 371.1M272.3 383.7L280.8 374.2M311.0 310.7L314.6 311.8M426.6 348.4L430.2 349.5M325.7 325.9L318.0 324.9M150.0 365.4L148.6 358.8M109.9 373.5L114.2 378.5M416.6 383.7L422.2 378.4M430.2 349.5L433.8 350.7M131.8 373.0L138.8 370.2M221.6 322.3L217.5 330.4M230.8 357.5L235.2 364.2M375.3 354.1L366.6 354.4M463.9 383.7L459.2 383.7M167.8 353.4L163.9 347.8M408.5 342.5L404.6 347.2M178.9 359.3L181.7 365.3M529.5 383.7L526.6 383.7M451.8 356.6L455.4 361.3M425.4 367.2L418.7 370.7M232.7 383.7L225.3 383.7M200.7 375.5L194.9 370.3M377.9 383.7L370.8 383.7M450.1 364.0L442.8 364.6M197.4 383.7L189.6 377.2M414.9 348.7L409.7 353.1M314.6 311.8L313.1 315.8M138.0 383.7L132.8 383.7M351.7 350.1L359.1 355.6M214.7 361.7L218.7 367.6M382.9 344.3L383.8 351.3M204.1 383.7L211.8 376.0M484.4 367.2L483.9 371.6M341.7 352.1L332.7 354.1M446.9 369.0L447.4 373.8M378.1 368.6L371.0 364.4M483.9 371.6L481.5 375.9M149.0 346.5L153.6 352.4M171.9 383.7L179.7 379.2M128.9 353.2L133.8 358.5M437.4 351.9L431.9 352.7M481.4 383.7L483.2 379.9M351.7 350.1L345.7 358.6M332.6 317.7L336.2 318.9M329.0 316.5L328.0 319.8M99.5 383.7L97.5 379.3M283.2 317.0L277.2 320.8M286.4 322.7L291.2 328.9M202.8 345.3L205.3 352.2M54.8 377.9L56.9 383.7M437.0 368.7L431.4 364.8M507.8 383.7L504.3 383.7M155.0 369.9L161.9 366.9M459.2 383.7L460.6 378.8M74.8 371.2L79.8 373.1M141.0 356.0L147.3 352.5M323.8 383.7L315.2 383.7M507.8 383.7L506.6 379.1M332.7 323.3L325.7 325.9M40.1 382.8L38.0 383.7M257.8 375.9L265.3 376.4M89.8 366.2L91.6 370.9M68.9 378.7L74.8 380.0M348.3 383.7L348.4 378.0M103.9 383.7L99.5 383.7M361.5 363.5L363.2 373.7M181.0 372.0L189.6 377.2M515.7 377.4L517.6 383.7M425.5 360.3L425.4 367.2M211.8 376.0L224.2 376.3M504.3 383.7L506.6 379.1M267.7 315.0L257.0 321.1M273.1 352.1L270.0 344.1M302.3 370.2L300.8 357.3M459.7 362.8L464.5 365.8M79.8 373.1L76.6 375.7M234.3 349.4L243.4 348.7M320.1 365.3L313.1 372.6M279.9 330.4L287.2 336.4M350.7 323.6L345.8 325.9M361.5 363.5L352.9 361.4M509.3 375.3L506.6 379.1M383.2 334.2L386.8 335.4M459.7 362.8L455.4 361.3M316.7 347.6L312.1 359.4M48.7 379.9L50.3 383.7M141.0 356.0L138.1 363.1M502.4 373.1L505.9 374.2M406.2 375.3L407.0 365.8M410.6 383.7L406.2 375.3M306.2 333.6L296.5 336.6M454.4 383.7L449.4 383.7M51.7 378.9L50.3 383.7M301.4 326.7L296.5 336.6M258.1 310.1L257.0 321.1M171.0 339.1L176.8 345.0M327.1 345.0L316.7 347.6M155.0 369.9L153.6 378.1M409.7 353.1L412.3 360.3M442.7 371.9L437.0 368.7M136.3 376.5L132.0 379.5M227.5 342.2L232.5 333.3M196.7 341.4L202.8 345.3M363.7 332.6L364.9 341.2M404.6 347.2L409.7 353.1M209.9 335.0L218.2 339.5M93.8 364.9L97.8 363.5M391.5 383.7L389.2 376.4M307.4 314.8L302.1 318.9M374.9 335.2L369.5 335.1M239.2 357.4L243.4 348.7M382.9 344.3L377.7 346.3M113.9 365.2L116.7 361.6M404.9 341.3L400.0 343.4M102.4 379.5L97.5 379.3M408.5 342.5L412.1 343.6M78.8 383.7L74.8 380.0M120.2 376.4L115.4 373.5M465.8 378.1L462.0 372.9M462.0 372.9L467.8 371.9M502.4 373.1L502.8 377.7M524.8 380.4L527.6 381.3M493.3 383.7L488.6 380.1M207.4 361.4L205.3 352.2M416.6 383.7L410.6 383.7M159.8 342.9L163.9 347.8M419.1 363.2L418.7 370.7M489.5 383.7L488.6 380.1M171.9 383.7L165.9 383.7M306.6 383.7L298.0 383.7M301.4 326.7L306.2 333.6M132.7 365.9L138.1 363.1M465.8 378.1L467.8 371.9M95.1 383.7L90.9 383.7M239.2 357.4L243.0 366.2M207.4 361.4L213.2 354.4M218.1 383.7L211.8 376.0M450.1 364.0L446.9 369.0M356.8 341.9L351.7 350.1M432.7 357.7L431.4 364.8M345.7 358.6L342.7 369.2M366.6 354.4L371.0 364.4M254.3 347.0L256.6 333.8M393.4 370.5L389.2 376.4M377.9 383.7L372.1 376.1M263.0 341.8L264.3 350.2M416.6 383.7L414.0 377.0M314.4 332.2L306.2 333.6M307.1 348.6L312.1 359.4M71.2 383.7L74.8 380.0M201.5 329.0L209.9 335.0M456.3 379.8L456.4 374.7M464.5 365.8L462.0 372.9M444.6 354.2L446.3 358.7M385.7 339.4L390.4 340.6M354.4 371.4L342.7 369.2M97.8 363.5L103.0 365.6M354.0 335.6L350.8 341.0M364.9 341.2L356.8 341.9M485.5 383.7L483.2 379.9M290.0 309.6L284.0 311.5M437.1 376.6L437.0 368.7M243.0 315.1L247.1 321.9M360.9 348.4L359.1 355.6M119.5 356.3L122.1 361.9M138.8 370.2L143.9 364.4M190.8 346.3L192.4 354.3M477.9 372.1L473.0 369.6M190.8 383.7L189.6 377.2M363.5 383.7L372.1 376.1M211.9 367.3L211.8 376.0M178.9 359.3L186.7 360.1M358.0 331.0L363.7 332.6M391.5 350.5L395.9 355.8M380.6 360.6L378.1 368.6M404.4 383.7L397.5 377.4M256.6 333.8L263.0 341.8M379.5 339.1L377.7 346.3M243.9 331.5L246.9 340.3M261.6 368.1L257.8 375.9M101.9 362.2L106.2 360.7M108.9 366.5L104.2 371.0M363.5 383.7L363.2 373.7M106.2 360.7L110.5 359.3M294.6 305.9L296.5 305.9M302.1 312.3L295.9 310.7M343.5 321.3L345.8 325.9M120.2 376.4L126.6 377.5M296.5 305.9L300.1 307.1M318.2 313.0L318.0 318.1M256.6 333.8L269.5 336.2M415.7 344.8L419.3 346.0M340.4 383.7L331.8 376.5M164.2 359.9L167.8 353.4M440.2 357.6L432.7 357.7M530.4 382.2L533.1 383.1M114.2 378.5L120.2 376.4M495.2 370.7L493.6 373.8M399.7 368.8L393.4 370.5M404.4 383.7L398.1 383.7M334.8 339.4L327.1 345.0M469.8 366.8L467.8 371.9M160.1 383.7L154.4 383.7M93.8 364.9L91.6 370.9M340.4 383.7L348.4 378.0M183.6 342.4L190.8 346.3M154.4 383.7L148.8 383.7M221.7 357.9L219.7 348.2M230.8 357.5L234.3 349.4M72.4 375.3L74.8 380.0M371.0 364.4L361.5 363.5M80.8 378.7L76.6 375.7M473.0 369.6L469.8 366.8M323.8 383.7L331.8 376.5M318.2 313.0L321.8 314.2M200.7 375.5L211.8 376.0M318.0 318.1L313.1 315.8M338.5 360.0L330.0 365.0M485.2 376.5L483.2 379.9M204.1 383.7L200.7 375.5M109.9 373.5L108.9 366.5M437.4 351.9L441.0 353.1M131.8 373.0L132.7 365.9M284.0 311.5L283.2 317.0M342.7 369.2L331.8 376.5M523.7 383.7L520.7 383.7M247.5 376.3L257.8 375.9M148.8 383.7L153.6 378.1M404.4 383.7L406.2 375.3M51.7 378.9L53.6 383.7M363.5 383.7L356.0 383.7M92.0 378.3L97.5 379.3M270.6 305.9L276.9 312.9M141.8 377.3L147.0 378.8M95.1 383.7L92.0 378.3M356.0 383.7L348.3 383.7M189.6 377.2L188.1 368.1M213.2 354.4L214.7 361.7M176.8 337.2L176.8 345.0M418.7 370.7L414.0 377.0M400.6 361.0L407.0 365.8M122.7 383.7L117.8 383.7M439.1 383.7L437.1 376.6M468.4 383.7L465.8 378.1M414.9 348.7L420.1 350.2M489.3 374.2L493.6 373.8M384.8 383.7L389.2 376.4M117.8 383.7L114.2 378.5M113.9 365.2L113.5 369.6M221.7 357.9L230.8 357.5M302.3 370.2L312.1 359.4M176.8 337.2L183.6 342.4M257.0 321.1L267.9 326.2M116.7 361.6L118.4 368.3M126.6 377.5L125.7 369.2M320.1 365.3L323.1 355.8M115.0 357.8L119.5 356.3M386.5 367.4L378.1 368.6M469.8 366.8L464.5 365.8M345.7 331.0L347.9 335.6M148.6 358.8L147.3 352.5M192.4 354.3L194.1 362.7M303.7 308.3L307.3 309.5M370.8 347.4L365.9 347.7M462.0 372.9L460.6 378.8M374.9 335.2L379.5 339.1M506.6 379.1L509.9 379.8M291.2 328.9L296.5 336.6M369.5 335.1L363.7 332.6M419.3 346.0L414.9 348.7M165.3 341.0L163.9 347.8M306.2 333.6L311.2 340.0M336.0 327.8L335.1 332.6M167.7 364.7L167.8 370.9M485.5 383.7L488.6 380.1M176.8 345.0L183.7 351.4M174.4 366.7L181.7 365.3M202.9 337.9L210.4 344.9M138.0 383.7L132.0 379.5M207.4 361.4L211.9 367.3M502.4 373.1L498.1 375.2M465.8 378.1L460.6 378.8M341.3 335.2L343.6 342.8M473.5 363.7L473.0 369.6M370.8 383.7L372.1 376.1M79.8 373.1L85.7 374.1M196.7 341.4L198.1 349.4M237.8 340.7L243.9 331.5M314.4 332.2L311.2 340.0M225.3 383.7L224.2 376.3M143.8 348.2L149.0 346.5M239.2 357.4L248.3 357.5M100.5 375.1L97.5 379.3M149.0 346.5L154.3 344.7M325.4 315.4L329.0 316.5M235.6 373.8L247.5 376.3M302.3 370.2L294.1 363.7M448.2 355.4L446.3 358.7M329.0 316.5L332.6 317.7M343.6 342.8L341.7 352.1M200.6 366.4L206.5 369.5M444.6 354.2L448.2 355.4M101.9 362.2L103.0 365.6M431.2 371.4L429.9 377.8M182.8 335.2L189.8 338.4M448.2 355.4L451.8 356.6M250.5 312.6L247.1 321.9M517.6 383.7L514.4 383.7M124.1 354.8L122.1 361.9M400.0 343.4L404.6 347.2M514.4 383.7L511.1 383.7M348.3 383.7L340.4 383.7M170.1 346.6L175.0 352.6M411.6 370.9L406.2 375.3M325.7 325.9L320.9 330.9M340.4 383.7L332.2 383.7M488.0 368.4L489.3 374.2M425.6 373.0L422.2 378.4M114.2 378.5L115.4 373.5M406.2 358.8L407.0 365.8M82.1 368.8L85.7 374.1M173.7 375.0L181.0 372.0M113.1 383.7L108.4 383.7M356.0 383.7L348.4 378.0M264.0 383.7L257.8 375.9M386.8 335.4L385.7 339.4M340.8 329.5L341.3 335.2M103.9 383.7L102.4 379.5M56.9 383.7L59.1 379.7M331.2 328.8L327.5 334.3M318.0 324.9L313.7 321.2M74.8 380.0L80.8 378.7M393.4 370.5L386.5 367.4M356.0 383.7L363.2 373.7M441.0 353.1L440.2 357.6M307.1 348.6L297.8 347.1M280.8 383.7L280.8 374.2M347.1 322.4L345.8 325.9M291.4 355.0L294.1 363.7M103.9 383.7L108.1 379.7M477.9 372.1L477.8 379.4M332.2 383.7L331.8 376.5M295.9 310.7L297.4 316.2M485.2 376.5L488.6 380.1M198.1 349.4L205.3 352.2M325.4 315.4L322.8 319.7M118.4 368.3L122.1 361.9M306.6 383.7L302.3 370.2M493.3 383.7L489.5 383.7M459.7 362.8L457.0 367.6M502.8 377.7L499.5 380.5M173.7 375.0L167.8 370.9M358.0 331.0L354.0 335.6M57.9 376.8L59.1 379.7M175.0 352.6L183.7 351.4M82.7 383.7L78.8 383.7M243.4 348.7L248.3 357.5M221.7 357.9L226.9 350.7M364.9 341.2L370.8 347.4M368.8 329.5L363.7 332.6M211.9 367.3L214.7 361.7M267.0 360.3L270.4 370.7M352.9 361.4L359.1 355.6M95.9 374.8L98.1 369.5M161.9 366.9L167.8 370.9M218.2 339.5L227.5 342.2M398.0 349.1L391.5 350.5M181.0 372.0L179.7 379.2M256.6 333.8L257.0 321.1M224.2 334.7L226.6 327.6M261.6 368.1L267.0 360.3M189.6 377.2L194.9 370.3M154.3 344.7L159.8 342.9M449.4 383.7L451.4 378.0M159.8 342.9L165.3 341.0M340.8 329.5L336.0 327.8M319.5 338.2L316.7 347.6M307.4 314.8L302.1 312.3M336.2 318.9L339.9 320.1M450.1 364.0L451.5 371.1M153.6 352.4L158.6 348.4M54.8 377.9L53.6 383.7M455.5 357.8L459.1 359.0M175.0 352.6L178.9 359.3M150.0 365.4L155.0 369.9M428.1 383.7L422.5 383.7M90.9 383.7L92.0 378.3M530.4 382.2L532.3 383.7M143.8 348.2L147.3 352.5M183.7 351.4L186.7 360.1M200.6 366.4L200.7 375.5M444.6 378.8L437.1 376.6M178.9 359.3L183.7 351.4M429.9 377.8L422.2 378.4M493.3 383.7L494.2 378.8M463.9 383.7L465.8 378.1M414.9 348.7L418.2 355.6M246.9 340.3L254.3 347.0M91.6 370.9L95.9 374.8M267.9 326.2L269.5 336.2M48.7 379.9L51.7 378.9M372.9 340.8L377.7 346.3M161.7 375.7L168.2 377.7M505.9 374.2L506.6 379.1M195.1 331.1L201.5 329.0M379.6 333.0L374.9 335.2M248.0 383.7L247.5 376.3M322.8 319.7L318.0 324.9M357.9 326.0L361.5 327.1M350.7 323.6L351.8 329.1M232.7 383.7L224.2 376.3M273.1 352.1L278.9 342.4M319.5 338.2L327.1 345.0M385.7 339.4L382.9 344.3M227.5 342.2L226.9 350.7M116.7 361.6L122.1 361.9M126.6 377.5L131.8 373.0M384.8 383.7L377.9 383.7M108.1 379.7L114.2 378.5M472.9 383.7L477.8 379.4M80.8 378.7L86.6 380.4M481.4 383.7L477.2 383.7M64.5 374.6L63.6 380.0M512.5 376.4L509.9 379.8M143.3 383.7L138.0 383.7M354.0 335.6L359.3 336.3M527.6 381.3L526.6 383.7M264.0 383.7L255.9 383.7M132.8 383.7L132.0 379.5M406.2 358.8L400.6 361.0M74.9 383.7L71.2 383.7M318.0 324.9L314.4 332.2M477.1 364.8L473.0 369.6M234.3 349.4L237.8 340.7M148.8 383.7L147.0 378.8M345.8 325.9L351.8 329.1M209.9 335.0L217.5 330.4M80.8 378.7L85.7 374.1M236.6 323.9L243.9 331.5M167.7 364.7L171.3 359.5M357.9 326.0L351.8 329.1M218.1 383.7L224.2 376.3M60.4 383.7L59.1 379.7M252.5 367.1L261.6 368.1M451.5 371.1L447.4 373.8M439.1 383.7L444.6 378.8M294.6 305.9L295.9 310.7M289.9 305.9L294.6 305.9M451.8 356.6L446.3 358.7M173.7 375.0L179.7 379.2M106.2 360.7L103.0 365.6M345.8 325.9L340.8 329.5M122.7 383.7L120.2 376.4M188.9 333.2L189.8 338.4M125.7 369.2L131.8 373.0M422.2 378.4L418.7 370.7M276.9 312.9L267.7 315.0M428.1 383.7L422.2 378.4M85.7 374.1L86.6 380.4M208.0 326.8L217.5 330.4M276.3 362.4L285.8 363.5M377.7 346.3L375.3 354.1M491.6 369.6L489.3 374.2M85.9 367.5L85.7 374.1M255.9 383.7L257.8 375.9M390.4 336.6L385.7 339.4M124.1 354.8L127.9 360.7M156.1 361.1L164.2 359.9M261.6 368.1L265.3 376.4M361.5 327.1L363.7 332.6M167.8 353.4L171.3 359.5M422.2 378.4L414.0 377.0M91.6 370.9L98.1 369.5M110.5 359.3L113.9 365.2M388.0 345.1L391.5 350.5M67.5 383.7L68.9 378.7M247.1 321.9L257.0 321.1M364.9 341.2L360.9 348.4M221.6 322.3L226.6 327.6M184.4 383.7L179.7 379.2M243.0 366.2L248.3 357.5M154.3 344.7L158.6 348.4M291.4 355.0L297.8 347.1M210.4 344.9L218.2 339.5M395.9 355.8L394.1 363.4M459.1 359.0L459.7 362.8M430.2 349.5L431.9 352.7M136.3 376.5L138.8 370.2M239.2 357.4L235.2 364.2M314.6 311.8L318.2 313.0M412.3 360.3L407.0 365.8M316.7 347.6L307.1 348.6M141.0 356.0L143.9 364.4M481.5 375.9L477.8 379.4M433.8 350.7L437.4 351.9M298.0 383.7L302.3 370.2M127.7 383.7L126.6 377.5M92.0 378.3L86.6 380.4M383.8 351.3L380.6 360.6M526.6 383.7L523.7 383.7M494.2 378.8L499.5 380.5M370.8 347.4L377.7 346.3M270.4 370.7L265.3 376.4M370.8 383.7L363.5 383.7M456.3 379.8L451.4 378.0M61.2 375.7L59.1 379.7M406.2 375.3L399.7 368.8M472.9 383.7L468.4 383.7M136.3 376.5L141.8 377.3M167.8 353.4L170.1 346.6M313.1 315.8L313.7 321.2M132.8 383.7L127.7 383.7M110.5 359.3L108.9 366.5M306.6 383.7L313.1 372.6M248.0 383.7L240.2 383.7M290.5 316.0L284.0 311.5M365.9 347.7L360.9 348.4M147.0 378.8L153.6 378.1M210.4 344.9L209.9 335.0M272.3 383.7L270.4 370.7M456.4 374.7L460.6 378.8M301.4 326.7L291.2 328.9M432.7 357.7L436.8 362.7M420.1 350.2L418.2 355.6M350.8 341.0L351.7 350.1M133.7 351.6L133.8 358.5M295.9 310.7L290.5 316.0M372.4 330.7L374.9 335.2M498.1 375.2L499.5 380.5M507.8 383.7L509.9 379.8M331.8 376.5L322.1 374.4M160.8 353.9L164.2 359.9M147.2 372.0L155.0 369.9M143.9 364.4L148.6 358.8M481.4 383.7L477.8 379.4M45.7 380.9L47.1 383.7M149.0 346.5L147.3 352.5M199.7 357.6L207.4 361.4M320.9 330.9L314.4 332.2M311.2 340.0L303.5 340.9M313.1 315.8L308.2 320.8M100.5 375.1L98.1 369.5M91.6 370.9L92.0 378.3M156.1 361.1L160.8 353.9M270.0 344.1L269.5 336.2M336.0 346.7L327.1 345.0M343.5 321.3L339.5 323.9M267.0 360.3L273.1 352.1M412.1 343.6L409.8 347.0M418.7 370.7L413.7 366.0M494.2 378.8L493.6 373.8M348.4 378.0L342.7 369.2M133.7 351.6L138.7 349.9M451.4 378.0L444.6 378.8M356.8 341.9L360.9 348.4M384.8 383.7L381.3 375.8M240.2 383.7L247.5 376.3M394.0 337.7L390.4 340.6M138.7 349.9L143.8 348.2M354.3 324.8L351.8 329.1M108.9 366.5L113.9 365.2M118.4 368.3L120.2 376.4M104.9 375.7L104.2 371.0M397.7 338.9L400.0 343.4M330.0 365.0L322.1 374.4M343.6 342.8L351.7 350.1M368.8 329.5L369.5 335.1M332.7 354.1L323.1 355.8M321.8 314.2L325.4 315.4M195.1 331.1L196.7 341.4M429.9 377.8L425.6 373.0M369.5 335.1L364.9 341.2M294.6 305.9L290.0 309.6M441.0 353.1L444.6 354.2M471.9 377.1L465.8 378.1M64.5 374.6L68.9 378.7M520.7 383.7L517.6 383.7M323.8 383.7L322.1 374.4M527.6 381.3L529.5 383.7M402.4 354.1L395.9 355.8M175.0 352.6L176.8 345.0M67.8 373.5L68.9 378.7M42.9 381.8L40.9 383.7M186.7 360.1L192.4 354.3M442.7 371.9L447.4 373.8M315.2 383.7L322.1 374.4M301.4 326.7L310.4 326.6M202.8 345.3L210.4 344.9M181.0 372.0L188.1 368.1M143.3 383.7L147.0 378.8M117.8 383.7L113.1 383.7M412.3 360.3L406.2 358.8M485.2 376.5L483.9 371.6M363.2 373.7L354.4 371.4M37.3 383.7L40.1 382.8M327.1 345.0L332.7 354.1M388.9 358.0L386.5 367.4M232.5 333.3L237.8 340.7M342.7 369.2L338.5 360.0M517.6 383.7L512.7 380.2M302.1 318.9L295.1 321.7M171.0 339.1L176.8 337.2M237.8 340.7L246.9 340.3M289.4 383.7L280.8 374.2M296.5 305.9L295.9 310.7M176.8 337.2L182.8 335.2M290.5 316.0L286.4 322.7M343.5 321.3L347.1 322.4M339.5 323.9L345.8 325.9M269.5 336.2L278.9 342.4M450.1 364.0L457.0 367.6M394.2 343.7L391.5 350.5M347.1 322.4L350.7 323.6M462.7 360.1L466.3 361.3M155.0 369.9L156.1 361.1M327.1 345.0L323.1 355.8M466.3 361.3L469.9 362.5M500.7 383.7L497.1 383.7M131.8 373.0L136.3 376.5M290.5 316.0L283.2 317.0M497.1 383.7L493.3 383.7M167.7 364.7L174.4 366.7M264.0 383.7L265.3 376.4M298.0 383.7L289.4 383.7M211.8 376.0L218.7 367.6M397.5 377.4L389.2 376.4M90.9 383.7L86.8 383.7M181.7 365.3L188.1 368.1M196.7 341.4L202.9 337.9M183.7 351.4L190.8 346.3M248.3 357.5L252.5 367.1M327.5 334.3L319.5 338.2M389.2 376.4L381.3 375.8M251.1 327.1L257.0 321.1M322.8 319.7L325.7 325.9M159.8 342.9L158.6 348.4M433.8 350.7L431.9 352.7M207.4 361.4L206.5 369.5M469.9 362.5L464.5 365.8M208.0 326.8L209.9 335.0M74.8 380.0L76.6 375.7M143.8 348.2L141.0 356.0M302.3 370.2L313.1 372.6M213.2 354.4L205.3 352.2M347.9 335.6L343.6 342.8M345.8 325.9L345.7 331.0M122.7 383.7L126.6 377.5M395.9 355.8L400.6 361.0M442.8 364.6L436.8 362.7M171.0 339.1L170.1 346.6M464.5 365.8L467.8 371.9M71.3 372.4L72.4 375.3M451.5 371.1L446.9 369.0M463.9 383.7L460.6 378.8M316.7 347.6L323.1 355.8M67.5 383.7L63.9 383.7M385.7 339.4L388.0 345.1M184.4 383.7L189.6 377.2M386.5 367.4L381.3 375.8M327.5 334.3L334.8 339.4M296.5 336.6L303.5 340.9M340.8 329.5L335.1 332.6M85.9 367.5L91.6 370.9M224.2 334.7L227.5 342.2M85.7 374.1L91.6 370.9M297.4 316.2L290.5 316.0M394.1 363.4L400.6 361.0M235.6 373.8L243.0 366.2M42.9 381.8L45.7 380.9M343.6 342.8L336.0 346.7M391.5 350.5L388.9 358.0M45.7 380.9L48.7 379.9M182.8 335.2L188.9 333.2M243.0 366.2L235.2 364.2M512.5 376.4L512.7 380.2M255.9 383.7L247.5 376.3M296.5 336.6L288.9 345.0M210.4 344.9L205.3 352.2M471.9 377.1L467.8 371.9M188.9 333.2L195.1 331.1M409.7 353.1L418.2 355.6M350.7 323.6L354.3 324.8M354.3 324.8L357.9 326.0M347.9 335.6L350.8 341.0M469.9 362.5L473.5 363.7M102.4 379.5L104.9 375.7M321.8 314.2L318.0 318.1M122.1 361.9L127.9 360.7M515.7 377.4L512.7 380.2M419.1 363.2L412.3 360.3M284.4 305.9L290.0 309.6M118.4 368.3L115.4 373.5M473.5 363.7L477.1 364.8M173.7 375.0L174.4 366.7M161.7 375.7L161.9 366.9M160.1 383.7L153.6 378.1M167.8 370.9L168.2 377.7M477.2 383.7L477.8 379.4M138.0 383.7L141.8 377.3M138.8 370.2L141.8 377.3M489.5 383.7L485.5 383.7M500.7 383.7L499.5 380.5M199.7 357.6L205.3 352.2M219.7 348.2L226.9 350.7M174.4 366.7L178.9 359.3M459.2 383.7L456.3 379.8M524.8 380.4L526.6 383.7M280.8 383.7L272.3 383.7M243.0 315.1L236.6 323.9M247.1 321.9L251.1 327.1M364.9 341.2L365.9 347.7M494.2 378.8L489.3 374.2M331.8 376.5L330.0 365.0M64.5 374.6L67.8 373.5M228.5 320.0L235.7 317.6M354.4 371.4L348.4 378.0M318.0 318.1L318.0 324.9M363.7 332.6L359.3 336.3M376.0 331.9L379.6 333.0M377.7 346.3L383.8 351.3M372.4 330.7L369.5 335.1M270.0 344.1L278.9 342.4M120.2 376.4L125.7 369.2M303.5 340.9L297.8 347.1M471.9 377.1L473.0 369.6M398.0 349.1L402.4 354.1M495.2 370.7L498.8 371.9M156.1 361.1L153.6 352.4M498.8 371.9L502.4 373.1M328.0 319.8L332.7 323.3M530.4 382.2L529.5 383.7M109.9 373.5L113.5 369.6M42.9 381.8L44.0 383.7M160.8 353.9L167.8 353.4M230.8 357.5L226.9 350.7M459.2 383.7L454.4 383.7M200.6 366.4L199.7 357.6M412.1 343.6L414.9 348.7M446.3 358.7L440.2 357.6M161.9 366.9L167.7 364.7M225.3 383.7L218.1 383.7M56.9 383.7L53.6 383.7M433.7 383.7L437.1 376.6M473.0 369.6L467.8 371.9M480.8 366.0L477.9 372.1M230.8 357.5L239.2 357.4M354.4 371.4L352.9 361.4M254.3 347.0L257.8 358.2M381.3 375.8L378.1 368.6M514.4 383.7L512.7 380.2M290.0 309.6L290.5 316.0M332.7 323.3L331.2 328.8M119.5 356.3L116.7 361.6M308.2 320.8L313.7 321.2M383.8 351.3L375.3 354.1M361.5 363.5L359.1 355.6M462.7 360.1L464.5 365.8M51.7 378.9L54.8 377.9M338.5 360.0L332.7 354.1M431.9 352.7L432.7 357.7M243.9 331.5L251.1 327.1M150.0 365.4L147.2 372.0M354.0 335.6L347.9 335.6M440.2 357.6L442.8 364.6M342.7 369.2L330.0 365.0M319.5 338.2L311.2 340.0M343.6 342.8L334.8 339.4M181.0 372.0L181.7 365.3M532.3 383.7L529.5 383.7M310.4 326.6L306.2 333.6M133.8 358.5L138.1 363.1M379.6 333.0L379.5 339.1M351.7 350.1L341.7 352.1M165.3 341.0L170.1 346.6M67.8 373.5L72.4 375.3M195.1 331.1L202.9 337.9M307.3 309.5L302.1 312.3M359.3 336.3L364.9 341.2M224.2 376.3L235.6 373.8M188.1 368.1L194.9 370.3M273.1 352.1L276.3 362.4M189.6 377.2L200.7 375.5M71.3 372.4L74.8 371.2M318.0 318.1L322.8 319.7M332.7 323.3L336.0 327.8M442.7 371.9L446.9 369.0M95.9 374.8L100.5 375.1M243.0 315.1L250.5 312.6M340.8 329.5L345.7 331.0M257.8 358.2L267.0 360.3M279.9 330.4L267.9 326.2M113.1 383.7L108.1 379.7M451.8 356.6L455.5 357.8M437.0 368.7L431.2 371.4M188.1 368.1L194.1 362.7M511.1 383.7L507.8 383.7M74.8 371.2L72.4 375.3M366.6 354.4L359.1 355.6M505.9 374.2L509.3 375.3M341.7 352.1L338.5 360.0M332.2 383.7L323.8 383.7M425.9 352.9L420.1 350.2M491.6 369.6L493.6 373.8M449.4 383.7L444.3 383.7M302.1 312.3L302.1 318.9M351.8 329.1L347.9 335.6M202.8 345.3L198.1 349.4M108.4 383.7L103.9 383.7M211.0 383.7L204.1 383.7M228.5 320.0L236.6 323.9M50.3 383.7L47.1 383.7M351.7 350.1L352.9 361.4M218.7 367.6L221.7 357.9M99.5 383.7L102.4 379.5M67.5 383.7L63.6 380.0M109.9 373.5L115.4 373.5M194.9 370.3L194.1 362.7M408.5 342.5L409.8 347.0M248.3 357.5L254.3 347.0M161.7 375.7L167.8 370.9M108.1 379.7L109.9 373.5M235.7 317.6L236.6 323.9M192.4 354.3L198.1 349.4M404.6 347.2L402.4 354.1M63.9 383.7L63.6 380.0M390.4 336.6L390.4 340.6M125.7 369.2L122.1 361.9M224.2 376.3L227.7 366.1M267.7 315.0L267.9 326.2M82.7 383.7L80.8 378.7M113.9 365.2L118.4 368.3M431.2 371.4L431.4 364.8M308.2 320.8L302.1 318.9M78.8 383.7L80.8 378.7M394.2 343.7L388.0 345.1M98.1 369.5L103.0 365.6M462.0 372.9L456.4 374.7M154.4 383.7L153.6 378.1M279.9 330.4L269.5 336.2M190.8 346.3L189.8 338.4M497.1 383.7L499.5 380.5M332.6 317.7L332.7 323.3M409.8 347.0L404.6 347.2M442.7 371.9L437.1 376.6M425.6 373.0L425.4 367.2M414.0 377.0L406.2 375.3M278.0 305.9L284.0 311.5M217.5 330.4L224.2 334.7M395.9 355.8L388.9 358.0M68.9 378.7L63.6 380.0M426.6 348.4L425.9 352.9M506.6 379.1L502.8 377.7M211.8 376.0L206.5 369.5M282.3 353.5L291.4 355.0M406.2 375.3L397.5 377.4M276.3 362.4L280.8 374.2M254.3 347.0L263.0 341.8M165.9 383.7L168.2 377.7M284.0 311.5L276.9 312.9M110.5 359.3L116.7 361.6M352.9 361.4L345.7 358.6M165.3 341.0L171.0 339.1M113.5 369.6L118.4 368.3M243.0 366.2L252.5 367.1M341.3 335.2L335.1 332.6M339.9 320.1L343.5 321.3M100.5 375.1L104.9 375.7M451.5 371.1L451.4 378.0M402.4 354.1L400.6 361.0M282.3 353.5L285.8 363.5M459.1 359.0L462.7 360.1M440.2 357.6L436.8 362.7M504.3 383.7L500.7 383.7M45.7 380.9L44.0 383.7M351.8 329.1L345.7 331.0M472.9 383.7L471.9 377.1M415.7 344.8L414.9 348.7M315.2 383.7L306.6 383.7M521.9 379.4L523.7 383.7M451.8 356.6L450.1 364.0M318.2 313.0L313.1 315.8M99.5 383.7L95.1 383.7M347.9 335.6L341.3 335.2M393.4 370.5L394.1 363.4M235.6 373.8L227.7 366.1M300.1 307.1L302.1 312.3M92.0 378.3L95.9 374.8M511.1 383.7L512.7 380.2M446.3 358.7L442.8 364.6M199.7 357.6L194.1 362.7M471.9 377.1L477.8 379.4M270.4 370.7L276.3 362.4M359.3 336.3L356.8 341.9M201.5 329.0L208.0 326.8M303.7 308.3L302.1 312.3M493.6 373.8L498.1 375.2M243.9 331.5L247.1 321.9M466.3 361.3L464.5 365.8M457.0 367.6L456.4 374.7M332.6 317.7L328.0 319.8M361.5 327.1L365.1 328.3M102.4 379.5L108.1 379.7M95.1 383.7L97.5 379.3M449.4 383.7L444.6 378.8M480.8 366.0L484.4 367.2M484.4 367.2L488.0 368.4M308.2 320.8L310.4 326.6M477.2 383.7L472.9 383.7M266.0 307.5L267.7 315.0M383.2 334.2L379.5 339.1M325.7 325.9L331.2 328.8M370.8 347.4L366.6 354.4M437.4 351.9L432.7 357.7M255.9 383.7L248.0 383.7M71.2 383.7L67.5 383.7M383.8 351.3L388.9 358.0M82.1 368.8L79.8 373.1M518.8 378.4L517.6 383.7M201.5 329.0L202.9 337.9M489.3 374.2L485.2 376.5M286.4 322.7L277.2 320.8M383.2 334.2L385.7 339.4M477.9 372.1L481.5 375.9M442.8 364.6L437.0 368.7M109.9 373.5L104.9 375.7M164.2 359.9L171.3 359.5M232.5 333.3L236.6 323.9M243.4 348.7L254.3 347.0M336.0 346.7L341.7 352.1M40.1 382.8L42.9 381.8M303.5 340.9L307.1 348.6M419.1 363.2L413.7 366.0M217.5 330.4L226.6 327.6M380.6 360.6L371.0 364.4M108.4 383.7L108.1 379.7M117.8 383.7L120.2 376.4M165.9 383.7L161.7 375.7M321.8 314.2L322.8 319.7M411.6 370.9L407.0 365.8M334.8 339.4L336.0 346.7M143.3 383.7L141.8 377.3M425.9 352.9L418.2 355.6M306.2 333.6L303.5 340.9M311.2 340.0L316.7 347.6M54.8 377.9L59.1 379.7M313.7 321.2L310.4 326.6M431.4 364.8L425.4 367.2M181.7 365.3L186.7 360.1M218.7 367.6L224.2 376.3M379.5 339.1L382.9 344.3M183.7 351.4L192.4 354.3M378.1 368.6L372.1 376.1M365.1 328.3L363.7 332.6M320.9 330.9L327.5 334.3M57.9 376.8L61.2 375.7" stroke="#9a92a6" stroke-width="0.5" fill="none"/>
<polyline points="203,336.6 204.75,336.41 206.5,336.2 208.25,335.66 210,335.62 211.54,335.43 213.08,335.3 214.62,334.97 216.15,335.29 217.69,335.36 219.23,335.04 220.77,335.55 222.31,335.39 223.85,335.39 225.38,334.98 226.92,334.76 228.46,334.78 230,335.24 231.54,335.07 233.08,335.15 234.62,334.77 236.15,334.71 237.69,334.59 239.23,334.5 240.77,335.23 242.31,335.59 243.85,335.64 245.38,335.27 246.92,335.55 248.46,335.85 250,335.45 251.54,335.42 253.08,335.24 254.62,335.16 256.15,334.93 257.69,334.89 259.23,334.65 260.77,334.65 262.31,334.86 263.85,334.74 265.38,334.95 266.92,334.97 268.46,335.14 270,334.87 271.54,334.61 273.08,334.6 274.62,334.19 276.15,334.16 277.69,333.77 279.23,333.56 280.77,333.93 282.31,334.4 283.85,334.36 285.38,334.11 286.92,333.91 288.46,333.76 290,334.08 291.54,333.87 293.08,334.01 294.62,334.12 296.15,334.43 297.69,334.5 299.23,334.55 300.77,334.79 302.31,334.62 303.85,334.8 305.38,334.48 306.92,334.97 308.46,335.39 310,335.65 311.54,335.83 313.08,336.04 314.62,336.22 316.15,336.05 317.69,335.87 319.23,336.66 320.77,337.01 322.31,337.32 323.85,337.6 325.38,337.21 326.92,337.48 328.46,337.83 330,337.83 331.54,337.62 333.08,338.45 334.62,338.4 336.15,339.02 337.69,339.15 339.23,339.16 340.77,339.05 342.31,338.7 343.85,338.8 345.38,338.83 346.92,339.12 348.46,339.1 350,339.35 351.54,340.07 353.08,340.2 354.62,340.42 356.15,340.79 357.69,341.37 359.23,341.55 360.77,341.96 362.31,341.73 363.85,341.63 365.38,342.22 366.92,342.33 368.46,342.39 370,342.59 371.54,343.31 373.08,343.89 374.62,344.22 376.15,344.68 377.69,345.08 379.23,344.99 380.77,345.03 382.31,345.47 383.85,345.71 385.38,345.85 386.92,346.64 388.46,347.36 390,348 391.54,348.17 393.08,348.63 394.62,348.88 396.15,349.3 397.69,349.9 399.23,350.11 400.77,350.86 402.31,350.42 403.85,350.63 405.38,351.12 406.92,351.52 408.46,352.07 410,352.35 411.54,352.67 413.08,353.39 414.62,354.06 416.15,354.34 417.69,354.72 419.23,354.89 420.77,355.66 422.31,356.62 423.85,357.24 425.38,357.83 426.92,358.57 428.46,359.09 430,359.45 431.43,359.99 432.86,360.21 434.29,360.44 435.71,361.17 437.14,362.17 438.57,362.75 440,363.24 441.43,364.16 442.86,364.59 444.29,365.06 445.71,366.03 447.14,366.45 448.57,367.24 450,368.18 451.5,368.33 453,369.1 454.5,369.8 456,370.28 457.5,369.94 459,370.06 460.5,370.07 462,370.4 463.5,370.77 465,370.9 466.5,371.15 468,371.57 469.5,371.55 471,371.4 472.5,371.64 474,371.73 475.5,371.75 477,372.1 478.5,372.11 480,372.14 481.6,372.02 483.2,371.63 484.8,371.39 486.4,371.02 488,370.76 489.67,370.99 491.33,371.25 493,370.97 494.67,371.57 496.33,371.73 498,372.08" fill="none" stroke="#2a3aa8" stroke-width="0.9" stroke-linejoin="round"/>
<polyline points="203,337.39 204.75,337.41 206.5,336.8 208.25,336.98 210,336.31 211.54,336.15 213.08,335.95 214.62,336.02 216.15,335.78 217.69,335.9 219.23,336.36 220.77,336.38 222.31,335.84 223.85,335.54 225.38,336.22 226.92,336.6 228.46,336.13 230,335.95 231.54,336.25 233.08,336.26 234.62,336.14 236.15,336.31 237.69,336.24 239.23,336.03 240.77,335.43 242.31,335.35 243.85,335.05 245.38,335 246.92,335.51 248.46,335.39 250,335.47 251.54,335.71 253.08,335.48 254.62,335.82 256.15,335.67 257.69,335.3 259.23,335.45 260.77,335.6 262.31,335.62 263.85,335.44 265.38,335.03 266.92,335.37 268.46,335.07 270,335.1 271.54,335.34 273.08,335.3 274.62,335.7 276.15,335.84 277.69,335.64 279.23,335.8 280.77,335.68 282.31,335.6 283.85,335.2 285.38,335.03 286.92,334.79 288.46,335.23 290,335.21 291.54,335.16 293.08,335.2 294.62,334.92 296.15,334.99 297.69,335.2 299.23,335.29 300.77,335.54 302.31,335.92 303.85,335.92 305.38,335.93 306.92,335.74 308.46,335.81 310,335.68 311.54,336.03 313.08,336.08 314.62,336.38 316.15,336.54 317.69,337.17 319.23,337.02 320.77,337.2 322.31,337 323.85,337.26 325.38,337.78 326.92,337.93 328.46,338.03 330,338.47 331.54,338.9 333.08,339.1 334.62,339.26 336.15,339.15 337.69,339.12 339.23,339.36 340.77,339.26 342.31,339.72 343.85,340.04 345.38,340.6 346.92,340.44 348.46,340.85 350,341.19 351.54,341.68 353.08,342.06 354.62,341.82 356.15,342.08 357.69,342.62 359.23,342.6 360.77,342.42 362.31,342.82 363.85,343.27 365.38,343.44 366.92,343.52 368.46,344.2 370,344.69 371.54,344.95 373.08,344.81 374.62,345.32 376.15,345.28 377.69,345.29 379.23,345.68 380.77,346.29 382.31,346.9 383.85,347.35 385.38,347.77 386.92,347.87 388.46,348.14 390,348.54 391.54,348.94 393.08,349.09 394.62,349.46 396.15,349.7 397.69,350.14 399.23,350.38 400.77,350.98 402.31,351.79 403.85,352.23 405.38,352.66 406.92,352.96 408.46,353.45 410,353.78 411.54,353.71 413.08,354.27 414.62,354.53 416.15,355.17 417.69,355.58 419.23,356.2 420.77,356.39 422.31,356.92 423.85,356.9 425.38,357.79 426.92,358.31 428.46,358.48 430,359.3 431.43,360.29 432.86,360.74 434.29,361.71 435.71,362.08 437.14,362.72 438.57,363.27 440,363.74 441.43,364.01 442.86,364.93 444.29,365.97 445.71,366.47 447.14,367.33 448.57,367.91 450,368.7 451.5,368.67 453,368.86 454.5,369.51 456,369.8 457.5,370.06 459,370.74 460.5,371.5 462,371.88 463.5,372.65 465,372.94 466.5,372.88 468,373.27 469.5,373.44 471,373.58 472.5,373.21 474,373.47 475.5,373.74 477,373.84 478.5,373.88 480,373.63 481.6,373.63 483.2,373.32 484.8,372.45 486.4,371.73 488,371.31 489.67,371.76 491.33,371.6 493,372.11 494.67,372.26 496.33,372.36 498,372.45" fill="none" stroke="#2a3aa8" stroke-width="0.8" stroke-linejoin="round"/>
<polygon points="64,374.8 100,362.8 104,369 101,378 90,378.5 64,376.5" fill="#f50a0a" fill-opacity="0.95" clip-path="url(#damc)"/>
<polygon points="96,369 131,363 157,356 170,340.97 200,330.97 225,323.13 238,318.3 238,320.8 225,334 200,345 160,361.5 131,371 110,377 96,382" fill="#f50a0a" fill-opacity="0.14" clip-path="url(#damc)"/>
<path clip-path="url(#damc)" d="M97.3 374a2.7 2.7 0 1 0 5.4 0a2.7 2.7 0 1 0 -5.4 0M103.74 372.55a2.7 2.7 0 1 0 5.4 0a2.7 2.7 0 1 0 -5.4 0M110.18 371.09a2.7 2.7 0 1 0 5.4 0a2.7 2.7 0 1 0 -5.4 0M116.61 369.64a2.7 2.7 0 1 0 5.4 0a2.7 2.7 0 1 0 -5.4 0M123.05 368.19a2.7 2.7 0 1 0 5.4 0a2.7 2.7 0 1 0 -5.4 0M129.48 366.68a2.7 2.7 0 1 0 5.4 0a2.7 2.7 0 1 0 -5.4 0M135.85 364.97a2.7 2.7 0 1 0 5.4 0a2.7 2.7 0 1 0 -5.4 0M142.22 363.25a2.7 2.7 0 1 0 5.4 0a2.7 2.7 0 1 0 -5.4 0M148.6 361.54a2.7 2.7 0 1 0 5.4 0a2.7 2.7 0 1 0 -5.4 0M154.94 359.74a2.7 2.7 0 1 0 5.4 0a2.7 2.7 0 1 0 -5.4 0M161.04 357.22a2.7 2.7 0 1 0 5.4 0a2.7 2.7 0 1 0 -5.4 0M167.14 354.7a2.7 2.7 0 1 0 5.4 0a2.7 2.7 0 1 0 -5.4 0M169.94 349.1a2.4 2.4 0 1 0 4.8 0a2.4 2.4 0 1 0 -4.8 0M173.24 352.18a2.7 2.7 0 1 0 5.4 0a2.7 2.7 0 1 0 -5.4 0M176.04 346.58a2.4 2.4 0 1 0 4.8 0a2.4 2.4 0 1 0 -4.8 0M179.31 349.59a2.7 2.7 0 1 0 5.4 0a2.7 2.7 0 1 0 -5.4 0M182.11 343.99a2.4 2.4 0 1 0 4.8 0a2.4 2.4 0 1 0 -4.8 0M185.33 346.89a2.7 2.7 0 1 0 5.4 0a2.7 2.7 0 1 0 -5.4 0M188.13 341.29a2.4 2.4 0 1 0 4.8 0a2.4 2.4 0 1 0 -4.8 0M191.35 344.18a2.7 2.7 0 1 0 5.4 0a2.7 2.7 0 1 0 -5.4 0M194.15 338.58a2.4 2.4 0 1 0 4.8 0a2.4 2.4 0 1 0 -4.8 0M197.37 341.47a2.7 2.7 0 1 0 5.4 0a2.7 2.7 0 1 0 -5.4 0M200.17 335.87a2.4 2.4 0 1 0 4.8 0a2.4 2.4 0 1 0 -4.8 0M203.33 338.64a2.7 2.7 0 1 0 5.4 0a2.7 2.7 0 1 0 -5.4 0M206.13 333.04a2.4 2.4 0 1 0 4.8 0a2.4 2.4 0 1 0 -4.8 0M209.29 335.8a2.7 2.7 0 1 0 5.4 0a2.7 2.7 0 1 0 -5.4 0M212.09 330.2a2.4 2.4 0 1 0 4.8 0a2.4 2.4 0 1 0 -4.8 0M215.25 332.97a2.7 2.7 0 1 0 5.4 0a2.7 2.7 0 1 0 -5.4 0M218.05 327.37a2.4 2.4 0 1 0 4.8 0a2.4 2.4 0 1 0 -4.8 0M221.23 330.16a2.7 2.7 0 1 0 5.4 0a2.7 2.7 0 1 0 -5.4 0M224.03 324.56a2.4 2.4 0 1 0 4.8 0a2.4 2.4 0 1 0 -4.8 0M227.2 327.36a2.7 2.7 0 1 0 5.4 0a2.7 2.7 0 1 0 -5.4 0M230 321.76a2.4 2.4 0 1 0 4.8 0a2.4 2.4 0 1 0 -4.8 0M233.18 324.56a2.7 2.7 0 1 0 5.4 0a2.7 2.7 0 1 0 -5.4 0M235.98 318.96a2.4 2.4 0 1 0 4.8 0a2.4 2.4 0 1 0 -4.8 0" fill="#f03030" fill-opacity="0.3" stroke="#f02a2a" stroke-width="1.0" stroke-opacity="0.8"/>
<path clip-path="url(#damc)" d="M98.8 374a1.2 1.2 0 1 0 2.4 0a1.2 1.2 0 1 0 -2.4 0M105.24 372.55a1.2 1.2 0 1 0 2.4 0a1.2 1.2 0 1 0 -2.4 0M111.68 371.09a1.2 1.2 0 1 0 2.4 0a1.2 1.2 0 1 0 -2.4 0M118.11 369.64a1.2 1.2 0 1 0 2.4 0a1.2 1.2 0 1 0 -2.4 0M124.55 368.19a1.2 1.2 0 1 0 2.4 0a1.2 1.2 0 1 0 -2.4 0M130.98 366.68a1.2 1.2 0 1 0 2.4 0a1.2 1.2 0 1 0 -2.4 0M137.35 364.97a1.2 1.2 0 1 0 2.4 0a1.2 1.2 0 1 0 -2.4 0M143.72 363.25a1.2 1.2 0 1 0 2.4 0a1.2 1.2 0 1 0 -2.4 0M150.1 361.54a1.2 1.2 0 1 0 2.4 0a1.2 1.2 0 1 0 -2.4 0M156.44 359.74a1.2 1.2 0 1 0 2.4 0a1.2 1.2 0 1 0 -2.4 0M162.54 357.22a1.2 1.2 0 1 0 2.4 0a1.2 1.2 0 1 0 -2.4 0M168.64 354.7a1.2 1.2 0 1 0 2.4 0a1.2 1.2 0 1 0 -2.4 0M171.24 349.1a1.1 1.1 0 1 0 2.2 0a1.1 1.1 0 1 0 -2.2 0M174.74 352.18a1.2 1.2 0 1 0 2.4 0a1.2 1.2 0 1 0 -2.4 0M177.34 346.58a1.1 1.1 0 1 0 2.2 0a1.1 1.1 0 1 0 -2.2 0M180.81 349.59a1.2 1.2 0 1 0 2.4 0a1.2 1.2 0 1 0 -2.4 0M183.41 343.99a1.1 1.1 0 1 0 2.2 0a1.1 1.1 0 1 0 -2.2 0M186.83 346.89a1.2 1.2 0 1 0 2.4 0a1.2 1.2 0 1 0 -2.4 0M189.43 341.29a1.1 1.1 0 1 0 2.2 0a1.1 1.1 0 1 0 -2.2 0M192.85 344.18a1.2 1.2 0 1 0 2.4 0a1.2 1.2 0 1 0 -2.4 0M195.45 338.58a1.1 1.1 0 1 0 2.2 0a1.1 1.1 0 1 0 -2.2 0M198.87 341.47a1.2 1.2 0 1 0 2.4 0a1.2 1.2 0 1 0 -2.4 0M201.47 335.87a1.1 1.1 0 1 0 2.2 0a1.1 1.1 0 1 0 -2.2 0M204.83 338.64a1.2 1.2 0 1 0 2.4 0a1.2 1.2 0 1 0 -2.4 0M207.43 333.04a1.1 1.1 0 1 0 2.2 0a1.1 1.1 0 1 0 -2.2 0M210.79 335.8a1.2 1.2 0 1 0 2.4 0a1.2 1.2 0 1 0 -2.4 0M213.39 330.2a1.1 1.1 0 1 0 2.2 0a1.1 1.1 0 1 0 -2.2 0M216.75 332.97a1.2 1.2 0 1 0 2.4 0a1.2 1.2 0 1 0 -2.4 0M219.35 327.37a1.1 1.1 0 1 0 2.2 0a1.1 1.1 0 1 0 -2.2 0M222.73 330.16a1.2 1.2 0 1 0 2.4 0a1.2 1.2 0 1 0 -2.4 0M225.33 324.56a1.1 1.1 0 1 0 2.2 0a1.1 1.1 0 1 0 -2.2 0M228.7 327.36a1.2 1.2 0 1 0 2.4 0a1.2 1.2 0 1 0 -2.4 0M231.3 321.76a1.1 1.1 0 1 0 2.2 0a1.1 1.1 0 1 0 -2.2 0M234.68 324.56a1.2 1.2 0 1 0 2.4 0a1.2 1.2 0 1 0 -2.4 0M237.28 318.96a1.1 1.1 0 1 0 2.2 0a1.1 1.1 0 1 0 -2.2 0" fill="#f50a0a"/>
<path d="M170.19 355.61a0.92 0.92 0 1 0 1.84 0a0.92 0.92 0 1 0 -1.84 0M130.49 370.23a0.79 0.79 0 1 0 1.58 0a0.79 0.79 0 1 0 -1.58 0M205.34 340.08a0.93 0.93 0 1 0 1.87 0a0.93 0.93 0 1 0 -1.87 0M169.88 344.19a0.61 0.61 0 1 0 1.23 0a0.61 0.61 0 1 0 -1.23 0M161.11 356.13a0.9 0.9 0 1 0 1.79 0a0.9 0.9 0 1 0 -1.79 0M132.92 366.19a0.85 0.85 0 1 0 1.7 0a0.85 0.85 0 1 0 -1.7 0M172.43 347.71a0.7 0.7 0 1 0 1.41 0a0.7 0.7 0 1 0 -1.41 0M128.66 364.26a0.82 0.82 0 1 0 1.63 0a0.82 0.82 0 1 0 -1.63 0M190.43 336.18a0.94 0.94 0 1 0 1.88 0a0.94 0.94 0 1 0 -1.88 0M170.72 351.45a0.98 0.98 0 1 0 1.97 0a0.98 0.98 0 1 0 -1.97 0M205.88 337.25a0.94 0.94 0 1 0 1.88 0a0.94 0.94 0 1 0 -1.88 0M109.32 373.39a0.8 0.8 0 1 0 1.6 0a0.8 0.8 0 1 0 -1.6 0M157.15 357.09a0.58 0.58 0 1 0 1.17 0a0.58 0.58 0 1 0 -1.17 0M99.38 378.47a0.62 0.62 0 1 0 1.23 0a0.62 0.62 0 1 0 -1.23 0M119.02 373.11a0.79 0.79 0 1 0 1.58 0a0.79 0.79 0 1 0 -1.58 0M132.84 363.73a0.95 0.95 0 1 0 1.9 0a0.95 0.95 0 1 0 -1.9 0M103.17 375.4a0.62 0.62 0 1 0 1.23 0a0.62 0.62 0 1 0 -1.23 0M196.18 335.66a0.67 0.67 0 1 0 1.34 0a0.67 0.67 0 1 0 -1.34 0M217 327.28a0.63 0.63 0 1 0 1.25 0a0.63 0.63 0 1 0 -1.25 0M199.25 335.88a0.92 0.92 0 1 0 1.85 0a0.92 0.92 0 1 0 -1.85 0M183.39 351.23a0.8 0.8 0 1 0 1.59 0a0.8 0.8 0 1 0 -1.59 0M141.02 362.8a0.97 0.97 0 1 0 1.94 0a0.97 0.97 0 1 0 -1.94 0M164.19 349.51a0.51 0.51 0 1 0 1.01 0a0.51 0.51 0 1 0 -1.01 0M178.19 340.86a0.7 0.7 0 1 0 1.39 0a0.7 0.7 0 1 0 -1.39 0M107.61 367.82a0.9 0.9 0 1 0 1.8 0a0.9 0.9 0 1 0 -1.8 0M98.11 379.16a0.81 0.81 0 1 0 1.62 0a0.81 0.81 0 1 0 -1.62 0M190.53 341.03a0.77 0.77 0 1 0 1.53 0a0.77 0.77 0 1 0 -1.53 0M205.39 334.12a0.97 0.97 0 1 0 1.93 0a0.97 0.97 0 1 0 -1.93 0M188.2 339.35a0.69 0.69 0 1 0 1.38 0a0.69 0.69 0 1 0 -1.38 0M202.48 334.18a0.52 0.52 0 1 0 1.04 0a0.52 0.52 0 1 0 -1.04 0M125.73 368.83a0.63 0.63 0 1 0 1.25 0a0.63 0.63 0 1 0 -1.25 0M191.59 340.36a0.81 0.81 0 1 0 1.61 0a0.81 0.81 0 1 0 -1.61 0M147.29 364.24a0.64 0.64 0 1 0 1.29 0a0.64 0.64 0 1 0 -1.29 0M220.82 329.94a0.52 0.52 0 1 0 1.03 0a0.52 0.52 0 1 0 -1.03 0M178.88 339.89a0.54 0.54 0 1 0 1.07 0a0.54 0.54 0 1 0 -1.07 0M235.66 319a0.98 0.98 0 1 0 1.97 0a0.98 0.98 0 1 0 -1.97 0M95.78 370.36a0.85 0.85 0 1 0 1.7 0a0.85 0.85 0 1 0 -1.7 0M128.4 363.49a0.76 0.76 0 1 0 1.51 0a0.76 0.76 0 1 0 -1.51 0M104.14 373.13a0.79 0.79 0 1 0 1.58 0a0.79 0.79 0 1 0 -1.58 0M113.31 368.33a0.51 0.51 0 1 0 1.03 0a0.51 0.51 0 1 0 -1.03 0M213.15 338.81a0.82 0.82 0 1 0 1.64 0a0.82 0.82 0 1 0 -1.64 0M164.31 351.22a0.61 0.61 0 1 0 1.22 0a0.61 0.61 0 1 0 -1.22 0M198.91 341.28a0.7 0.7 0 1 0 1.41 0a0.7 0.7 0 1 0 -1.41 0M152.64 358.43a0.86 0.86 0 1 0 1.72 0a0.86 0.86 0 1 0 -1.72 0M108.64 370.47a0.58 0.58 0 1 0 1.17 0a0.58 0.58 0 1 0 -1.17 0M153.27 363.43a0.67 0.67 0 1 0 1.33 0a0.67 0.67 0 1 0 -1.33 0M234.85 321.18a0.91 0.91 0 1 0 1.82 0a0.91 0.91 0 1 0 -1.82 0M165.13 348.36a0.6 0.6 0 1 0 1.2 0a0.6 0.6 0 1 0 -1.2 0M196.66 338.5a0.55 0.55 0 1 0 1.1 0a0.55 0.55 0 1 0 -1.1 0M232.4 321.36a0.95 0.95 0 1 0 1.89 0a0.95 0.95 0 1 0 -1.89 0M191.91 340.84a0.62 0.62 0 1 0 1.25 0a0.62 0.62 0 1 0 -1.25 0M170.48 341.36a0.82 0.82 0 1 0 1.64 0a0.82 0.82 0 1 0 -1.64 0M168.63 343.6a0.63 0.63 0 1 0 1.25 0a0.63 0.63 0 1 0 -1.25 0M121.85 373.28a0.77 0.77 0 1 0 1.54 0a0.77 0.77 0 1 0 -1.54 0M185.09 341.35a0.8 0.8 0 1 0 1.61 0a0.8 0.8 0 1 0 -1.61 0M194.64 340.91a0.92 0.92 0 1 0 1.85 0a0.92 0.92 0 1 0 -1.85 0M165.53 358.94a0.53 0.53 0 1 0 1.06 0a0.53 0.53 0 1 0 -1.06 0M152.13 362.62a0.89 0.89 0 1 0 1.78 0a0.89 0.89 0 1 0 -1.78 0M172.64 341.55a0.75 0.75 0 1 0 1.5 0a0.75 0.75 0 1 0 -1.5 0M227.05 327.77a0.81 0.81 0 1 0 1.62 0a0.81 0.81 0 1 0 -1.62 0M196.4 333.36a0.64 0.64 0 1 0 1.28 0a0.64 0.64 0 1 0 -1.28 0M165.69 357.75a0.88 0.88 0 1 0 1.76 0a0.88 0.88 0 1 0 -1.76 0M195.14 337.98a0.51 0.51 0 1 0 1.03 0a0.51 0.51 0 1 0 -1.03 0M199.12 344.61a0.79 0.79 0 1 0 1.57 0a0.79 0.79 0 1 0 -1.57 0M203.69 342.6a0.57 0.57 0 1 0 1.14 0a0.57 0.57 0 1 0 -1.14 0M165.67 345.63a0.81 0.81 0 1 0 1.62 0a0.81 0.81 0 1 0 -1.62 0M143.97 359.62a0.54 0.54 0 1 0 1.07 0a0.54 0.54 0 1 0 -1.07 0M99.6 375.86a0.84 0.84 0 1 0 1.69 0a0.84 0.84 0 1 0 -1.69 0M119.39 367.58a0.69 0.69 0 1 0 1.38 0a0.69 0.69 0 1 0 -1.38 0M235.78 319.06a0.63 0.63 0 1 0 1.27 0a0.63 0.63 0 1 0 -1.27 0M215.58 330.14a0.89 0.89 0 1 0 1.77 0a0.89 0.89 0 1 0 -1.77 0M228.93 321.59a0.95 0.95 0 1 0 1.9 0a0.95 0.95 0 1 0 -1.9 0M125 372.26a0.56 0.56 0 1 0 1.12 0a0.56 0.56 0 1 0 -1.12 0M231.67 324.61a0.72 0.72 0 1 0 1.43 0a0.72 0.72 0 1 0 -1.43 0M209.76 327.92a0.93 0.93 0 1 0 1.85 0a0.93 0.93 0 1 0 -1.85 0M108.55 368.98a0.77 0.77 0 1 0 1.54 0a0.77 0.77 0 1 0 -1.54 0M212.53 338.87a0.66 0.66 0 1 0 1.32 0a0.66 0.66 0 1 0 -1.32 0M191.99 347.04a0.61 0.61 0 1 0 1.23 0a0.61 0.61 0 1 0 -1.23 0M169.8 341.21a0.85 0.85 0 1 0 1.7 0a0.85 0.85 0 1 0 -1.7 0M146.48 362.94a0.55 0.55 0 1 0 1.11 0a0.55 0.55 0 1 0 -1.11 0M196.87 342.72a0.91 0.91 0 1 0 1.82 0a0.91 0.91 0 1 0 -1.82 0M194.03 344.38a0.73 0.73 0 1 0 1.46 0a0.73 0.73 0 1 0 -1.46 0M109.92 369.86a0.82 0.82 0 1 0 1.65 0a0.82 0.82 0 1 0 -1.65 0M192.95 333.63a0.78 0.78 0 1 0 1.56 0a0.78 0.78 0 1 0 -1.56 0M162.97 358.75a0.97 0.97 0 1 0 1.94 0a0.97 0.97 0 1 0 -1.94 0M111.66 374.21a0.96 0.96 0 1 0 1.93 0a0.96 0.96 0 1 0 -1.93 0M205.25 340.26a0.96 0.96 0 1 0 1.93 0a0.96 0.96 0 1 0 -1.93 0M139.55 365.85a0.93 0.93 0 1 0 1.87 0a0.93 0.93 0 1 0 -1.87 0M188.46 344.17a0.53 0.53 0 1 0 1.05 0a0.53 0.53 0 1 0 -1.05 0M140.4 362.32a0.85 0.85 0 1 0 1.7 0a0.85 0.85 0 1 0 -1.7 0M222.01 333.71a0.52 0.52 0 1 0 1.04 0a0.52 0.52 0 1 0 -1.04 0M227.46 322.22a0.52 0.52 0 1 0 1.04 0a0.52 0.52 0 1 0 -1.04 0M158.57 359.29a0.53 0.53 0 1 0 1.06 0a0.53 0.53 0 1 0 -1.06 0M205.72 335.59a0.8 0.8 0 1 0 1.6 0a0.8 0.8 0 1 0 -1.6 0M217.12 329.15a0.57 0.57 0 1 0 1.14 0a0.57 0.57 0 1 0 -1.14 0M166.36 356.67a0.69 0.69 0 1 0 1.38 0a0.69 0.69 0 1 0 -1.38 0M187.68 337.66a0.72 0.72 0 1 0 1.44 0a0.72 0.72 0 1 0 -1.44 0M132.61 362.86a0.61 0.61 0 1 0 1.21 0a0.61 0.61 0 1 0 -1.21 0M198.24 333.18a0.82 0.82 0 1 0 1.64 0a0.82 0.82 0 1 0 -1.64 0M140.7 363.11a0.79 0.79 0 1 0 1.57 0a0.79 0.79 0 1 0 -1.57 0M220.45 327.34a0.69 0.69 0 1 0 1.37 0a0.69 0.69 0 1 0 -1.37 0M109.16 375.51a0.8 0.8 0 1 0 1.59 0a0.8 0.8 0 1 0 -1.59 0M109.54 368.6a0.87 0.87 0 1 0 1.75 0a0.87 0.87 0 1 0 -1.75 0M180.61 341.19a0.88 0.88 0 1 0 1.76 0a0.88 0.88 0 1 0 -1.76 0M189.84 344.27a0.53 0.53 0 1 0 1.06 0a0.53 0.53 0 1 0 -1.06 0M192.14 346.11a0.56 0.56 0 1 0 1.12 0a0.56 0.56 0 1 0 -1.12 0M189.58 341.23a0.62 0.62 0 1 0 1.23 0a0.62 0.62 0 1 0 -1.23 0M125.05 369.66a0.78 0.78 0 1 0 1.57 0a0.78 0.78 0 1 0 -1.57 0M162.5 351.08a0.84 0.84 0 1 0 1.67 0a0.84 0.84 0 1 0 -1.67 0M188.73 335.03a0.79 0.79 0 1 0 1.59 0a0.79 0.79 0 1 0 -1.59 0M169.1 350.3a0.84 0.84 0 1 0 1.67 0a0.84 0.84 0 1 0 -1.67 0M226.59 329.3a0.65 0.65 0 1 0 1.31 0a0.65 0.65 0 1 0 -1.31 0M197.92 336.16a0.99 0.99 0 1 0 1.97 0a0.99 0.99 0 1 0 -1.97 0M197.36 338.39a0.61 0.61 0 1 0 1.23 0a0.61 0.61 0 1 0 -1.23 0M197 340.7a0.74 0.74 0 1 0 1.48 0a0.74 0.74 0 1 0 -1.48 0M114.95 365.63a0.8 0.8 0 1 0 1.6 0a0.8 0.8 0 1 0 -1.6 0M112.23 373.95a0.95 0.95 0 1 0 1.91 0a0.95 0.95 0 1 0 -1.91 0M112.77 371.12a0.64 0.64 0 1 0 1.27 0a0.64 0.64 0 1 0 -1.27 0M182.24 350.39a0.81 0.81 0 1 0 1.62 0a0.81 0.81 0 1 0 -1.62 0M165.56 357.47a0.71 0.71 0 1 0 1.42 0a0.71 0.71 0 1 0 -1.42 0M109.98 376.76a0.65 0.65 0 1 0 1.29 0a0.65 0.65 0 1 0 -1.29 0M175.01 352.66a0.77 0.77 0 1 0 1.53 0a0.77 0.77 0 1 0 -1.53 0M177.71 350.26a0.65 0.65 0 1 0 1.3 0a0.65 0.65 0 1 0 -1.3 0M161.14 359.74a0.72 0.72 0 1 0 1.44 0a0.72 0.72 0 1 0 -1.44 0M109.88 375a0.79 0.79 0 1 0 1.59 0a0.79 0.79 0 1 0 -1.59 0M107 374.53a0.69 0.69 0 1 0 1.38 0a0.69 0.69 0 1 0 -1.38 0M203.77 332.51a0.77 0.77 0 1 0 1.54 0a0.77 0.77 0 1 0 -1.54 0M147.27 360.77a0.62 0.62 0 1 0 1.25 0a0.62 0.62 0 1 0 -1.25 0M112.56 374.6a0.8 0.8 0 1 0 1.6 0a0.8 0.8 0 1 0 -1.6 0M229.78 324.18a0.74 0.74 0 1 0 1.49 0a0.74 0.74 0 1 0 -1.49 0M226.94 326.47a0.88 0.88 0 1 0 1.76 0a0.88 0.88 0 1 0 -1.76 0M182.85 342.42a0.87 0.87 0 1 0 1.74 0a0.87 0.87 0 1 0 -1.74 0M189.59 338.31a0.83 0.83 0 1 0 1.65 0a0.83 0.83 0 1 0 -1.65 0M121.35 370.43a0.82 0.82 0 1 0 1.65 0a0.82 0.82 0 1 0 -1.65 0M119.58 366.44a0.97 0.97 0 1 0 1.94 0a0.97 0.97 0 1 0 -1.94 0M168.42 353.23a0.71 0.71 0 1 0 1.42 0a0.71 0.71 0 1 0 -1.42 0M190.68 334.04a0.65 0.65 0 1 0 1.3 0a0.65 0.65 0 1 0 -1.3 0M175.21 350.82a0.71 0.71 0 1 0 1.41 0a0.71 0.71 0 1 0 -1.41 0M134.93 364.4a0.62 0.62 0 1 0 1.23 0a0.62 0.62 0 1 0 -1.23 0M135.1 362.64a0.54 0.54 0 1 0 1.09 0a0.54 0.54 0 1 0 -1.09 0M180.3 339.63a1 1 0 1 0 2 0a1 1 0 1 0 -2 0M215.31 328.58a0.57 0.57 0 1 0 1.14 0a0.57 0.57 0 1 0 -1.14 0M217.79 325.91a0.59 0.59 0 1 0 1.18 0a0.59 0.59 0 1 0 -1.18 0M159.02 354.27a0.89 0.89 0 1 0 1.78 0a0.89 0.89 0 1 0 -1.78 0M168.59 349.84a0.59 0.59 0 1 0 1.17 0a0.59 0.59 0 1 0 -1.17 0M187 344.41a0.94 0.94 0 1 0 1.88 0a0.94 0.94 0 1 0 -1.88 0M221.09 325.05a0.73 0.73 0 1 0 1.47 0a0.73 0.73 0 1 0 -1.47 0M130.79 368.43a0.71 0.71 0 1 0 1.42 0a0.71 0.71 0 1 0 -1.42 0M198.82 336.37a0.91 0.91 0 1 0 1.82 0a0.91 0.91 0 1 0 -1.82 0M147.81 359.6a1 1 0 1 0 1.99 0a1 1 0 1 0 -1.99 0M188.12 342.02a0.61 0.61 0 1 0 1.22 0a0.61 0.61 0 1 0 -1.22 0M172.38 348.32a0.99 0.99 0 1 0 1.98 0a0.99 0.99 0 1 0 -1.98 0M164.4 354.5a0.91 0.91 0 1 0 1.82 0a0.91 0.91 0 1 0 -1.82 0M201.01 338.92a0.91 0.91 0 1 0 1.83 0a0.91 0.91 0 1 0 -1.83 0M175.53 342.33a0.64 0.64 0 1 0 1.29 0a0.64 0.64 0 1 0 -1.29 0M186.95 348.93a0.7 0.7 0 1 0 1.41 0a0.7 0.7 0 1 0 -1.41 0M190.74 333.89a0.55 0.55 0 1 0 1.1 0a0.55 0.55 0 1 0 -1.1 0M142.62 363.96a0.9 0.9 0 1 0 1.81 0a0.9 0.9 0 1 0 -1.81 0M172.12 341.8a0.77 0.77 0 1 0 1.53 0a0.77 0.77 0 1 0 -1.53 0M221.51 330.44a0.99 0.99 0 1 0 1.99 0a0.99 0.99 0 1 0 -1.99 0M206.71 331.45a0.66 0.66 0 1 0 1.32 0a0.66 0.66 0 1 0 -1.32 0M100.86 379.88a0.92 0.92 0 1 0 1.84 0a0.92 0.92 0 1 0 -1.84 0M169.83 350.28a0.64 0.64 0 1 0 1.27 0a0.64 0.64 0 1 0 -1.27 0M208.77 337.29a0.51 0.51 0 1 0 1.02 0a0.51 0.51 0 1 0 -1.02 0M95.31 377.49a0.81 0.81 0 1 0 1.61 0a0.81 0.81 0 1 0 -1.61 0M165.53 355.54a0.8 0.8 0 1 0 1.59 0a0.8 0.8 0 1 0 -1.59 0M167.09 346.31a0.7 0.7 0 1 0 1.4 0a0.7 0.7 0 1 0 -1.4 0M175.69 340.76a0.83 0.83 0 1 0 1.66 0a0.83 0.83 0 1 0 -1.66 0M196.31 335.87a0.86 0.86 0 1 0 1.73 0a0.86 0.86 0 1 0 -1.73 0M105.04 369.77a0.58 0.58 0 1 0 1.16 0a0.58 0.58 0 1 0 -1.16 0M188.37 347.82a0.55 0.55 0 1 0 1.11 0a0.55 0.55 0 1 0 -1.11 0M167.34 356.01a0.52 0.52 0 1 0 1.03 0a0.52 0.52 0 1 0 -1.03 0M143.89 360.47a0.55 0.55 0 1 0 1.1 0a0.55 0.55 0 1 0 -1.1 0M138.37 366.61a0.98 0.98 0 1 0 1.95 0a0.98 0.98 0 1 0 -1.95 0M219.08 331.24a0.82 0.82 0 1 0 1.65 0a0.82 0.82 0 1 0 -1.65 0M105.65 368.23a0.81 0.81 0 1 0 1.63 0a0.81 0.81 0 1 0 -1.63 0M162.42 352.9a0.57 0.57 0 1 0 1.14 0a0.57 0.57 0 1 0 -1.14 0M186.9 344.77a0.86 0.86 0 1 0 1.72 0a0.86 0.86 0 1 0 -1.72 0M199.25 339.62a0.8 0.8 0 1 0 1.6 0a0.8 0.8 0 1 0 -1.6 0M224.76 326.45a0.61 0.61 0 1 0 1.22 0a0.61 0.61 0 1 0 -1.22 0M205.53 332.02a0.99 0.99 0 1 0 1.99 0a0.99 0.99 0 1 0 -1.99 0M226.79 322.4a0.78 0.78 0 1 0 1.57 0a0.78 0.78 0 1 0 -1.57 0M132.92 369.42a0.77 0.77 0 1 0 1.54 0a0.77 0.77 0 1 0 -1.54 0M207.63 333.69a0.82 0.82 0 1 0 1.64 0a0.82 0.82 0 1 0 -1.64 0M213.44 333.32a0.71 0.71 0 1 0 1.42 0a0.71 0.71 0 1 0 -1.42 0M201.48 335.13a0.71 0.71 0 1 0 1.42 0a0.71 0.71 0 1 0 -1.42 0M166.68 358.23a0.81 0.81 0 1 0 1.62 0a0.81 0.81 0 1 0 -1.62 0M97.79 372.06a0.6 0.6 0 1 0 1.2 0a0.6 0.6 0 1 0 -1.2 0M222.1 328.82a0.61 0.61 0 1 0 1.22 0a0.61 0.61 0 1 0 -1.22 0M121.35 367.58a0.84 0.84 0 1 0 1.68 0a0.84 0.84 0 1 0 -1.68 0M183.79 346.45a0.95 0.95 0 1 0 1.9 0a0.95 0.95 0 1 0 -1.9 0M105.47 377.23a0.92 0.92 0 1 0 1.83 0a0.92 0.92 0 1 0 -1.83 0M125.09 364.07a0.64 0.64 0 1 0 1.29 0a0.64 0.64 0 1 0 -1.29 0M101.41 371.34a0.55 0.55 0 1 0 1.11 0a0.55 0.55 0 1 0 -1.11 0M106.38 377.79a0.86 0.86 0 1 0 1.72 0a0.86 0.86 0 1 0 -1.72 0M179.03 341.66a0.6 0.6 0 1 0 1.2 0a0.6 0.6 0 1 0 -1.2 0M109.25 373.81a0.5 0.5 0 1 0 1 0a0.5 0.5 0 1 0 -1 0M213.65 335.79a0.91 0.91 0 1 0 1.82 0a0.91 0.91 0 1 0 -1.82 0M173.43 352.39a0.64 0.64 0 1 0 1.28 0a0.64 0.64 0 1 0 -1.28 0M186.83 339.17a0.52 0.52 0 1 0 1.05 0a0.52 0.52 0 1 0 -1.05 0" fill="#f50a0a" clip-path="url(#damc)"/>
<polygon points="100,363.3 118,365 128,366 128,375 118,381 101,383" fill="#f50a0a" fill-opacity="0.5" clip-path="url(#damc)"/>
<path d="M110.52 383.31a0.98 0.98 0 1 0 1.96 0a0.98 0.98 0 1 0 -1.96 0M131.2 381.08a0.94 0.94 0 1 0 1.88 0a0.94 0.94 0 1 0 -1.88 0M99.39 379.21a0.62 0.62 0 1 0 1.25 0a0.62 0.62 0 1 0 -1.25 0M124.79 376.97a0.78 0.78 0 1 0 1.56 0a0.78 0.78 0 1 0 -1.56 0M118.08 378.63a0.91 0.91 0 1 0 1.83 0a0.91 0.91 0 1 0 -1.83 0M133.45 375.97a0.9 0.9 0 1 0 1.81 0a0.9 0.9 0 1 0 -1.81 0M130.56 376.51a0.56 0.56 0 1 0 1.12 0a0.56 0.56 0 1 0 -1.12 0M116.65 380.79a0.76 0.76 0 1 0 1.52 0a0.76 0.76 0 1 0 -1.52 0M105.79 380.11a0.66 0.66 0 1 0 1.32 0a0.66 0.66 0 1 0 -1.32 0M130.22 373.94a0.8 0.8 0 1 0 1.59 0a0.8 0.8 0 1 0 -1.59 0M112.92 383.33a0.57 0.57 0 1 0 1.14 0a0.57 0.57 0 1 0 -1.14 0M130.12 376.8a0.69 0.69 0 1 0 1.37 0a0.69 0.69 0 1 0 -1.37 0M106.32 377.69a0.96 0.96 0 1 0 1.93 0a0.96 0.96 0 1 0 -1.93 0M134.17 382.81a0.81 0.81 0 1 0 1.61 0a0.81 0.81 0 1 0 -1.61 0M107.44 377.83a0.82 0.82 0 1 0 1.65 0a0.82 0.82 0 1 0 -1.65 0M109.82 383.35a0.54 0.54 0 1 0 1.08 0a0.54 0.54 0 1 0 -1.08 0M107.64 374.34a0.58 0.58 0 1 0 1.17 0a0.58 0.58 0 1 0 -1.17 0M101.54 374.76a0.69 0.69 0 1 0 1.37 0a0.69 0.69 0 1 0 -1.37 0M132.06 378.27a0.81 0.81 0 1 0 1.62 0a0.81 0.81 0 1 0 -1.62 0M111.4 373.96a0.78 0.78 0 1 0 1.56 0a0.78 0.78 0 1 0 -1.56 0M124.66 372.98a0.82 0.82 0 1 0 1.65 0a0.82 0.82 0 1 0 -1.65 0M106.67 379.93a0.68 0.68 0 1 0 1.36 0a0.68 0.68 0 1 0 -1.36 0M104.27 373.61a0.9 0.9 0 1 0 1.79 0a0.9 0.9 0 1 0 -1.79 0M117.96 372.98a0.95 0.95 0 1 0 1.91 0a0.95 0.95 0 1 0 -1.91 0M109.18 375.22a0.5 0.5 0 1 0 1 0a0.5 0.5 0 1 0 -1 0M109.56 378.44a0.95 0.95 0 1 0 1.9 0a0.95 0.95 0 1 0 -1.9 0M109.92 377.72a0.54 0.54 0 1 0 1.08 0a0.54 0.54 0 1 0 -1.08 0M123.35 375.45a0.69 0.69 0 1 0 1.38 0a0.69 0.69 0 1 0 -1.38 0M108.49 381.41a0.99 0.99 0 1 0 1.98 0a0.99 0.99 0 1 0 -1.98 0M104.28 377.19a0.55 0.55 0 1 0 1.11 0a0.55 0.55 0 1 0 -1.11 0M125.7 382.43a0.56 0.56 0 1 0 1.13 0a0.56 0.56 0 1 0 -1.13 0M123.17 375.5a0.73 0.73 0 1 0 1.45 0a0.73 0.73 0 1 0 -1.45 0M119.2 376.42a0.83 0.83 0 1 0 1.65 0a0.83 0.83 0 1 0 -1.65 0M110.76 377.7a0.68 0.68 0 1 0 1.36 0a0.68 0.68 0 1 0 -1.36 0M114.15 373.64a0.68 0.68 0 1 0 1.36 0a0.68 0.68 0 1 0 -1.36 0M103.17 379.14a0.71 0.71 0 1 0 1.42 0a0.71 0.71 0 1 0 -1.42 0M114.07 382.32a0.58 0.58 0 1 0 1.16 0a0.58 0.58 0 1 0 -1.16 0M117.71 379.01a0.82 0.82 0 1 0 1.63 0a0.82 0.82 0 1 0 -1.63 0M125.66 376.09a0.96 0.96 0 1 0 1.93 0a0.96 0.96 0 1 0 -1.93 0M122.57 372.86a0.8 0.8 0 1 0 1.61 0a0.8 0.8 0 1 0 -1.61 0M117.23 382.76a0.86 0.86 0 1 0 1.73 0a0.86 0.86 0 1 0 -1.73 0M122.73 379.8a0.85 0.85 0 1 0 1.71 0a0.85 0.85 0 1 0 -1.71 0M114.88 377.65a0.77 0.77 0 1 0 1.53 0a0.77 0.77 0 1 0 -1.53 0M99.99 377.87a0.71 0.71 0 1 0 1.42 0a0.71 0.71 0 1 0 -1.42 0M114.14 378.48a0.83 0.83 0 1 0 1.65 0a0.83 0.83 0 1 0 -1.65 0M113.04 378.61a0.62 0.62 0 1 0 1.24 0a0.62 0.62 0 1 0 -1.24 0M133.31 379.63a0.85 0.85 0 1 0 1.7 0a0.85 0.85 0 1 0 -1.7 0M125.25 372.31a0.59 0.59 0 1 0 1.18 0a0.59 0.59 0 1 0 -1.18 0M112.55 377.05a0.7 0.7 0 1 0 1.4 0a0.7 0.7 0 1 0 -1.4 0M117.26 379.22a0.87 0.87 0 1 0 1.75 0a0.87 0.87 0 1 0 -1.75 0M123.33 376.67a0.92 0.92 0 1 0 1.85 0a0.92 0.92 0 1 0 -1.85 0M127.89 383.05a0.51 0.51 0 1 0 1.01 0a0.51 0.51 0 1 0 -1.01 0M119.28 374a0.93 0.93 0 1 0 1.86 0a0.93 0.93 0 1 0 -1.86 0M132.4 379.69a0.66 0.66 0 1 0 1.32 0a0.66 0.66 0 1 0 -1.32 0M129.7 377.89a0.85 0.85 0 1 0 1.7 0a0.85 0.85 0 1 0 -1.7 0M105.73 373.23a0.92 0.92 0 1 0 1.84 0a0.92 0.92 0 1 0 -1.84 0M129.52 376.36a0.54 0.54 0 1 0 1.08 0a0.54 0.54 0 1 0 -1.08 0M109.81 382.47a0.61 0.61 0 1 0 1.22 0a0.61 0.61 0 1 0 -1.22 0M125.26 375.61a0.97 0.97 0 1 0 1.94 0a0.97 0.97 0 1 0 -1.94 0M111.17 382.91a0.75 0.75 0 1 0 1.51 0a0.75 0.75 0 1 0 -1.51 0" fill="#f50a0a" clip-path="url(#damc)"/>
<path d="M94.82 373.24a0.74 0.74 0 1 0 1.47 0a0.74 0.74 0 1 0 -1.47 0M125.21 373.53a0.57 0.57 0 1 0 1.13 0a0.57 0.57 0 1 0 -1.13 0M104.84 380.33a0.59 0.59 0 1 0 1.18 0a0.59 0.59 0 1 0 -1.18 0M127.75 379.28a0.58 0.58 0 1 0 1.16 0a0.58 0.58 0 1 0 -1.16 0M118.36 376.93a0.75 0.75 0 1 0 1.5 0a0.75 0.75 0 1 0 -1.5 0M139.32 373.02a0.51 0.51 0 1 0 1.02 0a0.51 0.51 0 1 0 -1.02 0M136.67 376.43a0.62 0.62 0 1 0 1.24 0a0.62 0.62 0 1 0 -1.24 0M108.79 376.01a1.07 1.07 0 1 0 2.15 0a1.07 1.07 0 1 0 -2.15 0M103.61 374.39a0.85 0.85 0 1 0 1.7 0a0.85 0.85 0 1 0 -1.7 0M118.63 382.49a1 1 0 1 0 2.01 0a1 1 0 1 0 -2.01 0M110 374.24a1 1 0 1 0 2 0a1 1 0 1 0 -2 0M138.56 372.33a0.94 0.94 0 1 0 1.88 0a0.94 0.94 0 1 0 -1.88 0M133.44 379.16a0.63 0.63 0 1 0 1.26 0a0.63 0.63 0 1 0 -1.26 0M130.23 380.03a0.62 0.62 0 1 0 1.23 0a0.62 0.62 0 1 0 -1.23 0M123.31 374.41a0.52 0.52 0 1 0 1.05 0a0.52 0.52 0 1 0 -1.05 0M109.38 375.68a0.74 0.74 0 1 0 1.48 0a0.74 0.74 0 1 0 -1.48 0M123.03 381.2a1.08 1.08 0 1 0 2.15 0a1.08 1.08 0 1 0 -2.15 0M137.97 382.93a0.97 0.97 0 1 0 1.95 0a0.97 0.97 0 1 0 -1.95 0M107.91 373.94a0.87 0.87 0 1 0 1.75 0a0.87 0.87 0 1 0 -1.75 0M119.01 379.42a0.56 0.56 0 1 0 1.11 0a0.56 0.56 0 1 0 -1.11 0M102.81 382.13a0.86 0.86 0 1 0 1.72 0a0.86 0.86 0 1 0 -1.72 0M125.55 373.05a0.74 0.74 0 1 0 1.48 0a0.74 0.74 0 1 0 -1.48 0M134.86 379.14a1.09 1.09 0 1 0 2.19 0a1.09 1.09 0 1 0 -2.19 0M102.88 377a0.98 0.98 0 1 0 1.96 0a0.98 0.98 0 1 0 -1.96 0M114.17 380.68a0.84 0.84 0 1 0 1.67 0a0.84 0.84 0 1 0 -1.67 0M99.22 373.09a1.09 1.09 0 1 0 2.18 0a1.09 1.09 0 1 0 -2.18 0M99.67 374.14a0.7 0.7 0 1 0 1.4 0a0.7 0.7 0 1 0 -1.4 0M126.32 381.39a0.79 0.79 0 1 0 1.57 0a0.79 0.79 0 1 0 -1.57 0M116.75 380.67a0.67 0.67 0 1 0 1.33 0a0.67 0.67 0 1 0 -1.33 0M110.88 378.74a0.88 0.88 0 1 0 1.76 0a0.88 0.88 0 1 0 -1.76 0M96.13 373.23a0.58 0.58 0 1 0 1.17 0a0.58 0.58 0 1 0 -1.17 0M126.55 379.62a1.08 1.08 0 1 0 2.17 0a1.08 1.08 0 1 0 -2.17 0M128.58 374.8a0.96 0.96 0 1 0 1.92 0a0.96 0.96 0 1 0 -1.92 0M138.82 375.84a0.51 0.51 0 1 0 1.01 0a0.51 0.51 0 1 0 -1.01 0M111.28 375.11a0.61 0.61 0 1 0 1.21 0a0.61 0.61 0 1 0 -1.21 0M96.01 373.37a1.02 1.02 0 1 0 2.04 0a1.02 1.02 0 1 0 -2.04 0M96.63 378.75a0.62 0.62 0 1 0 1.25 0a0.62 0.62 0 1 0 -1.25 0M103.02 381.03a0.68 0.68 0 1 0 1.36 0a0.68 0.68 0 1 0 -1.36 0M102.36 377a0.92 0.92 0 1 0 1.83 0a0.92 0.92 0 1 0 -1.83 0M117.86 381.46a0.74 0.74 0 1 0 1.48 0a0.74 0.74 0 1 0 -1.48 0M117.8 379.89a0.78 0.78 0 1 0 1.55 0a0.78 0.78 0 1 0 -1.55 0M126.69 377.14a0.58 0.58 0 1 0 1.16 0a0.58 0.58 0 1 0 -1.16 0M99.61 380.61a0.95 0.95 0 1 0 1.89 0a0.95 0.95 0 1 0 -1.89 0M136.58 379.59a0.85 0.85 0 1 0 1.7 0a0.85 0.85 0 1 0 -1.7 0M101.91 381.38a0.57 0.57 0 1 0 1.14 0a0.57 0.57 0 1 0 -1.14 0M113.39 373.55a0.73 0.73 0 1 0 1.46 0a0.73 0.73 0 1 0 -1.46 0M107.9 376.68a0.93 0.93 0 1 0 1.85 0a0.93 0.93 0 1 0 -1.85 0M118.4 374.67a0.97 0.97 0 1 0 1.93 0a0.97 0.97 0 1 0 -1.93 0M127.56 381.1a0.52 0.52 0 1 0 1.04 0a0.52 0.52 0 1 0 -1.04 0M122.01 381.85a0.66 0.66 0 1 0 1.31 0a0.66 0.66 0 1 0 -1.31 0M103.38 380.95a0.72 0.72 0 1 0 1.44 0a0.72 0.72 0 1 0 -1.44 0M112.33 380.99a0.73 0.73 0 1 0 1.46 0a0.73 0.73 0 1 0 -1.46 0M103.22 374.36a0.71 0.71 0 1 0 1.41 0a0.71 0.71 0 1 0 -1.41 0M125.44 376.05a0.96 0.96 0 1 0 1.93 0a0.96 0.96 0 1 0 -1.93 0M97.09 374.74a0.87 0.87 0 1 0 1.75 0a0.87 0.87 0 1 0 -1.75 0M115.52 377.5a1.06 1.06 0 1 0 2.12 0a1.06 1.06 0 1 0 -2.12 0M106.96 374a0.52 0.52 0 1 0 1.04 0a0.52 0.52 0 1 0 -1.04 0M115.93 375.27a0.78 0.78 0 1 0 1.57 0a0.78 0.78 0 1 0 -1.57 0M94.52 372a0.73 0.73 0 1 0 1.46 0a0.73 0.73 0 1 0 -1.46 0M128.05 375.31a1.05 1.05 0 1 0 2.1 0a1.05 1.05 0 1 0 -2.1 0M120.11 376.44a0.97 0.97 0 1 0 1.93 0a0.97 0.97 0 1 0 -1.93 0M104.49 378.66a1.01 1.01 0 1 0 2.02 0a1.01 1.01 0 1 0 -2.02 0M118.78 375.52a0.56 0.56 0 1 0 1.12 0a0.56 0.56 0 1 0 -1.12 0M120.11 374.06a0.72 0.72 0 1 0 1.45 0a0.72 0.72 0 1 0 -1.45 0M118.51 382.35a0.9 0.9 0 1 0 1.81 0a0.9 0.9 0 1 0 -1.81 0M117.68 381.44a0.69 0.69 0 1 0 1.37 0a0.69 0.69 0 1 0 -1.37 0M111.61 379.45a0.83 0.83 0 1 0 1.67 0a0.83 0.83 0 1 0 -1.67 0M103.98 376.52a0.99 0.99 0 1 0 1.99 0a0.99 0.99 0 1 0 -1.99 0M105.37 379.76a0.53 0.53 0 1 0 1.06 0a0.53 0.53 0 1 0 -1.06 0M137.26 379.52a0.69 0.69 0 1 0 1.39 0a0.69 0.69 0 1 0 -1.39 0" fill="#f50a0a" clip-path="url(#damc)"/>
<path d="M167.13 345.24a0.54 0.54 0 1 0 1.08 0a0.54 0.54 0 1 0 -1.08 0M165.53 344.51a0.91 0.91 0 1 0 1.81 0a0.91 0.91 0 1 0 -1.81 0M119.49 361.11a0.84 0.84 0 1 0 1.69 0a0.84 0.84 0 1 0 -1.69 0M121.15 361.4a0.59 0.59 0 1 0 1.18 0a0.59 0.59 0 1 0 -1.18 0M119.33 359.62a0.86 0.86 0 1 0 1.72 0a0.86 0.86 0 1 0 -1.72 0M160.69 346.33a0.77 0.77 0 1 0 1.55 0a0.77 0.77 0 1 0 -1.55 0M135.17 356.1a0.75 0.75 0 1 0 1.51 0a0.75 0.75 0 1 0 -1.51 0M150.52 348.7a0.51 0.51 0 1 0 1.02 0a0.51 0.51 0 1 0 -1.02 0M159.98 346.67a0.58 0.58 0 1 0 1.15 0a0.58 0.58 0 1 0 -1.15 0M147.84 351a0.77 0.77 0 1 0 1.54 0a0.77 0.77 0 1 0 -1.54 0M145.46 351.34a0.74 0.74 0 1 0 1.47 0a0.74 0.74 0 1 0 -1.47 0M120.16 359.87a0.75 0.75 0 1 0 1.49 0a0.75 0.75 0 1 0 -1.49 0M161.21 346.95a0.84 0.84 0 1 0 1.67 0a0.84 0.84 0 1 0 -1.67 0M122.97 358.99a0.85 0.85 0 1 0 1.71 0a0.85 0.85 0 1 0 -1.71 0M141.35 352.53a0.99 0.99 0 1 0 1.99 0a0.99 0.99 0 1 0 -1.99 0M141.05 352.76a0.97 0.97 0 1 0 1.94 0a0.97 0.97 0 1 0 -1.94 0M125.05 358.65a0.87 0.87 0 1 0 1.73 0a0.87 0.87 0 1 0 -1.73 0M130.56 357.01a0.56 0.56 0 1 0 1.12 0a0.56 0.56 0 1 0 -1.12 0M156.06 345.92a0.78 0.78 0 1 0 1.56 0a0.78 0.78 0 1 0 -1.56 0M157.52 347.84a0.57 0.57 0 1 0 1.13 0a0.57 0.57 0 1 0 -1.13 0M151.12 348.79a0.6 0.6 0 1 0 1.21 0a0.6 0.6 0 1 0 -1.21 0M119.68 359.28a0.93 0.93 0 1 0 1.85 0a0.93 0.93 0 1 0 -1.85 0M129.15 355.76a0.87 0.87 0 1 0 1.73 0a0.87 0.87 0 1 0 -1.73 0M164.8 342.8a0.8 0.8 0 1 0 1.6 0a0.8 0.8 0 1 0 -1.6 0M146.02 349.9a0.8 0.8 0 1 0 1.6 0a0.8 0.8 0 1 0 -1.6 0M148.44 351.15a0.77 0.77 0 1 0 1.55 0a0.77 0.77 0 1 0 -1.55 0M158.51 346.11a0.71 0.71 0 1 0 1.42 0a0.71 0.71 0 1 0 -1.42 0M133.31 355.84a0.94 0.94 0 1 0 1.88 0a0.94 0.94 0 1 0 -1.88 0M127.81 358.25a0.85 0.85 0 1 0 1.69 0a0.85 0.85 0 1 0 -1.69 0M120.75 359.82a0.85 0.85 0 1 0 1.7 0a0.85 0.85 0 1 0 -1.7 0M144.16 352.71a0.91 0.91 0 1 0 1.82 0a0.91 0.91 0 1 0 -1.82 0M151.11 348.54a0.96 0.96 0 1 0 1.91 0a0.96 0.96 0 1 0 -1.91 0M126.75 358.82a0.98 0.98 0 1 0 1.96 0a0.98 0.98 0 1 0 -1.96 0M154.74 347.9a0.54 0.54 0 1 0 1.09 0a0.54 0.54 0 1 0 -1.09 0M151.07 347.82a0.71 0.71 0 1 0 1.42 0a0.71 0.71 0 1 0 -1.42 0M133.31 354.05a0.72 0.72 0 1 0 1.44 0a0.72 0.72 0 1 0 -1.44 0M138.95 353.96a0.6 0.6 0 1 0 1.19 0a0.6 0.6 0 1 0 -1.19 0M137.04 355.29a0.85 0.85 0 1 0 1.71 0a0.85 0.85 0 1 0 -1.71 0M130.76 357.49a0.85 0.85 0 1 0 1.71 0a0.85 0.85 0 1 0 -1.71 0M159 345.37a0.81 0.81 0 1 0 1.61 0a0.81 0.81 0 1 0 -1.61 0M159.76 345.28a0.57 0.57 0 1 0 1.14 0a0.57 0.57 0 1 0 -1.14 0M140.37 352.41a0.8 0.8 0 1 0 1.6 0a0.8 0.8 0 1 0 -1.6 0M123.3 357.37a0.93 0.93 0 1 0 1.86 0a0.93 0.93 0 1 0 -1.86 0M168.37 345.21a0.83 0.83 0 1 0 1.65 0a0.83 0.83 0 1 0 -1.65 0M154.87 348.62a0.91 0.91 0 1 0 1.82 0a0.91 0.91 0 1 0 -1.82 0M140.1 353.79a0.66 0.66 0 1 0 1.32 0a0.66 0.66 0 1 0 -1.32 0M132.59 355.46a0.71 0.71 0 1 0 1.43 0a0.71 0.71 0 1 0 -1.43 0M131.9 356.82a0.73 0.73 0 1 0 1.46 0a0.73 0.73 0 1 0 -1.46 0M133.93 356.13a0.81 0.81 0 1 0 1.61 0a0.81 0.81 0 1 0 -1.61 0M124.96 359.13a0.51 0.51 0 1 0 1.02 0a0.51 0.51 0 1 0 -1.02 0" fill="#f50a0a" clip-path="url(#damc)"/>
<path d="M256.72 313.85a0.89 0.89 0 1 0 1.78 0a0.89 0.89 0 1 0 -1.78 0M241.61 317.97a0.87 0.87 0 1 0 1.74 0a0.87 0.87 0 1 0 -1.74 0M249.61 315.7a1.07 1.07 0 1 0 2.13 0a1.07 1.07 0 1 0 -2.13 0M252.57 314.11a0.69 0.69 0 1 0 1.37 0a0.69 0.69 0 1 0 -1.37 0M237.84 320.4a0.95 0.95 0 1 0 1.9 0a0.95 0.95 0 1 0 -1.9 0" fill="#f50a0a" clip-path="url(#damc)"/>
<path d="M245.1 329.03a0.93 0.93 0 1 0 1.86 0a0.93 0.93 0 1 0 -1.86 0M239.52 332.94a0.72 0.72 0 1 0 1.45 0a0.72 0.72 0 1 0 -1.45 0M240.02 332.43a0.53 0.53 0 1 0 1.06 0a0.53 0.53 0 1 0 -1.06 0" fill="#f50a0a" clip-path="url(#damc)"/>
<line x1="283.54" y1="305.94" x2="283.54" y2="383.7" stroke="#4a78e6" stroke-width="1.2"/>
<polyline points="448.78,383.7 483.77,371.55 489.28,370.9 495.44,371" fill="none" stroke="#4a78e6" stroke-width="1"/>
<polygon points="37.3,383.7 270.58,305.94 296.5,305.94 534.96,383.7" fill="none" stroke="#4a78e6" stroke-width="1.3"/>
<line x1="66" y1="374.13" x2="100" y2="362.8" stroke="#f50a0a" stroke-width="1.4" opacity="0.9"/>
<line x1="30" y1="383.7" x2="545.5" y2="383.7" stroke="#5a7ae6" stroke-width="1.3"/>
<line x1="30" y1="312.42" x2="251" y2="312.42" stroke="#3355ee" stroke-width="1.3" stroke-dasharray="2 1.36"/>
<line x1="30" y1="370.74" x2="76.18" y2="370.74" stroke="#8a92d6" stroke-width="1.3"/>
<line x1="505.16" y1="373.98" x2="545.5" y2="373.98" stroke="#4646a8" stroke-width="1.0"/>
<path d="M181.5 307.3H186.5L184 310.5Z" fill="none" stroke="#2a40ee" stroke-width="1.25" stroke-linejoin="miter"/>
<text x="190" y="308.6" fill="#2a40ee"><tspan font-family='"Liberation Serif", "DejaVu Serif", serif' font-size="11.4" fill="#3a4ae6">NRL </tspan><tspan font-family='"Liberation Sans", "DejaVu Sans", sans-serif' font-size="10.4" stroke="#2a40ee" stroke-width="0.25">22.0</tspan></text>
<path d="M49.9 366.6H54.9L52.4 369.8Z" fill="none" stroke="#2a40ee" stroke-width="1.25" stroke-linejoin="miter"/>
<text x="46.8" y="364.1" fill="#2a40ee"><tspan font-family='"Liberation Serif", "DejaVu Serif", serif' font-size="11.8" fill="#3a4ae6">RDL </tspan><tspan font-family='"Liberation Sans", "DejaVu Sans", sans-serif' font-size="10.6" stroke="#2a40ee" stroke-width="0.25">4.0</tspan></text>
<path d="M307.3 301.3H312.3L309.8 304.5Z" fill="none" stroke="#2a40ee" stroke-width="1.25" stroke-linejoin="miter"/><line x1="304.5" y1="305.8" x2="315.5" y2="305.8" stroke="#2a40ee" stroke-width="1"/>
<text x="316" y="301.8" fill="#2a40ee"><tspan font-family='"Liberation Sans", "DejaVu Sans", sans-serif' font-size="10.1" stroke="#2a40ee" stroke-width="0.25">24.0</tspan></text>
<path d="M521.5 369.4H526.5L524 372.6Z" fill="none" stroke="#2a40ee" stroke-width="1.25" stroke-linejoin="miter"/>
<text x="527.8" y="369.6" fill="#2a40ee"><tspan font-family='"Liberation Sans", "DejaVu Sans", sans-serif' font-size="10.1" stroke="#2a40ee" stroke-width="0.25">3.0</tspan></text>
<text x="477.2" y="303" font-family='"Liberation Serif", "DejaVu Serif", serif' font-size="11.6" fill="#3a50e0" stroke="#3a50e0" stroke-width="0.15">K<tspan font-size="6.38" dx="-0.6" dy="1.0">s</tspan><tspan dy="-1.0" dx="0.3"> = 1.137</tspan></text>
</svg>
</body></html>
